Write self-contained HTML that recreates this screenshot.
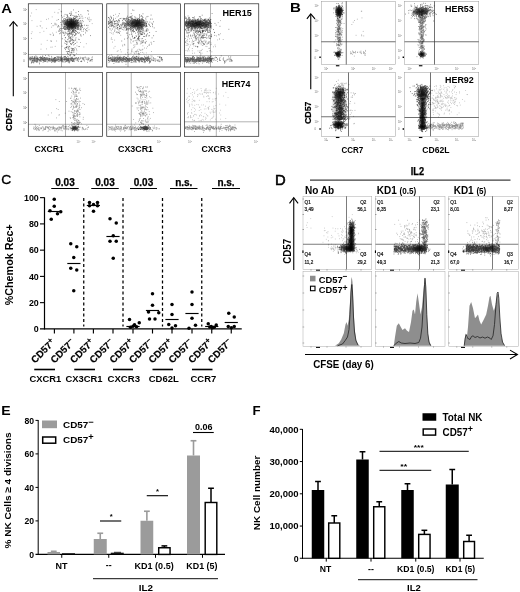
<!DOCTYPE html>
<html><head><meta charset="utf-8"><title>Figure</title>
<style>html,body{margin:0;padding:0;background:#fff}svg{display:block}text{font-family:"Liberation Sans",Arial,sans-serif}</style>
</head><body>
<svg width="520" height="592" viewBox="0 0 520 592">
<rect width="520" height="592" fill="#fff"/>
<text x="1.2" y="13.1" font-size="13.4" font-weight="bold" text-anchor="start" fill="#000" textLength="10.6" lengthAdjust="spacingAndGlyphs" >A</text>
<line x1="13.3" y1="96.3" x2="13.3" y2="22" stroke="#000" stroke-width="1.1" />
<path d="M9.5 26.4L13.3 21.5L17.5 26.4" fill="none" stroke="#000" stroke-width="1.1"/>
<text x="12.2" y="119.5" font-size="9.2" font-weight="bold" text-anchor="middle" fill="#000" textLength="23" lengthAdjust="spacingAndGlyphs" transform="rotate(-90 12.2 119.5)" stroke="#000" stroke-width="0.2">CD57</text>
<line x1="61.5" y1="3.8" x2="61.5" y2="67" stroke="#666" stroke-width="0.5" />
<line x1="28.3" y1="54.5" x2="102.5" y2="54.5" stroke="#666" stroke-width="0.5" />
<rect x="28.3" y="3.8" width="74.2" height="63.2" fill="none" stroke="#222" stroke-width="0.7"/>
<line x1="128" y1="3.8" x2="128" y2="67" stroke="#666" stroke-width="0.5" />
<line x1="106.75" y1="54.5" x2="180.6" y2="54.5" stroke="#666" stroke-width="0.5" />
<rect x="106.75" y="3.8" width="73.85" height="63.2" fill="none" stroke="#222" stroke-width="0.7"/>
<line x1="210.5" y1="3.8" x2="210.5" y2="67" stroke="#666" stroke-width="0.5" />
<line x1="184.5" y1="55.5" x2="258.75" y2="55.5" stroke="#666" stroke-width="0.5" />
<rect x="184.5" y="3.8" width="74.25" height="63.2" fill="none" stroke="#222" stroke-width="0.7"/>
<line x1="65.5" y1="72.5" x2="65.5" y2="136.3" stroke="#666" stroke-width="0.5" />
<line x1="28.3" y1="124.3" x2="102.5" y2="124.3" stroke="#666" stroke-width="0.5" />
<rect x="28.3" y="72.5" width="74.2" height="63.80000000000001" fill="none" stroke="#222" stroke-width="0.7"/>
<line x1="131.25" y1="72.5" x2="131.25" y2="136.3" stroke="#666" stroke-width="0.5" />
<line x1="106.75" y1="124.25" x2="180.6" y2="124.25" stroke="#666" stroke-width="0.5" />
<rect x="106.75" y="72.5" width="73.85" height="63.80000000000001" fill="none" stroke="#222" stroke-width="0.7"/>
<line x1="216.3" y1="72.5" x2="216.3" y2="136.3" stroke="#666" stroke-width="0.5" />
<line x1="184.5" y1="121.8" x2="258.75" y2="121.8" stroke="#666" stroke-width="0.5" />
<rect x="184.5" y="72.5" width="74.25" height="63.80000000000001" fill="none" stroke="#222" stroke-width="0.7"/>
<text x="222.5" y="15.7" font-size="9.8" font-weight="bold" text-anchor="start" fill="#000" textLength="29.3" lengthAdjust="spacingAndGlyphs" >HER15</text>
<text x="221.8" y="86.5" font-size="9.8" font-weight="bold" text-anchor="start" fill="#000" textLength="28.7" lengthAdjust="spacingAndGlyphs" >HER74</text>
<text x="34.5" y="152" font-size="9.3" font-weight="bold" text-anchor="start" fill="#000" textLength="29.3" lengthAdjust="spacingAndGlyphs" >CXCR1</text>
<text x="118" y="152" font-size="9.3" font-weight="bold" text-anchor="start" fill="#000" textLength="35" lengthAdjust="spacingAndGlyphs" >CX3CR1</text>
<text x="201.5" y="152" font-size="9.3" font-weight="bold" text-anchor="start" fill="#000" textLength="29.5" lengthAdjust="spacingAndGlyphs" >CXCR3</text>
<text x="289.9" y="12.2" font-size="13.6" font-weight="bold" text-anchor="start" fill="#000" textLength="10.9" lengthAdjust="spacingAndGlyphs" >B</text>
<line x1="310.75" y1="89.25" x2="310.75" y2="14.4" stroke="#000" stroke-width="1.1" />
<path d="M306.9 18.9L310.75 13.9L315 18.9" fill="none" stroke="#000" stroke-width="1.1"/>
<text x="311.4" y="112.75" font-size="9.2" font-weight="bold" text-anchor="middle" fill="#000" textLength="22.6" lengthAdjust="spacingAndGlyphs" transform="rotate(-90 311.4 112.75)" stroke="#000" stroke-width="0.2">CD57</text>
<rect x="321.25" y="1.25" width="74.25" height="63.25" fill="none" stroke="#999" stroke-width="0.5"/>
<line x1="346.25" y1="1.25" x2="346.25" y2="64.5" stroke="#333" stroke-width="0.7" />
<line x1="321.25" y1="41.75" x2="395.5" y2="41.75" stroke="#333" stroke-width="0.7" />
<rect x="404.5" y="1.25" width="74.25" height="63.25" fill="none" stroke="#999" stroke-width="0.5"/>
<line x1="434.5" y1="1.25" x2="434.5" y2="64.5" stroke="#333" stroke-width="0.7" />
<line x1="404.5" y1="41.75" x2="478.75" y2="41.75" stroke="#333" stroke-width="0.7" />
<rect x="321.25" y="72.5" width="74.25" height="63.75" fill="none" stroke="#999" stroke-width="0.5"/>
<line x1="348.5" y1="72.5" x2="348.5" y2="136.25" stroke="#333" stroke-width="0.7" />
<line x1="321.25" y1="116.75" x2="395.5" y2="116.75" stroke="#333" stroke-width="0.7" />
<rect x="404.5" y="72.5" width="74.25" height="63.75" fill="none" stroke="#999" stroke-width="0.5"/>
<line x1="430.5" y1="72.5" x2="430.5" y2="136.25" stroke="#333" stroke-width="0.7" />
<line x1="404.5" y1="117.5" x2="478.75" y2="117.5" stroke="#333" stroke-width="0.7" />
<rect x="335.90000000000003" y="65.2" width="3.5" height="1.1" fill="#000" stroke="none" stroke-width="0"/>
<rect x="319.35" y="56.5" width="1.4" height="1.5" fill="#000" stroke="none" stroke-width="0"/>
<text x="314.6" y="7.2" font-size="2.6" fill="#666" font-weight="normal">10<tspan dy="-0.9" font-size="1.8">5</tspan></text>
<text x="314.6" y="21.8" font-size="2.6" fill="#666" font-weight="normal">10<tspan dy="-0.9" font-size="1.8">4</tspan></text>
<text x="314.6" y="36.8" font-size="2.6" fill="#666" font-weight="normal">10<tspan dy="-0.9" font-size="1.8">3</tspan></text>
<text x="314.6" y="51.8" font-size="2.6" fill="#666" font-weight="normal">10<tspan dy="-0.9" font-size="1.8">2</tspan></text>
<text x="314.6" y="58.9" font-size="2.6" fill="#666" font-weight="normal">0<tspan dy="-0.9" font-size="1.8"></tspan></text>
<text x="324.2" y="69.7" font-size="2.6" fill="#666" font-weight="normal">10<tspan dy="-0.9" font-size="1.8">2</tspan></text>
<text x="351.2" y="69.7" font-size="2.6" fill="#666" font-weight="normal">10<tspan dy="-0.9" font-size="1.8">3</tspan></text>
<text x="371.8" y="69.7" font-size="2.6" fill="#666" font-weight="normal">10<tspan dy="-0.9" font-size="1.8">4</tspan></text>
<text x="388.8" y="69.7" font-size="2.6" fill="#666" font-weight="normal">10<tspan dy="-0.9" font-size="1.8">5</tspan></text>
<rect x="418.90000000000003" y="65.2" width="3.5" height="1.1" fill="#000" stroke="none" stroke-width="0"/>
<rect x="402.6" y="56.5" width="1.4" height="1.5" fill="#000" stroke="none" stroke-width="0"/>
<text x="397.9" y="7.2" font-size="2.6" fill="#666" font-weight="normal">10<tspan dy="-0.9" font-size="1.8">5</tspan></text>
<text x="397.9" y="21.8" font-size="2.6" fill="#666" font-weight="normal">10<tspan dy="-0.9" font-size="1.8">4</tspan></text>
<text x="397.9" y="36.8" font-size="2.6" fill="#666" font-weight="normal">10<tspan dy="-0.9" font-size="1.8">3</tspan></text>
<text x="397.9" y="51.8" font-size="2.6" fill="#666" font-weight="normal">10<tspan dy="-0.9" font-size="1.8">2</tspan></text>
<text x="397.9" y="58.9" font-size="2.6" fill="#666" font-weight="normal">0<tspan dy="-0.9" font-size="1.8"></tspan></text>
<text x="407.5" y="69.7" font-size="2.6" fill="#666" font-weight="normal">10<tspan dy="-0.9" font-size="1.8">2</tspan></text>
<text x="434.5" y="69.7" font-size="2.6" fill="#666" font-weight="normal">10<tspan dy="-0.9" font-size="1.8">3</tspan></text>
<text x="455.0" y="69.7" font-size="2.6" fill="#666" font-weight="normal">10<tspan dy="-0.9" font-size="1.8">4</tspan></text>
<text x="472.0" y="69.7" font-size="2.6" fill="#666" font-weight="normal">10<tspan dy="-0.9" font-size="1.8">5</tspan></text>
<rect x="335.90000000000003" y="136.95" width="3.5" height="1.1" fill="#000" stroke="none" stroke-width="0"/>
<rect x="319.35" y="128.25" width="1.4" height="1.5" fill="#000" stroke="none" stroke-width="0"/>
<text x="314.6" y="78.5" font-size="2.6" fill="#666" font-weight="normal">10<tspan dy="-0.9" font-size="1.8">5</tspan></text>
<text x="314.6" y="93.0" font-size="2.6" fill="#666" font-weight="normal">10<tspan dy="-0.9" font-size="1.8">4</tspan></text>
<text x="314.6" y="108.0" font-size="2.6" fill="#666" font-weight="normal">10<tspan dy="-0.9" font-size="1.8">3</tspan></text>
<text x="314.6" y="123.0" font-size="2.6" fill="#666" font-weight="normal">10<tspan dy="-0.9" font-size="1.8">2</tspan></text>
<text x="314.6" y="130.1" font-size="2.6" fill="#666" font-weight="normal">0<tspan dy="-0.9" font-size="1.8"></tspan></text>
<text x="324.2" y="141.4" font-size="2.6" fill="#666" font-weight="normal">10<tspan dy="-0.9" font-size="1.8">2</tspan></text>
<text x="351.2" y="141.4" font-size="2.6" fill="#666" font-weight="normal">10<tspan dy="-0.9" font-size="1.8">3</tspan></text>
<text x="371.8" y="141.4" font-size="2.6" fill="#666" font-weight="normal">10<tspan dy="-0.9" font-size="1.8">4</tspan></text>
<text x="388.8" y="141.4" font-size="2.6" fill="#666" font-weight="normal">10<tspan dy="-0.9" font-size="1.8">5</tspan></text>
<rect x="418.90000000000003" y="136.95" width="3.5" height="1.1" fill="#000" stroke="none" stroke-width="0"/>
<rect x="402.6" y="128.25" width="1.4" height="1.5" fill="#000" stroke="none" stroke-width="0"/>
<text x="397.9" y="78.5" font-size="2.6" fill="#666" font-weight="normal">10<tspan dy="-0.9" font-size="1.8">5</tspan></text>
<text x="397.9" y="93.0" font-size="2.6" fill="#666" font-weight="normal">10<tspan dy="-0.9" font-size="1.8">4</tspan></text>
<text x="397.9" y="108.0" font-size="2.6" fill="#666" font-weight="normal">10<tspan dy="-0.9" font-size="1.8">3</tspan></text>
<text x="397.9" y="123.0" font-size="2.6" fill="#666" font-weight="normal">10<tspan dy="-0.9" font-size="1.8">2</tspan></text>
<text x="397.9" y="130.1" font-size="2.6" fill="#666" font-weight="normal">0<tspan dy="-0.9" font-size="1.8"></tspan></text>
<text x="407.5" y="141.4" font-size="2.6" fill="#666" font-weight="normal">10<tspan dy="-0.9" font-size="1.8">2</tspan></text>
<text x="434.5" y="141.4" font-size="2.6" fill="#666" font-weight="normal">10<tspan dy="-0.9" font-size="1.8">3</tspan></text>
<text x="455.0" y="141.4" font-size="2.6" fill="#666" font-weight="normal">10<tspan dy="-0.9" font-size="1.8">4</tspan></text>
<text x="472.0" y="141.4" font-size="2.6" fill="#666" font-weight="normal">10<tspan dy="-0.9" font-size="1.8">5</tspan></text>
<text x="445" y="11.8" font-size="9.8" font-weight="bold" text-anchor="start" fill="#000" textLength="28.75" lengthAdjust="spacingAndGlyphs" >HER53</text>
<text x="445" y="83.3" font-size="9.8" font-weight="bold" text-anchor="start" fill="#000" textLength="28.75" lengthAdjust="spacingAndGlyphs" >HER92</text>
<text x="341.5" y="153.2" font-size="9.3" font-weight="bold" text-anchor="start" fill="#000" textLength="21.8" lengthAdjust="spacingAndGlyphs" >CCR7</text>
<text x="422.3" y="153.2" font-size="9.3" font-weight="bold" text-anchor="start" fill="#000" textLength="27.2" lengthAdjust="spacingAndGlyphs" >CD62L</text>
<text x="1.25" y="184" font-size="13.5" font-weight="normal" text-anchor="start" fill="#000" textLength="10" lengthAdjust="spacingAndGlyphs" stroke="#000" stroke-width="0.35">C</text>
<line x1="44.5" y1="197.4" x2="44.5" y2="329.5" stroke="#000" stroke-width="1.2" />
<line x1="40" y1="328.9" x2="241.75" y2="328.9" stroke="#000" stroke-width="1.2" />
<line x1="40" y1="302.65" x2="44.6" y2="302.65" stroke="#000" stroke-width="1.1" />
<line x1="40" y1="276.4" x2="44.6" y2="276.4" stroke="#000" stroke-width="1.1" />
<line x1="40" y1="250.14999999999998" x2="44.6" y2="250.14999999999998" stroke="#000" stroke-width="1.1" />
<line x1="40" y1="223.89999999999998" x2="44.6" y2="223.89999999999998" stroke="#000" stroke-width="1.1" />
<line x1="40" y1="197.64999999999998" x2="44.6" y2="197.64999999999998" stroke="#000" stroke-width="1.1" />
<text x="38.8" y="332.09999999999997" font-size="8.9" font-weight="bold" text-anchor="end" fill="#000" >0</text>
<text x="38.8" y="305.84999999999997" font-size="8.9" font-weight="bold" text-anchor="end" fill="#000" >20</text>
<text x="38.8" y="279.59999999999997" font-size="8.9" font-weight="bold" text-anchor="end" fill="#000" >40</text>
<text x="38.8" y="253.34999999999997" font-size="8.9" font-weight="bold" text-anchor="end" fill="#000" >60</text>
<text x="38.8" y="227.09999999999997" font-size="8.9" font-weight="bold" text-anchor="end" fill="#000" >80</text>
<text x="38.8" y="200.84999999999997" font-size="8.9" font-weight="bold" text-anchor="end" fill="#000" >100</text>
<text x="12.6" y="264.8" font-size="10.7" font-weight="bold" text-anchor="middle" fill="#000" textLength="81" lengthAdjust="spacingAndGlyphs" transform="rotate(-90 12.6 264.8)" >%Chemok Rec+</text>
<line x1="54.4" y1="328.9" x2="54.4" y2="333.5" stroke="#000" stroke-width="1.15" />
<line x1="73.9" y1="328.9" x2="73.9" y2="333.5" stroke="#000" stroke-width="1.15" />
<line x1="93.4" y1="328.9" x2="93.4" y2="333.5" stroke="#000" stroke-width="1.15" />
<line x1="113" y1="328.9" x2="113" y2="333.5" stroke="#000" stroke-width="1.15" />
<line x1="133" y1="328.9" x2="133" y2="333.5" stroke="#000" stroke-width="1.15" />
<line x1="152.5" y1="328.9" x2="152.5" y2="333.5" stroke="#000" stroke-width="1.15" />
<line x1="172" y1="328.9" x2="172" y2="333.5" stroke="#000" stroke-width="1.15" />
<line x1="192" y1="328.9" x2="192" y2="333.5" stroke="#000" stroke-width="1.15" />
<line x1="211.75" y1="328.9" x2="211.75" y2="333.5" stroke="#000" stroke-width="1.15" />
<line x1="231.25" y1="328.9" x2="231.25" y2="333.5" stroke="#000" stroke-width="1.15" />
<line x1="83.75" y1="198" x2="83.75" y2="326.5" stroke="#000" stroke-width="1.25" stroke-dasharray="3 2.5"/>
<line x1="123" y1="198" x2="123" y2="326.5" stroke="#000" stroke-width="1.25" stroke-dasharray="3 2.5"/>
<line x1="162.5" y1="198" x2="162.5" y2="326.5" stroke="#000" stroke-width="1.25" stroke-dasharray="3 2.5"/>
<line x1="201.75" y1="198" x2="201.75" y2="326.5" stroke="#000" stroke-width="1.25" stroke-dasharray="3 2.5"/>
<line x1="51.25" y1="188.5" x2="78.75" y2="188.5" stroke="#000" stroke-width="1.05" />
<text x="65.0" y="185.75" font-size="10" font-weight="bold" text-anchor="middle" fill="#000" stroke="#000" stroke-width="0.25">0.03</text>
<line x1="91.25" y1="188.5" x2="118.75" y2="188.5" stroke="#000" stroke-width="1.05" />
<text x="105.0" y="185.75" font-size="10" font-weight="bold" text-anchor="middle" fill="#000" stroke="#000" stroke-width="0.25">0.03</text>
<line x1="130" y1="188.5" x2="157" y2="188.5" stroke="#000" stroke-width="1.05" />
<text x="143.5" y="185.75" font-size="10" font-weight="bold" text-anchor="middle" fill="#000" stroke="#000" stroke-width="0.25">0.03</text>
<line x1="170" y1="188.5" x2="197.5" y2="188.5" stroke="#000" stroke-width="1.05" />
<text x="183.75" y="185.75" font-size="10" font-weight="bold" text-anchor="middle" fill="#000" stroke="#000" stroke-width="0.25">n.s.</text>
<line x1="212" y1="188.5" x2="240" y2="188.5" stroke="#000" stroke-width="1.05" />
<text x="226.0" y="185.75" font-size="10" font-weight="bold" text-anchor="middle" fill="#000" stroke="#000" stroke-width="0.25">n.s.</text>
<circle cx="54.25" cy="199.25" r="1.75"/>
<circle cx="54.25" cy="206.25" r="1.75"/>
<circle cx="50" cy="210.75" r="1.75"/>
<circle cx="60.75" cy="211.75" r="1.75"/>
<circle cx="57.5" cy="213.75" r="1.75"/>
<circle cx="51.25" cy="219.25" r="1.75"/>
<line x1="47.8" y1="211.5" x2="61.0" y2="211.5" stroke="#000" stroke-width="1.15" />
<circle cx="70.75" cy="243.75" r="1.75"/>
<circle cx="76.75" cy="246.75" r="1.75"/>
<circle cx="73.75" cy="257.5" r="1.75"/>
<circle cx="70.75" cy="268.25" r="1.75"/>
<circle cx="76.75" cy="270" r="1.75"/>
<circle cx="73.75" cy="290.75" r="1.75"/>
<line x1="67.30000000000001" y1="263.5" x2="80.5" y2="263.5" stroke="#000" stroke-width="1.15" />
<circle cx="89.5" cy="202.5" r="1.75"/>
<circle cx="97.5" cy="202.5" r="1.75"/>
<circle cx="89.5" cy="205.75" r="1.75"/>
<circle cx="97.5" cy="205.75" r="1.75"/>
<circle cx="93.5" cy="204.5" r="1.75"/>
<circle cx="93.5" cy="211.25" r="1.75"/>
<line x1="86.80000000000001" y1="205.5" x2="100.0" y2="205.5" stroke="#000" stroke-width="1.15" />
<circle cx="110" cy="218.75" r="1.75"/>
<circle cx="116.25" cy="223" r="1.75"/>
<circle cx="113.25" cy="235.75" r="1.75"/>
<circle cx="110" cy="241.25" r="1.75"/>
<circle cx="116.25" cy="241.25" r="1.75"/>
<circle cx="113.25" cy="258.25" r="1.75"/>
<line x1="106.4" y1="236.5" x2="119.6" y2="236.5" stroke="#000" stroke-width="1.15" />
<circle cx="129.5" cy="319.5" r="1.75"/>
<circle cx="139.25" cy="322.75" r="1.75"/>
<circle cx="133" cy="326.3" r="1.75"/>
<circle cx="136.5" cy="326.8" r="1.75"/>
<circle cx="130.5" cy="327.3" r="1.75"/>
<circle cx="134.5" cy="324.8" r="1.75"/>
<line x1="126.4" y1="326.5" x2="139.6" y2="326.5" stroke="#000" stroke-width="1.15" />
<circle cx="152.5" cy="293.75" r="1.75"/>
<circle cx="152.5" cy="305.25" r="1.75"/>
<circle cx="158.75" cy="312.75" r="1.75"/>
<circle cx="149.5" cy="319" r="1.75"/>
<circle cx="155" cy="319" r="1.75"/>
<circle cx="148.5" cy="312" r="1.75"/>
<line x1="145.9" y1="310.5" x2="159.1" y2="310.5" stroke="#000" stroke-width="1.15" />
<circle cx="172" cy="304.5" r="1.75"/>
<circle cx="172" cy="314.5" r="1.75"/>
<circle cx="168.75" cy="324.5" r="1.75"/>
<circle cx="175.5" cy="325.75" r="1.75"/>
<circle cx="172" cy="328" r="1.75"/>
<line x1="165.4" y1="319.5" x2="178.6" y2="319.5" stroke="#000" stroke-width="1.15" />
<circle cx="192" cy="292" r="1.75"/>
<circle cx="192" cy="304.5" r="1.75"/>
<circle cx="192" cy="318.25" r="1.75"/>
<circle cx="195.5" cy="325.25" r="1.75"/>
<circle cx="189" cy="328.25" r="1.75"/>
<line x1="185.4" y1="313.5" x2="198.6" y2="313.5" stroke="#000" stroke-width="1.15" />
<circle cx="208.25" cy="323.75" r="1.75"/>
<circle cx="216.25" cy="325" r="1.75"/>
<circle cx="211.25" cy="326.5" r="1.75"/>
<circle cx="212.5" cy="327.7" r="1.75"/>
<circle cx="209.8" cy="327" r="1.75"/>
<circle cx="214.2" cy="327.3" r="1.75"/>
<line x1="205.15" y1="326.5" x2="218.35" y2="326.5" stroke="#000" stroke-width="1.15" />
<circle cx="228.75" cy="313.25" r="1.75"/>
<circle cx="234.25" cy="317" r="1.75"/>
<circle cx="228.25" cy="326.5" r="1.75"/>
<circle cx="234.25" cy="326.5" r="1.75"/>
<circle cx="231.3" cy="327.8" r="1.75"/>
<line x1="224.65" y1="322.5" x2="237.85" y2="322.5" stroke="#000" stroke-width="1.15" />
<text x="55.8" y="342.9" font-size="9.7" font-weight="bold" stroke="#000" stroke-width="0.15" text-anchor="end" transform="rotate(-45 55.8 342.9)">CD57<tspan dy="-3" font-size="8">+</tspan></text>
<text x="75.30000000000001" y="342.9" font-size="9.7" font-weight="bold" stroke="#000" stroke-width="0.15" text-anchor="end" transform="rotate(-45 75.30000000000001 342.9)">CD57<tspan dy="-3" font-size="8">−</tspan></text>
<text x="94.80000000000001" y="342.9" font-size="9.7" font-weight="bold" stroke="#000" stroke-width="0.15" text-anchor="end" transform="rotate(-45 94.80000000000001 342.9)">CD57<tspan dy="-3" font-size="8">+</tspan></text>
<text x="114.4" y="342.9" font-size="9.7" font-weight="bold" stroke="#000" stroke-width="0.15" text-anchor="end" transform="rotate(-45 114.4 342.9)">CD57<tspan dy="-3" font-size="8">−</tspan></text>
<text x="134.4" y="342.9" font-size="9.7" font-weight="bold" stroke="#000" stroke-width="0.15" text-anchor="end" transform="rotate(-45 134.4 342.9)">CD57<tspan dy="-3" font-size="8">+</tspan></text>
<text x="153.9" y="342.9" font-size="9.7" font-weight="bold" stroke="#000" stroke-width="0.15" text-anchor="end" transform="rotate(-45 153.9 342.9)">CD57<tspan dy="-3" font-size="8">−</tspan></text>
<text x="173.4" y="342.9" font-size="9.7" font-weight="bold" stroke="#000" stroke-width="0.15" text-anchor="end" transform="rotate(-45 173.4 342.9)">CD57<tspan dy="-3" font-size="8">+</tspan></text>
<text x="193.4" y="342.9" font-size="9.7" font-weight="bold" stroke="#000" stroke-width="0.15" text-anchor="end" transform="rotate(-45 193.4 342.9)">CD57<tspan dy="-3" font-size="8">−</tspan></text>
<text x="213.15" y="342.9" font-size="9.7" font-weight="bold" stroke="#000" stroke-width="0.15" text-anchor="end" transform="rotate(-45 213.15 342.9)">CD57<tspan dy="-3" font-size="8">+</tspan></text>
<text x="232.65" y="342.9" font-size="9.7" font-weight="bold" stroke="#000" stroke-width="0.15" text-anchor="end" transform="rotate(-45 232.65 342.9)">CD57<tspan dy="-3" font-size="8">−</tspan></text>
<line x1="34.25" y1="369.5" x2="55" y2="369.5" stroke="#000" stroke-width="1.6" />
<text x="29.5" y="382.3" font-size="9.7" font-weight="bold" text-anchor="start" fill="#000" textLength="31.75" lengthAdjust="spacingAndGlyphs" >CXCR1</text>
<line x1="74.25" y1="369.5" x2="95" y2="369.5" stroke="#000" stroke-width="1.6" />
<text x="65.5" y="382.3" font-size="9.7" font-weight="bold" text-anchor="start" fill="#000" textLength="37.0" lengthAdjust="spacingAndGlyphs" >CX3CR1</text>
<line x1="113" y1="369.5" x2="133" y2="369.5" stroke="#000" stroke-width="1.6" />
<text x="107.5" y="382.3" font-size="9.7" font-weight="bold" text-anchor="start" fill="#000" textLength="32.5" lengthAdjust="spacingAndGlyphs" >CXCR3</text>
<line x1="152.5" y1="369.5" x2="173" y2="369.5" stroke="#000" stroke-width="1.6" />
<text x="148.75" y="382.3" font-size="9.7" font-weight="bold" text-anchor="start" fill="#000" textLength="30.0" lengthAdjust="spacingAndGlyphs" >CD62L</text>
<line x1="192" y1="369.5" x2="212.5" y2="369.5" stroke="#000" stroke-width="1.6" />
<text x="190.5" y="382.3" font-size="9.7" font-weight="bold" text-anchor="start" fill="#000" textLength="25.75" lengthAdjust="spacingAndGlyphs" >CCR7</text>
<text x="275" y="185" font-size="14.4" font-weight="normal" text-anchor="start" fill="#000" textLength="10.7" lengthAdjust="spacingAndGlyphs" stroke="#000" stroke-width="0.55">D</text>
<text x="410.8" y="175.1" font-size="10.4" font-weight="bold" text-anchor="start" fill="#000" textLength="13.4" lengthAdjust="spacingAndGlyphs" stroke="#000" stroke-width="0.25">IL2</text>
<line x1="310" y1="180.1" x2="510.5" y2="180.1" stroke="#000" stroke-width="0.95" />
<text x="305" y="193.75" font-size="10.6" font-weight="bold" text-anchor="start" fill="#000" textLength="29.25" lengthAdjust="spacingAndGlyphs" >No Ab</text>
<text x="376.75" y="193.75" font-size="10.4" font-weight="bold" textLength="39.5" lengthAdjust="spacingAndGlyphs">KD1 <tspan font-size="8.4">(0.5)</tspan></text>
<text x="453.75" y="193.75" font-size="10.4" font-weight="bold" textLength="32.5" lengthAdjust="spacingAndGlyphs">KD1 <tspan font-size="8.4">(5)</tspan></text>
<line x1="293.75" y1="270" x2="293.75" y2="198.2" stroke="#000" stroke-width="1.1" />
<path d="M289.5 203.3L293.75 197.7L298.1 203.3" fill="none" stroke="#000" stroke-width="1.1"/>
<text x="291.25" y="251.25" font-size="10" font-weight="bold" text-anchor="middle" fill="#000" textLength="25" lengthAdjust="spacingAndGlyphs" transform="rotate(-90 291.25 251.25)" >CD57</text>
<rect x="303" y="196.25" width="68.75" height="73" fill="none" stroke="#aaa" stroke-width="0.5"/>
<line x1="346.5" y1="196.25" x2="346.5" y2="269.25" stroke="#444" stroke-width="0.7" />
<line x1="303" y1="244.25" x2="371.75" y2="244.25" stroke="#444" stroke-width="0.7" />
<rect x="303" y="271.6" width="68.75" height="74.9" fill="none" stroke="#aaa" stroke-width="0.5"/>
<rect x="375.5" y="196.25" width="69.5" height="73" fill="none" stroke="#aaa" stroke-width="0.5"/>
<line x1="419.5" y1="196.25" x2="419.5" y2="269.25" stroke="#444" stroke-width="0.7" />
<line x1="375.5" y1="244.25" x2="445" y2="244.25" stroke="#444" stroke-width="0.7" />
<rect x="375.5" y="271.6" width="69.5" height="74.9" fill="none" stroke="#aaa" stroke-width="0.5"/>
<rect x="448.75" y="196.25" width="69.5" height="73" fill="none" stroke="#aaa" stroke-width="0.5"/>
<line x1="492.5" y1="196.25" x2="492.5" y2="269.25" stroke="#444" stroke-width="0.7" />
<line x1="448.75" y1="244.25" x2="518.25" y2="244.25" stroke="#444" stroke-width="0.7" />
<rect x="448.75" y="271.6" width="69.5" height="74.9" fill="none" stroke="#aaa" stroke-width="0.5"/>
<rect x="316" y="269.7" width="4" height="1.0" fill="#000" stroke="none" stroke-width="0"/>
<rect x="302.4" y="250.4" width="1.1" height="2.6" fill="#000" stroke="none" stroke-width="0"/>
<rect x="316" y="346.9" width="4" height="1.0" fill="#000" stroke="none" stroke-width="0"/>
<line x1="302.5" y1="199" x2="304" y2="199" stroke="#555" stroke-width="0.5" />
<line x1="302.5" y1="214.5" x2="304" y2="214.5" stroke="#555" stroke-width="0.5" />
<line x1="302.5" y1="229.5" x2="304" y2="229.5" stroke="#555" stroke-width="0.5" />
<line x1="302.6" y1="276" x2="304.2" y2="276" stroke="#666" stroke-width="0.5" />
<line x1="302.6" y1="293" x2="304.2" y2="293" stroke="#666" stroke-width="0.5" />
<line x1="302.6" y1="310" x2="304.2" y2="310" stroke="#666" stroke-width="0.5" />
<line x1="302.6" y1="327" x2="304.2" y2="327" stroke="#666" stroke-width="0.5" />
<line x1="302.6" y1="343" x2="304.2" y2="343" stroke="#666" stroke-width="0.5" />
<line x1="311" y1="269.3" x2="311" y2="270.6" stroke="#555" stroke-width="0.5" />
<line x1="311" y1="346.4" x2="311" y2="347.6" stroke="#666" stroke-width="0.5" />
<line x1="327" y1="269.3" x2="327" y2="270.6" stroke="#555" stroke-width="0.5" />
<line x1="327" y1="346.4" x2="327" y2="347.6" stroke="#666" stroke-width="0.5" />
<line x1="346" y1="269.3" x2="346" y2="270.6" stroke="#555" stroke-width="0.5" />
<line x1="346" y1="346.4" x2="346" y2="347.6" stroke="#666" stroke-width="0.5" />
<line x1="361" y1="269.3" x2="361" y2="270.6" stroke="#555" stroke-width="0.5" />
<line x1="361" y1="346.4" x2="361" y2="347.6" stroke="#666" stroke-width="0.5" />
<rect x="390" y="269.7" width="4" height="1.0" fill="#000" stroke="none" stroke-width="0"/>
<rect x="374.9" y="250.4" width="1.1" height="2.6" fill="#000" stroke="none" stroke-width="0"/>
<rect x="390" y="346.9" width="4" height="1.0" fill="#000" stroke="none" stroke-width="0"/>
<line x1="375.0" y1="199" x2="376.5" y2="199" stroke="#555" stroke-width="0.5" />
<line x1="375.0" y1="214.5" x2="376.5" y2="214.5" stroke="#555" stroke-width="0.5" />
<line x1="375.0" y1="229.5" x2="376.5" y2="229.5" stroke="#555" stroke-width="0.5" />
<line x1="375.1" y1="276" x2="376.7" y2="276" stroke="#666" stroke-width="0.5" />
<line x1="375.1" y1="293" x2="376.7" y2="293" stroke="#666" stroke-width="0.5" />
<line x1="375.1" y1="310" x2="376.7" y2="310" stroke="#666" stroke-width="0.5" />
<line x1="375.1" y1="327" x2="376.7" y2="327" stroke="#666" stroke-width="0.5" />
<line x1="375.1" y1="343" x2="376.7" y2="343" stroke="#666" stroke-width="0.5" />
<line x1="383.5" y1="269.3" x2="383.5" y2="270.6" stroke="#555" stroke-width="0.5" />
<line x1="383.5" y1="346.4" x2="383.5" y2="347.6" stroke="#666" stroke-width="0.5" />
<line x1="399.5" y1="269.3" x2="399.5" y2="270.6" stroke="#555" stroke-width="0.5" />
<line x1="399.5" y1="346.4" x2="399.5" y2="347.6" stroke="#666" stroke-width="0.5" />
<line x1="418.5" y1="269.3" x2="418.5" y2="270.6" stroke="#555" stroke-width="0.5" />
<line x1="418.5" y1="346.4" x2="418.5" y2="347.6" stroke="#666" stroke-width="0.5" />
<line x1="433.5" y1="269.3" x2="433.5" y2="270.6" stroke="#555" stroke-width="0.5" />
<line x1="433.5" y1="346.4" x2="433.5" y2="347.6" stroke="#666" stroke-width="0.5" />
<rect x="461" y="269.7" width="4" height="1.0" fill="#000" stroke="none" stroke-width="0"/>
<rect x="448.15" y="250.4" width="1.1" height="2.6" fill="#000" stroke="none" stroke-width="0"/>
<rect x="461" y="346.9" width="4" height="1.0" fill="#000" stroke="none" stroke-width="0"/>
<line x1="448.25" y1="199" x2="449.75" y2="199" stroke="#555" stroke-width="0.5" />
<line x1="448.25" y1="214.5" x2="449.75" y2="214.5" stroke="#555" stroke-width="0.5" />
<line x1="448.25" y1="229.5" x2="449.75" y2="229.5" stroke="#555" stroke-width="0.5" />
<line x1="448.35" y1="276" x2="449.95" y2="276" stroke="#666" stroke-width="0.5" />
<line x1="448.35" y1="293" x2="449.95" y2="293" stroke="#666" stroke-width="0.5" />
<line x1="448.35" y1="310" x2="449.95" y2="310" stroke="#666" stroke-width="0.5" />
<line x1="448.35" y1="327" x2="449.95" y2="327" stroke="#666" stroke-width="0.5" />
<line x1="448.35" y1="343" x2="449.95" y2="343" stroke="#666" stroke-width="0.5" />
<line x1="456.75" y1="269.3" x2="456.75" y2="270.6" stroke="#555" stroke-width="0.5" />
<line x1="456.75" y1="346.4" x2="456.75" y2="347.6" stroke="#666" stroke-width="0.5" />
<line x1="472.75" y1="269.3" x2="472.75" y2="270.6" stroke="#555" stroke-width="0.5" />
<line x1="472.75" y1="346.4" x2="472.75" y2="347.6" stroke="#666" stroke-width="0.5" />
<line x1="491.75" y1="269.3" x2="491.75" y2="270.6" stroke="#555" stroke-width="0.5" />
<line x1="491.75" y1="346.4" x2="491.75" y2="347.6" stroke="#666" stroke-width="0.5" />
<line x1="506.75" y1="269.3" x2="506.75" y2="270.6" stroke="#555" stroke-width="0.5" />
<line x1="506.75" y1="346.4" x2="506.75" y2="347.6" stroke="#666" stroke-width="0.5" />
<text x="304.6" y="203.5" font-size="4.6" font-weight="normal" text-anchor="start" fill="#111" stroke="#111" stroke-width="0.2">Q1</text>
<text x="304.6" y="210.7" font-size="4.6" font-weight="normal" text-anchor="start" fill="#111" stroke="#111" stroke-width="0.2">3,49</text>
<text x="366.35" y="203.5" font-size="4.6" font-weight="normal" text-anchor="end" fill="#111" stroke="#111" stroke-width="0.2">Q2</text>
<text x="366.35" y="210.7" font-size="4.6" font-weight="normal" text-anchor="end" fill="#111" stroke="#111" stroke-width="0.2">56,1</text>
<text x="304.6" y="256.4" font-size="4.6" font-weight="normal" text-anchor="start" fill="#111" stroke="#111" stroke-width="0.2">Q4</text>
<text x="304.6" y="263.59999999999997" font-size="4.6" font-weight="normal" text-anchor="start" fill="#111" stroke="#111" stroke-width="0.2">11,2</text>
<text x="366.35" y="256.4" font-size="4.6" font-weight="normal" text-anchor="end" fill="#111" stroke="#111" stroke-width="0.2">Q3</text>
<text x="366.35" y="263.59999999999997" font-size="4.6" font-weight="normal" text-anchor="end" fill="#111" stroke="#111" stroke-width="0.2">29,2</text>
<text x="377.1" y="203.5" font-size="4.6" font-weight="normal" text-anchor="start" fill="#111" stroke="#111" stroke-width="0.2">Q1</text>
<text x="377.1" y="210.7" font-size="4.6" font-weight="normal" text-anchor="start" fill="#111" stroke="#111" stroke-width="0.2">6,35</text>
<text x="439.6" y="203.5" font-size="4.6" font-weight="normal" text-anchor="end" fill="#111" stroke="#111" stroke-width="0.2">Q2</text>
<text x="439.6" y="210.7" font-size="4.6" font-weight="normal" text-anchor="end" fill="#111" stroke="#111" stroke-width="0.2">23,1</text>
<text x="377.1" y="256.4" font-size="4.6" font-weight="normal" text-anchor="start" fill="#111" stroke="#111" stroke-width="0.2">Q4</text>
<text x="377.1" y="263.59999999999997" font-size="4.6" font-weight="normal" text-anchor="start" fill="#111" stroke="#111" stroke-width="0.2">49,3</text>
<text x="439.6" y="256.4" font-size="4.6" font-weight="normal" text-anchor="end" fill="#111" stroke="#111" stroke-width="0.2">Q3</text>
<text x="439.6" y="263.59999999999997" font-size="4.6" font-weight="normal" text-anchor="end" fill="#111" stroke="#111" stroke-width="0.2">21,3</text>
<text x="450.35" y="203.5" font-size="4.6" font-weight="normal" text-anchor="start" fill="#111" stroke="#111" stroke-width="0.2">Q1</text>
<text x="450.35" y="210.7" font-size="4.6" font-weight="normal" text-anchor="start" fill="#111" stroke="#111" stroke-width="0.2">8,01</text>
<text x="512.85" y="203.5" font-size="4.6" font-weight="normal" text-anchor="end" fill="#111" stroke="#111" stroke-width="0.2">Q2</text>
<text x="512.85" y="210.7" font-size="4.6" font-weight="normal" text-anchor="end" fill="#111" stroke="#111" stroke-width="0.2">8,27</text>
<text x="450.35" y="256.4" font-size="4.6" font-weight="normal" text-anchor="start" fill="#111" stroke="#111" stroke-width="0.2">Q4</text>
<text x="450.35" y="263.59999999999997" font-size="4.6" font-weight="normal" text-anchor="start" fill="#111" stroke="#111" stroke-width="0.2">67,0</text>
<text x="512.85" y="256.4" font-size="4.6" font-weight="normal" text-anchor="end" fill="#111" stroke="#111" stroke-width="0.2">Q3</text>
<text x="512.85" y="263.59999999999997" font-size="4.6" font-weight="normal" text-anchor="end" fill="#111" stroke="#111" stroke-width="0.2">16,7</text>
<rect x="310" y="275.75" width="5.5" height="5.6" fill="#8c8c8c" stroke="none" stroke-width="0"/>
<rect x="310.5" y="286.2" width="4.5" height="4.5" fill="#fff" stroke="#000" stroke-width="1.1"/>
<text x="318.75" y="282.7" font-size="9.8" font-weight="bold" textLength="28.7" lengthAdjust="spacingAndGlyphs">CD57<tspan dy="-3.4" font-size="8.5">−</tspan></text>
<text x="318.75" y="293.4" font-size="9.8" font-weight="bold" textLength="28.7" lengthAdjust="spacingAndGlyphs">CD57<tspan dy="-2.6" font-size="8.5">+</tspan></text>
<line x1="305" y1="354.5" x2="517" y2="354.5" stroke="#000" stroke-width="1.0" />
<path d="M510 350.1L517.5 354.5L510 359" fill="none" stroke="#000" stroke-width="1.05"/>
<text x="313.25" y="367.9" font-size="10.4" font-weight="bold" text-anchor="start" fill="#000" textLength="60.5" lengthAdjust="spacingAndGlyphs" >CFSE (day 6)</text>
<path d="M335.0 345.8 L338.8 343.2 L341.2 339.5 L343.8 333.2 L345.5 324.5 L346.5 322.0 L347.5 325.8 L348.8 319.5 L350.0 302.0 L351.2 279.5 L351.8 277.0 L352.5 282.0 L353.5 307.0 L354.5 327.0 L356.0 339.5 L358.0 344.5 L360.0 345.8" fill="#8e8e8e" stroke="none" stroke-width="0" stroke-linejoin="round"/>
<path d="M337.5 345.8 L342.5 344.0 L345.0 340.8 L347.5 337.0 L349.0 329.5 L350.0 314.5 L351.0 292.0 L351.8 284.5 L352.5 292.0 L353.5 317.0 L354.5 332.0 L356.0 340.8 L358.0 345.0" fill="none" stroke="#222" stroke-width="0.8" stroke-linejoin="round"/>
<path d="M393.8 345.8 L395.0 337.0 L396.8 325.8 L398.8 323.2 L400.8 327.0 L402.5 330.0 L405.0 328.2 L407.0 330.8 L409.0 332.0 L411.0 322.0 L412.5 310.8 L413.8 309.5 L415.0 314.5 L416.2 302.0 L417.5 293.2 L418.8 302.0 L420.5 314.5 L422.0 307.0 L423.5 289.5 L425.0 277.0 L426.0 289.5 L427.0 317.0 L428.0 334.5 L429.5 342.5 L431.5 345.8" fill="#8e8e8e" stroke="none" stroke-width="0" stroke-linejoin="round"/>
<path d="M393.8 345.8 L396.2 343.2 L398.8 341.5 L401.2 343.0 L405.0 343.5 L410.0 343.0 L415.0 343.5 L418.8 342.5 L420.5 338.2 L422.0 327.0 L423.2 307.0 L424.5 284.5 L425.0 278.2 L425.8 287.0 L426.8 314.5 L427.8 333.2 L429.0 342.0 L430.5 345.5" fill="none" stroke="#222" stroke-width="0.8" stroke-linejoin="round"/>
<path d="M464.2 345.8 L465.0 337.0 L465.8 333.2 L466.8 338.2 L468.0 327.0 L469.5 305.8 L471.2 302.0 L473.0 308.2 L475.0 318.2 L476.5 316.5 L478.0 314.5 L479.5 320.8 L481.2 324.5 L483.8 319.5 L486.2 314.5 L488.0 305.8 L489.5 297.0 L490.5 295.8 L492.0 304.5 L493.8 310.8 L495.5 305.8 L497.0 295.8 L498.0 293.2 L499.0 302.0 L500.0 322.0 L501.2 335.8 L503.0 343.2 L505.0 345.8" fill="#8e8e8e" stroke="none" stroke-width="0" stroke-linejoin="round"/>
<path d="M464.2 345.8 L465.2 338.2 L466.2 334.5 L467.5 338.2 L470.0 339.5 L471.5 336.5 L473.0 335.8 L475.0 337.5 L477.5 336.5 L480.0 338.0 L482.5 337.0 L485.0 338.2 L487.5 337.0 L490.0 338.2 L491.2 339.5 L493.0 335.8 L494.5 324.5 L496.0 304.5 L497.2 293.2 L498.0 292.0 L498.8 298.2 L499.8 317.0 L501.0 333.2 L502.5 342.0 L504.5 345.5" fill="none" stroke="#222" stroke-width="0.8" stroke-linejoin="round"/>
<text x="1.2" y="415" font-size="13.4" font-weight="bold" text-anchor="start" fill="#000" textLength="9.4" lengthAdjust="spacingAndGlyphs" >E</text>
<line x1="38.2" y1="420" x2="38.2" y2="554.9" stroke="#000" stroke-width="1.0" />
<line x1="35.5" y1="554.4" x2="225" y2="554.4" stroke="#000" stroke-width="1.1" />
<line x1="35.5" y1="520.9" x2="38.2" y2="520.9" stroke="#000" stroke-width="1.0" />
<line x1="35.5" y1="487.4" x2="38.2" y2="487.4" stroke="#000" stroke-width="1.0" />
<line x1="35.5" y1="453.9" x2="38.2" y2="453.9" stroke="#000" stroke-width="1.0" />
<line x1="35.5" y1="420.4" x2="38.2" y2="420.4" stroke="#000" stroke-width="1.0" />
<text x="34" y="557.8" font-size="9.7" font-weight="bold" text-anchor="end" fill="#000" textLength="4.8" lengthAdjust="spacingAndGlyphs" >0</text>
<text x="34" y="524.3" font-size="9.7" font-weight="bold" text-anchor="end" fill="#000" textLength="9.6" lengthAdjust="spacingAndGlyphs" >20</text>
<text x="34" y="490.79999999999995" font-size="9.7" font-weight="bold" text-anchor="end" fill="#000" textLength="9.6" lengthAdjust="spacingAndGlyphs" >40</text>
<text x="34" y="457.29999999999995" font-size="9.7" font-weight="bold" text-anchor="end" fill="#000" textLength="9.6" lengthAdjust="spacingAndGlyphs" >60</text>
<text x="34" y="423.79999999999995" font-size="9.7" font-weight="bold" text-anchor="end" fill="#000" textLength="9.6" lengthAdjust="spacingAndGlyphs" >80</text>
<text x="11.4" y="490.5" font-size="9.2" font-weight="bold" text-anchor="middle" fill="#000" textLength="116" lengthAdjust="spacingAndGlyphs" transform="rotate(-90 11.4 490.5)" >% NK Cells ≥ 4 divisions</text>
<rect x="42" y="420.5" width="15" height="7.7" fill="#9b9b9b" stroke="none" stroke-width="0"/>
<rect x="42.7" y="437" width="13" height="6.2" fill="#fff" stroke="#000" stroke-width="1.5"/>
<text x="63" y="428.1" font-size="9.6" font-weight="bold" textLength="30.7" lengthAdjust="spacingAndGlyphs">CD57<tspan dy="-3.4" font-size="9">−</tspan></text>
<text x="63" y="443.4" font-size="9.6" font-weight="bold" textLength="30.7" lengthAdjust="spacingAndGlyphs">CD57<tspan dy="-3.2" font-size="9">+</tspan></text>
<line x1="53.75" y1="552" x2="53.75" y2="551.3" stroke="#9b9b9b" stroke-width="1.6" />
<line x1="50.85" y1="551.3" x2="56.65" y2="551.3" stroke="#9b9b9b" stroke-width="1.6" />
<rect x="47.5" y="552" width="12.5" height="2.3999999999999773" fill="#9b9b9b" stroke="none" stroke-width="0"/>
<line x1="62" y1="553.6" x2="75" y2="553.6" stroke="#000" stroke-width="0.8" />
<line x1="100.25" y1="539" x2="100.25" y2="533.25" stroke="#9b9b9b" stroke-width="1.6" />
<line x1="97.35" y1="533.25" x2="103.15" y2="533.25" stroke="#9b9b9b" stroke-width="1.6" />
<rect x="93.75" y="539" width="13.0" height="15.399999999999977" fill="#9b9b9b" stroke="none" stroke-width="0"/>
<line x1="110.75" y1="553.3" x2="123.75" y2="553.3" stroke="#000" stroke-width="1.2" />
<line x1="114" y1="552.3" x2="121" y2="552.3" stroke="#000" stroke-width="0.8" />
<line x1="146.875" y1="520.75" x2="146.875" y2="511.25" stroke="#9b9b9b" stroke-width="1.6" />
<line x1="143.975" y1="511.25" x2="149.775" y2="511.25" stroke="#9b9b9b" stroke-width="1.6" />
<rect x="140.5" y="520.75" width="12.75" height="33.64999999999998" fill="#9b9b9b" stroke="none" stroke-width="0"/>
<line x1="164.375" y1="547.75" x2="164.375" y2="545.9" stroke="#000" stroke-width="1.5" />
<line x1="161.475" y1="545.9" x2="167.275" y2="545.9" stroke="#000" stroke-width="1.5" />
<rect x="158.7" y="547.75" width="11.35" height="6.649999999999977" fill="#fff" stroke="#000" stroke-width="1.45"/>
<line x1="193.5" y1="455.5" x2="193.5" y2="440.75" stroke="#9b9b9b" stroke-width="1.6" />
<line x1="190.6" y1="440.75" x2="196.4" y2="440.75" stroke="#9b9b9b" stroke-width="1.6" />
<rect x="187" y="455.5" width="13" height="98.89999999999998" fill="#9b9b9b" stroke="none" stroke-width="0"/>
<line x1="211.0" y1="502.5" x2="211.0" y2="488.25" stroke="#000" stroke-width="1.5" />
<line x1="208.1" y1="488.25" x2="213.9" y2="488.25" stroke="#000" stroke-width="1.5" />
<rect x="205.2" y="502.5" width="11.6" height="51.89999999999998" fill="#fff" stroke="#000" stroke-width="1.45"/>
<line x1="61.75" y1="554.4" x2="61.75" y2="557.8" stroke="#000" stroke-width="1.0" />
<line x1="108.75" y1="554.4" x2="108.75" y2="557.8" stroke="#000" stroke-width="1.0" />
<line x1="155.5" y1="554.4" x2="155.5" y2="557.8" stroke="#000" stroke-width="1.0" />
<line x1="202.5" y1="554.4" x2="202.5" y2="557.8" stroke="#000" stroke-width="1.0" />
<text x="61.5" y="568.6" font-size="8.8" font-weight="bold" text-anchor="middle" fill="#000" textLength="12" lengthAdjust="spacingAndGlyphs" >NT</text>
<text x="108.75" y="568.3" font-size="8.8" font-weight="bold" text-anchor="middle" fill="#000" >--</text>
<text x="154.1" y="568.9" font-size="8.8" font-weight="bold" text-anchor="middle" fill="#000" textLength="39.2" lengthAdjust="spacingAndGlyphs" >KD1 (0.5)</text>
<text x="201.9" y="568.9" font-size="8.8" font-weight="bold" text-anchor="middle" fill="#000" textLength="31.2" lengthAdjust="spacingAndGlyphs" >KD1 (5)</text>
<line x1="93" y1="578.7" x2="218" y2="578.7" stroke="#000" stroke-width="0.95" />
<text x="145.9" y="590.7" font-size="9.3" font-weight="bold" text-anchor="middle" fill="#000" textLength="14.2" lengthAdjust="spacingAndGlyphs" >IL2</text>
<text x="111.25" y="518.7" font-size="7.6" font-weight="bold" text-anchor="middle" fill="#000" >*</text>
<line x1="100" y1="521" x2="121.25" y2="521" stroke="#000" stroke-width="1.1" />
<text x="157.5" y="493.5" font-size="7.6" font-weight="bold" text-anchor="middle" fill="#000" >*</text>
<line x1="146.75" y1="495.7" x2="168" y2="495.7" stroke="#000" stroke-width="1.1" />
<text x="203.75" y="430" font-size="8.8" font-weight="bold" text-anchor="middle" fill="#000" textLength="17.5" lengthAdjust="spacingAndGlyphs" >0.06</text>
<line x1="193" y1="432.5" x2="213.75" y2="432.5" stroke="#000" stroke-width="1.1" />
<text x="252.5" y="415" font-size="13.4" font-weight="bold" text-anchor="start" fill="#000" textLength="8.1" lengthAdjust="spacingAndGlyphs" >F</text>
<line x1="302.5" y1="429" x2="302.5" y2="558.8" stroke="#000" stroke-width="1.0" />
<line x1="299.8" y1="558.3" x2="483.75" y2="558.3" stroke="#000" stroke-width="1.1" />
<line x1="299.8" y1="526.05" x2="302.5" y2="526.05" stroke="#000" stroke-width="1.0" />
<line x1="299.8" y1="493.79999999999995" x2="302.5" y2="493.79999999999995" stroke="#000" stroke-width="1.0" />
<line x1="299.8" y1="461.54999999999995" x2="302.5" y2="461.54999999999995" stroke="#000" stroke-width="1.0" />
<line x1="299.8" y1="429.29999999999995" x2="302.5" y2="429.29999999999995" stroke="#000" stroke-width="1.0" />
<text x="298.6" y="529.3499999999999" font-size="9.6" font-weight="bold" text-anchor="end" fill="#000" textLength="29.2" lengthAdjust="spacingAndGlyphs" >10,000</text>
<text x="298.6" y="497.09999999999997" font-size="9.6" font-weight="bold" text-anchor="end" fill="#000" textLength="29.2" lengthAdjust="spacingAndGlyphs" >20,000</text>
<text x="298.6" y="464.84999999999997" font-size="9.6" font-weight="bold" text-anchor="end" fill="#000" textLength="29.2" lengthAdjust="spacingAndGlyphs" >30,000</text>
<text x="298.6" y="432.59999999999997" font-size="9.6" font-weight="bold" text-anchor="end" fill="#000" textLength="29.2" lengthAdjust="spacingAndGlyphs" >40,000</text>
<text x="298.6" y="561.5999999999999" font-size="9.6" font-weight="bold" text-anchor="end" fill="#000" textLength="4.9" lengthAdjust="spacingAndGlyphs" >0</text>
<text x="260.2" y="492.9" font-size="9.6" font-weight="bold" text-anchor="middle" fill="#000" textLength="74.5" lengthAdjust="spacingAndGlyphs" transform="rotate(-90 260.2 492.9)" >NK Cell number</text>
<line x1="318.0" y1="490" x2="318.0" y2="481.5" stroke="#000" stroke-width="1.5" />
<line x1="315.1" y1="481.5" x2="320.9" y2="481.5" stroke="#000" stroke-width="1.5" />
<rect x="311.75" y="490" width="12.5" height="68.29999999999995" fill="#000" stroke="none" stroke-width="0"/>
<line x1="334.25" y1="523" x2="334.25" y2="515.75" stroke="#000" stroke-width="1.5" />
<line x1="331.35" y1="515.75" x2="337.15" y2="515.75" stroke="#000" stroke-width="1.5" />
<rect x="328.7" y="523" width="11.1" height="35.299999999999955" fill="#fff" stroke="#000" stroke-width="1.45"/>
<line x1="362.5" y1="459.5" x2="362.5" y2="451.75" stroke="#000" stroke-width="1.5" />
<line x1="359.6" y1="451.75" x2="365.4" y2="451.75" stroke="#000" stroke-width="1.5" />
<rect x="356.25" y="459.5" width="12.5" height="98.79999999999995" fill="#000" stroke="none" stroke-width="0"/>
<line x1="379.25" y1="506.75" x2="379.25" y2="501.75" stroke="#000" stroke-width="1.5" />
<line x1="376.35" y1="501.75" x2="382.15" y2="501.75" stroke="#000" stroke-width="1.5" />
<rect x="373.7" y="506.75" width="11.1" height="51.549999999999955" fill="#fff" stroke="#000" stroke-width="1.45"/>
<line x1="407.5" y1="490" x2="407.5" y2="483.75" stroke="#000" stroke-width="1.5" />
<line x1="404.6" y1="483.75" x2="410.4" y2="483.75" stroke="#000" stroke-width="1.5" />
<rect x="401.25" y="490" width="12.5" height="68.29999999999995" fill="#000" stroke="none" stroke-width="0"/>
<line x1="424.375" y1="534.4" x2="424.375" y2="530.3" stroke="#000" stroke-width="1.5" />
<line x1="421.475" y1="530.3" x2="427.275" y2="530.3" stroke="#000" stroke-width="1.5" />
<rect x="418.7" y="534.4" width="11.35" height="23.899999999999977" fill="#fff" stroke="#000" stroke-width="1.45"/>
<line x1="452.25" y1="484.5" x2="452.25" y2="469.5" stroke="#000" stroke-width="1.5" />
<line x1="449.35" y1="469.5" x2="455.15" y2="469.5" stroke="#000" stroke-width="1.5" />
<rect x="445.75" y="484.5" width="13.0" height="73.79999999999995" fill="#000" stroke="none" stroke-width="0"/>
<line x1="469.1" y1="541.5" x2="469.1" y2="535.25" stroke="#000" stroke-width="1.5" />
<line x1="466.20000000000005" y1="535.25" x2="472.0" y2="535.25" stroke="#000" stroke-width="1.5" />
<rect x="463.7" y="541.5" width="10.799999999999988" height="16.799999999999955" fill="#fff" stroke="#000" stroke-width="1.45"/>
<line x1="326.25" y1="558.3" x2="326.25" y2="561.5999999999999" stroke="#000" stroke-width="1.0" />
<line x1="371" y1="558.3" x2="371" y2="561.5999999999999" stroke="#000" stroke-width="1.0" />
<line x1="415.75" y1="558.3" x2="415.75" y2="561.5999999999999" stroke="#000" stroke-width="1.0" />
<line x1="460" y1="558.3" x2="460" y2="561.5999999999999" stroke="#000" stroke-width="1.0" />
<text x="325.6" y="572" font-size="8.8" font-weight="bold" text-anchor="middle" fill="#000" textLength="11.5" lengthAdjust="spacingAndGlyphs" >NT</text>
<text x="371" y="571.8" font-size="8.8" font-weight="bold" text-anchor="middle" fill="#000" >--</text>
<text x="415.75" y="572.2" font-size="8.8" font-weight="bold" text-anchor="middle" fill="#000" textLength="37.5" lengthAdjust="spacingAndGlyphs" >KD1 (0.5)</text>
<text x="460.25" y="572.2" font-size="8.8" font-weight="bold" text-anchor="middle" fill="#000" textLength="29.5" lengthAdjust="spacingAndGlyphs" >KD1 (5)</text>
<line x1="358" y1="579.7" x2="477.5" y2="579.7" stroke="#000" stroke-width="0.95" />
<text x="413.9" y="591" font-size="9" font-weight="bold" text-anchor="middle" fill="#000" textLength="13.75" lengthAdjust="spacingAndGlyphs" >IL2</text>
<rect x="422.5" y="413.25" width="13.75" height="7.5" fill="#000" stroke="none" stroke-width="0"/>
<rect x="423.2" y="429" width="12.4" height="6.1" fill="#fff" stroke="#000" stroke-width="1.45"/>
<text x="442.5" y="420.6" font-size="10.3" font-weight="bold" text-anchor="start" fill="#000" textLength="40" lengthAdjust="spacingAndGlyphs" >Total NK</text>
<text x="442.5" y="435.6" font-size="10" font-weight="bold" textLength="30.5" lengthAdjust="spacingAndGlyphs">CD57<tspan dy="-3.2" font-size="9">+</tspan></text>
<text x="418.75" y="449.7" font-size="7.6" font-weight="bold" text-anchor="middle" fill="#000" textLength="10" lengthAdjust="spacingAndGlyphs" >***</text>
<line x1="379.5" y1="451.3" x2="468.75" y2="451.3" stroke="#000" stroke-width="1.0" />
<text x="403.75" y="468.5" font-size="7.6" font-weight="bold" text-anchor="middle" fill="#000" textLength="7" lengthAdjust="spacingAndGlyphs" >**</text>
<line x1="379.5" y1="470.3" x2="431.25" y2="470.3" stroke="#000" stroke-width="1.0" />
<defs><filter id="bl" x="-5%" y="-5%" width="110%" height="110%"><feGaussianBlur stdDeviation="0.32"/></filter><radialGradient id="g"><stop offset="0" stop-color="#000" stop-opacity="1"/><stop offset="0.45" stop-color="#000" stop-opacity="0.7"/><stop offset="1" stop-color="#000" stop-opacity="0"/></radialGradient><linearGradient id="gv" x1="0" y1="0" x2="1" y2="0"><stop offset="0" stop-color="#000" stop-opacity="0"/><stop offset="0.5" stop-color="#000" stop-opacity="1"/><stop offset="1" stop-color="#000" stop-opacity="0"/></linearGradient></defs>
<text x="23.2" y="11.0" font-size="2.6" fill="#555" font-weight="normal">10<tspan dy="-0.9" font-size="1.8">5</tspan></text>
<text x="23.2" y="25.1" font-size="2.6" fill="#555" font-weight="normal">10<tspan dy="-0.9" font-size="1.8">4</tspan></text>
<text x="23.2" y="39.8" font-size="2.6" fill="#555" font-weight="normal">10<tspan dy="-0.9" font-size="1.8">3</tspan></text>
<text x="23.2" y="54.8" font-size="2.6" fill="#555" font-weight="normal">10<tspan dy="-0.9" font-size="1.8">2</tspan></text>
<text x="23.2" y="61.8" font-size="2.6" fill="#555" font-weight="normal">0<tspan dy="-0.9" font-size="1.8"></tspan></text>
<text x="23.2" y="79.7" font-size="2.6" fill="#555" font-weight="normal">10<tspan dy="-0.9" font-size="1.8">5</tspan></text>
<text x="23.2" y="93.8" font-size="2.6" fill="#555" font-weight="normal">10<tspan dy="-0.9" font-size="1.8">4</tspan></text>
<text x="23.2" y="108.5" font-size="2.6" fill="#555" font-weight="normal">10<tspan dy="-0.9" font-size="1.8">3</tspan></text>
<text x="23.2" y="123.5" font-size="2.6" fill="#555" font-weight="normal">10<tspan dy="-0.9" font-size="1.8">2</tspan></text>
<text x="23.2" y="130.5" font-size="2.6" fill="#555" font-weight="normal">0<tspan dy="-0.9" font-size="1.8"></tspan></text>
<text x="76.5" y="143.3" font-size="2.6" fill="#777" font-weight="normal">10<tspan dy="-0.9" font-size="1.8">4</tspan></text>
<text x="91.5" y="143.3" font-size="2.6" fill="#777" font-weight="normal">10<tspan dy="-0.9" font-size="1.8">5</tspan></text>
<text x="157" y="143.3" font-size="2.6" fill="#777" font-weight="normal">10<tspan dy="-0.9" font-size="1.8">5</tspan></text>
<text x="188" y="143.3" font-size="2.6" fill="#777" font-weight="normal">10<tspan dy="-0.9" font-size="1.8">5</tspan></text>
<text x="254" y="143.3" font-size="2.6" fill="#777" font-weight="normal">10<tspan dy="-0.9" font-size="1.8">5</tspan></text>
<ellipse cx="71.3" cy="24" rx="9" ry="7" fill="url(#g)" opacity="0.9"/>
<path d="M70.3 25.6h0.75M70.4 23.0h0.75M67.6 23.3h0.75M75.7 25.3h0.75M75.4 24.8h0.75M72.9 24.6h0.75M64.6 26.7h0.75M73.3 25.5h0.75M64.5 18.6h0.75M67.7 22.5h0.75M72.5 23.9h0.75M73.4 22.0h0.75M72.5 25.2h0.75M68.7 29.3h0.75M73.5 27.7h0.75M68.8 21.7h0.75M69.9 23.7h0.75M73.8 24.8h0.75M69.5 21.0h0.75M69.2 27.8h0.75M68.1 24.8h0.75M73.0 19.4h0.75M71.5 28.0h0.75M63.2 23.0h0.75M70.9 21.5h0.75M73.3 23.8h0.75M65.4 26.6h0.75M74.0 26.9h0.75M77.1 25.1h0.75M71.8 20.0h0.75M73.8 22.1h0.75M69.5 20.1h0.75M67.4 22.4h0.75M76.5 17.7h0.75M65.5 24.7h0.75M77.1 25.8h0.75M63.7 16.2h0.75M72.7 21.7h0.75M66.8 27.0h0.75M75.7 24.5h0.75M72.3 25.3h0.75M77.7 25.9h0.75M73.4 25.7h0.75M65.0 28.0h0.75M75.1 25.6h0.75M63.4 22.0h0.75M74.7 18.4h0.75M70.6 27.2h0.75M66.1 29.0h0.75M73.5 23.5h0.75M72.6 26.0h0.75M71.8 27.6h0.75M68.7 22.7h0.75M75.5 24.1h0.75M67.8 26.9h0.75M77.2 22.6h0.75M65.8 23.6h0.75M70.7 23.1h0.75M76.9 20.8h0.75M76.3 20.1h0.75M68.2 26.0h0.75M75.8 26.7h0.75M72.7 24.4h0.75M71.9 25.8h0.75M70.6 24.9h0.75M73.6 24.0h0.75M74.4 25.8h0.75M79.3 25.0h0.75M69.6 22.8h0.75M71.2 26.9h0.75M70.0 25.2h0.75M78.6 16.0h0.75M66.8 24.8h0.75M72.9 24.7h0.75M69.6 26.0h0.75M72.4 22.4h0.75M81.0 25.1h0.75M69.1 23.7h0.75M70.4 23.8h0.75M60.4 22.5h0.75M75.3 20.4h0.75M71.0 27.0h0.75M74.7 28.6h0.75M64.5 22.9h0.75M69.9 25.9h0.75M75.7 15.7h0.75M75.7 19.5h0.75M74.0 19.4h0.75M72.0 27.7h0.75M70.7 24.6h0.75M74.5 24.4h0.75M70.9 28.8h0.75M75.5 23.1h0.75M82.3 20.4h0.75M75.0 23.2h0.75M71.8 26.2h0.75M72.2 26.0h0.75M65.2 19.3h0.75M73.8 21.0h0.75M67.2 19.4h0.75M76.4 26.3h0.75M77.2 21.1h0.75M71.3 20.5h0.75M74.4 28.9h0.75M67.7 28.8h0.75M75.3 23.4h0.75M63.4 28.4h0.75M70.9 22.1h0.75M72.9 25.3h0.75M77.3 20.8h0.75M75.8 28.6h0.75M77.1 23.4h0.75M68.3 27.2h0.75M71.8 24.4h0.75M77.0 23.2h0.75M62.1 22.8h0.75M63.9 26.5h0.75M72.6 22.1h0.75M71.3 26.6h0.75M71.6 28.1h0.75M71.1 27.2h0.75M77.3 29.0h0.75M68.6 26.7h0.75M63.8 20.6h0.75M63.4 27.3h0.75M66.4 24.0h0.75M70.5 23.9h0.75M68.9 24.7h0.75M78.5 24.1h0.75M73.4 27.1h0.75M70.5 20.1h0.75M69.1 27.3h0.75M64.7 22.1h0.75M75.3 26.5h0.75M71.3 26.5h0.75M72.0 20.3h0.75M65.0 22.0h0.75M75.0 22.2h0.75M67.7 21.6h0.75M65.2 23.6h0.75M66.6 25.1h0.75M61.9 25.0h0.75M68.7 18.0h0.75M74.2 23.1h0.75M62.4 21.3h0.75M72.5 22.6h0.75M74.4 26.3h0.75M74.0 25.0h0.75M76.6 26.0h0.75M73.1 17.5h0.75M74.9 28.1h0.75M70.1 22.5h0.75M79.1 18.5h0.75M73.2 31.5h0.75M67.6 26.1h0.75M78.8 23.6h0.75M73.5 26.8h0.75M67.7 23.7h0.75M72.5 26.6h0.75M71.2 23.4h0.75M67.2 22.9h0.75M74.9 24.3h0.75M67.9 21.4h0.75M82.0 27.5h0.75M73.8 16.0h0.75M73.8 25.5h0.75M78.0 25.3h0.75M71.0 25.6h0.75M63.5 27.2h0.75M72.6 21.8h0.75M76.6 29.6h0.75M65.7 21.9h0.75M72.5 24.6h0.75M69.7 21.0h0.75M79.8 27.2h0.75M66.5 19.8h0.75M78.1 27.1h0.75M78.6 26.5h0.75M67.8 24.8h0.75M62.7 21.7h0.75M71.1 25.6h0.75M68.4 23.6h0.75M73.1 25.2h0.75M73.9 24.6h0.75M70.0 26.4h0.75M71.5 21.4h0.75M68.8 24.0h0.75M70.9 24.5h0.75M71.3 24.5h0.75M70.8 20.1h0.75M73.0 27.3h0.75M73.0 23.4h0.75M73.1 21.0h0.75M63.7 24.2h0.75M67.6 26.3h0.75M67.0 15.9h0.75M67.1 28.9h0.75M69.8 19.8h0.75M68.2 25.6h0.75M73.3 24.5h0.75M77.2 26.2h0.75M71.2 25.8h0.75M77.9 27.0h0.75M75.4 20.6h0.75M70.7 26.3h0.75M70.1 27.3h0.75M73.7 26.8h0.75M70.5 31.9h0.75M76.3 23.3h0.75M71.7 32.0h0.75M69.9 26.7h0.75M75.2 24.0h0.75M66.6 24.6h0.75M72.7 27.5h0.75M74.4 24.1h0.75M74.7 25.7h0.75M72.1 24.2h0.75M70.3 26.1h0.75M67.1 22.1h0.75M71.3 19.5h0.75M69.6 17.8h0.75M68.6 25.8h0.75M73.6 23.8h0.75M70.4 19.6h0.75M78.6 25.6h0.75M75.7 21.3h0.75M70.6 18.4h0.75M74.4 26.9h0.75M63.7 23.8h0.75M73.8 18.5h0.75M64.0 20.7h0.75M68.8 19.7h0.75M71.4 24.8h0.75M73.8 26.2h0.75M77.3 27.6h0.75M66.1 22.4h0.75M67.1 20.7h0.75M71.0 24.0h0.75M73.3 19.1h0.75M66.3 23.9h0.75M70.5 23.0h0.75M71.0 21.6h0.75M74.1 25.1h0.75M70.9 21.9h0.75M70.6 15.6h0.75M67.4 24.1h0.75M65.3 24.6h0.75M71.9 19.7h0.75M70.3 23.0h0.75M73.1 25.9h0.75M71.2 21.4h0.75M70.7 23.8h0.75M74.2 24.9h0.75M68.4 19.8h0.75M69.8 21.7h0.75M66.9 23.6h0.75M69.3 24.3h0.75M73.4 22.7h0.75M80.6 23.0h0.75M75.7 24.4h0.75M75.8 16.6h0.75M68.3 24.8h0.75M73.7 31.2h0.75M72.6 28.0h0.75M74.4 26.9h0.75M73.3 23.5h0.75M73.3 20.7h0.75M76.0 20.8h0.75M72.3 30.6h0.75M70.4 24.1h0.75M76.0 24.1h0.75M68.1 24.8h0.75M73.6 26.2h0.75M68.2 29.4h0.75M78.0 24.1h0.75M72.4 22.7h0.75M77.0 21.8h0.75M74.0 22.5h0.75M68.5 26.2h0.75M76.6 24.0h0.75M68.6 26.5h0.75M71.1 25.0h0.75M77.4 27.5h0.75M69.2 31.1h0.75M71.3 26.4h0.75M68.7 23.9h0.75M64.3 29.5h0.75M76.8 20.2h0.75M65.3 19.0h0.75M76.0 22.6h0.75M71.1 23.0h0.75M70.8 20.6h0.75M71.4 19.5h0.75M71.0 25.0h0.75M73.2 23.3h0.75M67.7 24.5h0.75M69.4 28.9h0.75M74.4 23.6h0.75M69.4 21.8h0.75M67.6 22.9h0.75M72.5 25.6h0.75M73.6 30.5h0.75M68.5 24.0h0.75M82.5 18.2h0.75M69.2 24.5h0.75M71.9 25.3h0.75M70.3 25.1h0.75M71.5 26.4h0.75M63.7 21.3h0.75M71.3 20.8h0.75M67.1 25.9h0.75M68.7 26.0h0.75M74.3 25.0h0.75M73.3 23.7h0.75M65.7 23.9h0.75M73.1 22.4h0.75M70.9 26.3h0.75M67.8 26.0h0.75M78.8 22.3h0.75M71.9 23.5h0.75M77.5 25.0h0.75M74.9 21.9h0.75M71.2 24.0h0.75M64.2 28.5h0.75M74.9 18.6h0.75M74.3 23.6h0.75M73.1 25.1h0.75M65.3 23.3h0.75M77.3 22.2h0.75M67.2 19.8h0.75M66.4 25.0h0.75M78.1 25.3h0.75M72.3 30.9h0.75M69.2 21.9h0.75M73.4 25.7h0.75M67.2 20.4h0.75M72.5 24.8h0.75M66.1 23.4h0.75M69.1 25.4h0.75M70.8 23.7h0.75M69.9 27.3h0.75M76.9 22.9h0.75M74.7 21.7h0.75M71.6 26.3h0.75M77.4 22.8h0.75M71.0 24.6h0.75M65.3 24.0h0.75M68.6 25.2h0.75M66.8 17.9h0.75M71.5 24.8h0.75M69.1 26.8h0.75M70.2 22.1h0.75M73.2 19.1h0.75M68.6 23.9h0.75M74.7 23.5h0.75M72.5 22.0h0.75M72.5 29.2h0.75M68.6 31.3h0.75M68.7 24.1h0.75M72.0 27.2h0.75M66.4 17.5h0.75M73.7 26.5h0.75M73.8 32.2h0.75M72.1 24.8h0.75M75.0 25.1h0.75M78.0 20.2h0.75M69.8 13.3h0.75M74.5 22.8h0.75M75.0 30.7h0.75M71.3 23.2h0.75M69.3 21.4h0.75M68.8 26.0h0.75M71.4 24.2h0.75M70.6 26.8h0.75M73.3 23.6h0.75M74.0 23.5h0.75M66.7 28.5h0.75M73.2 21.0h0.75M75.6 25.1h0.75M65.0 29.0h0.75M74.0 29.9h0.75M73.0 24.2h0.75M59.9 30.3h0.75M71.7 23.4h0.75M74.1 25.4h0.75M76.6 23.0h0.75M71.2 13.2h0.75M68.3 28.7h0.75M81.5 23.0h0.75M70.6 33.7h0.75M69.1 29.0h0.75M84.1 25.2h0.75M80.7 21.1h0.75M73.1 24.6h0.75M72.4 31.2h0.75M89.4 21.3h0.75M67.2 27.7h0.75M63.6 27.7h0.75M75.8 23.5h0.75M75.5 16.5h0.75M77.2 16.5h0.75M66.3 21.9h0.75M68.5 29.7h0.75M72.1 22.8h0.75M75.6 33.7h0.75M71.5 27.0h0.75M80.8 26.5h0.75M61.9 38.7h0.75M88.1 14.1h0.75M71.2 27.3h0.75M78.7 28.7h0.75M69.5 19.2h0.75M72.3 30.7h0.75M63.3 19.4h0.75M71.3 14.3h0.75M69.5 22.6h0.75M74.9 21.1h0.75M64.9 22.8h0.75M71.1 21.3h0.75M71.6 29.1h0.75M80.4 34.4h0.75M65.6 22.7h0.75M52.9 35.4h0.75M66.1 24.8h0.75M75.4 17.5h0.75M75.0 24.9h0.75M57.8 26.6h0.75M80.5 14.7h0.75M77.6 26.2h0.75M75.1 27.4h0.75M81.3 23.8h0.75M78.1 22.7h0.75M77.0 20.5h0.75M70.7 34.5h0.75M74.8 24.1h0.75M62.9 20.7h0.75M73.0 30.2h0.75M74.7 27.9h0.75M71.2 32.4h0.75M68.6 22.0h0.75M78.2 25.3h0.75M69.4 21.8h0.75M69.6 28.4h0.75M74.2 18.3h0.75M74.7 26.0h0.75M64.0 29.3h0.75M69.4 23.2h0.75M77.5 32.3h0.75M66.3 27.4h0.75M64.9 37.7h0.75M67.8 31.6h0.75M66.6 29.5h0.75M88.1 11.0h0.75M68.2 27.8h0.75M70.8 21.3h0.75M87.6 25.4h0.75M59.2 29.7h0.75M58.6 31.3h0.75M67.2 25.8h0.75M81.0 25.6h0.75M61.1 15.7h0.75M80.4 29.1h0.75M65.4 29.7h0.75M75.2 28.6h0.75M54.6 23.3h0.75M78.3 29.0h0.75M78.1 11.5h0.75M72.8 27.7h0.75M90.6 19.8h0.75M69.0 25.2h0.75M78.1 22.6h0.75M80.1 20.7h0.75M73.5 22.1h0.75M72.7 21.2h0.75M59.5 31.0h0.75M73.8 21.9h0.75M73.0 30.4h0.75M64.2 24.4h0.75M75.5 27.9h0.75M69.0 13.4h0.75M80.8 26.8h0.75M71.6 23.5h0.75M73.5 22.7h0.75M63.8 20.9h0.75M67.0 21.6h0.75M62.8 28.5h0.75M61.7 28.6h0.75M63.9 26.9h0.75M81.8 26.1h0.75M66.0 25.3h0.75M72.6 15.5h0.75M66.9 25.9h0.75M68.0 25.4h0.75M77.0 29.2h0.75M78.3 28.2h0.75M69.3 24.9h0.75M69.5 23.3h0.75M70.2 15.5h0.75M69.0 24.9h0.75M64.2 24.9h0.75M75.4 24.1h0.75M87.1 10.7h0.75M70.0 15.0h0.75M78.8 39.6h0.75M52.7 25.7h0.75M75.4 23.3h0.75M75.6 12.7h0.75M77.9 27.0h0.75M71.7 21.8h0.75M76.3 22.3h0.75M73.2 22.2h0.75M54.6 24.8h0.75M73.0 29.1h0.75M64.9 24.8h0.75M76.1 25.8h0.75M80.8 36.0h0.75M64.7 14.4h0.75M77.9 33.4h0.75M78.4 29.5h0.75M66.9 21.1h0.75M78.2 20.0h0.75M57.9 19.5h0.75M90.2 35.6h0.75M66.4 21.0h0.75M73.2 20.9h0.75M81.3 24.6h0.75M63.4 32.2h0.75M67.1 26.2h0.75M71.4 23.3h0.75M73.9 21.2h0.75M57.7 12.9h0.75M62.0 20.8h0.75M71.3 25.3h0.75M75.7 25.7h0.75M65.5 21.1h0.75M55.6 24.1h0.75M75.1 27.9h0.75M70.6 24.0h0.75M78.5 25.1h0.75M77.0 28.2h0.75M73.1 32.2h0.75M67.2 23.0h0.75M65.4 20.6h0.75M83.2 34.7h0.75M71.7 28.1h0.75M80.3 29.4h0.75M80.5 18.1h0.75M66.7 27.5h0.75M82.3 25.6h0.75M65.1 23.1h0.75M66.5 20.3h0.75M82.8 21.6h0.75M71.7 36.9h0.75M80.4 26.8h0.75M66.9 27.3h0.75M83.7 28.4h0.75M81.0 25.5h0.75M75.4 23.9h0.75M74.7 32.2h0.75M60.8 24.7h0.75M73.3 21.9h0.75M69.2 29.3h0.75M86.5 28.5h0.75M73.9 16.5h0.75M86.0 25.4h0.75M71.2 18.8h0.75M71.1 19.0h0.75M72.0 27.6h0.75M71.7 26.5h0.75M65.1 32.9h0.75M66.6 15.0h0.75M70.1 20.8h0.75M63.9 23.0h0.75M73.7 18.5h0.75M70.5 32.8h0.75M76.6 24.2h0.75M72.5 24.3h0.75M71.1 29.0h0.75M70.8 11.8h0.75M71.3 20.1h0.75M76.4 21.6h0.75M72.6 37.0h0.75M63.6 18.8h0.75M60.9 11.8h0.75M57.4 27.0h0.75M66.7 14.7h0.75M60.4 28.4h0.75M65.7 23.0h0.75M74.0 32.5h0.75M86.1 30.7h0.75M72.6 26.0h0.75M85.0 32.9h0.75M69.2 27.5h0.75M73.7 25.3h0.75M67.7 17.7h0.75M67.5 16.5h0.75M80.7 28.0h0.75M62.5 32.7h0.75M78.2 14.5h0.75M85.3 29.5h0.75M87.0 18.2h0.75M75.5 27.3h0.75M73.0 25.9h0.75M79.4 16.8h0.75M62.2 17.3h0.75M67.3 21.7h0.75M74.3 26.5h0.75M71.7 21.3h0.75M68.2 30.2h0.75M77.2 25.6h0.75M69.1 33.5h0.75M67.0 28.6h0.75M80.2 23.5h0.75M77.7 18.9h0.75M79.1 26.1h0.75M59.6 28.7h0.75M64.8 32.1h0.75M66.4 24.1h0.75M73.6 23.2h0.75M73.4 22.0h0.75M76.5 25.0h0.75M73.1 9.9h0.75M80.2 25.2h0.75M58.1 25.5h0.75M75.0 30.9h0.75M63.4 33.5h0.75M70.3 38.2h0.75M70.4 28.7h0.75M68.8 18.9h0.75M79.7 30.0h0.75M83.0 29.7h0.75M67.2 15.9h0.75M66.6 21.3h0.75M65.4 28.2h0.75M74.0 23.5h0.75M72.8 24.2h0.75M73.1 29.1h0.75M78.7 21.2h0.75M60.2 32.9h0.75M72.4 31.1h0.75M65.2 49.6h0.75M69.4 46.8h0.75M68.8 34.0h0.75M72.8 51.9h0.75M67.7 34.4h0.75M66.0 41.4h0.75M71.1 33.3h0.75M66.3 42.0h0.75M72.3 35.0h0.75M68.9 37.8h0.75M68.7 34.0h0.75M64.6 34.1h0.75M70.5 43.6h0.75M73.3 34.2h0.75M69.5 55.4h0.75M72.3 48.9h0.75M77.1 32.6h0.75M75.4 40.0h0.75M76.2 49.1h0.75M69.9 41.3h0.75M72.0 32.8h0.75M74.8 35.4h0.75M69.9 40.4h0.75M71.0 50.6h0.75M69.2 46.4h0.75M67.0 42.0h0.75M73.2 40.5h0.75M73.9 49.3h0.75M73.3 44.9h0.75M68.6 49.5h0.75M68.5 48.8h0.75M71.6 52.9h0.75M71.2 52.2h0.75M65.6 47.7h0.75M68.3 38.1h0.75M67.8 46.3h0.75M73.2 50.3h0.75M72.4 48.5h0.75M68.8 41.0h0.75M68.7 41.8h0.75M68.1 47.6h0.75M68.2 54.2h0.75M72.4 50.2h0.75M74.8 40.1h0.75M61.8 31.0h0.75M71.1 44.1h0.75M73.5 54.5h0.75M75.2 43.5h0.75M73.9 44.1h0.75M73.0 48.6h0.75M65.9 51.6h0.75M70.2 43.6h0.75M63.9 35.5h0.75M74.7 47.8h0.75M66.3 33.2h0.75M73.9 55.6h0.75M69.8 37.1h0.75M71.4 40.4h0.75M73.8 40.9h0.75M70.8 48.2h0.75M69.0 35.8h0.75M72.5 49.3h0.75M74.1 35.7h0.75M69.1 50.8h0.75M68.8 33.4h0.75M71.9 50.2h0.75M72.2 42.2h0.75M66.3 44.6h0.75M71.7 39.2h0.75M78.7 46.6h0.75M73.0 42.2h0.75M65.2 37.7h0.75M68.9 51.7h0.75M70.0 39.2h0.75M72.0 39.8h0.75M68.5 36.6h0.75M68.7 30.1h0.75M71.4 48.8h0.75M70.0 37.8h0.75M72.9 42.5h0.75M66.4 47.1h0.75M72.5 39.4h0.75M76.2 31.5h0.75M67.8 51.5h0.75M75.1 33.7h0.75M67.4 51.6h0.75M70.1 30.3h0.75M70.1 54.7h0.75M69.1 32.6h0.75M68.5 33.7h0.75M71.1 39.0h0.75M76.0 34.0h0.75M75.2 34.4h0.75M67.3 53.2h0.75M66.2 47.4h0.75M67.0 53.2h0.75M71.9 35.1h0.75M64.6 48.0h0.75M65.3 41.4h0.75M69.5 52.9h0.75M68.1 36.1h0.75M69.6 33.6h0.75M69.4 42.1h0.75M70.5 33.8h0.75M66.7 44.0h0.75M70.7 52.4h0.75M76.6 42.2h0.75M70.8 44.6h0.75M67.4 39.7h0.75M65.2 40.9h0.75" stroke="#000" stroke-width="0.75" fill="none" opacity="0.7" filter="url(#bl)"/>
<path d="M60.7 11.2h0.75M50.4 34.7h0.75M30.9 33.6h0.75M51.8 47.1h0.75M40.6 49.2h0.75M46.3 28.4h0.75M58.7 9.4h0.75M53.0 34.3h0.75M40.8 44.2h0.75M41.7 27.9h0.75M46.8 40.4h0.75M36.7 26.3h0.75M43.5 31.3h0.75M56.5 20.3h0.75M56.5 25.0h0.75M46.1 19.4h0.75M46.2 48.9h0.75M50.9 41.3h0.75M40.6 21.3h0.75M39.6 32.6h0.75M50.3 40.9h0.75M31.3 38.4h0.75M58.3 30.9h0.75M31.6 20.6h0.75M30.2 16.0h0.75M59.5 33.6h0.75M51.1 41.1h0.75M59.1 33.7h0.75M49.7 34.3h0.75M52.3 33.0h0.75M51.8 16.9h0.75M51.3 27.2h0.75M54.4 12.3h0.75M35.8 9.6h0.75M54.8 46.4h0.75M51.0 23.5h0.75M56.3 41.0h0.75M48.0 18.8h0.75M39.7 25.7h0.75M40.2 26.1h0.75M50.5 47.2h0.75M31.7 31.8h0.75M31.3 13.0h0.75M55.9 32.2h0.75M59.4 26.8h0.75M80.2 22.2h0.75M87.1 31.0h0.75M91.8 23.6h0.75M84.9 17.6h0.75M87.7 19.4h0.75M81.8 16.2h0.75M80.1 26.9h0.75M81.5 31.5h0.75M81.1 29.9h0.75M81.5 16.3h0.75M88.6 19.9h0.75M88.8 19.0h0.75M80.6 28.4h0.75M88.6 29.7h0.75M88.8 17.3h0.75M87.5 27.3h0.75M85.5 30.9h0.75M83.0 31.4h0.75M70.8 36.7h0.75M78.2 39.2h0.75M71.8 34.7h0.75M68.0 51.5h0.75M76.0 53.4h0.75M69.3 38.3h0.75M66.6 46.7h0.75M64.0 43.1h0.75M76.5 50.7h0.75M66.3 47.8h0.75M67.4 31.2h0.75M64.4 48.4h0.75M79.2 32.7h0.75M67.2 34.9h0.75M83.5 47.0h0.75M68.3 21.9h0.75M67.6 48.7h0.75M80.3 35.6h0.75M67.5 33.4h0.75M61.6 46.2h0.75M65.6 47.6h0.75M62.5 26.6h0.75M72.4 31.1h0.75M74.9 38.1h0.75M65.1 43.6h0.75M75.2 20.8h0.75M80.1 42.5h0.75M74.8 21.3h0.75M67.4 34.9h0.75M76.4 24.9h0.75M66.6 19.7h0.75M69.8 41.1h0.75M62.6 32.7h0.75M73.6 52.3h0.75M74.3 35.3h0.75M65.1 29.6h0.75M67.7 39.3h0.75M70.8 53.0h0.75M72.4 28.4h0.75M78.7 46.5h0.75M71.5 31.5h0.75M61.6 28.8h0.75M75.6 30.8h0.75M64.4 39.8h0.75M72.2 43.5h0.75M74.3 50.7h0.75M66.8 46.8h0.75M66.1 44.2h0.75M71.9 40.2h0.75M75.8 37.8h0.75M76.6 45.9h0.75M71.7 32.9h0.75M67.2 33.3h0.75M70.0 37.8h0.75M85.9 43.7h0.75M74.8 30.3h0.75M67.4 35.1h0.75M72.0 28.7h0.75M79.1 32.9h0.75M76.4 17.0h0.75" stroke="#000" stroke-width="0.75" fill="none" opacity="0.45" filter="url(#bl)"/>
<path d="M38.0 59.4h0.75M37.1 59.8h0.75M54.1 59.8h0.75M68.2 59.6h0.75M69.9 55.9h0.75M31.9 60.3h0.75M34.4 58.2h0.75M72.2 58.5h0.75M57.8 59.3h0.75M72.0 61.3h0.75M49.2 58.7h0.75M36.2 58.1h0.75M39.0 63.9h0.75M30.7 58.4h0.75M69.6 59.3h0.75M69.7 60.8h0.75M64.4 59.6h0.75M60.9 59.0h0.75M31.5 56.8h0.75M35.5 55.9h0.75M59.5 59.5h0.75M42.4 55.9h0.75M33.7 57.3h0.75M43.6 58.0h0.75M50.7 59.4h0.75M36.6 60.2h0.75M59.5 59.5h0.75M29.6 60.2h0.75M30.6 59.2h0.75M70.7 58.4h0.75M68.0 60.0h0.75M69.0 62.8h0.75M33.4 60.4h0.75M70.8 60.7h0.75M49.4 60.6h0.75M44.3 57.6h0.75M57.3 60.2h0.75M35.4 57.9h0.75M61.1 59.5h0.75M53.9 59.9h0.75M41.0 61.3h0.75M47.5 61.8h0.75M66.8 60.1h0.75M44.1 60.4h0.75M43.3 60.3h0.75M69.6 60.9h0.75M31.6 62.5h0.75M69.3 62.1h0.75M50.5 58.9h0.75M41.9 58.5h0.75M45.4 59.4h0.75M73.6 60.4h0.75M33.4 62.8h0.75M42.0 59.4h0.75M61.7 59.8h0.75M42.2 59.1h0.75M65.3 59.7h0.75M44.3 59.4h0.75M66.5 59.5h0.75M52.7 59.5h0.75M70.0 60.0h0.75M38.8 60.9h0.75M37.1 58.7h0.75M63.7 59.0h0.75M32.6 59.2h0.75M32.9 58.4h0.75M41.3 58.0h0.75M38.3 58.3h0.75M65.5 57.6h0.75M55.2 57.9h0.75M62.0 59.6h0.75M47.4 59.9h0.75M65.5 59.3h0.75M44.1 58.9h0.75M51.2 61.0h0.75M29.7 56.9h0.75M68.2 60.8h0.75M41.0 58.5h0.75M45.5 60.5h0.75M36.4 62.0h0.75M29.2 58.0h0.75M52.4 60.9h0.75M34.4 57.7h0.75M61.2 60.0h0.75M43.4 60.6h0.75M61.0 56.7h0.75M31.8 57.6h0.75M68.3 61.1h0.75M52.1 61.1h0.75M52.9 58.9h0.75M72.5 59.1h0.75M39.1 59.3h0.75M40.3 59.7h0.75M65.8 60.0h0.75M60.5 60.1h0.75M37.8 59.5h0.75M54.9 61.4h0.75M52.5 59.6h0.75M68.1 59.2h0.75M61.3 58.7h0.75M51.2 60.1h0.75M51.5 59.6h0.75M47.3 59.3h0.75M35.2 60.2h0.75M35.6 56.9h0.75M54.8 57.8h0.75M66.2 59.4h0.75M71.2 58.5h0.75M66.8 58.2h0.75M52.7 60.4h0.75M64.0 56.6h0.75M44.2 61.6h0.75M48.6 59.5h0.75M73.2 60.8h0.75M65.7 60.5h0.75M67.1 56.3h0.75M72.1 61.1h0.75M71.0 60.0h0.75M57.5 59.4h0.75M45.4 61.0h0.75M48.5 58.8h0.75M51.7 59.3h0.75M72.6 60.2h0.75M63.9 59.5h0.75M65.4 61.4h0.75M68.8 58.6h0.75M57.9 59.7h0.75M41.0 59.1h0.75M53.4 58.9h0.75M70.6 58.3h0.75M52.4 58.6h0.75M48.5 58.6h0.75M42.7 60.6h0.75M58.1 59.0h0.75M72.0 60.9h0.75M52.1 60.8h0.75M53.0 59.2h0.75M35.7 61.1h0.75M42.2 60.0h0.75M47.3 60.0h0.75M33.0 59.1h0.75M53.6 60.5h0.75M54.7 60.5h0.75M58.3 57.7h0.75M49.7 60.1h0.75M53.7 61.7h0.75M43.0 58.1h0.75M39.9 58.3h0.75M46.2 59.7h0.75M55.4 61.2h0.75M67.8 60.8h0.75M39.7 59.5h0.75M41.8 57.8h0.75M73.4 58.8h0.75M36.1 58.7h0.75M32.0 61.9h0.75M31.8 60.5h0.75M46.5 58.2h0.75M33.9 57.1h0.75M39.1 60.3h0.75M36.0 61.8h0.75M44.2 58.8h0.75M56.7 58.0h0.75M67.2 61.2h0.75M62.2 60.2h0.75M62.4 57.8h0.75M64.3 59.5h0.75M60.9 57.7h0.75M68.2 60.1h0.75M29.2 59.0h0.75M51.4 59.6h0.75M72.3 57.4h0.75M64.3 58.0h0.75M68.3 58.7h0.75M49.4 58.3h0.75M49.6 58.5h0.75M46.6 59.2h0.75M54.0 58.2h0.75M64.4 58.4h0.75M67.2 60.3h0.75M37.3 57.8h0.75M42.7 59.4h0.75M55.2 60.6h0.75M33.0 61.0h0.75M67.0 60.6h0.75M66.7 58.8h0.75M48.2 60.4h0.75M70.0 59.1h0.75M54.4 59.9h0.75M51.4 59.4h0.75M53.2 61.7h0.75M73.9 58.2h0.75M59.8 57.6h0.75M46.5 59.2h0.75M44.8 58.1h0.75M71.7 61.0h0.75M33.5 58.6h0.75M45.8 57.8h0.75M54.8 57.8h0.75M68.6 60.5h0.75M48.8 61.1h0.75M57.1 59.0h0.75M52.9 60.8h0.75M65.7 59.4h0.75M73.0 60.0h0.75M66.2 60.6h0.75M69.3 58.7h0.75M60.0 59.3h0.75M69.0 61.4h0.75M47.9 55.3h0.75M52.0 60.1h0.75M51.7 60.4h0.75M57.4 59.8h0.75M56.1 60.3h0.75M57.6 56.5h0.75M30.9 63.2h0.75M42.8 57.2h0.75M60.1 60.8h0.75M66.9 60.7h0.75M55.4 59.4h0.75M51.4 58.9h0.75M53.9 58.5h0.75M52.9 59.2h0.75M73.9 61.6h0.75M34.5 58.0h0.75M36.1 58.7h0.75M33.5 59.4h0.75M36.7 58.7h0.75M56.6 56.6h0.75M65.3 59.0h0.75M63.7 59.6h0.75M43.5 59.5h0.75M36.6 59.1h0.75M41.0 58.0h0.75M55.2 62.0h0.75M44.7 61.3h0.75M31.5 58.0h0.75M69.1 59.9h0.75M48.8 56.1h0.75M56.9 57.5h0.75M70.9 59.4h0.75M67.5 59.8h0.75M65.7 58.1h0.75M42.7 62.3h0.75M51.3 56.4h0.75M71.7 57.1h0.75M61.3 59.5h0.75M39.0 60.9h0.75M50.8 58.3h0.75M64.7 62.3h0.75M45.1 59.4h0.75M37.4 60.3h0.75M54.3 60.6h0.75M34.2 59.2h0.75M47.1 58.0h0.75M31.9 59.1h0.75M44.8 61.4h0.75M40.0 61.4h0.75M39.7 59.8h0.75M30.6 60.5h0.75M36.0 58.7h0.75M60.8 58.2h0.75M66.6 60.4h0.75M34.8 60.1h0.75M65.2 56.7h0.75M36.2 60.4h0.75M46.0 58.0h0.75M72.1 61.3h0.75M51.7 60.4h0.75M39.2 63.0h0.75M60.8 58.6h0.75M40.7 59.6h0.75M45.6 61.0h0.75M40.1 58.2h0.75M68.3 58.6h0.75M34.5 58.7h0.75M41.2 57.5h0.75M63.7 59.2h0.75M54.5 57.8h0.75M43.0 60.9h0.75M37.0 58.9h0.75M67.3 59.8h0.75M33.9 58.4h0.75M54.3 61.4h0.75M42.4 58.3h0.75M32.0 60.8h0.75M34.7 59.0h0.75M61.3 60.4h0.75M69.9 59.1h0.75M63.9 60.9h0.75M34.9 61.6h0.75M41.4 57.4h0.75M58.9 61.6h0.75M44.8 59.8h0.75M60.5 57.5h0.75M40.2 60.5h0.75M57.3 60.2h0.75M37.2 58.3h0.75M62.0 61.9h0.75M61.1 61.6h0.75M36.3 59.8h0.75M37.9 59.5h0.75M30.8 58.9h0.75M43.0 60.8h0.75M66.8 58.8h0.75M54.7 58.7h0.75M48.6 59.2h0.75M59.8 58.3h0.75M66.5 59.4h0.75M63.9 59.5h0.75M67.4 59.3h0.75M56.3 59.8h0.75M34.0 60.5h0.75M64.6 59.7h0.75M62.7 60.2h0.75M32.9 62.6h0.75M62.6 58.9h0.75M66.3 58.0h0.75M71.6 59.3h0.75M48.1 60.0h0.75M62.2 61.5h0.75M66.3 58.4h0.75M31.4 58.3h0.75M60.4 58.2h0.75M70.8 57.8h0.75M34.7 60.2h0.75M60.6 59.4h0.75M65.3 59.0h0.75M72.6 59.3h0.75M57.7 61.3h0.75M31.7 58.3h0.75M45.1 59.1h0.75M43.0 58.5h0.75M35.1 59.9h0.75M39.7 58.8h0.75M39.9 57.2h0.75M71.1 57.8h0.75M44.8 59.2h0.75M35.4 58.4h0.75M54.3 62.4h0.75M53.7 58.0h0.75M63.2 61.8h0.75M55.9 60.5h0.75M49.8 61.3h0.75M34.2 59.7h0.75M42.0 56.6h0.75M31.7 58.7h0.75M41.6 60.2h0.75M49.2 60.2h0.75M34.1 61.6h0.75M45.3 58.6h0.75M36.6 60.9h0.75M73.6 59.6h0.75M62.8 59.5h0.75M73.1 61.5h0.75M54.4 60.6h0.75M48.5 60.7h0.75M37.5 60.5h0.75M70.4 59.2h0.75M58.0 59.3h0.75M58.4 57.0h0.75M40.3 56.9h0.75M30.2 59.4h0.75M63.8 60.2h0.75M37.4 60.1h0.75M57.7 58.3h0.75M36.6 61.3h0.75M64.3 56.6h0.75M43.7 60.6h0.75M37.3 57.2h0.75M45.6 60.0h0.75M53.8 58.2h0.75M39.8 57.5h0.75M30.9 61.5h0.75M65.9 57.5h0.75M60.8 58.5h0.75M51.2 62.4h0.75M51.5 57.4h0.75M55.2 60.1h0.75M32.6 60.5h0.75M48.9 59.1h0.75M72.6 58.6h0.75M48.8 59.8h0.75M37.6 59.6h0.75M66.8 59.4h0.75M67.5 59.3h0.75M41.7 59.8h0.75M58.8 57.9h0.75M44.2 57.8h0.75M48.7 59.3h0.75M69.7 58.0h0.75M36.4 57.0h0.75M54.4 58.9h0.75M44.7 61.0h0.75M43.6 59.6h0.75M49.7 60.0h0.75M67.9 62.6h0.75M72.8 58.8h0.75M65.5 61.4h0.75M31.7 58.9h0.75M42.4 58.5h0.75M54.7 57.6h0.75M58.1 61.0h0.75M42.5 58.9h0.75M30.3 57.7h0.75M37.5 62.0h0.75M32.8 58.7h0.75M58.7 57.9h0.75M47.7 58.0h0.75M52.8 60.8h0.75M34.1 58.0h0.75M37.1 58.8h0.75M34.1 60.9h0.75M67.8 58.2h0.75M52.9 59.4h0.75M40.3 60.1h0.75M39.2 57.5h0.75M54.8 59.5h0.75M55.5 60.8h0.75M32.6 60.6h0.75M48.8 58.9h0.75M67.9 59.7h0.75M63.1 57.1h0.75M34.2 58.7h0.75M33.6 61.8h0.75M66.4 59.3h0.75M72.2 58.7h0.75M54.3 60.0h0.75M63.9 59.5h0.75M31.6 58.6h0.75M29.7 59.5h0.75M55.7 60.8h0.75M60.8 59.7h0.75M48.2 60.6h0.75M68.2 61.0h0.75M54.3 58.1h0.75M36.6 62.0h0.75M62.5 57.9h0.75M59.6 58.0h0.75M66.2 61.5h0.75M62.2 60.4h0.75M71.7 60.4h0.75M56.2 59.3h0.75M33.5 59.0h0.75M34.1 56.8h0.75M70.6 58.6h0.75M37.7 58.9h0.75M49.1 58.4h0.75M34.1 60.4h0.75M29.9 57.7h0.75M37.3 61.5h0.75M53.9 61.1h0.75M46.1 58.8h0.75M35.5 61.6h0.75M60.0 60.7h0.75M65.4 58.1h0.75M44.4 59.6h0.75M35.8 59.3h0.75M65.0 56.4h0.75M30.6 59.4h0.75M59.6 60.5h0.75M46.7 61.9h0.75M67.0 58.5h0.75M46.7 59.5h0.75M32.4 60.8h0.75M43.8 57.9h0.75M55.5 60.1h0.75M31.0 62.5h0.75M50.0 60.1h0.75M55.0 60.6h0.75M29.3 58.3h0.75M55.1 60.3h0.75M49.7 59.2h0.75M73.4 59.7h0.75M59.2 60.2h0.75M41.3 59.6h0.75M40.8 59.1h0.75M54.6 61.1h0.75M73.6 55.7h0.75M30.5 58.7h0.75M68.3 57.0h0.75M63.8 58.4h0.75M45.3 58.0h0.75M41.7 57.8h0.75M71.2 60.3h0.75M59.7 56.5h0.75M62.3 58.6h0.75M51.9 61.8h0.75M53.8 58.5h0.75M47.3 58.4h0.75M43.5 60.7h0.75M73.5 59.9h0.75M40.0 58.0h0.75M39.6 59.6h0.75M29.3 58.9h0.75M68.2 60.1h0.75M54.6 57.8h0.75M42.6 59.9h0.75M42.6 59.7h0.75M42.9 59.9h0.75M71.2 59.1h0.75M44.3 57.5h0.75M32.6 61.1h0.75M37.0 58.5h0.75M45.1 55.5h0.75M63.8 57.2h0.75M32.0 56.7h0.75M50.8 60.7h0.75M40.6 60.4h0.75M30.0 58.7h0.75M60.7 60.0h0.75M38.8 60.4h0.75M56.1 58.6h0.75M67.9 60.0h0.75M62.0 58.8h0.75M72.3 58.6h0.75M65.4 58.9h0.75M68.4 59.0h0.75M37.5 59.0h0.75M53.2 60.1h0.75M90.6 60.8h0.75M77.8 57.6h0.75M85.7 58.0h0.75M81.3 61.6h0.75M75.0 58.6h0.75M81.5 57.9h0.75M80.0 61.4h0.75M82.9 59.8h0.75M82.3 58.2h0.75M74.2 58.5h0.75M91.8 61.0h0.75M75.0 58.3h0.75M79.9 57.3h0.75M75.7 57.5h0.75M87.8 59.7h0.75M75.6 59.9h0.75M83.7 59.9h0.75M84.6 57.7h0.75M84.8 57.0h0.75M80.0 58.4h0.75M86.8 59.1h0.75M87.7 58.0h0.75M87.9 59.4h0.75M91.6 57.8h0.75M83.4 58.0h0.75M90.9 59.6h0.75M82.6 59.3h0.75M85.8 59.4h0.75M91.8 59.4h0.75M78.1 57.7h0.75M74.5 59.2h0.75M76.4 58.5h0.75M84.0 61.0h0.75M77.3 59.9h0.75M76.7 60.6h0.75M77.2 58.6h0.75M76.9 58.9h0.75M74.5 55.6h0.75M91.7 59.4h0.75M83.0 58.0h0.75M88.4 58.2h0.75M82.3 58.1h0.75M75.9 57.7h0.75M87.2 62.3h0.75M81.2 61.3h0.75M89.6 60.1h0.75M81.4 61.1h0.75M90.5 60.0h0.75M78.0 61.3h0.75M78.5 58.4h0.75M78.2 59.1h0.75M77.7 60.9h0.75M79.4 59.3h0.75M91.9 56.9h0.75M76.8 59.6h0.75M89.5 61.2h0.75M87.5 60.1h0.75M88.8 58.3h0.75M82.7 58.9h0.75M90.0 60.6h0.75" stroke="#000" stroke-width="0.75" fill="none" opacity="0.66" filter="url(#bl)"/>
<ellipse cx="137" cy="23.7" rx="9.5" ry="6" fill="url(#g)" opacity="0.8"/>
<path d="M141.0 27.6h0.75M132.5 21.8h0.75M127.9 20.7h0.75M139.6 29.7h0.75M131.4 27.7h0.75M139.1 22.3h0.75M147.6 16.4h0.75M136.7 24.3h0.75M147.3 28.9h0.75M148.0 24.1h0.75M141.8 27.7h0.75M139.5 24.7h0.75M136.1 22.5h0.75M131.0 29.4h0.75M134.8 17.6h0.75M138.3 23.6h0.75M137.9 29.0h0.75M136.5 22.9h0.75M133.4 23.6h0.75M134.9 24.3h0.75M152.2 24.8h0.75M132.8 29.3h0.75M141.2 26.1h0.75M140.5 26.1h0.75M140.3 27.8h0.75M141.9 27.6h0.75M134.6 23.7h0.75M133.5 26.5h0.75M141.0 22.3h0.75M139.8 31.4h0.75M143.0 20.4h0.75M136.6 25.6h0.75M136.8 24.8h0.75M142.7 24.7h0.75M131.7 25.8h0.75M136.5 24.0h0.75M134.2 19.7h0.75M130.9 22.7h0.75M131.8 15.8h0.75M142.6 20.3h0.75M133.5 25.3h0.75M125.3 27.6h0.75M133.3 25.6h0.75M134.7 24.6h0.75M137.5 23.7h0.75M128.1 19.4h0.75M136.8 27.8h0.75M134.3 25.3h0.75M137.8 25.1h0.75M141.8 19.3h0.75M138.3 23.2h0.75M135.5 21.2h0.75M133.2 20.7h0.75M131.7 31.0h0.75M145.3 23.7h0.75M140.6 20.8h0.75M123.4 18.4h0.75M137.7 27.9h0.75M136.8 20.8h0.75M135.8 20.8h0.75M130.2 23.0h0.75M135.1 21.3h0.75M132.7 21.0h0.75M138.2 27.8h0.75M136.0 30.2h0.75M129.1 24.5h0.75M131.4 23.2h0.75M137.5 25.3h0.75M142.5 22.1h0.75M130.9 23.1h0.75M138.4 21.7h0.75M141.4 28.6h0.75M130.1 24.8h0.75M142.0 18.1h0.75M138.0 23.0h0.75M130.1 27.5h0.75M138.1 22.3h0.75M139.2 25.6h0.75M140.7 25.4h0.75M139.0 20.3h0.75M134.9 24.1h0.75M123.5 29.9h0.75M135.2 20.6h0.75M128.1 24.4h0.75M137.2 22.0h0.75M135.0 21.1h0.75M133.3 23.4h0.75M133.9 25.7h0.75M136.3 24.1h0.75M139.0 27.4h0.75M139.9 24.4h0.75M136.2 21.3h0.75M135.3 25.7h0.75M138.1 22.6h0.75M130.5 19.2h0.75M138.6 26.7h0.75M138.8 19.7h0.75M136.0 24.3h0.75M132.5 24.7h0.75M136.0 21.3h0.75M130.9 26.1h0.75M138.7 21.1h0.75M132.1 26.3h0.75M139.9 22.8h0.75M144.8 22.9h0.75M131.9 26.9h0.75M136.1 24.7h0.75M137.2 20.8h0.75M131.2 23.1h0.75M143.8 20.8h0.75M143.6 24.3h0.75M131.6 24.5h0.75M139.8 21.1h0.75M126.6 24.7h0.75M131.6 25.0h0.75M127.7 23.3h0.75M133.1 19.4h0.75M135.8 24.2h0.75M134.3 20.3h0.75M138.0 18.6h0.75M139.6 25.1h0.75M145.2 26.3h0.75M138.7 24.5h0.75M137.1 19.8h0.75M144.1 25.2h0.75M135.6 20.4h0.75M144.2 25.3h0.75M131.2 25.7h0.75M146.2 23.6h0.75M138.9 22.5h0.75M133.9 26.8h0.75M152.0 24.0h0.75M136.4 26.0h0.75M135.5 25.8h0.75M141.0 20.7h0.75M131.8 23.5h0.75M141.0 24.5h0.75M143.0 19.7h0.75M139.4 21.9h0.75M137.5 24.6h0.75M132.3 23.0h0.75M131.4 24.5h0.75M132.9 22.3h0.75M138.1 21.8h0.75M142.6 21.8h0.75M141.1 24.5h0.75M132.0 23.1h0.75M132.9 22.6h0.75M135.7 29.0h0.75M135.0 28.3h0.75M139.2 19.9h0.75M125.8 25.7h0.75M127.4 25.8h0.75M142.0 24.8h0.75M136.0 23.0h0.75M138.3 22.8h0.75M134.4 22.6h0.75M142.7 21.9h0.75M138.8 20.4h0.75M133.5 19.7h0.75M136.0 25.7h0.75M138.5 22.3h0.75M140.0 22.7h0.75M138.8 24.5h0.75M139.6 16.5h0.75M130.7 25.9h0.75M136.5 30.2h0.75M135.9 22.1h0.75M144.2 25.3h0.75M146.2 25.2h0.75M136.0 25.8h0.75M133.2 22.4h0.75M134.3 23.1h0.75M140.8 22.3h0.75M138.6 22.3h0.75M141.3 15.7h0.75M136.0 24.2h0.75M131.8 26.6h0.75M138.0 27.4h0.75M141.6 25.6h0.75M136.3 20.5h0.75M135.9 22.4h0.75M138.2 22.4h0.75M151.8 19.1h0.75M142.7 22.3h0.75M135.8 26.4h0.75M137.0 20.2h0.75M139.0 23.1h0.75M127.1 24.3h0.75M131.9 21.5h0.75M139.3 24.6h0.75M135.6 30.0h0.75M139.0 21.9h0.75M138.1 23.3h0.75M126.4 19.1h0.75M130.3 29.7h0.75M136.1 22.9h0.75M134.3 26.5h0.75M137.1 28.6h0.75M140.8 28.5h0.75M136.4 24.8h0.75M134.9 23.2h0.75M128.7 22.0h0.75M132.4 21.8h0.75M142.9 24.5h0.75M142.9 26.2h0.75M141.4 26.6h0.75M134.1 26.0h0.75M135.4 22.2h0.75M142.8 30.0h0.75M132.3 28.7h0.75M141.0 21.2h0.75M138.3 24.8h0.75M138.8 22.7h0.75M130.8 23.8h0.75M141.2 26.0h0.75M140.2 26.9h0.75M132.2 23.6h0.75M138.6 26.6h0.75M137.8 25.2h0.75M137.6 29.8h0.75M126.5 23.6h0.75M148.9 24.4h0.75M128.2 24.1h0.75M130.1 21.7h0.75M138.1 28.7h0.75M139.2 25.6h0.75M141.9 24.3h0.75M132.9 23.4h0.75M138.6 22.9h0.75M133.8 22.7h0.75M129.8 20.7h0.75M136.6 22.7h0.75M137.2 27.8h0.75M138.4 23.6h0.75M131.4 20.6h0.75M138.8 21.2h0.75M139.1 20.6h0.75M137.6 23.5h0.75M141.8 22.6h0.75M135.2 24.4h0.75M137.3 28.6h0.75M135.8 22.2h0.75M135.5 25.1h0.75M138.1 25.7h0.75M130.3 30.9h0.75M145.9 23.6h0.75M131.2 24.1h0.75M139.0 17.3h0.75M137.1 19.4h0.75M139.2 27.7h0.75M142.0 19.4h0.75M143.6 26.3h0.75M135.3 25.1h0.75M144.3 22.7h0.75M136.9 22.1h0.75M142.6 17.5h0.75M143.8 20.9h0.75M141.5 19.0h0.75M132.5 22.0h0.75M141.0 19.0h0.75M139.9 21.9h0.75M143.0 22.8h0.75M139.3 23.2h0.75M145.6 22.7h0.75M136.9 29.4h0.75M137.4 25.7h0.75M133.5 24.3h0.75M126.1 24.0h0.75M133.9 19.4h0.75M130.2 27.0h0.75M139.1 19.3h0.75M145.7 21.7h0.75M135.2 24.4h0.75M131.5 19.0h0.75M133.4 27.1h0.75M141.6 19.1h0.75M142.8 23.8h0.75M139.4 23.8h0.75M139.0 20.8h0.75M132.6 21.7h0.75M135.2 25.5h0.75M131.1 28.3h0.75M134.0 22.0h0.75M140.4 25.0h0.75M135.4 20.6h0.75M132.2 19.1h0.75M142.5 26.8h0.75M146.0 25.1h0.75M138.6 25.9h0.75M141.6 23.0h0.75M138.7 29.9h0.75M128.8 19.6h0.75M132.4 25.9h0.75M142.7 22.7h0.75M140.2 23.6h0.75M138.4 22.1h0.75M136.9 23.7h0.75M142.4 30.1h0.75M128.3 25.2h0.75M137.0 26.5h0.75M142.1 26.0h0.75M140.9 21.0h0.75M128.8 28.5h0.75M142.8 20.9h0.75M143.2 25.6h0.75M125.2 26.3h0.75M132.2 27.1h0.75M133.7 21.6h0.75M129.6 23.1h0.75M141.9 21.8h0.75M128.0 29.9h0.75M145.9 25.7h0.75M134.4 20.2h0.75M129.1 25.3h0.75M143.3 20.6h0.75M137.0 22.9h0.75M135.8 25.2h0.75M147.1 21.9h0.75M141.1 26.8h0.75M135.6 23.3h0.75M130.5 26.8h0.75M134.4 21.8h0.75M137.3 21.2h0.75M132.0 22.8h0.75M144.2 23.1h0.75M139.5 19.5h0.75M127.6 29.0h0.75M135.1 19.2h0.75M136.5 25.5h0.75M128.7 21.1h0.75M138.3 21.0h0.75M140.8 26.5h0.75M139.1 22.5h0.75M136.8 21.9h0.75M136.4 24.6h0.75M135.6 26.5h0.75M149.5 22.1h0.75M138.7 26.1h0.75M140.1 23.0h0.75M134.7 26.6h0.75M140.0 25.2h0.75M133.1 25.5h0.75M140.8 23.2h0.75M140.1 30.0h0.75M127.9 25.5h0.75M131.3 19.7h0.75M135.9 25.3h0.75M137.3 20.3h0.75M130.1 22.1h0.75M137.1 21.3h0.75M129.7 28.8h0.75M132.9 23.2h0.75M134.3 22.0h0.75M137.2 22.8h0.75M140.0 20.3h0.75M129.8 29.4h0.75M136.6 25.9h0.75M142.7 25.3h0.75M137.2 19.2h0.75M129.3 26.5h0.75M140.3 25.4h0.75M129.0 17.5h0.75M131.9 20.3h0.75M137.8 20.7h0.75M144.7 21.9h0.75M134.3 26.2h0.75M138.6 21.1h0.75M141.0 29.3h0.75M131.1 23.0h0.75M131.8 18.1h0.75M140.0 25.7h0.75M141.7 24.9h0.75M127.2 23.6h0.75M133.8 20.3h0.75M131.6 25.9h0.75M135.6 29.4h0.75M139.3 18.1h0.75M141.3 27.3h0.75M137.2 20.2h0.75M145.6 19.9h0.75M136.6 18.1h0.75M130.9 18.7h0.75M142.3 27.1h0.75M135.0 19.7h0.75M136.7 24.8h0.75M129.6 20.3h0.75M136.5 25.8h0.75M137.4 25.0h0.75M130.9 16.4h0.75M138.5 21.0h0.75M136.4 22.6h0.75M139.3 21.4h0.75M144.0 23.8h0.75M139.6 25.5h0.75M142.1 24.9h0.75M128.5 21.9h0.75M146.1 25.1h0.75M139.7 25.1h0.75M133.9 21.7h0.75M133.8 27.1h0.75M138.8 28.9h0.75M139.4 29.2h0.75M139.2 20.2h0.75M145.5 24.7h0.75M142.8 24.3h0.75M135.4 24.2h0.75M131.5 20.2h0.75M132.6 22.2h0.75M130.4 23.4h0.75M138.5 29.7h0.75M146.0 23.6h0.75M141.3 23.1h0.75M138.9 23.6h0.75M134.3 23.9h0.75M129.7 25.0h0.75M135.6 20.5h0.75M135.2 25.3h0.75M133.7 25.1h0.75M139.8 28.3h0.75M112.9 19.8h0.75M125.6 22.9h0.75M122.0 24.0h0.75M125.5 25.6h0.75M131.7 28.4h0.75M131.0 22.3h0.75M109.6 22.3h0.75M113.1 18.2h0.75M126.0 29.6h0.75M123.8 23.7h0.75M112.1 22.9h0.75M123.8 26.2h0.75M109.1 25.9h0.75M112.4 23.1h0.75M128.1 19.0h0.75M119.4 28.6h0.75M111.8 24.4h0.75M127.4 24.1h0.75M130.8 13.6h0.75M127.9 25.0h0.75M111.2 17.3h0.75M110.7 24.1h0.75M113.2 19.7h0.75M114.3 21.7h0.75M125.8 30.1h0.75M131.6 24.1h0.75M126.3 26.6h0.75M117.6 22.8h0.75M111.3 25.5h0.75M108.3 17.5h0.75M117.5 24.2h0.75M108.2 27.3h0.75M119.6 25.9h0.75M109.1 18.3h0.75M109.8 26.2h0.75M116.1 20.7h0.75M120.1 18.5h0.75M124.0 18.5h0.75M130.6 23.9h0.75M117.6 25.5h0.75M111.2 26.6h0.75M113.0 25.8h0.75M123.9 19.1h0.75M125.7 24.3h0.75M126.1 22.1h0.75M109.3 23.6h0.75M124.8 20.0h0.75M125.8 23.8h0.75M125.3 23.5h0.75M119.8 27.8h0.75M123.0 27.6h0.75M109.6 28.6h0.75M113.7 23.9h0.75M117.8 32.6h0.75M123.8 24.6h0.75M126.5 17.4h0.75M132.4 24.6h0.75M128.1 23.5h0.75M114.0 24.2h0.75M131.3 23.4h0.75M131.3 24.1h0.75M124.0 27.9h0.75M111.8 25.4h0.75M108.5 22.0h0.75M132.3 23.3h0.75M125.7 21.7h0.75M112.1 25.4h0.75M120.8 28.6h0.75M130.2 27.6h0.75M130.9 26.7h0.75M121.9 29.4h0.75M128.5 23.3h0.75M122.9 18.7h0.75M128.0 23.1h0.75M121.6 24.1h0.75M115.3 23.7h0.75M126.6 22.9h0.75M108.6 23.4h0.75M119.4 26.0h0.75M111.1 18.1h0.75M118.7 21.9h0.75M110.8 21.4h0.75M116.8 27.2h0.75M110.4 22.6h0.75M129.2 22.4h0.75M110.5 17.0h0.75M127.1 21.4h0.75M111.7 25.2h0.75M127.2 16.2h0.75M108.2 17.7h0.75M125.3 24.6h0.75M123.0 23.9h0.75M118.2 19.7h0.75M123.3 22.8h0.75M126.3 19.0h0.75M127.9 17.5h0.75M125.9 28.4h0.75M108.8 20.0h0.75M118.8 20.6h0.75M130.0 17.5h0.75M119.0 26.5h0.75M125.7 30.1h0.75M116.7 23.2h0.75M116.1 25.9h0.75M132.5 26.1h0.75M124.4 25.1h0.75M128.9 28.1h0.75M132.9 21.0h0.75M114.2 23.2h0.75M118.3 20.6h0.75M130.2 25.5h0.75M131.0 23.5h0.75M127.4 20.6h0.75M130.2 28.0h0.75M110.6 24.3h0.75M128.6 19.4h0.75M117.2 21.4h0.75M121.4 27.3h0.75M121.3 25.1h0.75M124.2 22.8h0.75M118.2 15.9h0.75M130.8 21.4h0.75M110.2 20.1h0.75M113.3 15.4h0.75M108.3 21.6h0.75M114.5 30.0h0.75M112.4 21.1h0.75M118.9 13.7h0.75M126.7 21.3h0.75M126.8 18.7h0.75M108.7 23.2h0.75M125.3 25.7h0.75M132.1 23.8h0.75M124.1 25.6h0.75M122.9 19.3h0.75M125.4 20.7h0.75M109.7 22.8h0.75M108.4 24.3h0.75M110.8 22.1h0.75M120.3 24.6h0.75M114.8 28.0h0.75M127.2 22.3h0.75M115.6 23.8h0.75M118.2 24.5h0.75M126.2 21.9h0.75M110.4 20.0h0.75M128.8 25.9h0.75M108.8 22.0h0.75M129.4 24.3h0.75M128.1 21.2h0.75M108.2 22.0h0.75M112.7 20.9h0.75M124.5 24.8h0.75M122.7 22.1h0.75M111.6 22.1h0.75M110.4 21.5h0.75M124.3 26.3h0.75M122.2 22.9h0.75M108.4 23.4h0.75M129.3 24.4h0.75M117.1 28.8h0.75M126.1 29.2h0.75M114.3 26.8h0.75M117.2 27.5h0.75M114.2 21.7h0.75M127.9 23.0h0.75M127.1 22.5h0.75M113.6 26.3h0.75M117.6 24.0h0.75M117.1 25.3h0.75M132.2 23.0h0.75M139.2 28.1h0.75M130.1 17.0h0.75M137.7 31.9h0.75M134.1 31.5h0.75M126.0 33.1h0.75M140.6 32.2h0.75M132.9 30.6h0.75M138.5 38.6h0.75M139.6 32.0h0.75M132.1 36.9h0.75M146.3 26.1h0.75M142.3 32.5h0.75M137.1 19.7h0.75M150.7 15.1h0.75M139.8 27.0h0.75M146.1 26.6h0.75M137.8 34.9h0.75M140.9 25.8h0.75M142.6 33.1h0.75M144.9 25.9h0.75M137.2 26.9h0.75M131.2 32.0h0.75M140.6 41.3h0.75M135.1 33.1h0.75M146.1 29.1h0.75M138.0 31.1h0.75M132.3 22.1h0.75M145.9 31.4h0.75M136.9 20.1h0.75M138.4 39.4h0.75M128.9 22.9h0.75M145.8 41.4h0.75M149.1 25.6h0.75M142.0 24.0h0.75M141.4 27.1h0.75M139.0 40.7h0.75M140.0 28.1h0.75M137.9 32.1h0.75M133.7 31.6h0.75M142.0 42.4h0.75M122.1 20.5h0.75M128.3 37.0h0.75M155.7 31.5h0.75M138.4 39.1h0.75M119.3 28.6h0.75M114.3 31.2h0.75M133.7 26.1h0.75M140.0 25.4h0.75M145.8 30.0h0.75M140.3 50.2h0.75M134.2 37.4h0.75M131.3 39.9h0.75M144.7 31.1h0.75M144.9 42.8h0.75M147.8 30.0h0.75M137.1 38.8h0.75M126.6 25.2h0.75M141.1 34.5h0.75M151.3 44.0h0.75M139.9 33.5h0.75M127.7 28.5h0.75M139.4 28.2h0.75M137.9 34.8h0.75M130.4 25.5h0.75M124.3 39.1h0.75M129.7 16.5h0.75M143.2 28.3h0.75M144.7 27.1h0.75M153.3 35.7h0.75M138.6 30.9h0.75M136.0 36.4h0.75M152.3 26.7h0.75M129.4 34.7h0.75M145.4 18.2h0.75M132.4 22.1h0.75M141.7 34.0h0.75M132.1 21.1h0.75M142.6 13.8h0.75M142.3 28.8h0.75M151.7 37.9h0.75M133.2 27.8h0.75M135.4 24.3h0.75M138.1 37.6h0.75M126.3 28.2h0.75M148.5 35.9h0.75M131.5 23.6h0.75M131.2 17.3h0.75M146.0 30.5h0.75M132.3 18.7h0.75M134.7 26.0h0.75M150.2 26.4h0.75M138.4 38.4h0.75M142.4 28.6h0.75M121.4 41.0h0.75M141.9 26.6h0.75M136.8 22.5h0.75M130.9 18.3h0.75M141.2 34.1h0.75M138.8 36.1h0.75M141.5 31.0h0.75M131.0 34.6h0.75M146.3 35.0h0.75M146.7 26.3h0.75M130.3 39.8h0.75M133.2 31.9h0.75M136.1 30.2h0.75M135.5 25.8h0.75M124.4 45.0h0.75M139.0 14.9h0.75M130.8 21.2h0.75M132.0 10.0h0.75M141.7 42.9h0.75M135.7 35.8h0.75M141.9 20.2h0.75M146.5 16.8h0.75M133.3 27.2h0.75M146.7 30.9h0.75M136.6 23.7h0.75M138.2 30.3h0.75M142.9 40.9h0.75M142.9 30.1h0.75M136.4 42.5h0.75M139.0 29.9h0.75M150.7 42.3h0.75M141.7 29.1h0.75M132.8 38.4h0.75M134.2 37.5h0.75M131.8 30.8h0.75M140.5 31.1h0.75M139.2 33.0h0.75M129.3 21.3h0.75M136.4 44.1h0.75M136.6 22.7h0.75M132.7 30.3h0.75M146.2 25.6h0.75M141.6 31.5h0.75M134.9 22.6h0.75M136.4 24.3h0.75M141.4 16.2h0.75M145.8 35.9h0.75M141.7 41.7h0.75M141.9 16.6h0.75M137.9 33.5h0.75M132.5 21.2h0.75M140.7 34.0h0.75M134.4 28.1h0.75M133.8 25.6h0.75M137.1 38.4h0.75M125.7 27.3h0.75M149.3 32.5h0.75M138.6 36.5h0.75M130.2 20.6h0.75M125.4 18.6h0.75M139.3 36.6h0.75M134.5 24.7h0.75M140.5 34.8h0.75M139.4 15.1h0.75M133.5 10.3h0.75M139.3 23.4h0.75M132.7 41.7h0.75M147.2 33.8h0.75M139.5 31.3h0.75M133.2 29.6h0.75M151.5 23.2h0.75M132.7 31.3h0.75M144.0 36.5h0.75M130.4 29.0h0.75M135.6 20.4h0.75M138.1 26.3h0.75M144.2 33.4h0.75M131.8 30.6h0.75M134.9 25.1h0.75M134.0 38.3h0.75M134.5 16.7h0.75M131.9 36.3h0.75M153.2 21.8h0.75M134.9 27.4h0.75M127.2 33.1h0.75M137.1 32.2h0.75M153.8 27.9h0.75M143.3 36.5h0.75M132.9 25.4h0.75M148.9 35.6h0.75M138.5 21.5h0.75M143.9 34.1h0.75M153.5 41.5h0.75M143.4 32.1h0.75M138.0 25.7h0.75M139.8 31.9h0.75M142.3 38.5h0.75M139.8 25.8h0.75M143.4 42.1h0.75M131.4 33.3h0.75M141.5 34.2h0.75M141.2 29.3h0.75M136.8 43.1h0.75M150.1 19.1h0.75M119.0 33.4h0.75M132.6 26.0h0.75" stroke="#000" stroke-width="0.75" fill="none" opacity="0.7" filter="url(#bl)"/>
<path d="M127.7 49.6h0.75M139.1 35.1h0.75M142.2 34.6h0.75M151.2 51.5h0.75M134.6 38.1h0.75M140.8 43.3h0.75M140.4 52.5h0.75M136.8 39.7h0.75M141.6 40.2h0.75M145.8 36.5h0.75M127.3 52.7h0.75M142.5 45.8h0.75M147.2 46.6h0.75M137.7 53.6h0.75M142.1 52.4h0.75M135.4 51.7h0.75M136.4 41.0h0.75M142.7 40.5h0.75M134.9 37.5h0.75M139.0 53.8h0.75M129.8 53.3h0.75M141.5 50.1h0.75M137.5 51.3h0.75M150.5 55.8h0.75M135.6 51.5h0.75M127.0 38.1h0.75M133.7 52.2h0.75M132.1 35.2h0.75M131.7 51.7h0.75M135.7 40.3h0.75M143.5 53.1h0.75M127.3 35.3h0.75M146.2 48.2h0.75M133.3 47.7h0.75M148.6 45.1h0.75M140.6 42.9h0.75M131.4 50.8h0.75M145.9 52.9h0.75M138.2 38.0h0.75M142.3 34.4h0.75M136.4 51.1h0.75M138.2 37.5h0.75M139.0 49.8h0.75M138.0 36.8h0.75M131.1 51.3h0.75M138.4 54.9h0.75M133.9 53.5h0.75M144.9 43.3h0.75M144.9 39.5h0.75M131.2 53.0h0.75M134.5 46.1h0.75M135.7 51.9h0.75M130.1 42.0h0.75M136.2 53.1h0.75M134.9 40.7h0.75M133.5 40.7h0.75M145.9 35.0h0.75M134.6 53.9h0.75M144.8 42.4h0.75M138.7 49.2h0.75M134.6 44.6h0.75M138.1 51.7h0.75M138.4 37.3h0.75M131.5 49.9h0.75M138.3 53.2h0.75M133.0 55.8h0.75M131.6 49.0h0.75M139.4 54.3h0.75M138.5 39.9h0.75M141.9 49.6h0.75M139.9 44.0h0.75M144.0 48.0h0.75M146.3 56.0h0.75M148.8 45.5h0.75M138.1 53.8h0.75M133.3 45.2h0.75M137.7 40.7h0.75M124.9 54.2h0.75M137.3 44.1h0.75M138.3 53.6h0.75M149.1 44.3h0.75M128.3 54.4h0.75M133.9 47.1h0.75M135.8 51.3h0.75M129.8 38.2h0.75M140.8 38.6h0.75M130.7 43.2h0.75M140.5 34.2h0.75M142.5 49.2h0.75M137.2 50.0h0.75M112.7 34.1h0.75M118.3 32.2h0.75M120.1 49.7h0.75M112.0 42.1h0.75M122.4 46.0h0.75M122.2 45.1h0.75M113.5 48.1h0.75M126.5 29.3h0.75M126.9 38.6h0.75M109.7 29.7h0.75M123.9 44.3h0.75M110.8 39.0h0.75M120.8 51.9h0.75M114.7 46.4h0.75M112.9 32.8h0.75M111.2 37.8h0.75M120.4 35.3h0.75M111.2 33.2h0.75M109.7 32.6h0.75M114.3 40.1h0.75M111.7 39.5h0.75M116.8 51.4h0.75M117.7 50.7h0.75M117.4 32.8h0.75M119.8 31.5h0.75M122.0 24.8h0.75M127.3 25.4h0.75M116.5 20.9h0.75M115.0 26.1h0.75M111.0 22.5h0.75M125.3 20.3h0.75M125.0 23.6h0.75M122.6 23.8h0.75M126.4 20.6h0.75M116.0 28.5h0.75M119.1 20.9h0.75M121.3 25.4h0.75M110.9 23.1h0.75M115.3 14.3h0.75M119.8 28.2h0.75M121.5 18.3h0.75M119.0 18.8h0.75M116.1 32.1h0.75M126.0 24.8h0.75M124.0 25.8h0.75M117.6 27.5h0.75M117.9 24.6h0.75M115.0 18.4h0.75M118.6 30.4h0.75M117.5 29.2h0.75M114.7 21.5h0.75M123.7 19.8h0.75M113.2 27.6h0.75M115.3 21.3h0.75M126.3 26.9h0.75M114.6 20.9h0.75M124.4 23.2h0.75M108.4 27.3h0.75M111.9 29.2h0.75M110.9 30.7h0.75M112.6 26.6h0.75M122.7 26.9h0.75M122.4 25.1h0.75M119.0 32.2h0.75M126.4 18.8h0.75M116.7 31.7h0.75M111.9 28.9h0.75M115.7 23.9h0.75M109.9 16.1h0.75M119.9 28.7h0.75M127.5 19.2h0.75M110.5 25.3h0.75M108.4 24.3h0.75M110.2 22.5h0.75M111.2 18.6h0.75M121.4 26.3h0.75M127.4 29.0h0.75M116.7 16.9h0.75M115.8 32.5h0.75M127.5 23.9h0.75M127.9 26.9h0.75M111.6 23.3h0.75M111.0 21.6h0.75M109.2 20.1h0.75M118.6 29.3h0.75" stroke="#000" stroke-width="0.75" fill="none" opacity="0.45" filter="url(#bl)"/>
<path d="M126.2 59.2h0.75M141.1 59.0h0.75M145.0 57.9h0.75M133.0 58.6h0.75M147.6 58.6h0.75M144.0 60.7h0.75M113.6 61.1h0.75M114.9 58.4h0.75M107.7 57.7h0.75M141.6 60.9h0.75M107.7 59.8h0.75M141.4 57.6h0.75M131.7 57.5h0.75M138.5 60.5h0.75M148.1 56.2h0.75M147.0 61.5h0.75M123.5 58.4h0.75M118.9 58.5h0.75M141.0 61.6h0.75M142.4 57.9h0.75M121.0 61.7h0.75M139.7 59.3h0.75M114.2 59.2h0.75M144.0 61.5h0.75M146.7 58.2h0.75M111.0 59.5h0.75M113.8 61.7h0.75M139.8 58.3h0.75M132.4 56.5h0.75M125.7 57.9h0.75M140.5 60.0h0.75M111.9 59.1h0.75M144.5 59.3h0.75M126.3 60.1h0.75M138.5 59.2h0.75M135.1 58.3h0.75M138.2 60.8h0.75M116.6 60.4h0.75M123.2 58.7h0.75M146.6 58.4h0.75M125.6 64.3h0.75M131.8 57.6h0.75M126.9 60.3h0.75M144.2 57.0h0.75M127.6 56.4h0.75M112.5 61.5h0.75M136.4 59.4h0.75M109.8 58.6h0.75M139.0 61.3h0.75M113.1 59.3h0.75M118.1 58.4h0.75M142.1 58.3h0.75M111.2 61.1h0.75M143.7 59.8h0.75M127.2 59.7h0.75M127.4 59.2h0.75M122.1 58.9h0.75M147.1 57.0h0.75M142.1 59.7h0.75M112.6 60.1h0.75M121.8 60.1h0.75M114.5 61.0h0.75M140.9 60.9h0.75M118.1 58.7h0.75M146.0 60.3h0.75M133.5 58.8h0.75M134.3 61.9h0.75M130.2 58.9h0.75M111.7 60.4h0.75M146.3 58.1h0.75M139.2 60.2h0.75M117.4 57.3h0.75M148.4 56.7h0.75M146.7 60.0h0.75M131.0 60.6h0.75M124.7 61.3h0.75M127.5 59.8h0.75M128.5 60.1h0.75M131.0 59.2h0.75M139.9 60.8h0.75M145.2 58.6h0.75M123.1 58.9h0.75M113.5 63.5h0.75M132.2 58.3h0.75M130.8 60.8h0.75M120.8 59.1h0.75M112.8 60.4h0.75M119.6 59.6h0.75M147.8 58.1h0.75M136.6 58.0h0.75M134.4 57.0h0.75M130.6 62.2h0.75M122.8 60.9h0.75M133.2 57.7h0.75M117.9 58.2h0.75M148.8 63.2h0.75M131.0 59.6h0.75M116.2 59.5h0.75M143.1 58.6h0.75M135.9 59.4h0.75M149.7 58.0h0.75M136.3 56.3h0.75M109.6 59.4h0.75M125.6 59.3h0.75M131.7 60.7h0.75M107.9 59.1h0.75M132.6 56.6h0.75M142.5 61.0h0.75M115.1 60.4h0.75M142.9 59.5h0.75M118.9 62.2h0.75M144.9 61.5h0.75M148.6 58.1h0.75M124.7 59.3h0.75M142.8 59.2h0.75M149.2 58.9h0.75M119.0 61.3h0.75M113.8 61.0h0.75M148.0 57.9h0.75M149.7 61.1h0.75M135.3 61.5h0.75M114.3 59.3h0.75M122.8 59.1h0.75M145.8 57.5h0.75M114.2 59.4h0.75M113.8 60.2h0.75M114.3 57.1h0.75M128.9 58.0h0.75M125.0 57.7h0.75M130.6 58.5h0.75M125.5 59.9h0.75M117.6 59.4h0.75M142.5 59.4h0.75M117.8 58.3h0.75M124.0 60.8h0.75M121.8 60.3h0.75M136.0 59.5h0.75M143.0 58.3h0.75M146.8 57.7h0.75M133.2 59.9h0.75M111.0 59.6h0.75M121.6 59.9h0.75M125.5 61.2h0.75M120.6 60.5h0.75M117.9 55.9h0.75M114.1 59.1h0.75M146.2 58.9h0.75M137.5 60.6h0.75M109.4 58.6h0.75M112.7 59.8h0.75M114.2 60.6h0.75M134.1 57.6h0.75M121.8 61.1h0.75M111.9 60.0h0.75M129.2 59.3h0.75M114.6 57.0h0.75M135.6 58.6h0.75M111.4 58.0h0.75M117.0 59.5h0.75M124.4 59.3h0.75M136.7 59.6h0.75M149.7 60.0h0.75M136.0 58.8h0.75M117.0 60.4h0.75M125.8 57.5h0.75M114.1 60.7h0.75M149.6 61.1h0.75M146.6 60.2h0.75M128.3 60.8h0.75M115.7 60.4h0.75M141.9 58.6h0.75M119.9 57.9h0.75M127.6 61.9h0.75M113.5 58.3h0.75M136.6 58.6h0.75M137.1 59.5h0.75M109.4 55.8h0.75M137.9 57.5h0.75M121.2 59.6h0.75M109.8 58.7h0.75M122.3 57.3h0.75M137.1 58.2h0.75M119.3 57.8h0.75M149.1 61.2h0.75M111.4 59.3h0.75M138.4 59.4h0.75M114.1 60.8h0.75M144.6 57.8h0.75M123.7 59.2h0.75M136.0 58.7h0.75M122.5 59.8h0.75M144.7 59.4h0.75M146.1 60.7h0.75M140.9 59.4h0.75M148.7 60.7h0.75M134.9 57.9h0.75M115.9 61.2h0.75M129.5 58.8h0.75M123.4 58.0h0.75M129.2 59.5h0.75M119.3 58.5h0.75M128.9 58.8h0.75M135.7 57.8h0.75M115.4 59.4h0.75M140.2 58.2h0.75M137.4 59.2h0.75M118.1 59.8h0.75M146.8 57.6h0.75M119.8 57.9h0.75M124.6 59.3h0.75M128.0 58.7h0.75M138.6 56.7h0.75M122.7 59.8h0.75M120.5 61.0h0.75M138.7 57.8h0.75M116.3 61.3h0.75M135.3 59.7h0.75M136.2 62.0h0.75M119.1 57.9h0.75M110.1 57.7h0.75M148.4 59.2h0.75M129.8 59.7h0.75M141.7 57.5h0.75M117.2 56.0h0.75M141.3 59.0h0.75M138.8 60.0h0.75M119.0 58.0h0.75M128.2 59.5h0.75M143.6 58.6h0.75M144.4 56.3h0.75M120.8 57.9h0.75M148.9 60.0h0.75M119.4 59.8h0.75M146.7 60.2h0.75M143.7 60.2h0.75M145.4 58.3h0.75M140.3 58.5h0.75M123.4 59.8h0.75M126.2 61.8h0.75M124.4 61.6h0.75M108.4 58.4h0.75M124.1 58.8h0.75M123.3 59.2h0.75M139.9 59.6h0.75M134.0 58.3h0.75M115.5 61.4h0.75M133.5 61.6h0.75M120.0 59.7h0.75M146.1 60.3h0.75M117.4 62.2h0.75M121.2 57.7h0.75M109.0 58.4h0.75M133.1 58.4h0.75M129.2 61.3h0.75M120.7 60.1h0.75M125.2 60.1h0.75M112.4 57.3h0.75M149.4 61.9h0.75M117.9 59.6h0.75M132.5 62.4h0.75M141.3 59.1h0.75M141.9 59.7h0.75M127.9 59.1h0.75M149.4 62.0h0.75M117.2 60.8h0.75M134.1 59.9h0.75M130.8 59.9h0.75M124.0 56.6h0.75M118.5 59.6h0.75M139.5 58.7h0.75M111.4 55.0h0.75M127.1 61.1h0.75M111.5 59.4h0.75M111.4 59.5h0.75M129.1 58.3h0.75M119.8 60.6h0.75M149.2 58.9h0.75M114.7 57.7h0.75M123.3 57.7h0.75M144.1 59.3h0.75M122.7 60.2h0.75M121.8 62.4h0.75M119.6 58.0h0.75M111.1 58.1h0.75M112.4 60.8h0.75M135.4 59.0h0.75M121.5 58.1h0.75M143.4 59.1h0.75M148.2 58.6h0.75M122.8 60.7h0.75M135.7 58.7h0.75M135.8 59.9h0.75M117.4 58.0h0.75M141.1 59.9h0.75M123.4 56.7h0.75M138.7 60.2h0.75M148.3 60.4h0.75M136.5 59.6h0.75M127.6 58.6h0.75M115.9 57.8h0.75M137.0 60.4h0.75M118.5 61.3h0.75M133.6 58.9h0.75M114.8 58.8h0.75M130.9 58.1h0.75M113.2 59.3h0.75M113.2 57.3h0.75M120.6 59.6h0.75M133.7 58.6h0.75M140.6 57.7h0.75M126.3 58.4h0.75M142.8 58.9h0.75M123.0 57.1h0.75M126.6 58.4h0.75M135.2 62.1h0.75M112.0 58.9h0.75M147.2 59.1h0.75M148.8 59.1h0.75M143.4 59.2h0.75M115.0 58.2h0.75M108.2 60.3h0.75M145.3 57.8h0.75M136.8 56.8h0.75M130.1 60.4h0.75M145.7 60.1h0.75M121.9 58.6h0.75M110.3 60.7h0.75M110.6 59.6h0.75M114.3 58.9h0.75M119.9 58.9h0.75M146.0 58.8h0.75M144.5 62.7h0.75M141.3 61.0h0.75M119.4 59.3h0.75M138.6 61.9h0.75M117.2 58.2h0.75M131.0 62.3h0.75M133.5 61.3h0.75M137.2 59.9h0.75M127.2 58.8h0.75M115.9 59.8h0.75M148.1 57.8h0.75M142.8 58.9h0.75M118.0 61.8h0.75M117.0 58.9h0.75M116.7 58.0h0.75M129.2 60.8h0.75M128.8 59.0h0.75M139.2 61.9h0.75M144.7 59.8h0.75M122.3 58.8h0.75M138.6 60.2h0.75M129.8 58.6h0.75M114.0 58.1h0.75M129.0 60.9h0.75M140.9 58.6h0.75M122.5 60.2h0.75M142.0 61.7h0.75M134.5 60.4h0.75M128.0 60.1h0.75M116.8 58.0h0.75M126.1 60.8h0.75M118.3 62.1h0.75M142.8 59.4h0.75M134.1 57.5h0.75M112.8 58.7h0.75M144.2 59.6h0.75M140.9 58.2h0.75M126.1 58.2h0.75M136.1 56.9h0.75M111.8 60.3h0.75M125.0 59.1h0.75M116.9 58.5h0.75M144.3 59.3h0.75M115.3 58.8h0.75M132.0 60.0h0.75M130.4 60.0h0.75M126.2 61.0h0.75M108.2 56.5h0.75M147.0 59.3h0.75M140.1 59.5h0.75M131.7 59.8h0.75M140.7 58.4h0.75M120.5 59.2h0.75M131.8 59.2h0.75M135.0 58.3h0.75M110.3 58.2h0.75M134.8 60.6h0.75M130.9 59.1h0.75M138.7 58.6h0.75M144.5 61.7h0.75M109.6 61.1h0.75M118.2 59.4h0.75M111.2 60.0h0.75M120.3 58.3h0.75M127.1 59.5h0.75M138.2 57.6h0.75M112.3 61.3h0.75M121.5 59.4h0.75M112.1 59.6h0.75M149.8 58.5h0.75M116.4 56.9h0.75M125.0 61.9h0.75M147.1 60.0h0.75M110.6 58.4h0.75M147.8 60.2h0.75M126.1 57.8h0.75M140.2 59.3h0.75M115.1 60.2h0.75M124.8 57.9h0.75M135.6 60.6h0.75M131.3 58.4h0.75M117.9 57.5h0.75M131.2 59.9h0.75M123.2 59.8h0.75M144.9 58.9h0.75M134.1 59.6h0.75M134.4 59.4h0.75M113.1 60.3h0.75M120.3 58.0h0.75M116.2 58.8h0.75M134.8 57.0h0.75M108.4 58.2h0.75M126.3 57.6h0.75M121.8 58.5h0.75M112.9 61.2h0.75M141.1 58.8h0.75M120.5 58.3h0.75M112.4 56.8h0.75M138.6 58.6h0.75M108.6 62.6h0.75M138.3 60.9h0.75M124.3 58.8h0.75M128.8 60.1h0.75M129.7 58.7h0.75M120.3 59.8h0.75M126.0 60.8h0.75M117.2 59.1h0.75M135.0 60.7h0.75M142.9 59.1h0.75M119.3 57.4h0.75M112.2 61.0h0.75M144.6 61.0h0.75M116.1 59.8h0.75M119.2 57.0h0.75M114.0 60.3h0.75M147.4 57.8h0.75M145.6 59.2h0.75M125.2 59.5h0.75M108.9 61.3h0.75M120.4 56.3h0.75M132.4 60.5h0.75M146.8 59.3h0.75M112.1 58.9h0.75M108.3 58.6h0.75M123.5 61.7h0.75M108.2 60.6h0.75M113.9 60.6h0.75M111.3 59.5h0.75M115.8 60.0h0.75M142.4 58.6h0.75M125.2 59.3h0.75M143.2 59.4h0.75M109.5 60.5h0.75M147.6 59.4h0.75M124.8 58.7h0.75M111.8 57.0h0.75M110.2 57.7h0.75M138.1 58.7h0.75M119.3 57.5h0.75M126.1 58.4h0.75M119.5 59.4h0.75M119.2 58.3h0.75M134.8 58.8h0.75M128.6 61.7h0.75M117.2 60.8h0.75M128.9 60.7h0.75M138.1 60.6h0.75M145.4 58.3h0.75M119.1 60.5h0.75M149.6 62.5h0.75M147.6 59.0h0.75M133.5 59.3h0.75M116.2 62.1h0.75M141.9 61.6h0.75M131.2 59.4h0.75M115.0 62.0h0.75M118.5 60.8h0.75M127.2 58.7h0.75M137.8 58.7h0.75M111.9 61.2h0.75M127.7 60.7h0.75M109.3 58.0h0.75M115.6 57.6h0.75M125.6 60.8h0.75M123.4 59.0h0.75M135.1 58.6h0.75M124.6 57.1h0.75M115.5 57.8h0.75M147.9 58.6h0.75M149.7 61.9h0.75M127.3 58.8h0.75M139.1 60.0h0.75M137.9 58.5h0.75M144.9 62.0h0.75M118.9 58.3h0.75M120.8 59.8h0.75M123.2 57.7h0.75M143.4 60.3h0.75M136.0 56.6h0.75M131.6 59.8h0.75M116.5 60.2h0.75M114.1 59.0h0.75M138.0 60.0h0.75M121.5 59.9h0.75M143.6 62.3h0.75M124.3 59.0h0.75M108.0 60.5h0.75M108.0 58.1h0.75M144.1 60.0h0.75M161.5 59.3h0.75M152.7 59.3h0.75M151.2 59.3h0.75M158.5 59.7h0.75M153.0 57.7h0.75M153.4 58.4h0.75M161.9 60.8h0.75M160.6 59.0h0.75M150.3 61.5h0.75M158.5 61.5h0.75M156.6 60.2h0.75M159.8 57.0h0.75M153.2 60.4h0.75M154.8 60.9h0.75M156.9 60.2h0.75M159.4 61.6h0.75M161.1 57.8h0.75M159.7 57.7h0.75M161.1 58.0h0.75M154.5 58.7h0.75M158.5 60.5h0.75M161.2 60.2h0.75M161.2 57.9h0.75M159.3 57.4h0.75M159.1 57.6h0.75M153.8 59.9h0.75M159.7 61.0h0.75M153.0 60.7h0.75M151.5 57.9h0.75M151.6 56.2h0.75M161.4 57.9h0.75M162.0 59.4h0.75M157.6 56.6h0.75M152.1 60.3h0.75M150.9 60.3h0.75M155.4 59.1h0.75M154.9 61.1h0.75M161.5 59.5h0.75M159.4 56.6h0.75M157.0 60.9h0.75" stroke="#000" stroke-width="0.75" fill="none" opacity="0.66" filter="url(#bl)"/>
<clipPath id="c13"><rect x="184.6" y="4" width="73" height="62"/></clipPath>
<g clip-path="url(#c13)">
<ellipse cx="197" cy="24" rx="15" ry="5.5" fill="url(#g)" opacity="0.8"/>
</g>
<path d="M197.8 24.2h0.75M195.3 26.4h0.75M193.4 22.0h0.75M200.8 21.4h0.75M193.7 25.9h0.75M185.3 24.0h0.75M196.0 24.8h0.75M206.7 24.5h0.75M206.8 21.6h0.75M200.2 17.1h0.75M195.0 23.6h0.75M191.8 23.8h0.75M199.1 23.3h0.75M194.8 23.3h0.75M187.7 21.2h0.75M204.0 24.1h0.75M188.0 25.2h0.75M200.6 20.4h0.75M204.7 29.7h0.75M186.2 18.0h0.75M192.2 27.0h0.75M208.9 21.1h0.75M191.4 26.7h0.75M200.0 18.7h0.75M204.8 22.3h0.75M201.0 25.6h0.75M209.1 22.3h0.75M199.7 27.1h0.75M210.8 27.1h0.75M185.8 22.1h0.75M203.9 20.6h0.75M210.2 24.9h0.75M201.5 21.7h0.75M198.9 21.8h0.75M185.4 22.1h0.75M193.3 17.5h0.75M205.5 24.7h0.75M185.8 23.3h0.75M191.2 21.0h0.75M194.9 20.0h0.75M198.7 24.6h0.75M200.7 28.3h0.75M209.8 22.3h0.75M205.3 27.3h0.75M198.4 26.0h0.75M195.0 23.4h0.75M189.5 21.1h0.75M199.5 28.2h0.75M185.5 25.0h0.75M192.0 17.5h0.75M189.2 17.4h0.75M206.9 24.3h0.75M209.1 21.2h0.75M186.7 26.1h0.75M188.5 23.2h0.75M192.9 25.4h0.75M188.2 22.9h0.75M205.8 20.5h0.75M206.3 22.4h0.75M206.3 23.9h0.75M206.1 25.4h0.75M191.0 30.5h0.75M206.5 29.6h0.75M187.5 24.0h0.75M201.5 24.5h0.75M206.6 19.2h0.75M206.7 26.5h0.75M208.9 23.8h0.75M202.8 22.3h0.75M207.1 27.9h0.75M191.5 21.9h0.75M199.1 23.1h0.75M208.1 27.7h0.75M191.3 28.2h0.75M188.2 22.6h0.75M205.2 20.0h0.75M187.6 24.2h0.75M192.3 21.6h0.75M206.2 24.4h0.75M189.1 20.9h0.75M207.9 26.0h0.75M189.2 25.6h0.75M187.4 28.2h0.75M202.4 26.1h0.75M202.3 25.8h0.75M207.7 25.1h0.75M185.8 21.4h0.75M193.9 25.7h0.75M203.6 24.2h0.75M205.4 28.9h0.75M188.3 19.7h0.75M195.0 23.1h0.75M204.2 23.4h0.75M190.6 26.2h0.75M207.5 23.0h0.75M201.6 26.0h0.75M209.0 21.3h0.75M209.4 24.3h0.75M207.4 20.6h0.75M191.7 25.1h0.75M198.1 23.9h0.75M205.0 25.3h0.75M210.8 25.7h0.75M197.5 26.5h0.75M208.2 20.0h0.75M194.8 27.6h0.75M204.3 26.8h0.75M209.0 26.8h0.75M198.4 22.7h0.75M192.5 22.0h0.75M208.7 21.0h0.75M208.6 25.0h0.75M210.1 26.9h0.75M188.6 22.6h0.75M207.7 27.5h0.75M195.7 22.1h0.75M207.0 24.6h0.75M206.3 24.0h0.75M190.6 20.3h0.75M204.6 27.7h0.75M190.1 21.2h0.75M205.8 24.6h0.75M210.4 23.9h0.75M190.8 22.8h0.75M200.0 21.9h0.75M208.1 26.0h0.75M194.5 27.7h0.75M187.8 22.7h0.75M200.2 27.1h0.75M196.6 25.4h0.75M194.1 26.9h0.75M195.9 23.7h0.75M200.4 27.1h0.75M199.1 29.8h0.75M193.2 22.1h0.75M197.8 25.0h0.75M199.6 16.6h0.75M190.4 26.6h0.75M194.0 25.6h0.75M205.3 24.5h0.75M205.3 25.6h0.75M196.5 22.7h0.75M186.1 20.6h0.75M186.7 23.2h0.75M194.9 21.9h0.75M208.9 20.3h0.75M186.7 25.0h0.75M199.4 21.9h0.75M186.1 22.9h0.75M197.7 22.4h0.75M201.3 28.5h0.75M192.3 25.0h0.75M189.8 22.1h0.75M189.7 24.7h0.75M203.6 25.2h0.75M194.0 21.2h0.75M202.0 25.3h0.75M195.2 20.5h0.75M210.3 22.3h0.75M202.5 23.3h0.75M187.6 20.1h0.75M193.7 23.2h0.75M185.3 24.7h0.75M196.6 29.3h0.75M203.7 27.3h0.75M192.8 20.4h0.75M192.8 24.5h0.75M203.8 28.3h0.75M199.9 21.2h0.75M206.2 27.8h0.75M210.6 26.7h0.75M185.3 23.8h0.75M199.2 24.5h0.75M195.1 23.5h0.75M190.4 24.3h0.75M205.4 21.6h0.75M197.7 19.5h0.75M186.0 22.5h0.75M197.3 24.3h0.75M185.0 22.1h0.75M204.9 23.8h0.75M201.5 28.1h0.75M202.4 19.7h0.75M190.4 25.6h0.75M203.9 20.3h0.75M190.1 23.2h0.75M187.5 23.0h0.75M194.1 26.4h0.75M189.5 23.5h0.75M204.0 20.4h0.75M188.8 27.5h0.75M187.5 27.1h0.75M192.0 24.0h0.75M208.0 27.4h0.75M204.5 26.1h0.75M203.1 23.1h0.75M209.7 22.0h0.75M209.9 23.2h0.75M193.3 26.5h0.75M190.2 24.2h0.75M185.6 18.6h0.75M206.7 26.5h0.75M208.4 23.8h0.75M192.1 24.4h0.75M194.5 24.3h0.75M188.1 25.4h0.75M200.0 24.9h0.75M196.6 25.9h0.75M205.1 22.8h0.75M203.8 27.2h0.75M205.6 20.5h0.75M199.6 29.2h0.75M188.5 21.5h0.75M208.0 24.4h0.75M209.1 23.0h0.75M208.1 23.2h0.75M191.2 28.3h0.75M198.9 24.9h0.75M198.0 25.3h0.75M202.3 21.8h0.75M196.1 25.4h0.75M210.5 27.7h0.75M186.1 25.7h0.75M192.1 28.1h0.75M198.7 25.2h0.75M189.5 25.1h0.75M201.2 24.3h0.75M207.4 22.8h0.75M204.9 25.4h0.75M197.2 25.4h0.75M195.3 26.3h0.75M209.9 22.9h0.75M208.2 19.9h0.75M190.2 30.1h0.75M188.1 17.6h0.75M207.1 22.1h0.75M200.6 24.7h0.75M187.6 19.4h0.75M205.4 25.3h0.75M203.8 23.7h0.75M195.7 22.3h0.75M204.5 27.9h0.75M195.0 30.3h0.75M205.9 25.8h0.75M192.8 19.0h0.75M199.2 24.9h0.75M187.1 27.2h0.75M207.3 24.5h0.75M210.3 22.7h0.75M209.6 21.4h0.75M203.3 25.1h0.75M203.9 23.7h0.75M209.0 23.6h0.75M196.4 23.7h0.75M192.2 19.7h0.75M185.8 21.1h0.75M186.1 26.0h0.75M188.6 23.0h0.75M190.5 28.6h0.75M188.8 23.9h0.75M200.2 27.3h0.75M188.4 21.5h0.75M185.1 18.2h0.75M195.9 27.5h0.75M187.7 33.2h0.75M209.8 27.4h0.75M186.1 26.5h0.75M203.1 20.2h0.75M188.8 20.7h0.75M198.3 24.1h0.75M207.8 24.5h0.75M195.9 22.6h0.75M197.0 23.8h0.75M201.8 26.1h0.75M198.3 18.7h0.75M198.3 21.5h0.75M185.4 25.9h0.75M193.5 23.9h0.75M195.9 23.4h0.75M185.9 25.3h0.75M207.8 26.8h0.75M203.1 22.5h0.75M192.8 23.4h0.75M204.0 19.3h0.75M200.5 25.0h0.75M205.2 27.4h0.75M206.4 25.3h0.75M205.9 26.2h0.75M190.5 25.4h0.75M187.8 23.8h0.75M201.9 23.2h0.75M205.3 19.4h0.75M208.9 20.4h0.75M201.9 23.6h0.75M197.8 21.9h0.75M204.7 20.9h0.75M196.1 22.7h0.75M196.0 23.4h0.75M194.4 20.7h0.75M195.2 25.5h0.75M210.3 21.6h0.75M187.3 25.2h0.75M195.3 28.5h0.75M196.7 24.5h0.75M191.2 21.8h0.75M185.4 22.5h0.75M192.4 28.6h0.75M197.1 19.3h0.75M208.2 23.6h0.75M206.7 24.9h0.75M203.2 24.1h0.75M205.7 26.1h0.75M191.1 21.3h0.75M205.8 24.5h0.75M188.0 27.6h0.75M200.4 19.8h0.75M196.9 28.4h0.75M188.8 23.6h0.75M186.8 28.2h0.75M206.0 25.7h0.75M208.2 22.4h0.75M209.2 21.3h0.75M200.3 23.0h0.75M195.9 23.1h0.75M204.0 24.0h0.75M188.2 30.4h0.75M199.9 24.3h0.75M193.4 26.5h0.75M189.7 19.2h0.75M203.7 25.9h0.75M209.7 20.7h0.75M193.5 29.9h0.75M195.7 22.9h0.75M201.2 23.2h0.75M185.9 22.3h0.75M188.2 22.0h0.75M193.0 22.4h0.75M201.1 23.4h0.75M191.6 26.7h0.75M200.2 22.0h0.75M189.1 23.2h0.75M191.8 28.8h0.75M189.3 18.3h0.75M190.0 26.3h0.75M193.6 25.3h0.75M195.3 25.4h0.75M197.4 24.2h0.75M195.3 21.2h0.75M196.1 24.9h0.75M209.0 18.0h0.75M198.7 24.0h0.75M202.7 31.7h0.75M188.5 22.4h0.75M208.0 25.5h0.75M197.0 21.2h0.75M198.7 27.3h0.75M193.7 24.5h0.75M202.7 25.7h0.75M203.5 23.8h0.75M196.3 23.9h0.75M190.5 26.0h0.75M206.4 24.9h0.75M191.5 21.6h0.75M192.6 23.2h0.75M205.6 23.5h0.75M205.5 26.5h0.75M202.0 22.1h0.75M188.0 18.5h0.75M191.7 25.6h0.75M198.7 24.5h0.75M196.2 25.6h0.75M191.3 20.7h0.75M193.9 28.7h0.75M186.2 23.5h0.75M207.0 26.1h0.75M188.0 23.8h0.75M208.1 22.5h0.75M192.7 21.8h0.75M205.9 25.5h0.75M210.4 25.1h0.75M192.3 21.4h0.75M192.1 20.7h0.75M186.1 30.9h0.75M200.9 28.2h0.75M196.3 22.9h0.75M209.2 25.5h0.75M201.4 24.0h0.75M202.1 25.7h0.75M207.7 22.2h0.75M187.9 23.9h0.75M198.4 25.0h0.75M197.4 25.9h0.75M208.2 19.7h0.75M197.2 22.5h0.75M185.5 29.1h0.75M193.3 25.4h0.75M205.3 26.4h0.75M188.3 27.0h0.75M202.9 22.5h0.75M187.8 29.3h0.75M195.6 22.1h0.75M189.0 19.4h0.75M188.5 22.7h0.75M189.3 21.9h0.75M195.0 22.8h0.75M199.3 24.8h0.75M205.8 21.3h0.75M187.3 23.1h0.75M207.5 20.9h0.75M208.9 29.7h0.75M205.5 24.3h0.75M199.9 20.5h0.75M187.5 25.6h0.75M207.8 25.4h0.75M199.0 22.7h0.75M187.6 26.6h0.75M205.7 22.6h0.75M207.9 19.2h0.75M204.8 23.4h0.75M203.0 25.4h0.75M189.0 22.2h0.75M206.6 25.9h0.75M193.8 19.0h0.75M193.4 25.3h0.75M208.0 19.4h0.75M194.2 23.6h0.75M207.4 23.0h0.75M204.8 21.3h0.75M192.1 21.5h0.75M208.0 23.1h0.75M187.2 24.8h0.75M190.1 21.7h0.75M206.1 24.8h0.75M198.8 23.8h0.75M195.7 20.7h0.75M199.5 22.8h0.75M187.7 29.3h0.75M188.6 27.4h0.75M206.0 22.1h0.75M203.0 20.5h0.75M185.3 24.8h0.75M191.2 23.6h0.75M198.8 24.3h0.75M205.0 22.4h0.75M208.4 25.9h0.75M204.4 26.9h0.75M192.2 21.4h0.75M210.0 25.9h0.75M192.9 24.9h0.75M204.0 19.9h0.75M194.5 19.0h0.75M207.9 24.4h0.75M199.6 22.8h0.75M205.9 21.2h0.75M185.2 17.0h0.75M208.3 22.7h0.75M207.1 23.3h0.75M188.9 20.8h0.75M206.4 21.7h0.75M194.7 27.8h0.75M186.2 28.0h0.75M188.2 23.9h0.75M193.4 27.2h0.75M191.8 25.7h0.75M208.6 22.9h0.75M206.8 24.4h0.75M193.0 21.2h0.75M200.7 22.9h0.75M209.9 19.6h0.75M203.9 30.3h0.75M188.2 24.5h0.75M194.0 23.0h0.75M210.6 26.1h0.75M206.7 26.1h0.75M190.8 25.9h0.75M185.6 23.5h0.75M198.7 23.9h0.75M192.8 24.9h0.75M200.5 22.3h0.75M192.8 20.8h0.75M203.6 23.6h0.75M197.2 19.7h0.75M186.0 21.8h0.75M197.1 24.5h0.75M207.4 22.7h0.75M207.9 22.8h0.75M197.7 27.1h0.75M189.6 19.9h0.75M210.6 23.4h0.75M187.9 28.5h0.75M194.1 26.6h0.75M200.5 24.1h0.75M193.8 28.1h0.75M208.6 27.5h0.75M189.6 22.9h0.75M210.1 26.1h0.75M186.6 19.6h0.75M199.1 21.2h0.75M209.4 23.1h0.75M187.7 16.0h0.75M198.9 16.8h0.75M209.9 31.3h0.75M209.6 24.0h0.75M191.9 24.6h0.75M200.0 21.5h0.75M209.3 23.0h0.75M191.7 29.4h0.75M206.3 22.1h0.75M209.5 26.9h0.75M191.6 24.3h0.75M191.2 21.5h0.75M203.4 26.7h0.75M208.9 23.3h0.75M186.9 23.0h0.75M188.7 23.1h0.75M187.0 21.6h0.75M196.9 29.0h0.75M205.7 23.9h0.75M198.8 30.3h0.75M192.1 22.8h0.75M197.5 20.7h0.75M203.5 25.0h0.75M204.0 44.2h0.75M208.8 32.3h0.75M195.0 29.2h0.75M206.6 27.5h0.75M202.3 37.6h0.75M191.9 27.0h0.75M202.5 31.1h0.75M198.0 27.4h0.75M198.5 43.7h0.75M209.7 20.0h0.75M199.4 31.6h0.75M199.3 21.5h0.75M198.0 32.0h0.75M193.7 33.1h0.75M199.8 33.7h0.75M197.7 27.9h0.75M200.5 38.4h0.75M206.1 30.5h0.75M195.3 38.3h0.75M203.2 37.1h0.75M196.8 25.1h0.75M200.5 26.7h0.75M208.0 36.9h0.75M209.5 38.1h0.75M195.3 25.1h0.75M206.6 37.9h0.75M199.5 23.1h0.75M187.0 32.8h0.75M192.5 26.3h0.75M202.5 38.2h0.75M209.2 30.7h0.75M196.3 35.4h0.75M190.1 22.6h0.75M199.2 41.7h0.75M207.0 31.0h0.75M206.9 28.2h0.75M189.7 19.5h0.75M201.1 37.2h0.75M201.9 30.7h0.75M195.9 38.5h0.75M198.6 21.1h0.75M209.8 26.6h0.75M202.1 31.0h0.75M207.3 32.7h0.75M208.6 32.4h0.75M195.4 27.5h0.75M204.1 25.3h0.75M206.3 29.4h0.75M191.7 25.0h0.75M197.9 43.1h0.75M205.1 31.1h0.75M191.9 44.1h0.75M196.8 31.0h0.75M195.7 40.1h0.75M200.4 27.9h0.75M200.5 24.2h0.75M190.7 29.9h0.75M214.6 23.4h0.75M197.9 20.2h0.75M200.4 32.5h0.75M204.8 21.9h0.75M194.3 26.6h0.75M197.1 46.7h0.75M197.4 30.7h0.75M195.0 36.5h0.75M219.1 39.0h0.75M211.0 23.6h0.75M207.3 31.2h0.75M208.8 38.3h0.75M204.1 19.5h0.75M200.1 27.6h0.75M202.5 31.3h0.75M207.2 20.0h0.75M193.2 30.5h0.75M201.5 28.2h0.75M198.8 31.4h0.75M207.2 30.2h0.75M200.9 18.5h0.75M201.8 15.2h0.75M202.2 30.3h0.75M199.0 26.0h0.75M195.7 36.7h0.75M201.8 30.8h0.75M195.2 32.5h0.75M208.4 30.9h0.75M196.1 22.9h0.75M199.8 24.7h0.75M187.7 37.0h0.75M194.1 17.0h0.75M193.3 43.7h0.75M198.2 21.9h0.75M190.3 35.9h0.75M202.2 32.5h0.75M197.5 34.3h0.75M211.1 34.4h0.75M197.7 21.4h0.75M202.5 41.8h0.75M204.1 22.4h0.75M200.5 39.9h0.75M194.0 34.4h0.75M208.5 42.3h0.75M186.5 19.0h0.75M201.9 35.8h0.75M196.2 30.9h0.75M195.8 39.3h0.75M188.9 26.3h0.75M186.9 24.7h0.75M198.8 31.2h0.75M213.1 29.5h0.75M201.7 33.4h0.75M201.0 41.1h0.75M200.1 32.0h0.75M198.1 31.0h0.75M198.6 37.9h0.75M199.2 31.5h0.75M198.6 36.2h0.75M195.3 37.5h0.75M194.5 35.8h0.75M214.1 32.6h0.75M198.3 22.9h0.75M204.8 31.1h0.75M206.2 26.5h0.75M203.1 43.5h0.75M202.2 28.7h0.75M188.7 30.9h0.75M204.2 35.1h0.75M190.2 23.9h0.75M191.3 24.0h0.75M196.8 32.8h0.75M214.2 32.4h0.75M210.5 19.6h0.75M211.2 36.5h0.75M202.5 36.7h0.75M203.9 44.2h0.75M205.4 19.0h0.75M185.2 42.1h0.75M198.3 40.1h0.75M196.3 26.5h0.75M196.3 33.2h0.75M200.5 26.7h0.75M203.2 35.3h0.75M191.8 23.3h0.75M199.1 26.2h0.75M194.2 30.1h0.75M199.2 34.9h0.75M205.6 34.0h0.75M207.8 24.3h0.75M203.8 33.6h0.75M190.8 26.3h0.75M202.5 31.5h0.75M189.1 27.2h0.75M211.1 36.8h0.75M199.6 40.3h0.75M191.8 29.8h0.75M206.6 28.7h0.75M190.2 35.1h0.75M211.7 13.5h0.75M200.2 22.4h0.75M196.6 21.2h0.75M219.6 26.3h0.75M199.4 26.1h0.75M191.2 27.9h0.75M200.6 43.1h0.75M201.3 41.8h0.75M190.6 31.5h0.75M195.5 20.2h0.75M228.5 29.3h0.75M200.9 25.8h0.75M194.4 23.8h0.75M207.1 28.2h0.75M197.9 32.3h0.75M189.3 32.6h0.75M197.6 34.1h0.75M196.0 31.3h0.75M203.1 37.7h0.75M193.6 37.7h0.75M191.2 29.7h0.75M200.0 32.0h0.75M197.5 37.4h0.75M193.4 41.5h0.75M203.3 31.1h0.75M201.1 37.5h0.75M192.6 35.1h0.75M207.4 29.4h0.75M192.2 23.7h0.75M202.4 25.4h0.75M218.6 34.9h0.75M188.7 29.0h0.75M211.1 35.7h0.75M190.9 38.2h0.75M195.2 46.3h0.75M194.6 35.1h0.75M203.5 27.9h0.75M197.8 39.0h0.75M202.9 30.6h0.75M202.5 43.1h0.75M206.4 34.3h0.75M201.6 20.2h0.75M200.1 27.6h0.75M204.8 26.8h0.75M202.5 23.7h0.75M206.1 26.0h0.75M198.8 35.0h0.75M196.4 31.0h0.75M207.4 43.2h0.75M204.3 37.5h0.75M195.3 31.7h0.75M197.5 46.7h0.75M197.4 22.8h0.75M186.7 22.2h0.75M209.3 28.3h0.75M214.4 35.4h0.75M202.0 35.5h0.75M205.2 37.4h0.75M191.3 27.1h0.75M194.7 31.7h0.75M197.0 22.5h0.75M193.5 43.4h0.75M215.8 25.1h0.75M202.0 30.7h0.75M192.3 35.9h0.75M198.5 42.5h0.75M202.6 28.9h0.75M205.7 26.1h0.75M206.0 35.7h0.75M185.0 29.6h0.75M201.5 36.2h0.75M200.2 30.9h0.75" stroke="#000" stroke-width="0.75" fill="none" opacity="0.7" filter="url(#bl)"/>
<path d="M200.9 32.3h0.75M204.5 40.2h0.75M209.1 35.4h0.75M207.8 35.5h0.75M186.2 32.1h0.75M187.0 39.3h0.75M210.3 38.5h0.75M203.6 30.8h0.75M198.4 42.9h0.75M187.5 43.9h0.75M196.6 37.9h0.75M206.6 46.6h0.75M188.1 32.5h0.75M186.4 36.3h0.75M201.6 53.2h0.75M210.2 50.7h0.75M188.2 49.0h0.75M204.8 41.3h0.75M210.9 44.4h0.75M188.1 35.2h0.75M188.4 44.7h0.75M201.2 50.6h0.75M185.3 30.2h0.75M210.3 36.3h0.75M191.9 50.8h0.75M187.9 49.0h0.75M208.3 43.5h0.75M200.8 30.1h0.75M200.8 44.7h0.75M205.0 42.4h0.75M188.0 35.3h0.75M202.0 31.9h0.75M187.8 36.0h0.75M205.7 43.1h0.75M194.3 53.1h0.75M200.1 35.7h0.75M199.7 50.5h0.75M194.6 40.4h0.75M200.0 53.7h0.75M201.6 34.3h0.75M200.1 37.7h0.75M197.3 47.1h0.75M185.5 42.2h0.75M193.2 44.4h0.75M206.3 41.2h0.75M201.4 36.9h0.75M191.7 42.2h0.75M198.8 35.4h0.75M204.9 42.0h0.75M194.2 36.1h0.75M206.8 51.6h0.75M209.4 36.0h0.75M186.9 45.2h0.75M185.6 50.6h0.75M202.7 38.1h0.75M196.5 46.4h0.75M189.2 38.8h0.75M205.5 46.3h0.75M200.2 32.5h0.75M190.6 36.2h0.75M185.8 45.4h0.75M199.9 52.2h0.75M199.4 52.0h0.75M197.2 42.4h0.75M192.3 41.1h0.75M209.4 41.7h0.75M185.1 38.5h0.75M190.1 45.0h0.75M198.2 41.4h0.75M209.1 48.3h0.75M187.3 30.7h0.75M203.2 44.3h0.75M202.0 42.0h0.75M185.9 40.8h0.75M206.7 44.4h0.75M186.1 33.0h0.75M208.5 43.1h0.75M189.3 47.0h0.75M209.0 50.8h0.75M201.8 49.4h0.75M187.3 41.1h0.75M206.1 38.2h0.75M188.7 50.8h0.75M203.3 30.2h0.75M186.7 43.4h0.75M209.8 44.8h0.75M207.8 32.5h0.75M200.0 34.4h0.75M193.6 33.6h0.75M197.1 31.1h0.75M202.1 45.5h0.75M208.5 48.4h0.75M187.0 50.9h0.75M199.1 52.5h0.75M197.8 32.0h0.75M203.3 34.2h0.75M210.6 42.9h0.75M208.5 41.8h0.75M193.5 45.9h0.75M203.5 41.0h0.75M192.2 40.1h0.75M203.6 35.5h0.75M189.1 41.6h0.75M202.1 31.6h0.75M192.1 53.3h0.75M191.9 48.5h0.75M192.9 32.1h0.75M197.6 50.9h0.75M205.2 31.2h0.75M203.3 44.9h0.75M217.3 39.9h0.75M217.8 22.6h0.75M220.0 20.6h0.75M215.0 46.7h0.75M218.4 34.4h0.75M220.2 33.7h0.75M216.0 35.9h0.75M211.3 28.7h0.75M211.5 51.8h0.75M222.8 39.5h0.75M213.1 46.8h0.75M214.7 45.0h0.75" stroke="#000" stroke-width="0.75" fill="none" opacity="0.45" filter="url(#bl)"/>
<path d="M205.0 58.4h0.75M192.2 57.9h0.75M205.4 60.5h0.75M207.7 58.0h0.75M194.8 59.6h0.75M187.1 61.1h0.75M198.2 61.2h0.75M199.7 58.0h0.75M194.7 60.0h0.75M203.5 59.2h0.75M192.0 57.9h0.75M191.0 59.2h0.75M210.3 58.9h0.75M209.4 58.4h0.75M198.9 60.8h0.75M187.8 59.4h0.75M198.5 59.2h0.75M210.8 60.1h0.75M192.5 59.7h0.75M210.1 58.2h0.75M208.1 62.3h0.75M186.9 60.5h0.75M195.5 61.7h0.75M196.5 58.9h0.75M208.4 58.2h0.75M209.2 58.4h0.75M206.0 59.5h0.75M202.5 59.8h0.75M187.0 59.3h0.75M209.3 59.1h0.75M211.3 58.5h0.75M190.3 60.9h0.75M200.2 59.2h0.75M204.9 59.2h0.75M211.2 61.0h0.75M207.3 61.7h0.75M204.4 60.5h0.75M199.8 56.1h0.75M202.0 60.8h0.75M203.1 57.2h0.75M193.8 60.2h0.75M208.2 60.8h0.75M211.8 59.8h0.75M186.6 58.4h0.75M187.1 60.8h0.75M210.6 60.1h0.75M208.1 58.7h0.75M199.4 60.8h0.75M197.4 58.5h0.75M210.8 58.4h0.75M197.9 59.3h0.75M188.8 61.4h0.75M206.6 60.7h0.75M196.7 61.0h0.75M188.7 62.9h0.75M208.9 60.9h0.75M188.9 61.7h0.75M192.0 60.2h0.75M196.8 57.4h0.75M196.3 60.8h0.75M192.6 58.1h0.75M210.7 60.6h0.75M199.8 59.9h0.75M194.5 60.3h0.75M203.3 59.5h0.75M194.8 59.2h0.75M196.7 60.7h0.75M193.6 59.0h0.75M203.1 58.4h0.75M196.1 59.3h0.75M197.3 59.3h0.75M200.0 58.4h0.75M196.6 59.2h0.75M187.3 57.5h0.75M190.0 60.2h0.75M190.0 60.1h0.75M209.5 58.9h0.75M191.3 58.4h0.75M188.9 59.6h0.75M203.4 60.6h0.75M206.9 58.6h0.75M203.2 59.1h0.75M202.7 57.8h0.75M196.9 60.5h0.75M210.5 60.8h0.75M195.1 60.4h0.75M205.9 59.2h0.75M208.3 59.1h0.75M198.8 58.6h0.75M191.8 60.6h0.75M203.5 59.8h0.75M198.8 60.4h0.75M208.6 63.3h0.75M210.5 58.6h0.75M188.5 59.8h0.75M211.3 59.3h0.75M201.7 61.1h0.75M196.8 58.1h0.75M199.8 58.9h0.75M192.4 60.0h0.75M200.5 61.8h0.75M208.7 61.7h0.75M192.5 59.1h0.75M207.4 61.5h0.75M200.0 60.2h0.75M193.8 61.7h0.75M199.1 61.1h0.75M207.1 60.4h0.75M193.2 59.9h0.75M206.7 60.5h0.75M185.9 59.8h0.75M187.2 61.7h0.75M188.0 59.1h0.75M197.8 57.9h0.75M200.0 61.0h0.75M196.3 59.1h0.75M208.8 59.2h0.75M200.6 59.6h0.75M190.1 58.9h0.75M210.2 60.6h0.75M201.3 60.4h0.75M199.9 58.4h0.75M204.9 59.7h0.75M189.4 60.0h0.75M185.6 59.3h0.75M189.4 59.5h0.75M211.8 58.4h0.75M202.8 57.9h0.75M210.9 59.4h0.75M198.2 59.6h0.75M207.5 59.9h0.75M197.9 59.3h0.75M187.0 59.9h0.75M200.7 61.1h0.75M189.7 60.1h0.75M203.6 61.9h0.75M210.7 57.9h0.75M193.0 58.0h0.75M209.1 59.0h0.75M207.3 58.2h0.75M192.1 59.8h0.75M209.5 57.6h0.75M194.1 63.2h0.75M207.2 58.9h0.75M206.7 58.4h0.75M197.3 57.0h0.75M202.7 57.5h0.75M199.6 61.2h0.75M185.4 59.9h0.75M197.5 59.3h0.75M187.4 62.0h0.75M208.8 61.3h0.75M205.4 59.7h0.75M203.3 60.4h0.75M199.9 57.9h0.75M210.6 60.7h0.75M197.5 57.7h0.75M196.1 59.5h0.75M203.7 59.3h0.75M210.1 58.9h0.75M194.5 59.7h0.75M187.6 57.7h0.75M208.8 61.2h0.75M208.4 60.6h0.75M206.8 60.6h0.75M198.0 61.9h0.75M194.1 60.2h0.75M198.9 58.9h0.75M193.2 59.4h0.75M208.4 58.0h0.75M191.0 58.4h0.75M198.0 60.6h0.75M202.9 59.2h0.75M198.3 58.2h0.75M192.8 63.4h0.75M199.7 59.9h0.75M186.7 60.6h0.75M190.5 59.3h0.75M199.0 61.3h0.75M186.1 62.0h0.75M189.7 59.4h0.75M193.3 61.4h0.75M191.3 60.9h0.75M201.1 58.7h0.75M202.5 61.0h0.75M187.4 60.8h0.75M205.1 58.4h0.75M201.6 59.2h0.75M189.9 61.3h0.75M190.0 58.5h0.75M186.7 58.8h0.75M196.3 57.0h0.75M208.6 59.3h0.75M200.1 61.2h0.75M192.5 59.5h0.75M201.7 57.0h0.75M199.3 58.4h0.75M203.0 60.8h0.75M189.3 61.0h0.75M193.5 62.1h0.75M194.9 62.1h0.75M210.7 56.1h0.75M190.4 63.2h0.75M185.9 60.5h0.75M205.3 59.7h0.75M185.2 58.7h0.75M187.3 60.6h0.75M197.7 60.6h0.75M198.3 58.2h0.75M211.1 61.6h0.75M209.8 60.1h0.75M209.2 58.8h0.75M189.6 57.9h0.75M193.7 58.9h0.75M201.6 59.8h0.75M193.8 60.6h0.75M207.3 59.8h0.75M187.4 57.7h0.75M202.1 60.6h0.75M191.4 58.1h0.75M204.5 59.1h0.75M200.8 58.2h0.75M205.3 60.4h0.75M185.4 60.6h0.75M204.3 58.3h0.75M193.9 58.2h0.75M205.2 57.9h0.75M187.0 59.8h0.75M200.9 58.4h0.75M192.0 59.5h0.75M209.2 59.9h0.75M194.8 60.6h0.75M192.3 61.4h0.75M200.0 57.9h0.75M202.0 63.1h0.75M188.0 59.8h0.75M203.1 57.9h0.75M192.8 59.4h0.75M187.0 61.4h0.75M207.1 58.5h0.75M204.2 60.6h0.75M208.2 58.8h0.75M207.6 60.0h0.75M191.7 59.2h0.75M197.6 60.3h0.75M209.4 57.4h0.75M210.9 61.2h0.75M200.5 55.0h0.75M195.8 59.4h0.75M198.5 57.4h0.75M192.0 58.6h0.75M207.8 59.5h0.75M203.6 60.9h0.75M198.8 57.7h0.75M185.2 57.6h0.75M197.0 58.6h0.75M197.6 60.6h0.75M187.1 59.4h0.75M185.9 59.5h0.75M206.6 62.4h0.75M191.9 60.5h0.75M210.2 56.7h0.75M210.7 58.5h0.75M199.7 60.8h0.75M185.1 59.3h0.75M192.1 58.9h0.75M191.7 61.8h0.75M210.9 61.3h0.75M204.2 59.2h0.75M193.6 58.7h0.75M207.5 59.0h0.75M206.3 59.5h0.75M194.2 57.6h0.75M188.4 58.5h0.75M200.2 58.5h0.75M188.6 61.8h0.75M185.4 59.7h0.75M186.2 61.3h0.75M209.0 58.8h0.75M188.5 59.8h0.75M193.5 59.6h0.75M199.6 56.9h0.75M195.5 61.7h0.75M211.3 59.5h0.75M193.4 59.4h0.75M196.4 63.3h0.75M208.8 58.7h0.75M203.6 61.6h0.75M204.5 61.5h0.75M198.7 63.8h0.75M201.1 60.0h0.75M206.2 59.0h0.75M186.7 60.0h0.75M197.9 57.4h0.75M195.7 59.4h0.75M197.3 61.6h0.75M209.0 57.7h0.75M192.6 59.1h0.75M188.0 59.5h0.75M207.9 60.5h0.75M194.7 60.3h0.75M209.4 59.2h0.75M211.8 62.3h0.75M193.2 56.5h0.75M198.6 60.6h0.75M185.4 60.1h0.75M203.4 59.6h0.75M189.2 61.3h0.75M187.5 60.6h0.75M188.3 60.5h0.75M208.7 61.7h0.75M186.2 61.2h0.75M202.6 60.6h0.75M193.1 56.9h0.75M186.3 59.9h0.75M210.8 59.0h0.75M205.4 60.2h0.75M186.3 62.9h0.75M188.9 61.4h0.75M203.0 60.8h0.75M197.9 59.1h0.75M190.7 58.6h0.75M203.7 61.1h0.75M201.8 58.1h0.75M206.0 62.5h0.75M198.9 60.8h0.75M205.4 58.1h0.75M199.4 58.7h0.75M190.8 59.3h0.75M185.1 61.4h0.75M204.4 56.6h0.75M190.6 59.2h0.75M200.6 57.6h0.75M197.4 59.5h0.75M208.8 57.3h0.75M198.9 59.5h0.75M188.2 60.1h0.75M192.0 57.4h0.75M198.3 59.1h0.75M193.0 60.9h0.75M195.0 62.0h0.75M203.9 59.6h0.75M202.0 60.4h0.75M210.9 59.2h0.75M206.7 57.4h0.75M193.6 61.8h0.75M196.2 61.3h0.75M194.5 61.7h0.75M209.1 57.2h0.75M209.7 60.1h0.75M195.0 59.7h0.75M185.2 58.7h0.75M189.8 60.0h0.75M197.9 60.9h0.75M196.1 61.1h0.75M191.7 61.2h0.75M185.6 59.1h0.75M207.6 58.4h0.75M192.9 59.7h0.75M192.1 56.5h0.75M211.1 59.3h0.75M202.6 58.8h0.75M192.6 59.1h0.75M196.4 59.5h0.75M201.0 60.4h0.75M187.1 59.5h0.75M206.9 62.0h0.75M205.2 59.2h0.75M186.1 60.1h0.75M199.9 60.6h0.75M189.7 60.4h0.75M209.8 60.1h0.75M211.2 59.9h0.75M189.3 58.4h0.75M206.7 60.5h0.75M187.7 60.7h0.75M206.6 60.1h0.75M194.1 57.8h0.75M204.5 60.3h0.75M198.7 59.8h0.75M192.5 59.7h0.75M190.7 58.6h0.75M189.2 61.0h0.75M204.6 57.7h0.75M191.9 61.2h0.75M205.6 60.0h0.75M190.3 59.2h0.75M186.2 57.4h0.75M185.3 58.1h0.75M207.6 57.8h0.75M199.0 60.7h0.75M202.6 58.7h0.75M198.9 61.5h0.75M205.8 58.6h0.75M199.8 59.2h0.75M196.2 59.6h0.75M191.0 58.8h0.75M193.4 60.9h0.75M197.3 59.5h0.75M207.8 56.5h0.75M205.1 60.9h0.75M206.1 60.9h0.75M210.9 58.9h0.75M201.5 60.2h0.75M188.1 58.8h0.75M200.4 58.5h0.75M202.9 57.0h0.75M205.4 61.4h0.75M188.6 57.3h0.75M211.9 58.5h0.75M190.1 57.8h0.75M187.5 58.6h0.75M203.0 58.9h0.75M191.9 57.3h0.75M202.3 57.0h0.75M209.6 59.8h0.75M185.4 61.8h0.75M201.9 61.0h0.75M196.3 59.0h0.75M203.0 59.5h0.75M198.8 60.0h0.75M206.5 59.2h0.75M210.3 62.0h0.75M194.2 61.7h0.75M190.9 59.8h0.75M196.3 60.4h0.75M200.1 58.7h0.75M210.7 56.2h0.75M185.0 57.6h0.75M196.3 60.6h0.75M206.8 60.4h0.75M188.1 59.7h0.75M199.2 59.0h0.75M185.8 61.3h0.75M195.9 61.3h0.75M187.5 61.0h0.75M212.0 58.2h0.75M186.3 59.8h0.75M199.9 59.9h0.75M210.9 60.1h0.75M222.8 59.6h0.75M219.2 58.7h0.75M224.1 62.0h0.75M217.1 59.1h0.75M219.6 57.7h0.75M223.3 60.3h0.75M231.7 60.9h0.75M220.0 60.4h0.75M228.2 56.8h0.75M226.7 59.4h0.75M216.0 57.6h0.75M224.3 61.2h0.75M215.5 60.5h0.75M219.0 59.6h0.75M229.5 59.5h0.75M213.8 59.2h0.75M224.3 63.2h0.75M228.8 58.3h0.75M229.1 61.1h0.75M212.7 58.9h0.75M227.5 59.9h0.75M215.0 57.2h0.75M224.1 61.2h0.75M225.7 60.5h0.75M231.4 60.4h0.75M217.1 61.4h0.75M225.5 61.2h0.75M220.8 55.8h0.75M214.5 57.9h0.75M213.5 60.4h0.75M230.0 59.3h0.75M219.2 60.5h0.75M230.0 61.0h0.75M229.9 58.0h0.75M216.9 59.1h0.75M223.3 57.8h0.75M212.9 58.4h0.75M224.7 62.3h0.75M222.8 58.6h0.75M231.6 60.9h0.75M231.1 61.0h0.75M231.1 59.4h0.75M216.0 57.5h0.75M227.8 59.2h0.75M230.4 56.8h0.75" stroke="#000" stroke-width="0.75" fill="none" opacity="0.66" filter="url(#bl)"/>
<ellipse cx="74.5" cy="128.2" rx="3.4" ry="2.3" fill="url(#g)" opacity="0.5"/>
<path d="M76.0 111.1h0.75M74.5 92.8h0.75M72.5 105.0h0.75M77.1 124.3h0.75M76.2 102.1h0.75M77.4 90.2h0.75M77.7 110.5h0.75M75.8 111.6h0.75M77.4 122.2h0.75M79.7 109.5h0.75M76.0 106.0h0.75M75.3 101.0h0.75M75.8 107.4h0.75M71.3 100.6h0.75M82.8 119.3h0.75M77.3 106.2h0.75M71.3 106.5h0.75M76.3 96.3h0.75M74.5 88.5h0.75M72.7 123.4h0.75M75.8 122.4h0.75M73.1 91.9h0.75M77.3 115.9h0.75M74.0 120.4h0.75M75.4 89.6h0.75M76.6 124.9h0.75M78.4 93.1h0.75M75.1 100.4h0.75M80.2 122.4h0.75M77.5 99.5h0.75M75.8 119.4h0.75M78.7 120.8h0.75M77.9 124.0h0.75M75.9 105.9h0.75M74.8 96.1h0.75M77.0 115.2h0.75M76.9 109.3h0.75M77.1 90.4h0.75M77.2 122.3h0.75M75.7 123.6h0.75M72.7 124.2h0.75M76.1 95.1h0.75M77.5 111.2h0.75M73.0 116.6h0.75M73.8 107.6h0.75M74.1 123.1h0.75M79.1 89.8h0.75M74.2 115.6h0.75M75.7 104.0h0.75M77.6 123.5h0.75M72.3 109.4h0.75M69.8 117.7h0.75M71.6 100.5h0.75M80.3 90.4h0.75M79.2 122.2h0.75M79.1 123.1h0.75M74.0 110.5h0.75M75.5 96.2h0.75M72.1 90.9h0.75M75.5 92.6h0.75M72.8 108.7h0.75M75.4 120.4h0.75M77.6 110.9h0.75M75.5 104.2h0.75M70.8 104.7h0.75M73.4 116.8h0.75M76.6 120.7h0.75M74.4 96.0h0.75M79.5 88.3h0.75M73.8 100.2h0.75M71.5 124.8h0.75M75.2 116.1h0.75M73.4 119.2h0.75M79.2 104.1h0.75M80.0 98.1h0.75M73.3 107.5h0.75M77.8 98.9h0.75M79.0 114.6h0.75M77.0 113.7h0.75M71.5 88.6h0.75M78.7 92.8h0.75M78.9 107.4h0.75M76.0 96.4h0.75M75.4 89.3h0.75M75.6 123.6h0.75M76.3 112.3h0.75M75.0 106.8h0.75M70.8 111.7h0.75M74.4 122.8h0.75M73.2 92.3h0.75M70.3 118.4h0.75M73.1 117.3h0.75M80.9 123.8h0.75M75.7 107.4h0.75M73.0 117.0h0.75M78.6 109.0h0.75M76.8 114.6h0.75M73.7 115.2h0.75M78.6 102.1h0.75M73.3 101.7h0.75M70.5 107.5h0.75M70.7 98.0h0.75M76.1 98.6h0.75M72.7 93.7h0.75M78.0 124.2h0.75M71.4 103.3h0.75M75.5 89.0h0.75M73.1 91.3h0.75M77.8 124.3h0.75M73.1 89.1h0.75M74.1 97.1h0.75M73.6 94.4h0.75M78.8 105.9h0.75M75.2 113.5h0.75M78.9 107.2h0.75M75.6 91.1h0.75M72.0 112.3h0.75M71.2 122.7h0.75M76.0 101.0h0.75M76.7 112.1h0.75M74.1 88.2h0.75M76.9 104.8h0.75M73.1 106.4h0.75M74.3 113.6h0.75M77.0 111.2h0.75M77.5 122.5h0.75M76.3 98.5h0.75M74.7 101.8h0.75M78.9 123.1h0.75M77.0 96.3h0.75M75.5 94.3h0.75M73.6 113.0h0.75M76.3 120.8h0.75M76.1 92.1h0.75M75.9 99.5h0.75M77.4 101.5h0.75M77.7 114.9h0.75M82.6 103.6h0.75M74.1 111.8h0.75M78.0 120.7h0.75M78.2 120.7h0.75M76.6 121.4h0.75M76.8 113.8h0.75M75.7 110.9h0.75M74.6 88.8h0.75M75.2 99.9h0.75M71.0 88.1h0.75M74.6 111.0h0.75M66.3 101.5h0.75M73.3 123.8h0.75M79.8 101.5h0.75M77.2 103.8h0.75M84.2 104.4h0.75M74.0 124.4h0.75M79.5 105.4h0.75M77.2 103.6h0.75M73.5 117.7h0.75M79.9 114.1h0.75M74.8 118.6h0.75M81.2 107.7h0.75M72.5 102.3h0.75M78.8 101.1h0.75M75.7 88.0h0.75M77.8 122.5h0.75M75.5 88.6h0.75M72.7 112.9h0.75M79.1 112.9h0.75M74.5 118.8h0.75M75.7 116.2h0.75M72.3 117.7h0.75M76.1 106.3h0.75M72.6 115.2h0.75M76.1 115.2h0.75M73.3 101.9h0.75M79.5 112.9h0.75M71.6 122.8h0.75M79.5 116.8h0.75M73.8 104.0h0.75M77.2 110.4h0.75M78.8 122.4h0.75M76.3 90.4h0.75M78.2 124.9h0.75M73.5 114.7h0.75M74.8 103.6h0.75M71.3 92.4h0.75M78.9 114.7h0.75M71.4 96.1h0.75M72.5 101.5h0.75M75.6 106.1h0.75M68.6 111.2h0.75M77.5 124.1h0.75M77.0 116.5h0.75M74.7 102.1h0.75M72.9 115.4h0.75M73.7 99.1h0.75M74.5 116.9h0.75M73.4 106.3h0.75M70.2 98.4h0.75M68.7 88.2h0.75M78.1 111.9h0.75M73.7 118.7h0.75M77.6 124.5h0.75M74.0 102.4h0.75M74.9 101.4h0.75M70.7 103.5h0.75M74.0 103.2h0.75M77.4 119.4h0.75M82.9 117.3h0.75M78.5 108.7h0.75M74.2 116.3h0.75" stroke="#000" stroke-width="0.75" fill="none" opacity="0.5" filter="url(#bl)"/>
<path d="M73.1 129.0h0.75M73.0 127.4h0.75M74.5 128.2h0.75M78.8 127.4h0.75M72.6 127.7h0.75M73.4 129.3h0.75M74.5 127.5h0.75M73.9 127.2h0.75M74.0 128.0h0.75M78.1 126.9h0.75M77.3 128.2h0.75M72.4 130.5h0.75M75.3 126.7h0.75M73.6 127.6h0.75M71.9 128.3h0.75M74.3 129.8h0.75M73.9 126.0h0.75M77.1 129.5h0.75M72.7 129.9h0.75M74.7 126.9h0.75M76.0 128.5h0.75M73.5 128.8h0.75M72.9 128.2h0.75M75.1 128.9h0.75M75.6 125.4h0.75M73.6 128.7h0.75M76.1 127.0h0.75M76.8 127.1h0.75M77.1 128.4h0.75M75.0 126.5h0.75M72.8 128.5h0.75M75.0 128.0h0.75M73.8 129.8h0.75M73.0 128.9h0.75M76.4 128.7h0.75M74.8 126.7h0.75M78.1 129.9h0.75M72.5 127.2h0.75M72.3 126.5h0.75M74.3 127.0h0.75M74.5 128.7h0.75M72.9 126.7h0.75M76.4 129.3h0.75M74.0 127.1h0.75M75.4 128.5h0.75M76.5 128.4h0.75M73.1 127.2h0.75M74.8 126.4h0.75M72.7 129.2h0.75M76.2 128.9h0.75M77.4 127.8h0.75M73.1 128.3h0.75M76.4 127.0h0.75M78.6 129.7h0.75M71.7 127.2h0.75M76.0 128.6h0.75M76.8 128.7h0.75M74.2 127.6h0.75M75.4 128.8h0.75M73.0 127.8h0.75M74.6 127.7h0.75M72.0 128.8h0.75M71.2 128.2h0.75M72.8 128.2h0.75M77.5 130.9h0.75M76.1 127.9h0.75M72.0 127.9h0.75M75.2 126.3h0.75M73.2 128.6h0.75M75.2 127.7h0.75M72.2 128.5h0.75M72.3 130.6h0.75M74.0 127.6h0.75M77.0 127.1h0.75M73.3 129.0h0.75M71.4 128.6h0.75M73.0 126.7h0.75M74.4 128.0h0.75M74.3 128.7h0.75M72.3 129.5h0.75M78.1 126.4h0.75M73.2 128.1h0.75M71.4 128.5h0.75M74.1 127.8h0.75M75.6 127.6h0.75M73.3 128.8h0.75M74.7 128.9h0.75M76.9 126.9h0.75M75.2 129.7h0.75M74.7 128.2h0.75M75.5 128.8h0.75M74.9 127.6h0.75M75.3 127.5h0.75M74.8 128.0h0.75M70.0 128.0h0.75M75.3 128.7h0.75M74.3 127.0h0.75M71.5 125.7h0.75M75.0 129.4h0.75M77.3 130.3h0.75M71.9 128.9h0.75M72.6 125.9h0.75M74.2 127.5h0.75M75.7 129.0h0.75M74.8 130.0h0.75M78.4 127.8h0.75M76.4 130.0h0.75M74.0 127.7h0.75M74.9 127.5h0.75M75.9 129.4h0.75M73.8 129.1h0.75M74.2 130.7h0.75M75.9 130.1h0.75M76.3 127.4h0.75M73.5 128.8h0.75M72.5 129.7h0.75M74.2 130.8h0.75M72.7 126.9h0.75M76.9 128.0h0.75M71.3 130.0h0.75" stroke="#000" stroke-width="0.75" fill="none" opacity="0.7" filter="url(#bl)"/>
<path d="M61.2 128.4h0.75M35.5 128.3h0.75M53.1 128.6h0.75M48.4 130.1h0.75M69.8 129.7h0.75M39.8 128.0h0.75M48.8 126.7h0.75M66.0 126.1h0.75M45.0 126.5h0.75M58.4 130.0h0.75M57.0 128.4h0.75M56.1 128.9h0.75M63.4 125.9h0.75M57.7 130.3h0.75M36.5 130.3h0.75M44.3 129.0h0.75M67.7 129.7h0.75M51.6 127.8h0.75M67.8 129.6h0.75M59.8 127.2h0.75M54.1 130.7h0.75M60.7 130.6h0.75M53.2 127.2h0.75M57.1 129.0h0.75M37.3 128.3h0.75M47.3 127.4h0.75M63.4 127.2h0.75M49.5 129.3h0.75M52.8 126.3h0.75M55.5 131.1h0.75M35.9 127.8h0.75M37.3 128.4h0.75M57.4 127.9h0.75M58.4 128.8h0.75M39.1 130.2h0.75M57.3 132.0h0.75M69.3 125.6h0.75M63.5 128.6h0.75M67.7 126.7h0.75M46.8 127.9h0.75M59.0 127.6h0.75M49.9 127.6h0.75M38.2 128.7h0.75M59.9 127.5h0.75M40.9 128.2h0.75M56.4 128.7h0.75M56.8 127.9h0.75M53.3 128.7h0.75M55.8 129.8h0.75M63.9 128.7h0.75M55.9 129.5h0.75M65.5 128.1h0.75M35.0 129.3h0.75M48.9 126.6h0.75M33.1 128.3h0.75M49.8 130.1h0.75M43.8 129.6h0.75M36.0 127.7h0.75M63.7 128.2h0.75M44.7 128.2h0.75M35.8 127.2h0.75M60.8 127.4h0.75M51.7 129.5h0.75M54.0 130.8h0.75M34.6 124.3h0.75M37.8 129.4h0.75M66.3 129.6h0.75M69.8 128.5h0.75M48.0 128.2h0.75M37.4 126.5h0.75M45.4 127.5h0.75M61.9 126.7h0.75M58.7 129.7h0.75M66.9 128.7h0.75M39.5 129.4h0.75M69.8 127.1h0.75M33.9 129.6h0.75M52.6 127.6h0.75M64.1 126.8h0.75M44.7 129.5h0.75M60.9 129.1h0.75M38.6 127.8h0.75M61.3 126.8h0.75M60.6 127.6h0.75M68.1 126.5h0.75M62.9 128.2h0.75M42.8 130.1h0.75M68.4 129.0h0.75M54.5 127.5h0.75M61.9 130.8h0.75M46.7 127.6h0.75M62.8 126.4h0.75M48.4 128.5h0.75M52.3 128.8h0.75M38.4 127.6h0.75M34.8 128.6h0.75M54.1 129.0h0.75M62.5 127.1h0.75M53.2 127.2h0.75M45.2 127.9h0.75M33.8 127.6h0.75M38.0 129.5h0.75M55.1 130.2h0.75M65.2 126.7h0.75M63.7 129.5h0.75M47.7 131.4h0.75M69.6 127.4h0.75M45.1 128.2h0.75M52.4 127.1h0.75M66.0 128.4h0.75M57.8 127.6h0.75M47.1 127.0h0.75M48.0 127.4h0.75M59.4 127.8h0.75M65.4 126.7h0.75M67.8 128.3h0.75M40.2 128.2h0.75M41.3 128.6h0.75M33.5 126.9h0.75M35.0 126.5h0.75M33.4 128.9h0.75M60.8 127.5h0.75M42.5 130.7h0.75M59.2 127.0h0.75M43.5 128.9h0.75M41.8 127.2h0.75M48.9 129.3h0.75M35.1 128.1h0.75M45.9 126.6h0.75M47.3 127.2h0.75M53.7 127.7h0.75M65.4 127.6h0.75M35.4 128.7h0.75M53.5 128.6h0.75M53.2 127.8h0.75M65.7 126.6h0.75M44.8 129.1h0.75M65.5 128.9h0.75M55.2 128.4h0.75M45.0 128.1h0.75M58.5 126.8h0.75M38.9 125.5h0.75M45.7 126.9h0.75M50.3 127.1h0.75M62.1 125.5h0.75M45.2 129.5h0.75M58.7 129.3h0.75M43.0 127.9h0.75M59.8 128.9h0.75M48.3 127.4h0.75M35.4 125.3h0.75M59.6 128.5h0.75M51.1 127.2h0.75M41.4 127.8h0.75M60.7 128.2h0.75M62.9 125.5h0.75M52.8 128.8h0.75M47.8 128.2h0.75M52.7 128.1h0.75M38.5 130.6h0.75M54.5 129.0h0.75M50.2 127.9h0.75M43.7 129.4h0.75M56.2 129.0h0.75M36.0 129.8h0.75M41.3 128.7h0.75M43.4 128.0h0.75M66.4 127.1h0.75M36.7 129.2h0.75M42.5 126.5h0.75M81.9 127.3h0.75M86.5 125.5h0.75M83.3 129.0h0.75M87.0 129.2h0.75M82.8 128.6h0.75M78.4 126.7h0.75M85.1 129.3h0.75M82.6 127.8h0.75M87.4 127.5h0.75M81.8 128.0h0.75M84.1 129.7h0.75M88.2 127.2h0.75M85.6 128.9h0.75M83.1 129.3h0.75M82.0 128.1h0.75M85.5 128.9h0.75M79.9 127.2h0.75M88.1 127.1h0.75M82.0 127.8h0.75M81.8 129.7h0.75M56.0 117.9h0.75M58.9 114.7h0.75M56.3 108.6h0.75M47.8 115.0h0.75M57.8 109.5h0.75M51.1 112.9h0.75M55.5 99.6h0.75M64.8 113.2h0.75M58.6 115.2h0.75M58.9 101.5h0.75" stroke="#000" stroke-width="0.75" fill="none" opacity="0.45" filter="url(#bl)"/>
<ellipse cx="145" cy="128.3" rx="4" ry="2.2" fill="url(#g)" opacity="0.4"/>
<path d="M141.3 123.3h0.75M147.2 103.0h0.75M139.7 105.5h0.75M149.9 118.4h0.75M144.8 109.2h0.75M136.4 86.8h0.75M144.1 101.6h0.75M142.7 99.8h0.75M147.6 109.7h0.75M145.7 90.5h0.75M140.5 86.5h0.75M144.8 103.2h0.75M139.2 87.2h0.75M142.8 120.9h0.75M142.8 87.8h0.75M140.9 108.4h0.75M146.4 94.7h0.75M139.6 124.4h0.75M138.6 89.7h0.75M142.2 97.3h0.75M144.3 94.3h0.75M149.1 96.7h0.75M143.9 115.0h0.75M145.2 87.0h0.75M136.8 108.9h0.75M145.7 109.6h0.75M138.6 102.6h0.75M144.7 99.7h0.75M138.7 105.3h0.75M140.4 112.2h0.75M143.1 118.5h0.75M142.4 101.8h0.75M142.3 115.9h0.75M145.6 112.6h0.75M145.8 106.8h0.75M142.4 113.5h0.75M143.3 92.5h0.75M139.2 114.2h0.75M140.1 90.4h0.75M148.6 120.0h0.75M141.7 93.2h0.75M142.0 113.3h0.75M139.3 113.2h0.75M135.4 103.1h0.75M147.4 104.2h0.75M142.3 120.9h0.75M140.7 99.0h0.75M144.2 90.8h0.75M141.4 109.0h0.75M142.9 93.8h0.75M146.6 114.2h0.75M142.3 91.2h0.75M137.2 87.8h0.75M141.4 113.9h0.75M142.0 107.3h0.75M148.8 111.6h0.75M140.0 118.3h0.75M139.7 88.4h0.75M142.6 113.4h0.75M140.1 106.0h0.75M138.3 103.7h0.75M145.8 91.5h0.75M141.0 123.1h0.75M143.3 124.4h0.75M135.1 103.0h0.75M145.0 105.1h0.75M146.2 101.1h0.75M143.3 123.8h0.75M140.0 94.3h0.75M141.3 95.1h0.75M149.3 114.3h0.75M142.1 104.3h0.75M146.4 95.6h0.75M146.5 122.1h0.75M135.0 92.2h0.75M146.5 114.9h0.75M143.3 107.3h0.75M153.0 112.6h0.75M140.1 96.2h0.75M141.6 101.4h0.75M143.5 115.3h0.75M141.8 107.0h0.75M144.8 120.9h0.75M141.6 102.8h0.75M141.3 94.9h0.75M144.1 103.3h0.75M139.2 120.2h0.75M141.6 124.2h0.75M146.5 98.0h0.75M137.7 99.1h0.75M141.4 110.5h0.75M136.7 107.7h0.75M145.9 114.3h0.75M137.7 101.2h0.75M140.2 91.8h0.75M140.6 86.6h0.75M145.1 116.0h0.75M138.6 113.5h0.75M142.1 88.6h0.75M146.7 87.6h0.75M146.8 119.9h0.75M133.3 119.5h0.75M142.2 101.9h0.75M140.6 116.0h0.75M145.9 104.0h0.75M140.6 115.2h0.75M131.8 106.0h0.75M142.5 108.7h0.75M138.5 102.4h0.75M152.5 108.2h0.75M138.5 107.8h0.75M146.4 122.2h0.75M145.5 95.5h0.75M143.1 113.8h0.75M140.0 97.0h0.75M137.6 87.3h0.75M139.2 118.8h0.75M140.0 98.0h0.75M142.3 107.6h0.75M142.6 88.7h0.75M140.4 95.0h0.75M140.3 115.8h0.75M140.0 114.4h0.75M139.5 91.7h0.75M146.2 109.8h0.75M141.1 112.0h0.75M140.6 91.4h0.75M147.2 122.0h0.75M141.9 112.1h0.75M144.0 110.0h0.75M148.4 100.8h0.75M140.6 112.5h0.75M137.0 94.5h0.75M150.4 102.9h0.75M141.0 122.1h0.75M146.0 93.5h0.75M142.6 95.5h0.75M140.7 95.3h0.75M142.8 114.6h0.75M147.6 101.9h0.75M143.3 113.7h0.75M142.5 94.3h0.75M146.8 86.6h0.75M145.0 97.5h0.75M140.1 122.4h0.75M139.6 91.5h0.75M146.0 102.1h0.75M147.5 117.9h0.75M138.0 121.7h0.75M142.8 91.1h0.75M143.9 111.4h0.75M139.4 113.8h0.75M141.7 94.6h0.75M139.8 91.4h0.75M140.4 116.2h0.75M145.3 115.7h0.75M148.6 103.0h0.75M140.4 91.4h0.75M143.4 113.2h0.75M139.5 100.4h0.75M146.1 96.4h0.75M145.9 102.9h0.75M147.9 92.0h0.75M144.2 94.9h0.75M141.2 92.1h0.75M136.9 87.2h0.75M140.4 122.1h0.75M140.7 102.5h0.75M136.2 103.0h0.75M145.0 120.0h0.75M144.3 97.1h0.75M148.2 121.9h0.75M138.7 91.5h0.75M136.7 98.1h0.75M145.9 95.5h0.75M147.1 107.5h0.75M143.3 94.3h0.75M142.4 92.7h0.75M147.8 116.7h0.75M145.3 91.1h0.75M140.0 108.3h0.75M142.2 113.7h0.75M144.3 107.8h0.75M142.3 114.2h0.75M145.4 121.8h0.75M139.9 94.6h0.75M146.5 104.1h0.75M140.0 109.6h0.75M141.2 107.1h0.75M144.4 102.2h0.75M143.2 91.8h0.75M138.1 110.4h0.75M141.3 120.5h0.75M137.9 90.5h0.75M138.8 120.0h0.75M147.1 118.3h0.75M140.6 107.5h0.75M140.7 104.7h0.75M143.6 113.8h0.75M144.8 106.2h0.75M135.4 122.9h0.75M142.2 102.6h0.75M143.2 107.1h0.75M143.1 87.0h0.75M140.1 114.2h0.75M145.2 108.1h0.75M149.3 91.3h0.75M136.6 94.7h0.75M141.9 123.3h0.75M144.6 109.2h0.75M143.4 112.4h0.75M136.2 93.9h0.75M137.8 87.8h0.75M139.4 101.5h0.75M141.9 101.4h0.75M144.9 113.0h0.75M140.7 108.1h0.75M141.0 96.0h0.75M150.5 97.7h0.75M144.7 113.0h0.75" stroke="#000" stroke-width="0.75" fill="none" opacity="0.48" filter="url(#bl)"/>
<path d="M149.4 127.9h0.75M146.1 127.5h0.75M143.5 126.8h0.75M143.6 128.6h0.75M145.0 129.2h0.75M139.5 129.0h0.75M146.1 126.4h0.75M147.5 127.3h0.75M152.0 130.3h0.75M148.5 129.7h0.75M146.4 130.0h0.75M144.2 129.2h0.75M143.6 130.6h0.75M143.2 128.0h0.75M150.1 129.0h0.75M144.0 126.8h0.75M148.2 126.1h0.75M142.0 127.2h0.75M146.3 128.7h0.75M147.1 128.9h0.75M143.3 129.9h0.75M141.7 127.5h0.75M143.9 128.9h0.75M145.0 129.6h0.75M138.3 129.2h0.75M144.4 129.4h0.75M143.7 126.7h0.75M149.8 129.0h0.75M140.9 128.2h0.75M146.4 128.7h0.75M147.1 128.8h0.75M148.6 128.0h0.75M146.9 129.1h0.75M143.0 128.5h0.75M145.0 128.0h0.75M144.8 128.1h0.75M144.8 126.8h0.75M145.8 127.6h0.75M144.5 129.9h0.75M138.2 129.3h0.75M138.6 129.3h0.75M144.5 127.2h0.75M144.2 128.5h0.75M143.2 128.5h0.75M148.2 125.1h0.75M142.5 128.2h0.75M145.2 126.6h0.75M149.0 129.4h0.75M147.1 126.6h0.75M141.6 127.6h0.75M148.6 131.1h0.75M142.6 127.4h0.75M143.9 127.3h0.75M141.1 127.6h0.75M140.9 127.0h0.75M148.2 127.8h0.75M146.8 129.4h0.75M147.2 128.7h0.75M147.1 128.0h0.75M147.8 125.7h0.75M149.1 126.9h0.75M144.4 127.2h0.75M147.2 128.8h0.75M141.6 127.3h0.75M144.8 128.6h0.75M146.9 129.1h0.75M146.3 129.4h0.75M145.8 127.8h0.75M144.3 128.3h0.75M141.7 127.5h0.75M142.8 128.8h0.75M140.6 129.3h0.75M147.6 128.1h0.75M150.0 127.8h0.75M146.6 131.4h0.75M146.8 128.9h0.75M146.6 128.6h0.75M144.6 127.3h0.75M146.7 127.5h0.75M140.3 129.3h0.75M144.6 129.0h0.75M146.1 129.2h0.75M145.1 126.6h0.75M140.6 129.0h0.75M146.4 129.4h0.75M142.4 128.0h0.75M145.7 129.0h0.75M145.7 128.0h0.75M144.3 126.3h0.75M144.9 129.2h0.75M145.0 127.0h0.75M147.1 128.2h0.75M140.5 127.4h0.75M146.1 127.4h0.75M142.6 129.5h0.75M143.4 126.9h0.75M142.7 127.0h0.75M145.4 127.5h0.75M141.5 129.2h0.75M145.0 125.3h0.75M145.3 128.9h0.75M141.5 128.1h0.75M146.8 127.3h0.75M146.6 127.5h0.75M146.0 126.9h0.75M145.5 129.6h0.75M147.6 128.1h0.75M143.1 128.3h0.75M145.8 126.7h0.75M145.8 127.1h0.75M147.1 128.0h0.75M144.4 129.5h0.75M146.2 129.8h0.75M142.9 127.5h0.75M145.8 129.4h0.75M148.2 128.4h0.75M142.0 129.1h0.75M146.2 127.8h0.75M140.0 126.4h0.75M148.7 128.1h0.75" stroke="#000" stroke-width="0.75" fill="none" opacity="0.7" filter="url(#bl)"/>
<path d="M114.8 128.5h0.75M110.9 129.9h0.75M117.5 127.0h0.75M108.8 127.1h0.75M138.4 129.2h0.75M109.0 127.3h0.75M126.8 128.1h0.75M136.3 130.2h0.75M136.8 127.5h0.75M118.3 128.1h0.75M127.2 127.9h0.75M110.2 127.5h0.75M136.6 128.8h0.75M123.5 127.8h0.75M136.8 127.3h0.75M115.7 129.4h0.75M137.9 129.7h0.75M120.6 129.3h0.75M124.7 125.3h0.75M139.5 127.8h0.75M140.0 129.4h0.75M124.2 131.1h0.75M129.8 128.2h0.75M138.3 129.5h0.75M134.3 127.5h0.75M130.8 128.0h0.75M113.4 129.5h0.75M111.5 128.3h0.75M138.0 129.2h0.75M124.6 130.7h0.75M132.6 128.3h0.75M125.2 127.8h0.75M112.2 127.0h0.75M119.8 128.4h0.75M129.8 129.5h0.75M136.9 128.4h0.75M133.8 129.3h0.75M114.4 130.4h0.75M124.1 127.4h0.75M115.5 129.5h0.75M123.9 126.3h0.75M116.0 128.1h0.75M132.5 128.2h0.75M126.8 127.6h0.75M125.4 127.1h0.75M132.5 128.0h0.75M133.5 128.8h0.75M135.3 126.3h0.75M130.8 129.2h0.75M109.3 129.5h0.75M139.1 125.1h0.75M132.3 126.1h0.75M111.3 129.0h0.75M132.1 127.8h0.75M119.2 128.0h0.75M134.7 127.6h0.75M129.1 129.0h0.75M114.1 127.7h0.75M134.5 130.3h0.75M128.3 126.5h0.75M140.5 126.9h0.75M127.5 127.8h0.75M126.7 126.9h0.75M134.4 128.1h0.75M135.0 129.4h0.75M124.7 130.2h0.75M121.0 127.9h0.75M139.1 127.8h0.75M132.7 126.5h0.75M109.5 127.5h0.75M133.8 129.0h0.75M109.7 127.1h0.75M124.3 128.9h0.75M132.5 129.1h0.75M133.0 127.7h0.75M116.2 127.4h0.75M130.3 126.8h0.75M125.0 125.4h0.75M119.7 126.6h0.75M119.3 129.8h0.75M129.4 127.3h0.75M137.2 128.8h0.75M123.3 129.0h0.75M123.5 128.6h0.75M115.8 127.4h0.75M121.0 128.9h0.75M120.7 126.6h0.75M130.8 128.5h0.75M118.3 129.2h0.75M122.9 129.3h0.75M140.6 129.1h0.75M140.1 127.3h0.75M131.8 129.2h0.75M115.4 127.0h0.75M113.0 128.6h0.75M111.5 126.5h0.75M123.7 128.6h0.75M119.4 129.1h0.75M130.0 129.9h0.75M120.6 128.6h0.75M110.6 127.0h0.75M134.6 128.7h0.75M112.6 130.1h0.75M120.1 131.1h0.75M125.8 127.9h0.75M120.1 127.8h0.75M131.8 127.3h0.75M126.6 126.9h0.75M111.8 128.4h0.75M113.5 127.2h0.75M125.3 128.5h0.75M124.5 127.8h0.75M130.1 126.8h0.75M115.1 125.1h0.75M108.3 130.0h0.75M120.6 126.5h0.75M121.2 127.5h0.75M134.1 127.8h0.75M136.5 129.1h0.75M123.2 128.0h0.75M112.3 129.9h0.75M140.7 128.1h0.75M138.0 126.7h0.75M111.6 129.1h0.75M134.7 127.7h0.75M113.8 129.8h0.75M131.3 129.5h0.75M136.6 128.8h0.75M125.0 128.5h0.75M133.9 125.0h0.75M115.4 129.4h0.75M123.3 127.9h0.75M118.3 127.1h0.75M117.0 128.5h0.75M114.2 129.4h0.75M126.5 129.2h0.75M134.8 127.4h0.75M139.4 128.0h0.75M138.7 127.6h0.75M135.4 128.9h0.75M129.2 127.3h0.75M131.0 129.5h0.75M126.0 128.5h0.75M135.6 130.5h0.75M140.3 127.6h0.75M108.1 126.7h0.75M134.4 130.7h0.75M122.6 129.6h0.75M110.4 129.1h0.75M115.4 126.8h0.75M116.1 126.6h0.75M108.6 128.5h0.75M118.1 126.7h0.75M117.5 129.3h0.75M122.9 127.9h0.75M120.7 130.1h0.75M130.0 126.8h0.75M120.3 128.8h0.75M128.9 128.4h0.75M136.2 128.5h0.75M114.1 128.6h0.75M110.6 128.8h0.75M117.4 128.5h0.75M117.4 126.6h0.75M125.0 127.4h0.75M111.6 127.5h0.75M128.6 129.8h0.75M114.9 131.2h0.75M126.3 128.3h0.75M116.7 128.8h0.75M155.8 129.5h0.75M158.8 128.7h0.75M154.1 126.0h0.75M152.6 127.2h0.75M154.6 128.0h0.75M156.7 128.7h0.75M152.9 128.2h0.75M156.5 127.5h0.75M154.5 127.8h0.75M150.0 127.8h0.75M150.9 129.5h0.75M153.6 128.7h0.75M156.0 128.0h0.75M151.9 131.0h0.75M158.7 128.9h0.75" stroke="#000" stroke-width="0.75" fill="none" opacity="0.45" filter="url(#bl)"/>
<path d="M199.0 107.3h0.75M204.1 90.9h0.75M201.2 112.7h0.75M209.7 112.2h0.75M206.4 92.2h0.75M198.3 104.8h0.75M187.2 113.3h0.75M189.1 106.6h0.75M194.0 93.4h0.75M214.6 108.5h0.75M208.0 108.0h0.75M202.9 116.8h0.75M187.9 100.5h0.75M192.6 107.7h0.75M197.8 118.4h0.75M193.0 96.9h0.75M213.5 111.8h0.75M198.9 100.3h0.75M208.0 92.9h0.75M207.7 95.5h0.75M210.2 90.4h0.75M213.4 116.4h0.75M186.7 93.3h0.75M213.4 115.0h0.75M194.8 114.4h0.75M203.4 96.2h0.75M206.6 101.7h0.75M190.3 116.1h0.75M207.5 96.0h0.75M198.8 110.5h0.75M197.1 96.5h0.75M201.8 119.4h0.75M188.9 96.3h0.75M200.5 120.5h0.75M215.8 88.3h0.75M205.3 92.6h0.75M192.2 92.5h0.75M201.0 120.8h0.75M215.0 100.1h0.75M212.9 110.7h0.75M188.2 117.7h0.75M194.2 120.3h0.75M190.0 117.7h0.75M201.4 105.0h0.75M191.5 104.1h0.75M208.8 106.4h0.75M215.4 105.6h0.75M213.1 92.4h0.75M208.1 107.8h0.75M212.5 99.1h0.75M199.9 114.8h0.75M193.7 100.3h0.75M211.4 109.4h0.75M200.7 88.5h0.75M208.9 101.7h0.75M193.1 100.7h0.75M190.1 115.7h0.75M209.9 119.9h0.75M206.2 93.3h0.75M198.7 120.9h0.75M186.0 99.3h0.75M190.5 93.6h0.75M194.3 108.4h0.75M188.0 116.6h0.75M198.9 93.7h0.75M189.0 105.3h0.75M196.5 104.5h0.75M189.2 99.7h0.75M201.2 90.8h0.75M201.0 115.7h0.75M203.7 92.3h0.75M204.9 90.7h0.75M190.3 88.3h0.75M201.9 93.9h0.75M194.4 92.0h0.75M212.9 92.8h0.75M206.2 114.6h0.75M199.5 107.2h0.75M196.0 115.0h0.75M206.6 90.6h0.75M207.1 92.6h0.75M200.4 94.1h0.75M200.5 109.6h0.75M208.0 98.7h0.75M187.6 102.9h0.75M213.4 106.2h0.75M204.6 113.3h0.75M205.1 119.3h0.75M214.6 112.4h0.75M210.2 92.7h0.75M193.9 111.5h0.75M203.4 116.4h0.75M209.2 98.9h0.75M191.1 109.7h0.75M189.3 104.3h0.75M194.3 101.2h0.75M205.6 108.9h0.75M204.5 90.0h0.75M212.8 111.3h0.75M213.2 108.2h0.75M205.4 117.3h0.75M208.4 108.9h0.75M187.2 88.8h0.75M207.5 116.0h0.75M197.6 95.0h0.75M199.2 115.8h0.75M208.7 92.3h0.75M192.0 94.9h0.75M208.4 96.3h0.75M212.7 101.6h0.75M191.8 101.7h0.75M190.2 117.0h0.75M186.7 101.8h0.75M197.4 89.3h0.75M192.7 120.6h0.75M211.8 101.9h0.75M212.2 118.0h0.75M211.7 112.0h0.75M203.0 104.9h0.75M207.5 107.8h0.75M215.2 93.9h0.75M213.0 112.9h0.75M199.3 116.0h0.75M194.6 100.9h0.75M203.3 120.0h0.75M193.3 116.0h0.75M205.7 118.4h0.75M195.0 109.9h0.75M212.7 117.2h0.75M206.9 115.7h0.75M205.0 106.2h0.75M191.8 105.1h0.75M215.3 119.2h0.75M187.3 98.0h0.75M193.2 115.8h0.75M191.5 113.3h0.75M191.9 99.2h0.75M215.2 92.1h0.75M203.5 97.1h0.75M208.7 90.2h0.75M206.3 96.5h0.75M214.7 98.9h0.75M206.1 88.9h0.75M214.2 108.9h0.75M213.4 112.5h0.75M187.8 112.5h0.75M197.4 94.6h0.75M212.7 109.9h0.75M196.5 90.4h0.75M205.5 90.0h0.75M193.2 89.6h0.75M191.2 112.7h0.75M194.0 120.5h0.75M194.4 114.4h0.75M208.1 109.2h0.75M204.1 92.6h0.75M210.9 118.4h0.75M201.9 94.2h0.75M188.6 96.4h0.75M215.2 98.5h0.75M194.4 105.3h0.75M187.0 114.1h0.75M209.4 98.1h0.75M186.9 117.7h0.75M210.3 113.2h0.75M192.3 119.5h0.75M205.2 89.0h0.75M215.4 111.0h0.75M191.5 117.4h0.75M203.9 109.0h0.75M216.3 98.2h0.75M225.5 92.4h0.75M218.3 94.0h0.75M223.0 96.0h0.75M225.4 105.1h0.75M225.4 118.5h0.75M227.7 97.6h0.75M220.4 115.0h0.75M220.0 119.2h0.75M220.0 110.2h0.75M219.1 113.0h0.75M219.4 104.2h0.75" stroke="#000" stroke-width="0.75" fill="none" opacity="0.32" filter="url(#bl)"/>
<path d="M192.1 127.7h0.75M193.8 125.7h0.75M219.4 128.6h0.75M221.6 130.3h0.75M210.3 128.4h0.75M185.3 127.2h0.75M198.3 127.0h0.75M225.5 129.5h0.75M219.9 128.4h0.75M196.3 129.5h0.75M187.5 127.4h0.75M190.4 127.0h0.75M219.7 126.7h0.75M229.0 126.1h0.75M227.7 127.0h0.75M215.4 126.2h0.75M197.0 127.3h0.75M189.4 127.9h0.75M199.9 129.1h0.75M213.7 128.9h0.75M230.6 128.6h0.75M227.5 127.2h0.75M195.1 128.7h0.75M188.3 129.7h0.75M185.4 128.3h0.75M186.3 129.0h0.75M229.0 129.0h0.75M188.7 125.7h0.75M204.1 130.6h0.75M202.6 128.5h0.75M201.8 127.6h0.75M192.7 126.6h0.75M231.2 129.6h0.75M187.0 129.5h0.75M198.6 128.4h0.75M209.9 129.7h0.75M191.0 127.1h0.75M206.4 128.1h0.75M212.4 128.4h0.75M226.3 127.4h0.75M232.3 127.0h0.75M224.9 127.6h0.75M209.7 129.2h0.75M208.0 128.1h0.75M213.1 129.1h0.75M211.2 126.6h0.75M191.7 129.0h0.75M194.0 127.3h0.75M234.8 128.1h0.75M213.3 128.7h0.75M211.6 128.5h0.75M196.5 126.7h0.75M205.7 129.2h0.75M222.9 127.2h0.75M209.5 131.1h0.75M206.6 124.8h0.75M195.3 128.7h0.75M209.4 126.9h0.75M224.4 127.8h0.75M202.8 129.0h0.75M190.8 127.3h0.75M224.8 127.3h0.75M216.1 128.4h0.75M193.9 126.1h0.75M225.0 125.6h0.75M215.1 128.1h0.75M187.8 127.6h0.75M228.1 127.5h0.75M205.4 129.1h0.75M220.7 128.2h0.75M232.4 127.2h0.75M198.8 125.6h0.75M201.8 128.1h0.75M190.2 128.8h0.75M210.0 129.7h0.75M187.9 127.7h0.75M224.3 128.9h0.75M195.4 127.6h0.75M212.3 128.0h0.75M199.5 128.8h0.75M196.5 126.2h0.75M191.7 127.2h0.75M207.8 126.8h0.75M203.8 128.0h0.75M222.1 128.4h0.75M217.3 128.7h0.75M211.2 127.4h0.75M195.0 126.4h0.75M208.4 129.5h0.75M198.3 127.3h0.75M205.7 125.5h0.75M226.0 130.7h0.75M198.9 129.3h0.75M196.9 129.3h0.75M217.8 127.7h0.75M205.8 129.3h0.75M228.6 128.6h0.75M207.3 127.5h0.75M198.1 128.4h0.75M230.6 126.8h0.75M211.6 126.7h0.75M221.2 126.5h0.75M234.4 130.2h0.75M202.8 127.5h0.75M227.5 127.3h0.75M230.3 130.7h0.75M233.3 126.9h0.75M195.3 128.6h0.75M200.4 128.5h0.75M206.3 128.8h0.75M186.8 127.0h0.75M202.4 129.1h0.75M209.6 127.7h0.75M231.2 128.1h0.75M228.9 126.3h0.75M210.2 125.5h0.75M214.4 128.6h0.75M228.0 128.2h0.75M223.7 127.8h0.75M212.5 128.7h0.75M213.2 127.4h0.75M214.3 128.2h0.75M188.9 127.4h0.75M227.4 125.4h0.75M202.5 127.5h0.75M226.2 129.3h0.75M209.2 127.6h0.75M192.6 128.3h0.75M204.4 128.5h0.75M208.0 128.1h0.75M231.0 128.8h0.75M212.7 128.1h0.75M233.7 129.7h0.75M220.3 127.9h0.75M192.5 127.8h0.75M225.4 128.4h0.75M193.3 127.5h0.75M217.6 127.2h0.75M235.8 129.0h0.75M212.2 127.7h0.75M221.3 128.3h0.75M232.3 128.9h0.75M192.3 128.4h0.75M195.6 129.0h0.75M197.1 128.3h0.75M218.8 129.4h0.75M206.4 128.2h0.75M193.6 129.1h0.75M185.2 128.6h0.75M219.4 128.3h0.75M230.3 129.5h0.75M216.3 128.6h0.75M206.8 127.6h0.75M201.4 129.3h0.75M192.3 128.8h0.75M195.6 128.4h0.75M216.4 127.8h0.75M195.2 128.6h0.75M210.4 126.1h0.75M222.8 128.0h0.75M195.8 128.4h0.75M187.2 126.7h0.75M199.8 127.7h0.75M189.3 126.9h0.75M209.1 129.3h0.75M228.2 130.6h0.75M196.5 128.6h0.75M230.2 127.3h0.75M232.8 128.2h0.75M208.8 129.8h0.75M229.0 125.2h0.75M232.3 129.6h0.75M187.5 127.9h0.75M186.1 127.2h0.75M230.0 129.5h0.75M233.8 127.3h0.75M199.0 128.4h0.75M194.1 131.5h0.75M232.9 127.5h0.75M203.0 132.3h0.75M226.0 125.7h0.75M230.8 128.4h0.75M211.2 127.5h0.75M232.6 128.8h0.75M195.0 126.1h0.75M210.9 126.4h0.75M225.5 129.6h0.75M226.2 127.3h0.75M220.3 126.2h0.75M207.4 128.8h0.75M230.0 125.7h0.75M235.3 127.8h0.75M213.1 126.8h0.75M228.4 129.5h0.75M198.1 128.2h0.75M226.0 129.6h0.75M190.5 128.1h0.75M192.2 128.0h0.75M202.5 126.2h0.75M189.1 126.9h0.75M206.9 126.6h0.75M198.8 127.2h0.75M226.5 127.6h0.75M204.5 128.9h0.75M196.7 127.7h0.75M199.3 126.5h0.75M231.8 126.9h0.75M192.9 125.8h0.75M194.7 128.1h0.75M204.7 128.7h0.75M215.1 127.5h0.75M192.4 125.3h0.75M199.3 127.6h0.75M214.3 128.6h0.75M199.1 127.3h0.75M230.7 128.1h0.75M201.4 126.9h0.75M200.3 126.8h0.75M218.3 128.1h0.75M233.8 127.9h0.75M186.7 127.8h0.75M225.0 127.8h0.75M218.2 128.6h0.75M219.4 129.3h0.75M231.6 127.6h0.75M208.9 130.0h0.75M229.5 126.5h0.75M220.0 129.3h0.75M233.8 130.1h0.75M197.8 127.1h0.75M191.0 127.7h0.75M202.4 127.3h0.75M200.8 129.1h0.75M232.3 127.7h0.75M203.0 130.3h0.75M227.0 127.9h0.75M188.2 128.3h0.75M202.1 128.2h0.75M207.8 128.2h0.75M228.4 130.7h0.75M202.3 126.8h0.75M187.4 128.2h0.75M234.6 125.0h0.75M232.5 129.0h0.75M227.5 129.2h0.75M192.9 128.9h0.75M189.3 128.9h0.75M222.7 128.5h0.75M187.6 127.2h0.75M220.8 124.3h0.75M189.0 128.3h0.75M235.0 127.3h0.75M194.5 128.2h0.75M218.6 127.6h0.75M192.6 128.8h0.75M189.7 129.3h0.75M228.2 126.5h0.75M185.2 128.3h0.75M213.2 127.8h0.75M193.4 128.5h0.75M218.1 126.4h0.75M219.1 131.1h0.75M219.9 127.4h0.75M234.5 127.6h0.75M202.5 130.2h0.75M195.3 129.4h0.75M193.5 126.7h0.75M195.1 126.0h0.75M210.8 127.2h0.75M235.5 128.1h0.75M195.3 129.5h0.75M193.5 128.3h0.75M209.0 125.4h0.75M213.5 126.4h0.75M234.3 127.3h0.75M202.0 125.7h0.75M215.9 129.4h0.75M230.0 130.7h0.75M191.0 129.5h0.75M191.7 129.9h0.75M206.2 129.0h0.75M218.5 128.9h0.75M214.5 129.4h0.75M206.0 127.6h0.75M185.3 127.3h0.75M198.0 128.8h0.75M220.0 127.7h0.75M207.5 125.8h0.75M197.4 127.4h0.75M235.9 128.5h0.75M212.3 127.0h0.75M210.1 127.4h0.75M206.9 127.7h0.75M230.8 129.4h0.75M208.2 128.9h0.75M196.3 127.4h0.75M209.6 128.8h0.75M185.6 127.9h0.75M185.7 126.7h0.75M192.7 128.5h0.75" stroke="#000" stroke-width="0.75" fill="none" opacity="0.5" filter="url(#bl)"/>
<ellipse cx="338.9" cy="11.5" rx="4.3" ry="6.5" fill="url(#g)" opacity="0.85"/>
<ellipse cx="337.9" cy="54.2" rx="3.4" ry="3.2" fill="url(#g)" opacity="0.95"/>
<rect x="336" y="12" width="5.6" height="30" fill="url(#gv)" opacity="0.25"/>
<path d="M336.9 11.0h0.75M338.7 12.0h0.75M338.2 13.6h0.75M340.8 13.6h0.75M339.3 14.9h0.75M338.8 10.5h0.75M336.3 11.1h0.75M341.1 8.0h0.75M340.3 7.0h0.75M339.4 16.8h0.75M339.0 7.3h0.75M339.4 10.5h0.75M340.3 9.4h0.75M335.8 9.5h0.75M339.9 14.3h0.75M339.4 11.1h0.75M340.1 10.4h0.75M338.1 11.7h0.75M340.8 9.4h0.75M339.8 9.0h0.75M337.6 11.6h0.75M336.5 8.3h0.75M336.8 9.1h0.75M337.3 18.3h0.75M340.0 11.2h0.75M336.5 3.5h0.75M339.7 9.0h0.75M340.8 9.8h0.75M336.6 9.0h0.75M336.2 6.6h0.75M340.2 9.3h0.75M340.1 9.3h0.75M338.5 9.3h0.75M337.9 8.9h0.75M341.6 10.8h0.75M335.4 16.3h0.75M341.1 14.5h0.75M338.7 10.5h0.75M338.0 11.4h0.75M339.7 11.0h0.75M337.4 8.0h0.75M341.9 16.3h0.75M336.7 9.0h0.75M338.8 12.8h0.75M338.7 11.8h0.75M339.5 14.6h0.75M336.5 14.4h0.75M339.7 12.7h0.75M336.2 10.3h0.75M338.4 13.0h0.75M340.1 13.2h0.75M336.6 14.9h0.75M339.0 13.9h0.75M338.9 8.8h0.75M343.6 13.1h0.75M340.2 9.6h0.75M338.5 14.5h0.75M339.7 16.4h0.75M341.0 7.7h0.75M336.1 14.6h0.75M340.0 10.2h0.75M338.4 9.3h0.75M342.1 10.5h0.75M336.4 13.8h0.75M338.7 12.1h0.75M338.2 10.9h0.75M335.5 12.7h0.75M337.6 9.8h0.75M339.4 15.0h0.75M335.0 10.6h0.75M339.9 14.2h0.75M337.2 12.0h0.75M339.6 13.9h0.75M337.8 10.4h0.75M338.0 14.5h0.75M340.8 9.6h0.75M338.6 11.7h0.75M337.3 10.7h0.75M340.4 13.4h0.75M337.7 9.0h0.75M338.7 6.5h0.75M339.4 11.4h0.75M336.5 10.3h0.75M337.7 10.2h0.75M337.3 15.2h0.75M337.1 13.4h0.75M339.2 15.5h0.75M338.8 11.0h0.75M339.0 5.2h0.75M343.2 10.4h0.75M338.3 7.6h0.75M338.6 16.0h0.75M337.5 12.4h0.75M340.7 13.9h0.75M338.1 5.7h0.75M339.6 12.8h0.75M338.3 9.7h0.75M342.0 6.2h0.75M337.9 9.2h0.75M336.1 8.9h0.75M337.4 14.8h0.75M335.7 6.8h0.75M339.3 6.3h0.75M335.3 9.1h0.75M336.7 8.1h0.75M338.6 12.4h0.75M337.7 10.2h0.75M340.1 10.6h0.75M340.2 9.2h0.75M339.7 14.9h0.75M336.4 20.2h0.75M338.3 10.0h0.75M338.6 12.4h0.75M336.7 11.2h0.75M337.8 15.4h0.75M335.8 13.0h0.75M338.3 8.8h0.75M339.1 10.3h0.75M338.9 11.8h0.75M341.0 9.8h0.75M341.9 2.8h0.75M342.1 14.7h0.75M341.7 11.6h0.75M339.4 8.0h0.75M341.3 7.5h0.75M337.4 11.0h0.75M339.3 12.1h0.75M336.8 10.0h0.75M339.7 14.6h0.75M340.2 12.3h0.75M338.4 9.4h0.75M337.9 10.8h0.75M339.8 9.5h0.75M342.6 8.0h0.75M340.3 10.4h0.75M338.6 9.9h0.75M341.6 10.1h0.75M339.9 11.4h0.75M340.2 12.8h0.75M341.8 8.8h0.75M337.4 16.2h0.75M341.2 11.3h0.75M338.4 11.8h0.75M341.2 8.7h0.75M341.5 10.9h0.75M338.2 9.8h0.75M335.1 12.0h0.75M336.5 9.4h0.75M337.3 11.8h0.75M340.2 11.2h0.75M339.2 12.3h0.75M341.7 12.8h0.75M341.7 10.9h0.75M339.5 9.1h0.75M339.9 8.5h0.75M339.7 9.1h0.75M338.2 14.7h0.75M339.1 13.4h0.75M338.4 5.4h0.75M341.5 10.5h0.75M337.7 13.9h0.75M336.8 8.8h0.75M340.9 8.9h0.75M340.9 10.1h0.75M338.5 11.3h0.75M338.0 14.3h0.75M340.8 11.3h0.75M340.0 12.7h0.75M341.9 6.3h0.75M340.7 13.8h0.75M338.3 11.1h0.75M338.2 14.8h0.75M336.8 12.9h0.75M341.2 12.8h0.75M338.0 9.7h0.75M335.1 7.9h0.75M340.8 8.2h0.75M335.9 10.3h0.75M336.2 12.4h0.75M337.3 13.9h0.75M338.7 6.8h0.75M337.5 9.1h0.75M337.4 14.8h0.75M337.1 12.1h0.75M337.8 12.8h0.75M336.3 6.3h0.75M339.8 15.4h0.75M336.4 10.1h0.75M338.0 8.2h0.75M340.6 11.2h0.75M336.4 10.4h0.75M341.3 8.9h0.75M337.9 8.6h0.75M339.2 9.4h0.75M340.5 8.5h0.75M336.3 12.4h0.75M333.2 8.2h0.75M339.4 11.8h0.75M337.8 9.7h0.75M339.8 22.3h0.75M337.4 10.5h0.75M338.1 12.7h0.75M338.9 12.7h0.75M341.8 10.2h0.75M338.4 12.2h0.75M342.6 10.0h0.75M341.9 14.6h0.75M334.0 8.1h0.75M337.1 12.3h0.75M341.3 11.2h0.75M339.2 17.6h0.75M339.5 17.5h0.75M337.3 16.0h0.75M338.0 3.7h0.75M337.4 9.6h0.75M338.8 13.3h0.75M340.1 12.6h0.75M337.5 16.4h0.75M341.0 11.2h0.75M337.8 10.9h0.75M338.5 9.0h0.75M338.9 9.1h0.75M340.0 9.1h0.75M339.8 12.0h0.75M339.2 12.6h0.75M337.0 18.8h0.75M337.6 13.3h0.75M338.9 9.7h0.75M342.0 14.4h0.75M338.4 12.8h0.75M340.1 15.8h0.75M340.7 10.5h0.75M338.4 7.5h0.75M339.3 13.7h0.75M338.2 13.1h0.75M339.1 9.7h0.75M336.7 14.4h0.75M343.4 12.7h0.75M336.9 7.9h0.75M339.3 13.0h0.75M341.6 3.8h0.75M342.2 11.6h0.75M339.1 12.2h0.75M338.2 10.2h0.75M340.8 5.8h0.75M338.7 12.7h0.75M335.9 10.6h0.75M341.6 12.2h0.75M340.2 13.2h0.75M339.3 12.1h0.75M336.7 53.9h0.75M340.7 52.5h0.75M337.6 52.4h0.75M337.1 53.1h0.75M336.0 54.6h0.75M336.5 55.0h0.75M340.6 50.6h0.75M337.6 51.2h0.75M337.7 54.8h0.75M338.2 55.9h0.75M338.1 51.8h0.75M340.1 52.9h0.75M337.7 54.7h0.75M336.6 54.3h0.75M340.1 51.8h0.75M335.4 53.6h0.75M337.6 52.4h0.75M334.4 55.5h0.75M338.5 52.3h0.75M338.7 54.1h0.75M338.1 52.3h0.75M337.6 54.9h0.75M335.3 52.7h0.75M339.3 57.1h0.75M338.9 54.1h0.75M336.3 53.6h0.75M337.5 54.8h0.75M337.5 57.8h0.75M339.9 51.1h0.75M336.1 54.2h0.75M339.4 54.8h0.75M333.8 51.9h0.75M339.9 55.1h0.75M341.7 55.4h0.75M338.6 56.4h0.75M337.2 53.4h0.75M336.4 54.6h0.75M338.6 55.6h0.75M340.1 55.1h0.75M339.7 53.9h0.75M336.4 55.3h0.75M339.4 56.1h0.75M337.6 53.5h0.75M337.3 54.7h0.75M337.8 54.0h0.75M338.3 53.8h0.75M338.4 53.4h0.75M335.6 53.8h0.75M340.7 53.1h0.75M339.3 56.1h0.75M337.1 54.6h0.75M334.5 55.0h0.75M340.2 54.5h0.75M334.9 53.4h0.75M336.8 54.4h0.75M338.3 53.6h0.75M337.4 53.0h0.75M338.8 54.5h0.75M338.4 53.5h0.75M338.6 53.8h0.75M338.3 54.0h0.75M336.9 52.6h0.75M335.1 52.3h0.75M338.6 58.9h0.75M335.4 53.0h0.75M337.9 59.3h0.75M337.6 52.5h0.75M338.5 57.2h0.75M333.7 52.5h0.75M339.8 52.5h0.75M337.7 53.3h0.75M339.0 52.1h0.75M338.4 54.5h0.75M338.7 54.8h0.75M338.1 51.6h0.75M337.4 52.8h0.75M338.7 53.9h0.75M338.1 55.8h0.75M337.7 56.6h0.75M339.2 52.1h0.75M337.0 56.0h0.75M337.1 55.9h0.75M337.1 54.0h0.75M339.4 51.9h0.75M338.0 53.6h0.75M338.2 56.7h0.75M338.6 52.3h0.75M339.3 53.6h0.75M338.1 55.9h0.75M337.4 55.6h0.75M338.2 52.9h0.75M337.4 52.2h0.75M339.7 54.4h0.75M339.4 52.6h0.75M339.2 52.5h0.75M338.3 54.2h0.75M337.0 54.7h0.75M338.0 52.9h0.75M336.8 52.3h0.75M340.0 54.4h0.75M337.4 55.2h0.75M336.6 52.5h0.75M338.4 56.5h0.75M338.4 54.4h0.75M340.5 52.0h0.75M342.5 52.6h0.75M337.8 52.3h0.75M336.1 53.9h0.75M341.6 52.8h0.75M337.0 54.6h0.75M336.4 53.8h0.75M339.1 51.0h0.75M337.4 53.8h0.75M337.1 54.0h0.75M335.2 53.6h0.75M337.1 52.7h0.75M339.8 57.1h0.75M339.1 52.9h0.75M340.0 54.9h0.75M336.7 55.1h0.75M337.0 55.0h0.75M339.3 55.9h0.75M336.3 54.0h0.75M337.9 52.4h0.75M338.5 55.2h0.75M335.8 53.4h0.75M336.2 52.4h0.75M336.3 56.2h0.75M336.9 53.6h0.75M339.4 55.7h0.75M340.0 51.2h0.75M339.0 51.6h0.75M336.9 53.6h0.75M337.0 57.1h0.75M337.6 55.9h0.75M337.6 54.1h0.75M338.7 54.8h0.75M338.7 51.7h0.75M338.7 54.7h0.75M338.8 54.1h0.75" stroke="#000" stroke-width="0.75" fill="none" opacity="0.75" filter="url(#bl)"/>
<path d="M339.6 40.8h0.75M336.8 35.2h0.75M341.3 34.3h0.75M338.4 26.5h0.75M340.7 27.8h0.75M338.3 40.0h0.75M338.6 26.5h0.75M340.5 12.8h0.75M340.1 22.7h0.75M338.4 11.6h0.75M336.1 16.8h0.75M341.2 12.6h0.75M338.4 30.0h0.75M338.9 32.0h0.75M339.6 9.6h0.75M340.5 44.6h0.75M339.3 5.7h0.75M339.4 35.0h0.75M339.1 11.2h0.75M338.4 38.4h0.75M339.9 9.3h0.75M338.3 31.8h0.75M338.2 10.3h0.75M340.6 15.9h0.75M343.7 23.5h0.75M335.5 27.5h0.75M333.6 9.8h0.75M337.6 29.0h0.75M336.7 20.8h0.75M339.2 27.4h0.75M338.3 27.3h0.75M341.5 14.8h0.75M337.4 20.7h0.75M338.0 23.6h0.75M339.7 10.7h0.75M335.1 36.5h0.75M337.3 29.2h0.75M338.4 38.1h0.75M341.4 13.5h0.75M339.1 29.5h0.75M340.6 41.5h0.75M337.8 34.7h0.75M338.2 11.2h0.75M339.1 28.6h0.75M339.0 28.7h0.75M336.8 12.7h0.75M339.4 13.6h0.75M337.4 25.5h0.75M338.0 42.5h0.75M336.2 7.5h0.75M339.5 7.2h0.75M339.5 11.5h0.75M340.5 43.3h0.75M338.4 7.9h0.75M340.3 37.1h0.75M335.5 30.3h0.75M337.9 31.4h0.75M336.0 23.4h0.75M340.3 10.7h0.75M339.4 7.4h0.75M341.9 30.7h0.75M338.1 31.7h0.75M337.2 22.2h0.75M338.5 21.9h0.75M338.6 44.9h0.75M337.5 30.6h0.75M338.2 45.0h0.75M337.2 38.7h0.75M339.3 39.9h0.75M339.3 17.2h0.75M341.4 19.5h0.75M339.4 42.5h0.75M337.4 24.9h0.75M339.5 21.6h0.75M340.4 24.1h0.75M337.6 44.8h0.75M337.8 10.6h0.75M339.8 42.7h0.75M339.6 34.9h0.75M336.9 39.3h0.75M338.5 31.6h0.75M338.2 40.7h0.75M337.1 31.4h0.75M339.2 12.8h0.75M339.3 45.7h0.75M341.4 9.7h0.75M337.9 6.5h0.75M337.2 17.5h0.75M338.6 20.3h0.75M338.1 30.4h0.75M339.1 39.4h0.75M333.3 12.8h0.75M336.7 27.7h0.75M338.1 29.5h0.75M338.0 32.4h0.75M339.7 40.8h0.75M337.9 44.3h0.75M336.6 15.4h0.75M336.1 31.8h0.75M339.4 21.1h0.75M337.9 45.3h0.75M336.9 29.5h0.75M339.5 39.8h0.75M335.4 33.9h0.75M339.9 21.5h0.75M337.9 6.9h0.75M341.4 13.1h0.75M335.1 11.8h0.75M337.8 10.8h0.75M340.4 38.1h0.75M340.1 16.2h0.75M340.7 31.5h0.75M340.4 39.8h0.75M341.8 32.5h0.75M340.3 14.9h0.75M339.7 25.0h0.75M338.3 34.9h0.75M338.4 6.9h0.75M338.5 43.8h0.75M338.0 13.1h0.75M341.9 37.1h0.75M336.5 36.9h0.75M339.5 20.6h0.75M335.7 34.6h0.75M341.5 23.2h0.75M339.1 45.4h0.75M339.3 34.0h0.75M337.1 29.0h0.75M338.7 14.2h0.75M338.8 15.6h0.75M337.8 30.8h0.75M335.3 36.1h0.75M338.3 15.5h0.75M338.2 28.8h0.75M338.9 33.5h0.75M337.1 18.7h0.75M338.5 22.0h0.75M339.8 28.8h0.75M341.4 19.2h0.75M338.4 20.5h0.75M339.9 23.1h0.75M336.6 32.1h0.75M338.3 13.0h0.75M337.5 31.8h0.75M338.4 11.6h0.75M338.7 22.7h0.75M340.7 21.2h0.75M340.0 17.1h0.75M338.9 7.7h0.75M336.1 45.7h0.75M335.0 14.5h0.75M335.8 14.1h0.75M338.3 11.5h0.75M340.0 15.4h0.75M335.8 36.7h0.75M337.9 10.5h0.75M338.9 37.7h0.75M340.3 43.8h0.75M341.8 39.7h0.75M337.2 24.4h0.75M340.1 10.8h0.75M339.3 9.8h0.75M339.9 7.1h0.75M340.0 40.1h0.75M339.0 39.9h0.75M338.5 41.5h0.75M338.8 37.6h0.75M342.4 28.7h0.75M341.5 31.0h0.75M339.0 33.9h0.75M339.3 34.2h0.75M339.1 28.6h0.75M339.3 17.6h0.75M337.0 28.2h0.75M341.7 9.8h0.75M338.0 28.3h0.75M336.3 44.1h0.75M336.5 7.3h0.75M339.3 17.3h0.75M337.1 9.7h0.75M339.8 33.3h0.75M340.1 29.0h0.75M339.9 20.4h0.75M336.3 11.8h0.75M338.9 8.3h0.75M335.5 27.5h0.75M338.5 38.7h0.75M337.8 30.0h0.75M340.1 33.0h0.75M335.0 32.5h0.75M338.5 20.3h0.75M340.2 38.2h0.75M337.8 42.0h0.75M338.1 26.2h0.75M341.4 35.1h0.75M338.6 19.1h0.75M340.8 32.6h0.75M338.8 21.5h0.75M337.9 20.1h0.75M338.7 21.9h0.75M338.9 13.1h0.75M337.9 31.4h0.75M339.5 39.1h0.75M339.0 26.2h0.75M337.3 21.3h0.75M339.6 14.4h0.75M338.9 40.8h0.75M339.4 27.9h0.75M340.2 33.6h0.75M338.0 19.0h0.75M337.9 13.5h0.75M339.9 25.2h0.75M339.8 9.3h0.75M340.1 12.8h0.75M337.4 9.4h0.75M338.6 40.7h0.75M340.5 17.0h0.75M339.5 7.4h0.75M336.5 15.6h0.75M339.8 20.6h0.75M340.9 23.3h0.75M337.5 13.7h0.75M339.8 14.8h0.75M335.1 39.9h0.75M340.3 14.9h0.75M339.8 44.0h0.75M341.9 18.1h0.75M339.4 28.8h0.75M337.5 13.0h0.75M340.6 29.2h0.75M337.8 37.6h0.75M336.9 34.2h0.75M338.6 24.4h0.75M337.6 11.3h0.75M338.2 14.2h0.75M338.5 28.9h0.75M333.8 42.0h0.75M341.7 44.1h0.75M338.6 20.6h0.75M337.1 37.7h0.75M337.0 34.4h0.75M339.6 37.6h0.75M337.5 29.5h0.75M340.4 30.4h0.75M338.5 40.3h0.75M339.1 11.0h0.75M336.3 11.4h0.75M341.1 9.9h0.75M339.4 27.5h0.75M340.2 34.4h0.75M340.1 8.5h0.75M338.5 29.2h0.75M341.3 10.3h0.75M337.6 19.8h0.75M339.3 16.7h0.75M340.7 40.3h0.75M339.8 46.0h0.75M338.2 44.5h0.75M336.3 43.8h0.75M341.2 35.1h0.75M337.3 36.4h0.75M340.7 18.9h0.75M338.2 11.4h0.75M339.0 37.6h0.75M337.9 22.6h0.75M341.4 34.1h0.75M338.7 32.4h0.75M339.6 15.5h0.75M339.4 25.3h0.75M340.7 41.5h0.75M337.9 47.1h0.75M337.0 48.2h0.75M339.2 48.2h0.75M339.3 50.6h0.75M337.6 50.8h0.75M337.8 49.6h0.75M338.6 44.2h0.75M339.7 49.3h0.75M338.9 49.0h0.75M341.0 49.4h0.75M337.4 44.3h0.75M338.0 48.2h0.75M340.1 49.4h0.75M338.5 45.0h0.75M336.8 45.1h0.75M339.1 45.4h0.75M337.7 45.1h0.75M337.8 45.5h0.75M341.2 44.8h0.75M337.2 48.0h0.75" stroke="#000" stroke-width="0.75" fill="none" opacity="0.55" filter="url(#bl)"/>
<path d="M353.3 52.3h0.75M360.1 52.8h0.75M353.9 56.1h0.75M354.9 53.0h0.75M351.2 53.3h0.75M357.0 52.4h0.75M358.9 52.1h0.75M365.2 53.7h0.75M355.3 52.2h0.75M363.5 52.8h0.75M353.2 52.1h0.75M352.9 52.8h0.75M360.4 51.9h0.75M361.2 53.6h0.75M363.0 53.4h0.75M363.9 52.8h0.75M360.8 52.8h0.75M350.3 51.8h0.75M363.3 52.2h0.75M363.3 51.7h0.75M365.1 50.4h0.75M364.2 53.1h0.75M355.1 51.4h0.75M360.6 51.1h0.75M350.4 53.6h0.75M350.6 53.8h0.75M352.5 51.9h0.75M365.1 51.3h0.75M357.3 52.2h0.75M352.1 54.3h0.75M364.2 55.0h0.75M354.1 52.5h0.75M365.0 55.2h0.75M352.0 51.0h0.75M350.5 52.9h0.75M360.9 11.3h0.75M356.9 19.2h0.75M361.4 11.2h0.75M361.3 34.9h0.75M354.0 20.5h0.75M361.6 17.9h0.75M363.4 35.9h0.75M352.8 22.2h0.75M351.5 24.5h0.75M355.7 35.3h0.75M361.4 35.8h0.75M362.8 31.4h0.75" stroke="#000" stroke-width="0.75" fill="none" opacity="0.45" filter="url(#bl)"/>
<ellipse cx="421" cy="11.5" rx="9.5" ry="4.6" fill="url(#g)" opacity="0.7"/>
<ellipse cx="421.7" cy="54.3" rx="3.3" ry="3.3" fill="url(#g)" opacity="0.95"/>
<rect x="418.8" y="15" width="5.6" height="34" fill="url(#gv)" opacity="0.22"/>
<path d="M422.8 8.4h0.75M426.2 13.5h0.75M424.1 18.4h0.75M414.1 13.0h0.75M426.4 8.3h0.75M425.1 9.7h0.75M418.8 13.7h0.75M417.1 12.2h0.75M412.8 14.8h0.75M420.2 7.4h0.75M416.3 11.6h0.75M422.6 13.2h0.75M413.6 11.5h0.75M411.7 13.3h0.75M431.2 7.2h0.75M411.4 6.2h0.75M417.4 13.1h0.75M422.1 7.6h0.75M418.5 10.7h0.75M422.3 12.3h0.75M419.7 13.1h0.75M418.6 10.5h0.75M414.3 11.7h0.75M425.6 11.7h0.75M427.4 10.9h0.75M427.4 11.2h0.75M423.6 10.8h0.75M417.2 14.2h0.75M419.3 11.2h0.75M429.3 13.7h0.75M418.1 11.2h0.75M416.4 13.9h0.75M420.8 11.7h0.75M421.1 7.7h0.75M419.1 10.8h0.75M426.2 9.3h0.75M423.7 12.8h0.75M427.1 11.2h0.75M419.9 13.1h0.75M418.3 9.6h0.75M421.6 10.2h0.75M416.3 9.0h0.75M418.4 10.3h0.75M420.9 14.4h0.75M420.4 8.9h0.75M429.8 10.1h0.75M429.8 10.3h0.75M422.2 9.5h0.75M419.1 14.1h0.75M436.0 14.4h0.75M418.7 13.0h0.75M413.8 11.0h0.75M423.6 9.9h0.75M419.3 11.6h0.75M414.0 12.4h0.75M429.8 14.6h0.75M419.8 14.5h0.75M419.9 14.6h0.75M421.6 7.7h0.75M430.3 4.4h0.75M419.1 12.9h0.75M425.4 12.4h0.75M421.2 11.3h0.75M419.7 12.0h0.75M426.5 13.3h0.75M419.2 15.9h0.75M421.2 11.0h0.75M418.3 16.5h0.75M416.4 16.3h0.75M417.2 7.3h0.75M418.7 14.4h0.75M426.2 10.0h0.75M424.7 11.1h0.75M423.0 13.3h0.75M412.8 14.9h0.75M421.4 15.0h0.75M421.9 15.0h0.75M432.5 10.1h0.75M426.7 11.0h0.75M432.2 13.9h0.75M421.2 12.2h0.75M429.5 7.6h0.75M428.5 10.8h0.75M423.4 10.4h0.75M421.6 13.5h0.75M426.2 9.8h0.75M419.4 13.0h0.75M426.7 8.5h0.75M423.0 10.8h0.75M418.5 12.5h0.75M421.1 12.7h0.75M413.2 12.9h0.75M424.8 9.2h0.75M432.0 7.7h0.75M425.3 12.2h0.75M421.8 12.1h0.75M428.4 6.1h0.75M424.5 13.3h0.75M414.1 18.6h0.75M420.8 12.4h0.75M419.5 10.2h0.75M422.7 9.0h0.75M417.0 12.5h0.75M422.2 7.7h0.75M422.6 8.9h0.75M424.3 8.6h0.75M415.0 10.7h0.75M415.8 14.2h0.75M430.3 13.3h0.75M421.9 12.9h0.75M427.5 10.6h0.75M419.3 7.9h0.75M420.4 11.1h0.75M419.1 11.2h0.75M416.9 10.4h0.75M422.8 13.6h0.75M415.0 12.8h0.75M415.2 13.7h0.75M424.4 12.6h0.75M422.1 11.5h0.75M421.0 10.9h0.75M422.0 12.3h0.75M405.2 14.1h0.75M422.0 13.6h0.75M420.4 8.5h0.75M435.3 13.9h0.75M418.6 9.1h0.75M412.9 11.4h0.75M421.3 8.5h0.75M426.7 14.4h0.75M419.8 9.2h0.75M423.7 11.0h0.75M420.3 17.4h0.75M414.3 11.8h0.75M421.1 10.9h0.75M423.7 12.2h0.75M410.6 5.1h0.75M417.4 11.8h0.75M424.4 9.2h0.75M424.8 13.5h0.75M432.1 11.5h0.75M416.7 11.8h0.75M425.2 8.3h0.75M425.6 12.6h0.75M408.4 13.1h0.75M422.7 6.5h0.75M429.8 7.2h0.75M423.2 13.0h0.75M415.9 8.0h0.75M427.3 5.9h0.75M408.4 10.6h0.75M433.8 5.9h0.75M421.9 9.2h0.75M415.8 12.2h0.75M419.3 10.9h0.75M426.9 12.3h0.75M418.0 11.7h0.75M418.8 9.7h0.75M425.7 10.8h0.75M414.8 14.0h0.75M414.5 9.0h0.75M425.2 7.1h0.75M427.8 10.9h0.75M424.1 11.6h0.75M424.9 13.1h0.75M413.6 11.6h0.75M426.4 17.1h0.75M412.9 12.6h0.75M433.3 21.0h0.75M427.8 8.5h0.75M432.7 15.7h0.75M422.6 16.1h0.75M416.6 10.0h0.75M419.7 12.0h0.75M433.4 12.8h0.75M418.3 9.4h0.75M427.0 10.9h0.75M424.4 12.4h0.75M419.1 9.6h0.75M417.1 5.9h0.75M423.0 11.4h0.75M412.0 16.6h0.75M422.0 11.5h0.75M420.8 12.2h0.75M429.3 13.9h0.75M416.3 12.4h0.75M419.6 11.2h0.75M430.6 12.0h0.75M417.4 8.8h0.75M418.6 11.3h0.75M415.8 9.5h0.75M429.0 10.6h0.75M416.4 11.0h0.75M417.0 9.7h0.75M421.0 9.9h0.75M425.5 13.6h0.75M423.4 10.0h0.75M424.7 5.5h0.75M420.5 12.9h0.75M417.5 12.3h0.75M422.7 15.1h0.75M415.2 11.1h0.75M409.7 10.1h0.75M422.9 13.9h0.75M423.8 11.6h0.75M418.8 10.4h0.75M421.8 12.3h0.75M427.4 7.6h0.75M410.9 10.6h0.75M424.4 13.2h0.75M422.3 11.6h0.75M421.1 14.1h0.75M425.3 5.6h0.75M424.0 10.3h0.75M421.2 14.1h0.75M427.4 16.1h0.75M419.9 11.7h0.75M425.8 8.7h0.75M423.1 11.2h0.75M424.0 17.2h0.75M422.8 19.1h0.75M418.8 8.4h0.75M426.4 11.9h0.75M423.4 14.0h0.75M421.1 12.5h0.75M414.9 11.8h0.75M426.9 9.7h0.75M420.1 5.4h0.75M424.9 3.4h0.75M426.1 11.3h0.75M418.3 15.2h0.75M417.1 9.8h0.75M422.2 10.5h0.75M418.2 9.9h0.75M421.7 5.2h0.75M428.0 8.8h0.75M417.4 8.5h0.75M415.9 9.7h0.75M418.4 12.4h0.75M427.9 16.6h0.75M416.5 9.2h0.75M421.3 10.8h0.75M420.2 6.6h0.75M421.2 12.7h0.75M420.5 12.5h0.75M426.7 5.9h0.75M412.5 12.6h0.75M422.7 6.6h0.75M421.9 14.2h0.75M421.9 10.8h0.75M415.7 12.0h0.75M422.8 11.7h0.75M414.8 7.4h0.75M419.1 11.7h0.75M415.7 7.3h0.75M429.7 15.8h0.75M425.1 8.1h0.75M422.6 11.5h0.75M433.4 10.7h0.75M425.3 17.0h0.75M425.0 11.9h0.75M419.5 12.9h0.75M424.4 14.7h0.75M422.1 14.1h0.75M414.2 3.7h0.75M420.7 10.7h0.75M425.3 11.1h0.75M428.0 10.1h0.75M421.6 4.2h0.75M421.7 14.3h0.75M415.9 13.6h0.75M416.4 7.2h0.75M421.2 12.6h0.75M427.7 9.1h0.75M421.0 9.7h0.75M421.1 10.6h0.75M419.0 10.6h0.75M421.6 10.3h0.75M420.4 11.7h0.75M420.1 12.3h0.75M416.9 13.9h0.75M419.7 14.1h0.75M427.1 11.7h0.75M430.5 9.3h0.75M421.6 9.8h0.75M419.0 11.4h0.75M423.1 11.7h0.75M424.6 13.1h0.75M425.5 7.9h0.75M423.2 7.5h0.75M418.5 9.1h0.75M417.2 12.4h0.75M418.7 11.4h0.75M421.8 16.4h0.75M415.3 7.0h0.75M426.5 5.5h0.75M416.4 13.5h0.75M418.3 11.0h0.75M426.3 14.5h0.75M419.4 11.1h0.75M421.9 6.7h0.75M428.8 7.1h0.75M425.5 16.8h0.75M413.6 11.1h0.75M414.9 9.5h0.75M432.7 13.1h0.75M412.9 15.3h0.75M423.6 10.9h0.75M418.4 10.1h0.75M426.1 11.5h0.75M423.5 13.3h0.75M425.7 16.5h0.75M421.8 9.5h0.75M423.1 11.5h0.75M425.5 7.9h0.75M416.2 7.5h0.75M424.5 6.9h0.75M416.8 10.9h0.75M412.2 14.1h0.75M421.7 15.4h0.75M427.5 14.8h0.75M431.1 10.6h0.75M423.5 10.9h0.75M417.9 9.5h0.75M425.2 9.2h0.75M416.3 8.9h0.75M413.1 15.3h0.75M419.5 8.6h0.75M423.7 8.4h0.75M429.1 7.4h0.75M418.7 13.3h0.75M413.7 13.8h0.75M417.3 9.6h0.75M410.8 6.3h0.75M421.7 11.2h0.75M424.0 13.6h0.75M415.7 15.2h0.75M419.3 11.4h0.75M423.6 13.2h0.75M418.6 13.2h0.75M426.5 10.8h0.75M414.3 16.2h0.75M423.7 10.4h0.75M416.9 14.4h0.75M418.2 11.6h0.75M418.7 9.8h0.75M429.2 9.7h0.75M413.6 11.3h0.75M419.8 12.0h0.75M419.8 11.6h0.75M425.4 10.2h0.75M421.0 10.1h0.75M422.2 10.2h0.75M425.1 15.3h0.75M427.1 13.3h0.75M421.7 13.7h0.75M417.7 13.8h0.75M419.5 8.1h0.75M420.3 4.5h0.75M429.8 7.4h0.75M426.4 8.9h0.75M420.8 15.1h0.75M411.3 15.3h0.75M421.7 11.6h0.75M414.8 7.8h0.75M425.7 13.3h0.75M425.9 13.2h0.75M430.9 12.1h0.75M415.9 12.3h0.75M414.7 10.3h0.75M417.8 12.1h0.75M413.5 13.7h0.75M420.9 7.5h0.75M426.2 11.2h0.75M429.8 12.5h0.75M418.5 11.2h0.75M416.7 11.1h0.75M425.8 12.2h0.75M413.7 8.3h0.75M426.3 12.2h0.75M417.8 13.7h0.75M416.3 7.8h0.75M413.2 12.2h0.75M426.7 11.4h0.75M420.1 8.8h0.75M425.1 8.3h0.75M422.9 12.2h0.75M418.8 11.1h0.75M416.8 14.2h0.75M423.9 13.6h0.75M425.2 13.0h0.75M425.9 17.6h0.75M434.1 12.3h0.75M426.4 8.2h0.75M416.3 15.2h0.75M428.3 10.7h0.75M422.6 8.0h0.75M424.1 8.6h0.75M427.4 9.6h0.75M429.9 16.2h0.75M417.1 14.2h0.75M423.1 8.8h0.75M420.0 13.0h0.75M427.4 12.7h0.75M423.1 3.2h0.75M429.7 6.1h0.75M430.0 9.6h0.75M414.4 14.7h0.75M417.5 11.3h0.75M415.1 13.1h0.75M410.8 18.0h0.75M421.1 15.4h0.75M422.5 15.7h0.75M424.9 10.1h0.75M422.2 12.7h0.75M417.7 13.7h0.75M418.0 8.7h0.75M419.0 11.7h0.75M416.1 9.5h0.75M420.7 10.8h0.75M423.1 11.3h0.75M425.2 10.9h0.75M418.3 15.8h0.75M432.5 10.8h0.75M419.3 14.6h0.75M414.4 6.0h0.75M412.6 10.0h0.75M420.4 12.7h0.75M421.2 8.0h0.75M422.5 12.0h0.75M421.1 55.0h0.75M422.0 51.7h0.75M424.7 54.4h0.75M421.2 53.4h0.75M421.1 54.5h0.75M423.2 54.3h0.75M423.1 54.6h0.75M423.2 52.5h0.75M420.5 54.1h0.75M420.3 56.5h0.75M422.1 53.9h0.75M422.8 50.8h0.75M423.9 52.1h0.75M420.1 56.3h0.75M422.3 53.2h0.75M418.5 54.3h0.75M421.2 54.6h0.75M421.7 54.5h0.75M419.8 58.0h0.75M419.9 54.3h0.75M421.0 53.8h0.75M421.0 53.5h0.75M422.1 54.1h0.75M422.2 53.6h0.75M421.5 54.4h0.75M424.6 53.7h0.75M423.9 55.9h0.75M419.9 56.0h0.75M418.1 54.3h0.75M422.8 58.1h0.75M421.6 52.6h0.75M425.2 55.3h0.75M422.3 54.8h0.75M421.1 55.1h0.75M420.8 54.4h0.75M420.8 52.1h0.75M421.7 51.1h0.75M420.5 56.9h0.75M422.3 55.5h0.75M420.1 54.6h0.75M424.7 53.1h0.75M422.3 54.7h0.75M418.8 55.2h0.75M419.9 54.7h0.75M421.7 53.9h0.75M421.6 53.6h0.75M421.1 54.4h0.75M421.4 53.9h0.75M420.6 56.2h0.75M421.7 51.0h0.75M421.4 53.4h0.75M426.1 54.2h0.75M422.1 54.0h0.75M423.3 53.8h0.75M421.3 56.7h0.75M420.0 54.2h0.75M416.6 56.7h0.75M422.5 55.0h0.75M420.9 53.3h0.75M422.3 56.0h0.75M420.8 54.9h0.75M420.6 52.0h0.75M420.0 53.6h0.75M422.8 56.4h0.75M422.9 53.3h0.75M422.3 53.7h0.75M423.0 55.9h0.75M423.3 55.0h0.75M422.7 51.0h0.75M425.6 54.0h0.75M420.6 56.5h0.75M418.4 52.8h0.75M424.4 52.8h0.75M420.1 56.4h0.75M420.3 51.9h0.75M418.5 53.5h0.75M421.9 57.0h0.75M421.8 50.9h0.75M422.4 55.6h0.75M421.5 55.0h0.75M423.8 55.1h0.75M421.8 55.6h0.75M422.3 53.3h0.75M422.1 53.2h0.75M419.1 55.4h0.75M419.8 54.4h0.75M418.7 54.1h0.75M420.2 51.5h0.75M420.3 54.3h0.75M423.3 56.6h0.75M421.9 55.7h0.75M422.9 54.6h0.75M422.5 55.5h0.75M420.7 57.0h0.75M421.0 52.6h0.75M420.7 52.5h0.75M419.2 55.1h0.75M423.7 54.2h0.75M422.8 54.9h0.75M424.6 56.0h0.75M421.0 54.8h0.75M422.6 53.7h0.75M423.2 55.8h0.75M420.3 51.9h0.75M421.8 55.0h0.75M423.2 53.7h0.75M421.9 53.5h0.75M423.8 53.2h0.75M420.9 56.3h0.75M422.7 54.4h0.75M421.8 57.0h0.75M421.1 55.7h0.75M421.1 54.7h0.75M418.4 54.0h0.75M421.4 54.0h0.75M423.3 52.2h0.75M422.5 54.8h0.75M422.8 56.0h0.75M421.9 55.2h0.75M422.5 57.5h0.75M422.1 54.6h0.75M423.7 53.9h0.75M421.5 51.4h0.75M420.8 54.5h0.75M424.1 54.0h0.75M419.5 53.0h0.75M423.3 53.4h0.75M420.1 54.1h0.75M418.9 54.3h0.75M419.9 54.9h0.75M422.5 53.7h0.75M423.8 55.7h0.75M422.2 55.6h0.75M423.4 55.3h0.75M424.7 55.8h0.75M422.3 54.2h0.75M418.5 51.1h0.75M424.3 55.9h0.75M420.2 53.8h0.75M422.7 54.1h0.75" stroke="#000" stroke-width="0.75" fill="none" opacity="0.68" filter="url(#bl)"/>
<path d="M421.0 37.4h0.75M421.7 36.2h0.75M422.7 28.1h0.75M422.5 42.4h0.75M421.9 28.0h0.75M422.0 14.1h0.75M419.3 26.3h0.75M420.6 18.8h0.75M420.9 50.0h0.75M420.5 29.9h0.75M423.8 49.6h0.75M421.7 37.4h0.75M422.0 39.0h0.75M422.0 20.3h0.75M420.9 31.1h0.75M421.4 19.1h0.75M422.5 15.6h0.75M420.8 15.0h0.75M422.0 17.4h0.75M420.9 26.4h0.75M419.3 43.0h0.75M423.3 47.6h0.75M422.1 15.9h0.75M422.8 26.6h0.75M423.2 16.4h0.75M423.2 35.1h0.75M419.1 29.0h0.75M419.7 34.5h0.75M420.9 25.5h0.75M422.4 22.5h0.75M419.7 35.1h0.75M421.9 25.7h0.75M419.6 33.6h0.75M421.2 45.9h0.75M420.6 28.7h0.75M419.8 41.3h0.75M422.6 20.2h0.75M422.4 14.6h0.75M423.4 29.6h0.75M422.4 27.2h0.75M422.4 46.3h0.75M420.5 37.0h0.75M420.7 32.4h0.75M423.4 39.3h0.75M421.6 43.1h0.75M421.9 32.5h0.75M421.5 27.7h0.75M418.6 29.7h0.75M422.7 33.6h0.75M421.8 35.0h0.75M418.2 33.0h0.75M422.9 20.9h0.75M422.6 41.8h0.75M421.2 34.9h0.75M420.8 45.5h0.75M422.6 27.2h0.75M420.3 33.1h0.75M417.6 44.7h0.75M423.9 46.2h0.75M422.4 48.1h0.75M421.6 27.0h0.75M421.4 28.4h0.75M423.9 21.5h0.75M422.7 17.0h0.75M421.4 28.1h0.75M423.0 30.3h0.75M418.9 28.5h0.75M423.5 41.3h0.75M423.9 21.8h0.75M419.8 26.9h0.75M418.5 22.3h0.75M421.5 28.2h0.75M419.2 14.2h0.75M420.4 20.7h0.75M424.0 31.3h0.75M421.8 18.5h0.75M420.0 38.3h0.75M420.7 46.7h0.75M419.5 27.4h0.75M419.7 44.8h0.75M421.5 25.9h0.75M421.7 43.7h0.75M423.2 40.7h0.75M422.8 49.5h0.75M424.5 26.1h0.75M422.2 36.2h0.75M419.1 22.3h0.75M425.0 25.9h0.75M421.6 43.6h0.75M423.6 40.4h0.75M418.9 40.1h0.75M423.3 47.1h0.75M417.9 45.7h0.75M419.9 17.3h0.75M425.0 20.6h0.75M423.0 48.3h0.75M420.0 25.9h0.75M422.5 45.8h0.75M422.0 43.1h0.75M419.4 15.3h0.75M422.7 47.7h0.75M421.4 31.5h0.75M422.7 31.2h0.75M418.9 20.6h0.75M421.8 42.6h0.75M420.8 46.3h0.75M423.1 40.6h0.75M421.2 29.2h0.75M418.6 26.5h0.75M418.3 20.3h0.75M421.1 39.3h0.75M417.6 39.5h0.75M422.2 47.2h0.75M420.0 23.0h0.75M422.6 21.5h0.75M421.1 36.5h0.75M422.7 34.5h0.75M421.4 48.9h0.75M418.8 33.0h0.75M420.0 31.2h0.75M420.2 26.3h0.75M421.0 32.3h0.75M423.0 30.0h0.75M419.2 49.5h0.75M420.9 35.0h0.75M423.1 35.9h0.75M421.5 35.0h0.75M419.8 22.5h0.75M422.2 49.3h0.75M424.3 31.3h0.75M423.0 26.5h0.75M420.2 26.1h0.75M425.4 34.8h0.75M419.4 34.1h0.75M422.9 33.1h0.75M421.9 37.4h0.75M421.8 14.1h0.75M420.2 40.7h0.75M421.4 25.7h0.75M422.6 25.9h0.75M421.9 37.2h0.75M420.7 48.4h0.75M418.5 34.0h0.75M424.0 26.8h0.75M422.3 35.8h0.75M422.4 22.8h0.75M423.1 38.4h0.75M423.1 32.1h0.75M421.1 36.9h0.75M421.7 23.7h0.75M420.0 37.6h0.75M420.9 36.7h0.75M423.5 34.0h0.75M423.2 21.7h0.75M421.3 28.6h0.75M424.3 16.2h0.75M419.6 20.2h0.75M421.9 38.9h0.75M424.5 20.0h0.75M422.4 43.3h0.75M418.3 26.5h0.75M422.2 47.5h0.75M420.4 19.1h0.75M420.5 43.5h0.75M422.5 41.5h0.75M419.5 24.5h0.75M421.2 35.1h0.75M424.2 48.4h0.75M422.4 30.4h0.75M419.4 27.7h0.75M422.1 47.4h0.75M422.0 38.9h0.75M423.5 40.9h0.75M421.3 38.8h0.75M422.4 18.5h0.75M421.8 45.7h0.75M421.3 43.3h0.75M418.0 42.0h0.75M421.5 38.2h0.75M421.6 18.2h0.75M422.3 17.5h0.75M420.4 48.0h0.75M419.2 27.8h0.75M419.4 42.5h0.75M424.2 49.3h0.75M425.8 28.9h0.75M421.9 42.7h0.75M422.2 41.1h0.75M423.6 39.9h0.75M421.4 46.9h0.75M420.9 16.0h0.75M422.5 36.4h0.75M419.6 22.0h0.75M422.3 23.0h0.75M418.8 47.5h0.75M418.7 22.4h0.75M423.3 27.4h0.75M421.7 19.1h0.75M422.0 19.5h0.75M419.7 17.8h0.75M421.4 47.0h0.75M420.2 23.9h0.75M420.1 29.0h0.75M423.1 32.1h0.75M420.6 47.2h0.75M418.9 16.5h0.75M423.6 39.5h0.75M422.6 17.1h0.75M422.5 45.7h0.75M424.0 32.0h0.75M419.7 18.0h0.75M418.0 40.0h0.75M421.1 14.1h0.75M425.7 35.2h0.75M421.3 14.8h0.75M421.1 14.1h0.75M419.3 30.0h0.75M422.2 38.4h0.75M421.7 41.6h0.75M421.1 23.9h0.75M422.5 22.2h0.75M420.3 46.9h0.75M421.1 14.6h0.75M421.9 30.1h0.75M424.0 17.0h0.75M420.6 42.7h0.75M422.5 22.6h0.75M420.0 29.0h0.75M419.6 15.6h0.75M420.8 22.7h0.75M421.0 20.9h0.75M420.5 21.0h0.75M420.8 19.9h0.75M421.4 23.0h0.75M415.9 18.6h0.75M424.0 16.3h0.75M424.9 17.7h0.75M424.5 17.4h0.75M419.3 22.4h0.75M424.6 18.8h0.75M421.1 12.8h0.75M423.7 14.6h0.75M418.8 21.3h0.75M421.0 17.4h0.75M422.3 22.7h0.75M418.9 22.6h0.75M418.2 16.1h0.75M425.3 18.5h0.75M424.8 14.8h0.75M417.6 19.2h0.75M426.3 14.3h0.75M420.2 22.5h0.75M423.4 23.1h0.75M423.6 19.9h0.75M418.5 14.5h0.75M423.0 9.9h0.75M418.3 21.9h0.75M417.5 18.3h0.75M422.1 17.9h0.75M419.4 17.6h0.75M417.1 19.8h0.75M420.5 15.8h0.75M421.6 17.5h0.75M423.2 20.9h0.75M418.4 17.3h0.75M420.8 14.3h0.75M419.8 21.3h0.75M423.2 18.5h0.75M425.1 27.8h0.75M425.4 12.9h0.75M425.7 24.7h0.75M422.4 22.0h0.75M419.4 15.6h0.75M424.3 18.1h0.75M423.4 23.3h0.75M419.1 15.1h0.75M421.3 20.6h0.75M416.6 18.4h0.75M423.8 18.0h0.75M421.8 17.5h0.75M422.0 17.4h0.75M419.0 17.9h0.75M423.2 19.0h0.75M423.5 21.9h0.75M419.1 16.1h0.75M420.5 23.5h0.75M420.1 21.5h0.75M425.3 30.4h0.75M421.4 18.9h0.75M419.2 12.1h0.75M424.1 19.9h0.75M416.1 17.0h0.75M420.3 16.3h0.75M418.1 19.7h0.75M422.1 11.3h0.75M420.2 16.7h0.75M425.1 24.7h0.75M425.0 21.2h0.75M419.7 17.9h0.75M416.5 12.4h0.75M423.9 21.8h0.75M422.0 23.9h0.75M425.1 18.8h0.75M419.1 16.7h0.75M418.3 15.7h0.75M420.0 14.9h0.75M419.7 17.6h0.75M423.9 21.6h0.75M424.9 20.1h0.75M419.3 16.0h0.75M419.7 19.5h0.75M422.3 24.6h0.75M422.4 20.9h0.75M423.1 16.7h0.75M421.2 15.5h0.75M419.6 19.9h0.75M425.8 13.5h0.75M415.6 15.9h0.75M425.8 15.7h0.75M418.6 21.9h0.75" stroke="#000" stroke-width="0.75" fill="none" opacity="0.55" filter="url(#bl)"/>
<ellipse cx="338.7" cy="124.8" rx="6.6" ry="5" fill="url(#g)" opacity="1"/>
<rect x="331.5" y="91" width="16" height="29" fill="url(#gv)" opacity="0.5"/>
<ellipse cx="339.5" cy="93" rx="6.5" ry="6" fill="url(#g)" opacity="0.55"/>
<path d="M340.1 100.0h0.75M340.9 113.8h0.75M339.9 88.9h0.75M339.8 98.7h0.75M343.3 94.3h0.75M337.1 118.1h0.75M340.2 101.1h0.75M343.1 90.7h0.75M343.2 111.0h0.75M340.6 103.2h0.75M332.6 111.2h0.75M341.0 106.2h0.75M334.0 116.3h0.75M339.4 97.9h0.75M336.5 114.4h0.75M342.2 117.3h0.75M338.2 112.8h0.75M338.6 94.6h0.75M336.8 95.1h0.75M338.1 92.8h0.75M336.3 90.1h0.75M340.2 91.0h0.75M337.6 103.6h0.75M342.5 92.1h0.75M340.6 115.1h0.75M336.1 101.4h0.75M339.9 104.8h0.75M339.4 112.5h0.75M344.0 116.7h0.75M333.1 116.0h0.75M345.5 119.5h0.75M347.5 107.5h0.75M341.2 100.1h0.75M337.8 88.8h0.75M344.3 101.1h0.75M339.2 96.0h0.75M340.3 95.1h0.75M342.7 102.1h0.75M336.7 105.8h0.75M338.1 99.5h0.75M335.9 114.5h0.75M339.5 116.3h0.75M335.0 95.6h0.75M336.8 90.7h0.75M338.8 111.8h0.75M341.1 117.1h0.75M338.1 89.6h0.75M337.8 105.1h0.75M345.5 111.4h0.75M347.3 118.7h0.75M344.9 117.5h0.75M338.9 118.0h0.75M341.0 103.8h0.75M341.9 107.3h0.75M340.9 112.0h0.75M341.5 118.8h0.75M332.4 115.6h0.75M340.6 116.5h0.75M340.6 108.2h0.75M342.3 113.4h0.75M340.3 108.7h0.75M343.0 89.4h0.75M340.7 99.3h0.75M340.5 119.7h0.75M336.9 89.2h0.75M335.8 114.6h0.75M339.6 113.7h0.75M342.8 108.2h0.75M339.7 111.9h0.75M342.6 104.5h0.75M341.3 93.1h0.75M338.6 115.3h0.75M342.2 87.9h0.75M341.7 100.2h0.75M341.9 117.6h0.75M339.1 89.6h0.75M337.1 114.1h0.75M340.3 97.7h0.75M344.7 118.5h0.75M341.3 113.2h0.75M339.0 105.7h0.75M336.7 116.7h0.75M341.9 101.8h0.75M343.5 93.9h0.75M339.7 109.0h0.75M335.9 113.7h0.75M335.9 119.6h0.75M341.2 102.0h0.75M341.0 117.5h0.75M337.8 103.3h0.75M340.8 96.0h0.75M344.5 100.9h0.75M342.2 114.5h0.75M341.7 89.1h0.75M341.2 100.6h0.75M338.7 100.4h0.75M338.9 98.6h0.75M338.9 119.5h0.75M337.3 96.5h0.75M336.0 97.0h0.75M339.2 87.0h0.75M346.9 106.5h0.75M335.0 89.7h0.75M339.2 97.0h0.75M340.2 94.9h0.75M336.8 104.5h0.75M344.7 120.0h0.75M339.1 111.7h0.75M340.6 110.5h0.75M340.7 113.5h0.75M338.1 106.5h0.75M335.8 101.2h0.75M336.3 106.3h0.75M341.0 114.6h0.75M337.5 98.6h0.75M342.9 91.0h0.75M339.4 115.7h0.75M339.2 86.7h0.75M339.4 95.5h0.75M336.2 102.1h0.75M343.6 97.6h0.75M337.6 118.2h0.75M339.6 110.7h0.75M340.9 113.1h0.75M340.4 108.9h0.75M336.5 92.4h0.75M338.7 114.8h0.75M346.9 118.1h0.75M334.9 97.7h0.75M337.9 98.9h0.75M344.1 117.9h0.75M337.2 90.3h0.75M333.6 117.4h0.75M343.1 113.7h0.75M341.3 110.0h0.75M337.9 88.7h0.75M342.8 91.8h0.75M339.7 99.3h0.75M337.3 115.9h0.75M335.4 117.7h0.75M338.5 99.7h0.75M342.1 93.9h0.75M342.5 108.2h0.75M334.9 107.7h0.75M338.8 111.6h0.75M340.8 111.6h0.75M341.2 116.9h0.75M343.6 102.8h0.75M345.6 89.4h0.75M340.0 107.0h0.75M343.9 114.2h0.75M344.9 108.6h0.75M336.5 110.5h0.75M343.5 102.4h0.75M335.2 117.9h0.75M341.5 92.4h0.75M339.0 106.5h0.75M336.4 102.4h0.75M338.6 92.3h0.75M335.9 111.3h0.75M341.6 109.7h0.75M341.2 101.9h0.75M340.8 112.0h0.75M338.7 93.0h0.75M344.5 95.6h0.75M340.7 114.4h0.75M337.8 104.3h0.75M342.9 103.9h0.75M340.1 89.4h0.75M336.0 117.2h0.75M339.8 98.5h0.75M341.6 111.1h0.75M337.9 90.4h0.75M335.1 114.0h0.75M344.1 95.7h0.75M346.1 114.9h0.75M344.2 103.8h0.75M347.3 92.7h0.75M344.2 110.3h0.75M336.7 100.0h0.75M340.0 114.7h0.75M343.9 110.8h0.75M339.2 101.2h0.75M338.4 95.2h0.75M335.0 106.0h0.75M338.8 95.0h0.75M342.7 91.7h0.75M340.1 115.9h0.75M343.1 92.6h0.75M343.9 116.4h0.75M338.4 116.0h0.75M339.6 91.8h0.75M332.6 107.1h0.75M338.3 94.6h0.75M340.9 107.6h0.75M340.5 114.6h0.75M340.6 113.5h0.75M339.9 119.4h0.75M341.8 100.4h0.75M342.8 110.5h0.75M336.8 112.5h0.75M339.8 113.4h0.75M339.8 112.2h0.75M334.3 107.1h0.75M344.4 102.9h0.75M343.0 98.3h0.75M340.4 100.3h0.75M336.1 97.9h0.75M344.5 88.4h0.75M341.4 97.3h0.75M336.3 115.7h0.75M342.7 89.9h0.75M338.8 107.7h0.75M336.8 114.7h0.75M341.4 101.1h0.75M339.4 107.6h0.75M335.9 101.0h0.75M340.8 99.3h0.75M336.7 95.4h0.75M338.1 99.6h0.75M339.8 101.5h0.75M337.7 93.1h0.75M339.9 97.2h0.75M339.3 118.7h0.75M339.0 110.7h0.75M337.3 102.6h0.75M340.3 99.3h0.75M345.9 104.3h0.75M338.3 108.3h0.75M335.4 98.0h0.75M335.6 107.7h0.75M340.0 94.3h0.75M341.7 99.1h0.75M343.5 106.2h0.75M341.0 100.1h0.75M334.3 106.8h0.75M346.5 108.3h0.75M340.6 112.7h0.75M342.0 95.5h0.75M341.5 114.5h0.75M339.6 118.9h0.75M337.7 92.2h0.75M342.2 100.3h0.75M342.5 118.4h0.75M346.0 110.0h0.75M341.4 96.1h0.75M343.5 87.9h0.75M345.5 104.3h0.75M339.2 107.6h0.75M335.8 114.1h0.75M335.5 118.7h0.75M342.2 118.2h0.75M338.5 93.8h0.75M342.4 119.2h0.75M340.3 103.5h0.75M340.4 90.5h0.75M337.7 97.4h0.75M337.8 96.3h0.75M335.2 96.4h0.75M339.7 116.6h0.75M340.1 98.4h0.75M335.6 114.8h0.75M336.5 104.9h0.75M345.5 112.7h0.75M343.0 89.3h0.75M337.5 99.2h0.75M336.2 99.3h0.75M340.0 86.8h0.75M342.6 93.3h0.75M341.8 92.0h0.75M339.9 97.4h0.75M331.5 109.7h0.75M334.3 113.7h0.75M334.6 107.1h0.75M342.7 97.7h0.75M343.0 100.2h0.75M344.1 94.7h0.75M346.3 89.9h0.75M338.7 109.4h0.75M341.3 100.1h0.75M347.0 89.3h0.75M340.0 119.5h0.75M338.0 112.7h0.75M339.0 94.4h0.75M337.7 104.8h0.75M337.3 102.5h0.75M343.3 118.5h0.75M341.2 105.8h0.75M342.3 108.9h0.75M339.9 111.3h0.75M336.8 97.6h0.75M340.2 105.1h0.75M335.9 116.3h0.75M341.1 97.1h0.75M340.1 89.7h0.75M341.3 109.7h0.75M337.8 97.5h0.75M342.7 102.3h0.75M342.0 118.5h0.75M340.1 96.2h0.75M338.2 101.3h0.75M335.4 106.7h0.75M338.1 112.5h0.75M335.7 95.5h0.75M339.9 112.6h0.75M342.9 102.4h0.75M343.0 116.3h0.75M339.6 90.8h0.75M337.2 104.0h0.75M338.4 111.7h0.75M338.6 100.7h0.75M341.2 119.4h0.75M342.1 92.6h0.75M339.9 101.5h0.75M340.4 105.6h0.75M335.6 92.8h0.75M334.5 96.6h0.75M331.5 106.4h0.75M339.2 96.9h0.75M342.7 111.7h0.75M346.0 105.1h0.75M342.1 99.8h0.75M339.8 88.2h0.75M337.4 103.4h0.75M339.9 118.3h0.75M343.5 95.6h0.75M335.4 93.1h0.75M332.4 92.4h0.75M343.2 119.4h0.75M339.8 105.1h0.75M342.1 111.3h0.75M339.6 108.8h0.75M342.5 101.8h0.75M341.3 90.8h0.75M341.3 99.0h0.75M341.5 118.4h0.75M345.3 90.3h0.75M341.9 109.3h0.75M340.4 106.2h0.75M338.3 109.6h0.75M344.4 115.3h0.75M339.0 112.4h0.75M338.2 118.4h0.75M342.8 89.4h0.75M336.3 102.3h0.75M338.5 92.5h0.75M340.5 101.0h0.75M338.7 115.0h0.75M336.7 119.9h0.75M343.9 105.5h0.75M346.1 94.2h0.75M344.2 101.9h0.75M334.4 118.3h0.75M340.5 119.8h0.75M344.1 93.1h0.75M337.8 115.3h0.75M333.9 94.4h0.75M338.4 102.7h0.75M340.5 115.2h0.75M337.6 94.3h0.75M345.6 101.4h0.75M336.5 118.0h0.75M334.7 97.5h0.75M335.4 112.9h0.75M342.8 112.6h0.75M338.8 111.7h0.75M345.6 105.7h0.75M343.8 99.6h0.75M339.8 97.5h0.75M335.4 96.1h0.75M337.8 94.1h0.75M339.5 107.3h0.75M341.8 103.5h0.75M346.0 96.2h0.75M340.6 98.9h0.75M341.7 89.8h0.75M346.6 116.9h0.75M337.8 118.2h0.75M337.1 107.4h0.75M331.8 99.3h0.75M341.7 118.8h0.75M343.4 117.8h0.75M342.8 109.0h0.75M338.9 120.0h0.75M338.4 115.4h0.75M333.5 104.5h0.75M341.5 113.9h0.75M337.4 100.2h0.75M340.8 112.8h0.75M345.2 107.3h0.75M337.1 114.5h0.75M339.9 108.3h0.75M334.5 114.9h0.75M340.1 115.3h0.75M340.2 94.2h0.75M332.5 91.8h0.75M338.0 102.3h0.75M345.4 115.1h0.75M341.8 100.3h0.75M340.0 113.2h0.75M337.8 113.3h0.75M339.4 95.4h0.75M338.7 108.2h0.75M341.3 109.0h0.75M336.4 100.9h0.75M337.3 92.0h0.75M338.2 115.5h0.75M336.9 95.3h0.75M338.6 96.8h0.75M337.7 100.8h0.75M339.3 97.3h0.75M341.4 95.6h0.75M339.4 98.3h0.75M332.0 97.2h0.75M336.2 103.7h0.75M332.9 107.6h0.75M341.6 100.9h0.75M341.2 107.9h0.75M335.8 114.3h0.75M342.9 93.7h0.75M338.1 96.2h0.75M339.3 105.2h0.75M340.5 113.0h0.75M337.7 108.1h0.75M340.0 103.1h0.75M338.5 90.1h0.75M340.2 93.1h0.75M334.9 119.6h0.75M342.0 92.6h0.75M337.6 112.1h0.75M336.2 94.7h0.75M344.7 114.9h0.75M337.0 96.0h0.75M342.8 106.7h0.75M342.2 97.4h0.75M340.6 105.7h0.75M340.7 118.3h0.75M336.1 90.4h0.75M339.2 92.4h0.75M336.4 96.7h0.75M337.0 102.1h0.75M342.0 112.7h0.75M340.3 111.9h0.75M336.5 105.9h0.75M345.2 116.0h0.75M340.7 107.4h0.75M332.7 119.3h0.75M339.2 105.4h0.75M343.0 92.1h0.75M340.8 101.3h0.75M338.2 108.8h0.75M333.9 119.9h0.75M338.6 119.1h0.75M337.8 105.2h0.75M342.4 92.6h0.75M344.4 118.8h0.75M337.5 98.5h0.75M335.7 88.6h0.75M339.5 108.0h0.75M340.5 96.7h0.75M339.0 102.8h0.75M337.5 91.0h0.75M340.8 95.9h0.75M340.4 107.6h0.75M336.8 108.8h0.75M339.6 97.0h0.75M342.6 93.2h0.75M334.4 103.1h0.75M333.7 93.2h0.75M343.5 110.7h0.75M338.0 102.1h0.75M338.6 103.4h0.75M336.3 107.8h0.75M341.5 107.3h0.75M332.4 113.9h0.75M340.6 116.9h0.75M339.7 95.6h0.75M343.4 116.7h0.75M344.1 118.5h0.75M343.0 99.2h0.75M341.0 92.9h0.75M335.5 103.2h0.75M341.4 87.6h0.75M341.4 116.0h0.75M333.3 101.1h0.75M339.1 95.8h0.75M336.6 119.1h0.75M340.2 98.6h0.75M343.1 89.2h0.75M342.4 96.8h0.75M336.9 102.5h0.75M339.5 95.6h0.75M340.4 98.4h0.75M340.0 115.6h0.75M336.4 89.1h0.75M341.9 90.8h0.75M344.4 104.7h0.75M334.5 103.4h0.75M339.3 95.1h0.75M342.9 90.7h0.75M338.4 104.1h0.75M339.4 110.1h0.75M336.7 94.1h0.75M342.9 110.4h0.75M340.6 117.2h0.75M335.8 99.3h0.75M339.2 98.2h0.75M339.8 111.7h0.75M340.0 100.6h0.75M336.2 106.2h0.75M343.0 114.6h0.75M340.8 89.4h0.75M335.2 98.2h0.75M339.6 99.6h0.75M348.5 119.3h0.75M335.6 91.0h0.75M338.5 116.8h0.75M341.7 106.6h0.75M338.3 112.8h0.75M339.0 119.2h0.75M342.0 93.3h0.75M342.5 108.6h0.75M345.0 100.5h0.75M339.9 97.0h0.75M347.2 110.8h0.75M337.5 119.1h0.75M337.1 99.6h0.75M341.7 117.6h0.75M339.1 95.6h0.75M336.7 113.1h0.75M340.7 93.8h0.75M337.1 94.2h0.75M340.8 108.6h0.75M336.2 108.7h0.75M335.8 93.5h0.75M342.0 109.1h0.75M336.2 109.0h0.75M342.9 117.1h0.75M334.9 113.9h0.75M339.4 97.3h0.75M344.6 111.4h0.75M335.7 88.3h0.75M338.1 89.5h0.75M344.1 97.2h0.75M334.5 100.9h0.75M339.0 107.4h0.75M336.8 104.6h0.75M335.8 113.5h0.75M340.0 99.2h0.75M339.9 116.0h0.75M335.4 88.7h0.75M340.2 104.0h0.75M339.6 101.0h0.75M340.2 92.0h0.75M341.1 116.2h0.75M336.5 104.9h0.75M338.3 100.2h0.75M338.3 119.4h0.75M339.6 105.5h0.75M338.4 88.5h0.75M332.9 92.8h0.75M340.5 98.8h0.75M341.3 114.1h0.75M335.4 102.5h0.75M336.8 117.4h0.75M340.7 108.6h0.75M338.4 118.3h0.75M341.1 98.9h0.75M335.9 88.1h0.75M340.5 112.2h0.75M340.1 102.6h0.75M336.2 96.2h0.75M343.1 117.0h0.75M339.7 92.7h0.75M341.5 118.4h0.75M341.1 117.5h0.75M337.3 105.9h0.75M340.1 92.8h0.75M334.4 99.8h0.75M338.7 116.6h0.75M341.0 92.4h0.75M341.8 89.2h0.75M340.7 94.0h0.75M344.5 97.4h0.75M337.0 103.8h0.75M340.5 113.7h0.75M340.1 88.1h0.75M339.7 92.6h0.75M341.6 92.7h0.75M341.6 107.8h0.75M338.6 93.4h0.75M345.5 102.8h0.75M336.7 118.1h0.75M338.5 103.3h0.75M333.0 87.8h0.75M343.7 99.6h0.75M332.9 116.1h0.75M341.7 111.6h0.75M338.0 112.3h0.75M337.5 94.4h0.75M336.6 99.0h0.75M339.1 96.0h0.75M341.1 108.3h0.75M341.4 94.8h0.75M344.4 101.1h0.75M335.6 95.4h0.75M335.8 113.6h0.75M334.2 92.4h0.75M339.7 118.0h0.75M340.5 94.8h0.75M335.4 95.2h0.75M342.8 110.3h0.75M339.8 95.0h0.75M341.5 88.9h0.75M334.7 112.8h0.75M338.2 89.6h0.75M336.5 97.2h0.75M335.0 115.4h0.75M339.7 109.2h0.75M335.9 106.4h0.75M338.2 86.8h0.75M336.3 115.3h0.75M338.6 93.1h0.75M338.1 107.9h0.75M341.4 113.1h0.75M342.0 108.8h0.75M341.3 110.9h0.75M339.7 110.2h0.75M337.7 100.8h0.75M341.1 114.4h0.75M338.2 117.1h0.75M338.0 97.1h0.75M338.3 97.9h0.75M340.9 99.5h0.75M338.2 97.9h0.75M336.2 110.4h0.75M335.1 90.7h0.75M340.1 91.8h0.75M339.5 107.1h0.75M337.6 108.8h0.75M337.1 100.8h0.75M338.5 100.0h0.75M342.0 88.8h0.75M341.5 117.5h0.75M343.1 113.5h0.75M340.3 113.2h0.75M338.8 119.4h0.75M344.1 92.5h0.75M337.0 110.3h0.75M338.9 113.9h0.75M341.3 110.5h0.75M341.0 100.9h0.75M333.3 100.0h0.75M340.5 93.5h0.75M336.0 106.5h0.75M334.6 115.5h0.75M341.5 112.7h0.75M343.1 100.6h0.75M344.3 92.5h0.75M339.7 91.2h0.75M341.1 109.0h0.75M337.7 108.2h0.75M338.7 92.6h0.75M338.6 113.8h0.75M337.5 102.3h0.75M340.7 96.1h0.75M331.5 109.2h0.75M345.2 101.2h0.75M337.2 118.4h0.75M335.6 105.1h0.75M338.4 91.5h0.75M336.6 112.5h0.75M341.8 104.6h0.75M334.8 87.7h0.75M346.3 97.2h0.75M342.9 99.0h0.75M339.1 113.8h0.75M345.0 117.9h0.75M337.7 92.5h0.75M338.1 113.2h0.75M338.8 100.0h0.75M334.9 102.2h0.75M340.7 100.1h0.75M338.8 97.3h0.75M337.1 96.2h0.75M337.1 101.9h0.75M338.6 96.2h0.75M339.3 93.8h0.75M339.0 94.7h0.75M342.4 97.8h0.75M338.6 118.3h0.75M337.4 87.7h0.75M338.8 95.7h0.75M335.0 94.9h0.75M338.8 113.2h0.75M336.6 116.8h0.75M342.2 93.2h0.75M343.3 104.8h0.75M343.0 115.7h0.75M336.8 96.9h0.75M338.7 97.6h0.75M343.3 103.3h0.75M339.5 106.3h0.75M341.6 88.9h0.75M343.5 90.5h0.75M342.0 94.6h0.75M341.8 101.3h0.75M336.6 96.5h0.75M334.2 97.6h0.75M338.9 89.8h0.75M338.4 117.6h0.75M336.1 92.7h0.75M338.8 94.9h0.75M336.5 110.1h0.75M338.6 100.7h0.75M341.5 99.9h0.75M347.3 99.0h0.75M344.0 97.7h0.75M340.7 91.4h0.75M335.8 94.2h0.75M334.7 113.1h0.75M339.5 91.9h0.75M338.4 92.1h0.75M343.0 87.2h0.75M335.8 90.7h0.75M337.2 118.0h0.75M337.1 114.3h0.75M339.0 102.6h0.75M341.9 99.2h0.75M340.1 115.3h0.75M337.6 105.6h0.75M333.1 97.2h0.75M344.5 112.0h0.75M345.9 119.4h0.75M338.0 100.5h0.75M340.4 95.4h0.75M333.7 100.9h0.75M344.2 95.7h0.75M336.9 112.1h0.75M341.8 105.1h0.75M341.6 95.7h0.75M343.5 106.5h0.75M339.8 108.2h0.75M336.5 109.0h0.75M339.5 89.7h0.75M337.7 116.8h0.75M340.5 117.6h0.75M339.0 116.5h0.75M338.0 113.2h0.75M341.6 104.4h0.75M335.4 103.2h0.75M336.8 113.7h0.75M337.7 116.6h0.75M334.8 103.6h0.75M339.9 117.6h0.75M341.7 90.8h0.75M340.7 115.5h0.75M341.5 95.0h0.75M339.2 93.6h0.75M335.7 93.9h0.75M336.5 113.9h0.75M336.0 97.8h0.75M340.6 101.0h0.75M340.4 118.9h0.75M339.7 95.1h0.75M334.4 95.9h0.75M335.9 95.4h0.75M342.1 89.4h0.75M339.9 108.2h0.75M335.7 110.5h0.75M335.3 91.8h0.75M337.4 91.4h0.75M334.0 92.8h0.75M341.8 112.3h0.75M341.9 88.8h0.75M335.0 113.3h0.75M339.6 105.4h0.75M340.2 109.4h0.75M341.7 105.9h0.75M335.1 97.6h0.75M341.7 100.8h0.75M338.4 88.9h0.75M338.1 98.1h0.75M344.5 106.6h0.75M340.9 115.2h0.75M336.7 94.8h0.75M335.1 117.9h0.75M336.1 98.4h0.75M337.5 114.5h0.75M336.8 106.4h0.75M336.6 112.5h0.75M341.6 118.6h0.75M339.4 94.9h0.75M334.9 113.4h0.75M341.5 97.0h0.75M338.1 101.8h0.75M343.1 99.1h0.75M339.4 117.6h0.75M340.0 97.2h0.75M343.2 88.8h0.75M337.3 98.1h0.75M340.0 111.8h0.75M340.9 102.2h0.75M341.6 108.8h0.75M342.6 114.3h0.75M340.3 103.5h0.75M339.4 109.3h0.75M339.7 91.6h0.75M342.0 114.6h0.75M337.3 97.6h0.75M338.4 93.9h0.75M345.3 111.9h0.75M340.3 96.0h0.75M335.5 94.2h0.75M345.4 109.6h0.75M341.8 112.4h0.75M338.2 96.1h0.75M341.2 91.1h0.75M339.3 109.4h0.75M337.6 115.0h0.75M342.3 90.6h0.75M340.2 93.2h0.75M343.7 100.8h0.75M340.4 107.9h0.75M341.9 112.5h0.75M338.5 95.8h0.75M345.7 109.7h0.75M334.9 99.4h0.75M338.4 115.9h0.75M341.1 117.6h0.75M337.7 96.7h0.75M332.8 87.9h0.75M343.7 114.3h0.75M339.5 107.7h0.75M336.5 93.5h0.75M341.4 98.7h0.75M346.3 106.4h0.75M337.7 109.7h0.75M337.5 116.6h0.75M340.3 110.9h0.75M339.9 111.8h0.75M346.9 89.9h0.75M344.3 97.2h0.75M339.1 102.5h0.75M338.4 98.5h0.75M341.5 119.0h0.75M336.5 113.5h0.75M344.2 105.4h0.75M333.4 100.6h0.75M334.0 113.3h0.75M335.9 125.0h0.75M340.5 124.8h0.75M343.7 123.6h0.75M341.7 129.3h0.75M343.6 125.7h0.75M344.0 123.8h0.75M343.0 123.0h0.75M337.8 119.6h0.75M341.5 123.8h0.75M340.1 126.9h0.75M344.2 128.0h0.75M330.8 127.6h0.75M341.4 126.5h0.75M336.3 123.4h0.75M338.1 123.0h0.75M345.3 125.7h0.75M335.9 124.3h0.75M339.0 123.7h0.75M337.5 127.4h0.75M341.4 122.3h0.75M334.3 125.6h0.75M341.5 123.8h0.75M340.2 127.6h0.75M340.3 126.1h0.75M336.8 122.6h0.75M338.8 124.9h0.75M344.8 124.0h0.75M336.0 122.5h0.75M330.4 125.7h0.75M346.5 124.5h0.75M335.9 122.0h0.75M340.8 124.0h0.75M334.6 124.9h0.75M336.8 127.7h0.75M332.4 122.1h0.75M335.5 125.4h0.75M338.5 124.7h0.75M339.5 124.9h0.75M343.3 121.5h0.75M338.8 122.9h0.75M337.3 123.9h0.75M334.9 124.1h0.75M338.0 123.7h0.75M342.5 123.4h0.75M340.1 124.8h0.75M337.8 120.4h0.75M341.0 124.7h0.75M335.6 129.3h0.75M338.2 123.7h0.75M336.6 123.6h0.75M339.2 123.7h0.75M338.1 122.4h0.75M340.0 126.3h0.75M341.1 119.3h0.75M339.6 124.7h0.75M342.0 122.5h0.75M338.0 125.2h0.75M337.9 121.9h0.75M339.5 127.7h0.75M345.4 127.6h0.75M341.7 121.6h0.75M340.7 124.7h0.75M330.8 125.4h0.75M342.5 122.8h0.75M341.6 126.6h0.75M334.9 123.8h0.75M338.2 126.5h0.75M337.9 126.5h0.75M340.6 124.5h0.75M341.2 131.4h0.75M339.3 125.3h0.75M335.5 126.7h0.75M335.2 120.8h0.75M339.2 124.6h0.75M339.4 123.2h0.75M334.1 122.0h0.75M341.6 126.9h0.75M341.7 123.8h0.75M335.2 121.6h0.75M337.7 125.7h0.75M338.5 124.3h0.75M342.0 123.6h0.75M337.0 124.4h0.75M335.3 124.2h0.75M337.9 123.9h0.75M337.8 127.7h0.75M339.4 121.3h0.75M346.2 125.8h0.75M335.1 126.9h0.75M344.8 124.4h0.75M337.1 126.2h0.75M334.9 124.7h0.75M341.6 127.3h0.75M339.8 123.5h0.75M335.7 122.8h0.75M340.2 129.4h0.75M342.3 128.0h0.75M344.7 127.1h0.75M338.0 128.5h0.75M336.2 121.7h0.75M339.0 122.9h0.75M334.7 126.0h0.75M337.9 122.4h0.75M336.0 127.5h0.75M342.0 126.4h0.75M334.8 126.9h0.75M338.2 125.5h0.75M337.8 122.8h0.75M339.6 125.1h0.75M342.3 123.9h0.75M339.4 125.5h0.75M335.5 123.9h0.75M342.5 125.7h0.75M334.5 124.6h0.75M339.0 125.0h0.75M338.6 124.7h0.75M335.5 124.7h0.75M341.3 122.6h0.75M339.8 125.9h0.75M339.7 123.2h0.75M336.2 123.5h0.75M337.7 127.0h0.75M336.5 123.3h0.75M337.2 126.7h0.75M343.8 119.5h0.75M339.1 120.7h0.75M334.9 127.4h0.75M334.3 118.5h0.75M338.7 125.0h0.75M333.7 124.5h0.75M335.2 130.7h0.75M340.2 128.1h0.75M344.2 119.2h0.75M334.8 127.3h0.75M341.0 127.0h0.75M342.4 127.9h0.75M337.6 124.6h0.75M342.4 124.4h0.75M343.0 120.5h0.75M335.8 123.5h0.75M337.1 122.3h0.75M338.8 124.9h0.75M339.3 119.5h0.75M337.8 121.9h0.75M340.2 123.0h0.75M337.6 128.9h0.75M341.8 122.8h0.75M334.3 124.2h0.75M336.1 126.4h0.75M342.6 126.1h0.75M339.7 122.7h0.75M337.2 121.1h0.75M337.9 123.4h0.75M334.6 125.9h0.75M339.2 124.5h0.75M340.4 125.7h0.75M339.2 123.4h0.75M336.1 124.4h0.75M337.5 122.4h0.75M338.1 127.7h0.75M343.7 121.8h0.75M333.7 124.0h0.75M343.2 123.1h0.75M334.6 122.0h0.75M341.9 126.8h0.75M338.4 127.6h0.75M341.0 125.8h0.75M332.9 124.3h0.75M347.3 124.0h0.75M334.5 121.8h0.75M337.4 125.6h0.75M337.0 128.2h0.75M337.3 124.3h0.75M339.7 128.4h0.75M341.9 123.9h0.75M331.9 124.2h0.75M338.4 121.2h0.75M333.0 123.6h0.75M338.2 125.5h0.75M340.5 121.4h0.75M344.9 128.1h0.75M335.3 125.4h0.75M340.3 125.4h0.75M340.5 121.3h0.75M335.1 123.5h0.75M335.2 128.1h0.75M340.1 124.7h0.75M338.2 128.9h0.75M336.6 120.9h0.75M340.8 126.7h0.75M338.0 124.9h0.75M336.9 124.2h0.75M333.2 124.8h0.75M345.0 127.9h0.75M338.7 122.5h0.75M342.7 126.8h0.75M329.0 128.2h0.75M334.4 125.4h0.75M337.7 126.0h0.75M336.8 125.7h0.75M336.3 124.7h0.75M337.7 120.1h0.75M337.5 123.0h0.75M343.7 126.1h0.75M331.6 128.6h0.75M341.9 127.1h0.75M340.4 123.2h0.75M336.8 126.0h0.75M346.9 125.4h0.75M333.8 127.4h0.75M345.6 124.9h0.75M332.7 125.1h0.75M337.9 126.4h0.75M335.5 125.4h0.75M337.7 126.1h0.75M339.3 124.9h0.75M340.0 126.1h0.75M341.1 121.7h0.75M337.5 124.5h0.75M335.6 130.2h0.75M344.1 121.6h0.75M335.7 127.5h0.75M338.7 128.2h0.75M334.5 124.1h0.75M340.9 125.4h0.75M337.9 127.6h0.75M337.5 127.0h0.75M334.6 124.9h0.75M336.8 126.5h0.75M334.7 123.3h0.75M338.4 121.4h0.75M340.9 126.3h0.75M335.5 121.9h0.75M343.0 122.6h0.75M335.1 122.9h0.75M338.2 127.9h0.75M336.8 126.4h0.75M340.1 130.7h0.75M341.4 124.4h0.75M337.5 124.7h0.75M339.9 123.1h0.75M340.1 123.4h0.75M333.8 124.5h0.75M333.0 121.8h0.75M338.3 122.1h0.75M336.2 126.3h0.75M333.0 126.1h0.75M341.4 125.2h0.75M338.2 123.7h0.75M339.6 122.7h0.75M340.5 123.6h0.75M339.6 120.1h0.75M336.8 127.5h0.75M339.9 119.1h0.75M332.6 122.5h0.75M345.3 120.7h0.75M339.7 127.3h0.75M335.4 122.6h0.75M342.0 126.7h0.75M342.2 123.4h0.75M339.9 126.7h0.75M341.5 123.4h0.75M341.0 125.8h0.75M337.0 124.2h0.75M335.0 125.0h0.75M337.4 123.1h0.75M340.0 127.3h0.75M340.4 127.6h0.75M333.8 127.7h0.75M340.3 127.5h0.75M338.4 126.1h0.75M341.4 127.1h0.75M334.3 124.4h0.75M338.2 123.9h0.75M346.1 123.8h0.75M338.6 126.3h0.75M339.1 123.8h0.75M337.0 123.2h0.75M340.4 124.5h0.75M337.0 124.9h0.75" stroke="#000" stroke-width="0.75" fill="none" opacity="0.78" filter="url(#bl)"/>
<path d="M349.8 114.5h0.75M353.7 93.7h0.75M355.0 93.5h0.75M350.8 97.2h0.75M350.5 110.1h0.75M349.1 117.8h0.75M353.9 123.4h0.75M352.9 92.9h0.75M350.7 92.8h0.75M354.6 110.4h0.75M353.3 116.4h0.75M353.5 123.8h0.75M350.1 101.5h0.75M351.8 110.6h0.75M352.0 97.3h0.75M350.9 112.9h0.75M349.5 118.6h0.75M349.5 103.7h0.75M354.2 94.8h0.75M352.1 95.7h0.75M349.7 110.6h0.75M354.4 103.2h0.75M342.6 84.9h0.75M336.0 81.5h0.75M342.3 89.6h0.75M338.7 88.5h0.75M344.8 90.2h0.75M338.5 88.4h0.75M341.8 83.9h0.75M334.8 84.5h0.75M340.5 83.4h0.75M341.7 84.8h0.75M340.1 86.0h0.75M341.4 83.2h0.75M341.2 85.0h0.75M345.3 88.3h0.75M336.7 87.0h0.75M342.6 83.2h0.75M340.8 89.2h0.75M338.5 85.5h0.75M334.2 85.5h0.75M342.8 90.9h0.75M335.9 88.3h0.75M337.8 88.4h0.75M343.4 85.7h0.75M336.5 86.4h0.75M336.8 87.1h0.75M348.6 84.6h0.75M343.7 89.4h0.75M344.2 83.7h0.75M342.5 85.3h0.75M345.5 83.7h0.75M337.6 83.5h0.75M337.9 80.1h0.75M339.9 86.5h0.75M338.5 85.3h0.75M345.8 83.1h0.75M341.6 86.0h0.75M338.2 86.4h0.75M338.9 84.8h0.75M341.6 87.1h0.75M343.8 90.3h0.75" stroke="#000" stroke-width="0.75" fill="none" opacity="0.45" filter="url(#bl)"/>
<ellipse cx="422.4" cy="126.6" rx="4.4" ry="4" fill="url(#g)" opacity="1"/>
<rect x="418.4" y="98" width="8" height="26" fill="url(#gv)" opacity="0.75"/>
<ellipse cx="422.3" cy="94" rx="6.5" ry="7.5" fill="url(#g)" opacity="0.75"/>
<path d="M421.6 119.8h0.75M418.4 100.3h0.75M422.9 91.1h0.75M423.7 86.6h0.75M425.3 105.1h0.75M423.8 103.0h0.75M425.1 95.2h0.75M423.3 117.0h0.75M422.0 112.6h0.75M419.7 89.8h0.75M424.3 113.8h0.75M424.0 97.4h0.75M425.0 90.7h0.75M423.0 105.9h0.75M423.9 103.0h0.75M420.3 121.5h0.75M421.4 92.0h0.75M425.4 88.8h0.75M419.4 94.2h0.75M422.4 94.7h0.75M421.8 114.1h0.75M416.8 104.8h0.75M417.9 106.3h0.75M418.6 96.2h0.75M419.3 117.1h0.75M422.3 114.4h0.75M419.6 94.6h0.75M420.4 89.6h0.75M424.9 98.3h0.75M421.5 88.2h0.75M419.5 110.5h0.75M423.2 88.1h0.75M419.3 104.0h0.75M423.5 102.0h0.75M423.6 105.1h0.75M422.3 87.8h0.75M422.5 112.9h0.75M422.1 90.5h0.75M415.2 91.5h0.75M429.5 86.1h0.75M423.1 104.1h0.75M424.3 111.2h0.75M423.4 110.3h0.75M418.0 96.4h0.75M427.4 88.5h0.75M422.7 114.9h0.75M420.6 111.1h0.75M420.3 87.5h0.75M418.8 113.6h0.75M420.4 117.4h0.75M423.5 111.9h0.75M421.9 112.6h0.75M421.3 108.3h0.75M422.0 103.0h0.75M421.5 119.2h0.75M418.0 114.2h0.75M425.5 85.6h0.75M419.0 102.6h0.75M420.4 101.2h0.75M424.1 97.2h0.75M421.1 101.8h0.75M421.4 89.8h0.75M420.0 108.2h0.75M421.1 103.8h0.75M424.8 97.2h0.75M422.4 104.3h0.75M420.3 95.0h0.75M421.0 99.9h0.75M419.0 101.1h0.75M418.8 92.7h0.75M427.5 101.4h0.75M419.7 112.0h0.75M420.1 120.4h0.75M422.4 88.4h0.75M422.1 111.9h0.75M426.4 92.3h0.75M418.2 103.5h0.75M425.6 103.9h0.75M422.3 113.7h0.75M425.4 104.1h0.75M421.9 95.4h0.75M422.8 89.0h0.75M420.7 96.2h0.75M419.9 111.5h0.75M424.1 86.6h0.75M421.6 89.9h0.75M417.5 105.2h0.75M423.3 117.3h0.75M419.9 106.3h0.75M422.9 122.5h0.75M422.8 87.4h0.75M419.9 120.1h0.75M424.4 112.8h0.75M428.7 88.8h0.75M422.9 110.6h0.75M418.3 85.8h0.75M422.5 108.9h0.75M420.5 113.6h0.75M418.2 98.1h0.75M423.3 110.5h0.75M424.6 108.9h0.75M424.7 114.2h0.75M420.5 113.1h0.75M419.3 92.7h0.75M423.6 122.8h0.75M422.1 109.3h0.75M420.7 113.1h0.75M422.8 97.1h0.75M423.7 89.2h0.75M420.7 123.0h0.75M427.0 91.5h0.75M422.0 105.0h0.75M420.7 87.3h0.75M422.4 108.3h0.75M426.4 92.4h0.75M420.9 110.3h0.75M419.0 91.6h0.75M424.2 118.7h0.75M424.8 99.0h0.75M418.8 121.1h0.75M422.8 107.8h0.75M421.6 111.5h0.75M420.4 117.1h0.75M427.0 97.0h0.75M421.3 116.4h0.75M425.0 107.9h0.75M420.3 87.8h0.75M424.4 108.6h0.75M423.2 121.4h0.75M422.0 111.3h0.75M428.2 87.7h0.75M425.1 111.4h0.75M419.3 103.8h0.75M420.2 87.2h0.75M425.0 119.3h0.75M423.4 90.1h0.75M414.2 86.0h0.75M426.4 88.8h0.75M421.5 100.6h0.75M425.3 91.8h0.75M423.9 98.9h0.75M422.3 116.2h0.75M419.5 114.8h0.75M423.4 105.1h0.75M424.8 122.6h0.75M423.4 115.8h0.75M423.1 109.1h0.75M422.3 107.5h0.75M424.7 112.8h0.75M423.4 115.7h0.75M419.4 109.9h0.75M424.5 119.6h0.75M422.4 92.2h0.75M426.2 113.2h0.75M429.9 100.2h0.75M422.0 106.8h0.75M422.8 98.2h0.75M422.6 98.7h0.75M424.1 100.3h0.75M423.1 117.6h0.75M421.8 112.8h0.75M423.0 120.3h0.75M422.6 119.2h0.75M419.1 110.4h0.75M422.2 93.8h0.75M422.3 95.9h0.75M426.4 90.4h0.75M425.2 100.7h0.75M423.2 95.7h0.75M419.3 110.0h0.75M423.1 119.1h0.75M424.5 113.0h0.75M422.5 107.2h0.75M425.0 120.3h0.75M422.1 118.0h0.75M422.8 97.8h0.75M421.6 93.5h0.75M420.8 116.9h0.75M427.9 94.2h0.75M418.8 104.7h0.75M424.3 117.3h0.75M426.5 86.7h0.75M424.8 94.6h0.75M424.2 122.5h0.75M424.3 103.1h0.75M421.5 88.1h0.75M423.5 94.3h0.75M420.0 96.9h0.75M421.0 117.8h0.75M421.3 117.9h0.75M423.8 88.7h0.75M425.8 102.7h0.75M423.7 110.4h0.75M417.8 90.0h0.75M422.5 111.9h0.75M423.7 94.9h0.75M421.0 98.4h0.75M422.4 108.4h0.75M425.6 98.2h0.75M422.3 116.3h0.75M420.2 115.3h0.75M421.0 121.7h0.75M423.4 119.8h0.75M423.4 95.6h0.75M422.3 90.0h0.75M423.5 106.4h0.75M420.7 117.9h0.75M425.3 117.7h0.75M423.6 106.0h0.75M421.0 107.4h0.75M429.1 108.8h0.75M422.6 93.4h0.75M423.1 103.7h0.75M418.6 88.0h0.75M423.6 122.6h0.75M419.9 95.9h0.75M422.4 122.2h0.75M421.1 109.0h0.75M423.2 86.4h0.75M422.2 103.1h0.75M423.8 121.7h0.75M423.6 115.0h0.75M420.0 116.7h0.75M421.7 104.6h0.75M425.6 109.9h0.75M421.8 92.0h0.75M417.7 92.3h0.75M422.6 114.8h0.75M422.9 93.9h0.75M423.2 113.4h0.75M416.7 84.2h0.75M423.4 122.2h0.75M421.5 93.7h0.75M423.7 88.3h0.75M423.8 90.8h0.75M419.1 111.0h0.75M424.0 114.0h0.75M428.7 104.3h0.75M423.2 93.6h0.75M420.0 88.1h0.75M423.1 122.6h0.75M421.2 121.7h0.75M420.5 106.7h0.75M422.0 119.0h0.75M421.9 107.5h0.75M424.9 95.0h0.75M426.0 96.1h0.75M421.2 108.1h0.75M425.0 112.8h0.75M423.4 114.3h0.75M429.4 102.7h0.75M423.2 99.3h0.75M422.9 116.1h0.75M422.3 93.9h0.75M421.2 102.6h0.75M426.7 97.5h0.75M418.5 102.1h0.75M424.7 104.7h0.75M424.5 98.4h0.75M421.2 122.7h0.75M426.8 88.2h0.75M423.9 118.5h0.75M421.9 112.1h0.75M419.7 110.5h0.75M420.9 117.9h0.75M420.9 91.3h0.75M424.8 96.4h0.75M417.2 97.5h0.75M423.4 92.4h0.75M422.3 98.5h0.75M422.1 99.3h0.75M421.8 110.2h0.75M422.6 100.7h0.75M420.9 109.2h0.75M427.2 95.3h0.75M424.4 106.0h0.75M420.1 116.1h0.75M423.2 95.6h0.75M423.8 108.7h0.75M420.0 96.8h0.75M423.9 113.5h0.75M416.6 99.2h0.75M418.5 96.6h0.75M422.3 109.9h0.75M421.4 116.2h0.75M421.3 114.0h0.75M422.9 114.0h0.75M421.3 99.0h0.75M421.6 117.1h0.75M423.4 101.4h0.75M417.2 89.8h0.75M423.9 85.9h0.75M420.3 109.7h0.75M419.7 94.4h0.75M425.4 97.2h0.75M421.0 94.5h0.75M425.0 101.8h0.75M423.8 120.7h0.75M426.7 109.0h0.75M422.6 90.9h0.75M430.0 104.3h0.75M422.5 99.3h0.75M423.3 122.1h0.75M422.7 87.7h0.75M429.5 98.2h0.75M423.4 113.7h0.75M420.0 94.3h0.75M420.8 115.0h0.75M427.3 92.6h0.75M421.4 108.0h0.75M422.1 105.7h0.75M422.1 118.6h0.75M423.2 102.5h0.75M424.3 111.9h0.75M422.8 114.4h0.75M423.9 122.5h0.75M422.1 121.1h0.75M419.2 101.0h0.75M429.3 96.6h0.75M426.4 86.5h0.75M420.3 110.8h0.75M421.9 112.6h0.75M421.4 92.8h0.75M420.8 121.6h0.75M423.1 117.1h0.75M428.0 100.8h0.75M423.5 96.6h0.75M423.8 98.5h0.75M425.2 110.4h0.75M421.0 121.5h0.75M423.3 120.8h0.75M420.6 97.7h0.75M426.1 122.3h0.75M423.5 94.3h0.75M422.1 110.2h0.75M420.1 113.9h0.75M424.8 116.6h0.75M424.4 122.4h0.75M420.3 116.0h0.75M419.9 86.9h0.75M423.1 94.9h0.75M429.5 93.3h0.75M424.9 90.9h0.75M420.7 118.1h0.75M425.2 90.0h0.75M421.3 118.4h0.75M421.2 107.4h0.75M425.1 87.4h0.75M421.1 93.3h0.75M424.8 102.1h0.75M423.8 120.0h0.75M423.5 104.7h0.75M424.6 103.6h0.75M420.4 109.7h0.75M420.7 109.7h0.75M424.9 91.4h0.75M421.6 87.5h0.75M421.6 116.8h0.75M418.2 99.4h0.75M425.2 94.9h0.75M423.1 110.3h0.75M417.6 89.6h0.75M419.9 87.8h0.75M421.4 120.5h0.75M424.0 105.1h0.75M422.3 116.2h0.75M422.9 122.4h0.75M423.9 101.9h0.75M421.2 95.8h0.75M421.6 84.4h0.75M423.5 87.4h0.75M418.1 89.6h0.75M428.4 106.9h0.75M421.6 88.5h0.75M426.1 110.9h0.75M425.4 96.0h0.75M424.6 108.2h0.75M420.7 95.7h0.75M422.0 109.9h0.75M421.3 96.5h0.75M423.2 94.0h0.75M423.7 92.1h0.75M424.1 117.4h0.75M419.4 95.9h0.75M423.7 96.1h0.75M421.3 87.6h0.75M424.9 93.9h0.75M421.6 87.0h0.75M424.0 117.4h0.75M419.7 104.2h0.75M418.8 100.6h0.75M427.9 98.7h0.75M420.3 87.3h0.75M423.4 120.8h0.75M417.5 109.6h0.75M424.1 90.4h0.75M424.0 90.2h0.75M422.2 112.7h0.75M428.2 94.5h0.75M425.5 111.8h0.75M423.6 95.9h0.75M425.5 113.1h0.75M425.1 94.8h0.75M423.0 104.8h0.75M422.8 95.2h0.75M418.8 91.7h0.75M424.9 104.7h0.75M424.3 122.0h0.75M424.3 92.3h0.75M426.1 92.7h0.75M424.4 87.5h0.75M426.0 103.2h0.75M425.8 91.9h0.75M421.1 114.6h0.75M422.3 114.5h0.75M424.6 94.6h0.75M422.3 103.5h0.75M420.8 93.5h0.75M420.6 120.2h0.75M420.4 100.2h0.75M422.3 96.1h0.75M422.5 92.3h0.75M420.5 102.1h0.75M426.3 89.1h0.75M424.2 98.4h0.75M421.9 122.5h0.75M426.9 121.8h0.75M419.7 122.1h0.75M423.0 103.1h0.75M421.3 115.7h0.75M426.0 89.8h0.75M419.5 110.4h0.75M420.7 114.0h0.75M425.1 119.9h0.75M421.7 108.5h0.75M420.5 99.1h0.75M420.1 111.5h0.75M420.2 88.4h0.75M423.4 115.9h0.75M422.4 122.2h0.75M425.5 94.2h0.75M422.1 115.1h0.75M421.8 105.8h0.75M421.4 88.4h0.75M424.6 119.2h0.75M423.2 121.0h0.75M419.2 108.5h0.75M421.0 114.5h0.75M424.4 94.7h0.75M423.7 108.2h0.75M420.2 91.6h0.75M425.0 96.7h0.75M425.0 108.9h0.75M421.5 115.0h0.75M427.3 92.3h0.75M418.2 87.5h0.75M422.4 99.7h0.75M422.8 89.5h0.75M419.7 115.9h0.75M422.6 102.9h0.75M418.4 120.5h0.75M424.3 109.9h0.75M428.5 99.8h0.75M428.3 96.0h0.75M421.9 112.2h0.75M423.0 98.6h0.75M420.3 120.4h0.75M417.1 105.6h0.75M421.9 105.2h0.75M422.1 95.6h0.75M416.9 101.7h0.75M421.3 111.3h0.75M426.4 96.5h0.75M422.0 94.8h0.75M418.3 99.0h0.75M419.8 111.9h0.75M421.7 120.9h0.75M421.9 106.4h0.75M420.1 118.0h0.75M429.9 92.0h0.75M422.6 106.5h0.75M426.4 90.5h0.75M424.2 120.0h0.75M420.5 89.8h0.75M424.0 105.0h0.75M426.4 116.7h0.75M420.8 87.9h0.75M420.4 87.9h0.75M424.9 88.5h0.75M423.1 113.6h0.75M428.1 104.3h0.75M421.8 106.2h0.75M422.4 89.3h0.75M422.2 121.2h0.75M421.9 114.5h0.75M421.5 115.2h0.75M424.4 114.4h0.75M421.3 97.9h0.75M420.1 118.0h0.75M423.8 113.1h0.75M417.0 91.2h0.75M421.3 122.3h0.75M420.6 93.0h0.75M425.5 89.6h0.75M421.4 112.7h0.75M423.2 99.2h0.75M424.9 87.9h0.75M422.9 119.8h0.75M423.3 110.3h0.75M423.2 109.8h0.75M423.9 86.5h0.75M422.6 118.3h0.75M422.0 99.0h0.75M423.0 112.2h0.75M422.2 105.2h0.75M421.1 98.3h0.75M425.6 95.8h0.75M422.5 104.1h0.75M421.9 103.0h0.75M419.6 101.9h0.75M420.4 90.2h0.75M423.5 100.2h0.75M420.8 109.1h0.75M422.6 113.1h0.75M425.9 88.4h0.75M416.6 91.1h0.75M421.6 90.2h0.75M422.1 103.5h0.75M422.8 102.6h0.75M421.1 113.0h0.75M419.5 86.1h0.75M423.6 102.3h0.75M421.2 96.4h0.75M418.1 95.0h0.75M424.3 109.3h0.75M419.8 119.0h0.75M422.1 120.0h0.75M422.3 111.4h0.75M424.0 118.3h0.75M420.5 87.9h0.75M421.8 89.2h0.75M423.5 116.7h0.75M423.4 121.6h0.75M420.3 118.2h0.75M420.9 119.5h0.75M423.8 94.9h0.75M423.6 90.7h0.75M420.2 99.3h0.75M422.0 117.4h0.75M422.0 107.8h0.75M422.6 86.9h0.75M426.6 105.7h0.75M422.7 101.1h0.75M416.4 99.7h0.75M425.5 110.9h0.75M428.1 98.5h0.75M420.9 87.0h0.75M423.3 104.0h0.75M422.6 122.7h0.75M416.9 101.2h0.75M426.5 90.3h0.75M423.3 99.3h0.75M421.7 110.1h0.75M424.1 108.5h0.75M419.6 119.4h0.75M423.3 117.9h0.75M425.7 100.5h0.75M423.5 122.1h0.75M424.8 97.8h0.75M424.5 108.2h0.75M424.7 102.1h0.75M423.5 102.3h0.75M417.9 94.9h0.75M422.9 108.1h0.75M428.4 105.0h0.75M424.1 98.2h0.75M421.3 92.7h0.75M418.9 91.2h0.75M425.2 115.4h0.75M421.6 100.3h0.75M424.1 119.7h0.75M423.2 117.6h0.75M423.7 104.6h0.75M417.4 94.7h0.75M425.1 121.3h0.75M423.2 105.5h0.75M417.0 99.7h0.75M419.7 96.3h0.75M425.7 122.2h0.75M421.2 104.8h0.75M421.8 121.2h0.75M423.9 92.2h0.75M419.5 96.8h0.75M426.5 99.4h0.75M419.2 89.7h0.75M420.2 86.0h0.75M422.2 94.7h0.75M425.6 123.0h0.75M424.5 102.6h0.75M421.2 117.6h0.75M421.6 103.4h0.75M423.8 119.0h0.75M426.1 117.7h0.75M419.4 92.8h0.75M421.5 106.5h0.75M423.8 112.1h0.75M423.5 114.0h0.75M424.5 96.0h0.75M422.4 94.2h0.75M421.8 96.4h0.75M424.3 114.7h0.75M423.1 121.9h0.75M421.6 122.0h0.75M418.5 107.9h0.75M425.5 99.4h0.75M423.0 103.6h0.75M420.8 118.9h0.75M424.8 88.3h0.75M428.0 107.6h0.75M417.1 85.2h0.75M416.6 101.7h0.75M423.1 111.8h0.75M424.0 106.7h0.75M425.9 103.0h0.75M424.5 110.4h0.75M422.4 96.0h0.75M417.5 99.3h0.75M422.2 104.1h0.75M418.2 91.2h0.75M422.7 105.5h0.75M420.6 108.7h0.75M417.3 86.4h0.75M418.1 93.9h0.75M417.9 97.6h0.75M423.9 114.3h0.75M422.6 104.6h0.75M422.0 118.9h0.75M419.1 121.5h0.75M424.1 93.7h0.75M421.9 106.1h0.75M424.6 91.1h0.75M423.6 111.1h0.75M423.5 110.7h0.75M423.6 121.6h0.75M426.4 106.8h0.75M409.6 87.7h0.75M423.0 116.0h0.75M420.9 115.4h0.75M420.7 110.7h0.75M425.0 114.5h0.75M420.7 103.4h0.75M421.9 86.0h0.75M425.9 114.8h0.75M422.2 117.6h0.75M427.0 101.7h0.75M425.9 104.7h0.75M422.1 106.5h0.75M421.2 120.4h0.75M420.7 105.5h0.75M421.0 105.8h0.75M422.9 121.1h0.75M423.7 111.0h0.75M418.8 111.4h0.75M422.6 104.2h0.75M421.4 91.2h0.75M424.7 97.7h0.75M424.9 89.1h0.75M420.7 90.7h0.75M425.7 87.8h0.75M423.9 88.6h0.75M423.7 102.0h0.75M423.3 121.3h0.75M422.5 115.8h0.75M420.7 95.3h0.75M421.8 105.6h0.75M416.8 104.6h0.75M426.7 88.5h0.75M422.9 118.0h0.75M420.6 93.2h0.75M418.3 102.6h0.75M426.0 92.1h0.75M425.4 88.9h0.75M423.0 107.7h0.75M422.4 92.9h0.75M423.6 87.0h0.75M417.5 95.6h0.75M418.8 96.0h0.75M421.8 115.1h0.75M424.7 112.5h0.75M424.6 88.6h0.75M422.7 120.1h0.75M423.5 103.6h0.75M418.5 102.7h0.75M423.8 105.4h0.75M423.8 99.8h0.75M421.2 104.0h0.75M417.8 91.1h0.75M420.3 86.3h0.75M421.1 103.1h0.75M421.2 96.6h0.75M421.8 120.7h0.75M421.3 107.5h0.75M422.8 93.7h0.75M422.5 115.0h0.75M422.6 121.5h0.75M425.6 113.7h0.75M429.2 89.4h0.75M421.3 112.1h0.75M422.9 98.6h0.75M422.7 118.7h0.75M419.9 120.6h0.75M423.6 109.8h0.75M421.9 122.7h0.75M425.0 107.3h0.75M424.9 120.5h0.75M420.2 104.2h0.75M427.2 96.5h0.75M422.1 121.6h0.75M419.1 94.3h0.75M423.1 99.9h0.75M419.6 118.3h0.75M422.7 103.3h0.75M423.1 119.2h0.75M421.3 122.9h0.75M423.2 117.3h0.75M418.5 100.5h0.75M425.0 88.6h0.75M423.7 108.1h0.75M420.4 117.9h0.75M424.9 106.8h0.75M422.6 119.1h0.75M422.3 112.5h0.75M423.5 94.6h0.75M422.0 97.9h0.75M420.7 84.9h0.75M421.9 116.5h0.75M424.4 103.0h0.75M420.5 118.0h0.75M421.2 87.2h0.75M420.5 105.9h0.75M420.7 112.7h0.75M422.3 120.9h0.75M419.1 98.3h0.75M423.3 107.6h0.75M421.3 89.8h0.75M420.7 120.8h0.75M427.9 98.2h0.75M425.9 94.3h0.75M421.6 121.3h0.75M420.4 103.1h0.75M423.1 115.0h0.75M421.3 94.8h0.75M421.9 86.7h0.75M424.2 109.3h0.75M422.9 121.8h0.75M425.6 100.0h0.75M421.7 105.8h0.75M424.1 94.7h0.75M418.3 119.6h0.75M422.5 119.9h0.75M423.2 87.4h0.75M423.7 102.1h0.75M422.1 117.9h0.75M422.2 91.5h0.75M422.8 122.7h0.75M418.9 95.9h0.75M424.5 95.7h0.75M422.7 116.9h0.75M426.7 97.6h0.75M418.0 110.2h0.75M421.0 94.7h0.75M423.0 92.3h0.75M427.9 97.0h0.75M423.6 103.0h0.75M420.1 97.1h0.75M420.1 95.7h0.75M420.1 98.4h0.75M423.3 97.7h0.75M425.5 101.6h0.75M419.9 117.6h0.75M411.8 93.5h0.75M429.6 94.1h0.75M421.5 91.4h0.75M424.1 89.8h0.75M420.9 91.4h0.75M418.3 88.5h0.75M419.7 94.2h0.75M424.6 85.6h0.75M425.5 92.0h0.75M418.4 91.6h0.75M419.5 95.4h0.75M426.4 87.6h0.75M415.5 96.0h0.75M424.3 91.8h0.75M426.6 99.4h0.75M424.6 93.3h0.75M429.7 91.9h0.75M423.4 94.9h0.75M425.2 91.9h0.75M422.5 89.7h0.75M413.2 95.2h0.75M419.6 89.3h0.75M430.7 90.5h0.75M426.8 90.8h0.75M424.6 93.8h0.75M423.4 94.2h0.75M425.6 95.7h0.75M422.1 91.4h0.75M425.0 87.0h0.75M410.1 91.6h0.75M422.9 92.5h0.75M423.7 93.1h0.75M422.6 87.8h0.75M427.6 95.9h0.75M420.8 88.2h0.75M421.5 94.9h0.75M427.7 91.5h0.75M426.2 93.1h0.75M416.1 90.2h0.75M419.2 91.6h0.75M419.9 88.8h0.75M416.0 84.4h0.75M425.1 90.6h0.75M422.2 89.9h0.75M421.2 92.8h0.75M422.7 89.9h0.75M424.8 88.4h0.75M424.8 87.9h0.75M424.8 96.5h0.75M423.7 89.0h0.75M422.8 89.4h0.75M426.1 94.0h0.75M425.6 93.3h0.75M429.4 89.3h0.75M422.0 89.0h0.75M425.0 94.9h0.75M428.2 94.6h0.75M422.6 90.8h0.75M419.9 95.3h0.75M417.1 95.0h0.75M428.9 93.1h0.75M420.4 90.2h0.75M424.0 92.8h0.75M424.7 94.8h0.75M422.4 92.4h0.75M421.1 92.6h0.75M429.6 92.9h0.75M419.3 90.6h0.75M421.0 95.0h0.75M416.8 93.9h0.75M424.7 95.6h0.75M416.5 87.5h0.75M424.8 87.3h0.75M420.8 91.5h0.75M426.8 89.4h0.75M418.8 90.3h0.75M423.7 92.8h0.75M425.9 90.1h0.75M414.8 95.9h0.75M418.3 92.2h0.75M418.0 94.0h0.75M417.0 88.9h0.75M428.8 93.3h0.75M419.7 85.4h0.75M420.7 93.2h0.75M425.4 91.6h0.75M427.3 86.4h0.75M421.6 89.6h0.75M416.6 91.7h0.75M421.2 95.9h0.75M427.5 91.6h0.75M418.3 90.1h0.75M421.7 97.8h0.75M426.0 93.8h0.75M412.7 86.1h0.75M426.8 98.5h0.75M421.2 91.3h0.75M421.0 93.5h0.75M426.4 89.0h0.75M423.0 91.4h0.75M414.3 94.3h0.75M424.4 94.1h0.75M415.7 88.0h0.75M422.6 94.1h0.75M427.3 93.0h0.75M421.2 91.3h0.75M425.2 94.4h0.75M421.1 91.3h0.75M425.9 89.5h0.75M417.6 89.1h0.75M418.0 94.8h0.75M416.7 95.1h0.75M420.6 91.9h0.75M420.9 92.8h0.75M423.3 91.2h0.75M415.6 93.7h0.75M421.2 92.3h0.75M423.3 95.0h0.75M421.9 97.6h0.75M424.1 99.2h0.75M420.8 90.0h0.75M417.1 93.9h0.75M426.8 97.5h0.75M426.0 95.5h0.75M414.0 91.7h0.75M424.0 92.9h0.75M419.0 91.1h0.75M422.0 94.6h0.75M422.5 88.3h0.75M425.7 95.4h0.75M422.1 92.1h0.75M421.5 94.9h0.75M418.9 92.2h0.75M426.6 96.5h0.75M426.0 94.3h0.75M423.4 89.4h0.75M420.2 90.0h0.75M421.0 91.1h0.75M431.8 90.3h0.75M428.1 90.9h0.75M416.4 93.1h0.75M425.0 86.1h0.75M418.2 92.1h0.75M423.2 94.3h0.75M421.5 90.8h0.75M421.0 91.4h0.75M422.6 89.9h0.75M414.1 93.9h0.75M421.9 90.5h0.75M420.0 89.4h0.75M423.8 126.5h0.75M420.7 125.1h0.75M419.6 126.6h0.75M419.4 128.3h0.75M421.3 125.5h0.75M423.1 129.4h0.75M421.3 126.2h0.75M418.3 128.5h0.75M420.9 127.4h0.75M421.9 126.1h0.75M419.6 130.1h0.75M423.5 126.8h0.75M421.6 127.7h0.75M424.7 127.2h0.75M422.1 126.3h0.75M421.9 124.1h0.75M421.4 125.5h0.75M417.3 121.1h0.75M423.9 125.4h0.75M424.3 126.9h0.75M422.5 124.5h0.75M420.2 124.6h0.75M421.1 127.2h0.75M422.4 124.3h0.75M420.6 126.3h0.75M419.8 125.8h0.75M423.9 123.9h0.75M418.7 125.3h0.75M422.8 123.2h0.75M426.2 129.2h0.75M420.9 127.1h0.75M422.4 125.4h0.75M421.9 126.1h0.75M420.8 123.5h0.75M422.0 124.2h0.75M422.7 125.3h0.75M419.9 127.0h0.75M421.6 131.1h0.75M424.7 125.5h0.75M424.1 126.8h0.75M422.1 124.2h0.75M421.9 124.1h0.75M423.5 122.8h0.75M424.6 125.9h0.75M422.3 122.8h0.75M422.3 131.4h0.75M424.1 127.9h0.75M426.1 128.5h0.75M422.4 125.9h0.75M420.8 129.3h0.75M422.6 127.9h0.75M421.6 128.4h0.75M420.9 126.6h0.75M421.3 130.9h0.75M423.7 127.0h0.75M423.0 128.9h0.75M421.0 124.8h0.75M424.6 125.8h0.75M423.2 127.2h0.75M421.7 126.1h0.75M422.6 123.5h0.75M422.3 131.7h0.75M424.2 126.2h0.75M423.8 128.4h0.75M421.5 130.2h0.75M424.0 128.3h0.75M419.3 128.6h0.75M421.6 127.2h0.75M424.5 126.8h0.75M420.9 128.0h0.75M422.2 124.8h0.75M421.5 126.4h0.75M424.5 126.7h0.75M421.7 125.0h0.75M423.1 126.3h0.75M423.5 127.6h0.75M422.6 127.6h0.75M425.0 131.5h0.75M420.7 130.4h0.75M424.2 125.3h0.75M422.9 123.3h0.75M420.7 124.6h0.75M421.8 126.1h0.75M420.6 124.6h0.75M424.9 124.3h0.75M419.6 126.7h0.75M422.1 128.0h0.75M423.9 128.9h0.75M422.0 128.0h0.75M421.8 122.4h0.75M426.4 130.7h0.75M421.1 128.3h0.75M420.5 122.7h0.75M424.6 123.4h0.75M420.3 124.8h0.75M424.9 126.7h0.75M426.4 128.2h0.75M421.8 129.4h0.75M425.8 127.9h0.75M422.7 127.3h0.75M421.5 129.5h0.75M421.0 125.7h0.75M422.2 126.7h0.75M422.8 127.5h0.75M423.7 126.3h0.75M420.8 124.2h0.75M425.4 128.2h0.75M423.5 123.4h0.75M423.0 127.0h0.75M419.6 122.4h0.75M422.3 126.2h0.75M421.9 125.8h0.75M423.0 128.5h0.75M421.8 124.9h0.75M422.2 129.9h0.75M421.3 128.2h0.75M423.8 127.4h0.75M422.4 126.3h0.75M420.8 126.4h0.75M421.5 125.4h0.75M419.5 127.0h0.75M423.4 126.2h0.75M419.6 126.5h0.75M423.5 126.7h0.75M422.8 128.6h0.75M423.8 126.6h0.75M419.1 127.8h0.75M426.6 125.6h0.75M423.1 127.1h0.75M420.2 125.6h0.75M424.1 128.3h0.75M424.5 125.6h0.75M420.7 127.2h0.75M418.8 123.0h0.75M420.8 125.6h0.75M421.5 124.3h0.75M420.8 125.3h0.75M425.2 128.5h0.75M422.1 127.3h0.75M421.5 127.6h0.75M422.3 126.2h0.75M423.7 124.3h0.75M425.0 128.6h0.75M420.2 128.1h0.75M422.1 127.7h0.75M421.1 128.9h0.75M425.3 126.3h0.75M419.1 126.5h0.75M422.4 124.6h0.75M426.3 127.8h0.75M423.1 127.6h0.75M421.3 129.5h0.75M420.6 127.5h0.75M424.3 129.5h0.75M422.2 123.8h0.75M422.8 126.3h0.75M423.8 123.5h0.75M420.5 126.9h0.75M425.9 126.2h0.75M422.9 126.4h0.75M422.3 125.0h0.75M426.0 127.4h0.75M425.1 124.4h0.75M419.9 125.9h0.75M424.9 128.2h0.75M421.6 130.2h0.75M423.5 127.2h0.75M422.2 129.1h0.75M421.7 128.4h0.75M421.3 126.7h0.75M422.0 126.5h0.75M419.9 127.7h0.75M422.0 126.5h0.75M418.1 126.0h0.75M421.3 127.7h0.75M424.2 123.2h0.75M423.1 124.5h0.75M422.6 127.6h0.75M421.6 125.8h0.75M421.8 125.7h0.75M419.7 127.6h0.75M421.4 125.2h0.75M418.8 124.4h0.75M422.6 124.4h0.75M423.2 126.8h0.75M422.5 127.1h0.75M421.1 124.1h0.75M427.4 128.1h0.75M418.3 127.7h0.75M423.4 129.4h0.75M425.2 125.4h0.75M421.5 131.2h0.75M421.5 128.4h0.75M420.8 126.7h0.75M424.1 125.1h0.75M423.9 127.6h0.75M422.4 122.3h0.75M425.4 127.9h0.75M422.5 126.5h0.75M418.2 125.4h0.75M419.1 123.2h0.75M422.0 125.2h0.75M423.8 124.7h0.75M423.9 127.9h0.75M426.5 127.1h0.75M426.5 127.1h0.75M422.8 127.3h0.75M421.1 124.4h0.75M420.7 126.3h0.75M420.9 128.0h0.75M424.5 125.3h0.75M424.2 124.8h0.75M421.8 127.5h0.75M419.4 126.4h0.75M424.3 126.9h0.75M421.6 125.2h0.75M424.9 126.1h0.75M422.4 125.3h0.75M423.3 125.0h0.75M423.9 128.2h0.75" stroke="#000" stroke-width="0.75" fill="none" opacity="0.78" filter="url(#bl)"/>
<path d="M459.7 126.9h0.75M441.1 127.9h0.75M439.6 127.0h0.75M448.1 128.8h0.75M435.0 126.6h0.75M431.0 125.0h0.75M460.2 125.8h0.75M429.4 125.7h0.75M454.1 127.9h0.75M462.3 123.8h0.75M448.0 124.3h0.75M427.0 128.1h0.75M438.0 123.8h0.75M437.1 125.5h0.75M433.2 126.6h0.75M428.9 126.4h0.75M445.4 127.6h0.75M452.6 126.4h0.75M457.4 128.6h0.75M443.4 129.2h0.75M427.6 127.9h0.75M431.6 127.5h0.75M460.1 125.0h0.75M449.0 125.2h0.75M444.9 124.9h0.75M441.6 123.2h0.75M433.5 125.7h0.75M430.6 125.6h0.75M433.6 126.6h0.75M458.7 123.9h0.75M438.9 126.9h0.75M455.1 127.1h0.75M453.6 121.8h0.75M455.3 122.7h0.75M446.0 125.7h0.75M461.4 123.4h0.75M449.0 126.1h0.75M444.5 124.2h0.75M456.9 124.8h0.75M450.6 128.3h0.75M442.0 127.8h0.75M462.5 126.8h0.75M429.4 125.8h0.75M428.1 127.5h0.75M447.1 125.1h0.75M428.5 127.6h0.75M433.2 129.3h0.75M443.2 125.2h0.75M435.3 126.1h0.75M435.3 125.4h0.75M455.8 123.5h0.75M439.8 125.5h0.75M440.2 127.0h0.75M430.3 126.3h0.75M444.3 125.4h0.75M437.8 129.1h0.75M462.6 123.4h0.75M452.0 127.9h0.75M458.6 128.9h0.75M443.1 127.9h0.75M456.3 127.6h0.75M462.3 128.4h0.75M433.0 126.8h0.75M461.1 125.1h0.75M429.1 127.9h0.75M431.4 124.3h0.75M453.4 122.4h0.75M447.6 124.2h0.75M457.4 124.6h0.75M443.8 125.1h0.75M444.0 127.6h0.75M462.6 125.0h0.75M427.4 125.2h0.75M442.1 124.6h0.75M428.6 126.5h0.75M441.7 127.9h0.75M438.6 124.0h0.75M453.7 128.4h0.75M455.4 124.2h0.75M458.7 125.0h0.75M428.4 127.1h0.75M448.0 127.2h0.75M459.5 127.5h0.75M441.4 126.7h0.75M455.4 125.1h0.75M445.4 127.0h0.75M432.8 122.8h0.75M427.7 126.5h0.75M453.7 128.6h0.75M456.0 124.4h0.75M434.0 125.5h0.75M452.6 126.1h0.75M441.6 127.7h0.75M460.4 128.0h0.75M431.4 126.4h0.75M446.6 124.6h0.75M444.3 125.9h0.75M432.2 125.9h0.75M460.2 124.9h0.75M430.7 128.7h0.75M460.9 125.0h0.75M459.2 127.9h0.75M454.2 126.5h0.75M451.3 125.2h0.75M445.3 127.9h0.75M433.7 126.6h0.75M427.1 127.2h0.75M439.1 127.7h0.75M445.7 124.9h0.75M459.1 126.1h0.75M451.5 124.6h0.75M458.8 126.5h0.75M459.7 128.5h0.75M459.9 128.4h0.75M439.0 127.5h0.75M439.6 129.6h0.75M449.8 125.5h0.75M432.3 129.1h0.75M456.9 125.5h0.75M448.9 128.3h0.75M457.7 125.5h0.75M449.2 124.9h0.75M447.6 125.1h0.75M438.5 125.4h0.75M443.0 122.9h0.75M433.8 128.6h0.75M452.5 125.2h0.75M434.6 126.8h0.75M442.0 125.7h0.75M447.9 124.4h0.75M434.5 128.5h0.75M438.5 125.9h0.75M459.7 127.7h0.75M429.2 128.1h0.75M446.0 126.1h0.75M457.1 127.0h0.75M441.4 128.0h0.75M446.3 128.8h0.75M460.9 123.0h0.75M462.3 123.8h0.75M455.3 122.5h0.75M447.7 124.1h0.75M432.6 125.0h0.75M443.5 125.4h0.75M460.6 126.2h0.75M434.6 126.3h0.75M436.3 128.2h0.75M441.4 125.8h0.75M438.2 128.0h0.75M427.1 127.4h0.75M460.0 126.5h0.75M434.9 127.9h0.75M439.5 127.1h0.75M441.1 124.6h0.75M449.0 124.7h0.75M454.2 126.1h0.75M448.0 127.5h0.75M432.3 125.0h0.75M433.8 122.7h0.75M429.7 125.8h0.75M440.5 127.5h0.75M446.7 126.3h0.75M447.4 122.4h0.75M458.6 129.3h0.75M446.4 126.3h0.75M427.2 127.5h0.75M452.7 125.8h0.75M445.5 124.8h0.75M460.8 126.8h0.75M462.3 125.2h0.75M427.2 124.3h0.75M447.2 127.4h0.75M453.7 123.6h0.75M452.4 127.6h0.75M439.3 126.5h0.75M449.0 126.2h0.75M455.0 127.5h0.75M456.3 125.4h0.75M453.9 123.6h0.75M450.9 126.4h0.75M456.9 126.5h0.75M428.9 125.7h0.75M445.9 124.8h0.75M457.3 125.3h0.75M454.1 125.7h0.75M446.3 128.2h0.75M462.1 124.0h0.75M429.9 125.4h0.75M428.4 123.4h0.75M455.0 127.5h0.75M454.4 125.5h0.75M451.7 127.0h0.75M453.9 125.9h0.75M462.7 123.4h0.75M430.1 126.6h0.75M450.3 125.7h0.75M459.8 125.4h0.75M435.8 127.5h0.75M451.3 122.3h0.75M448.6 128.5h0.75M441.6 127.1h0.75M461.5 129.1h0.75M442.1 125.1h0.75M459.8 127.4h0.75M428.4 126.1h0.75M432.7 123.9h0.75M439.4 124.8h0.75M439.7 128.6h0.75M456.2 125.9h0.75M437.9 126.3h0.75M448.2 129.8h0.75M448.5 125.4h0.75M462.8 126.1h0.75M448.6 125.6h0.75M448.1 123.7h0.75M456.7 125.2h0.75M433.2 124.7h0.75M437.7 126.0h0.75M446.7 125.1h0.75M449.0 127.2h0.75M451.9 125.2h0.75M463.0 127.8h0.75M452.0 126.4h0.75M455.1 126.8h0.75M429.7 126.1h0.75M440.1 124.7h0.75M450.9 126.8h0.75M439.6 125.1h0.75M448.7 126.4h0.75M437.4 126.0h0.75M442.1 125.9h0.75M462.5 124.1h0.75M449.9 123.8h0.75M438.3 126.8h0.75M462.5 122.7h0.75M442.5 124.1h0.75M430.9 124.3h0.75M436.8 124.4h0.75M442.6 123.1h0.75M456.2 124.7h0.75M460.4 123.3h0.75M438.8 124.8h0.75M455.5 125.8h0.75M445.6 126.5h0.75M443.3 126.7h0.75M457.2 125.7h0.75M458.5 126.8h0.75M455.1 128.2h0.75M440.5 126.7h0.75M442.6 128.0h0.75M447.0 129.5h0.75M458.1 127.9h0.75M439.8 125.9h0.75M432.6 125.7h0.75M454.9 125.3h0.75M427.7 129.0h0.75M427.6 126.2h0.75M459.7 125.8h0.75M456.1 128.2h0.75M428.8 127.5h0.75M457.3 126.9h0.75M455.3 124.8h0.75M442.3 123.9h0.75M430.3 126.5h0.75M429.5 124.2h0.75M444.3 124.9h0.75M449.0 126.2h0.75M436.8 127.9h0.75M452.8 126.0h0.75M455.6 126.5h0.75M441.1 128.1h0.75M440.1 126.1h0.75M429.9 124.6h0.75M443.3 124.7h0.75M449.0 127.5h0.75M462.2 125.5h0.75M439.0 129.3h0.75M445.4 129.0h0.75M443.1 125.7h0.75M450.6 127.5h0.75M453.0 125.5h0.75M443.5 125.9h0.75M460.6 127.6h0.75M452.5 127.0h0.75M431.4 127.4h0.75M428.9 125.5h0.75M428.4 127.2h0.75M451.7 129.7h0.75M461.4 126.3h0.75M454.3 126.2h0.75M432.0 127.2h0.75M456.4 125.3h0.75M452.3 126.3h0.75M449.4 124.9h0.75M432.8 130.6h0.75M449.9 127.4h0.75M455.6 125.5h0.75M431.6 128.0h0.75M438.6 125.9h0.75M450.6 128.0h0.75M449.8 128.1h0.75M446.3 123.7h0.75M452.3 125.5h0.75M433.3 125.0h0.75M453.7 128.8h0.75M443.9 124.9h0.75M450.8 124.7h0.75M429.9 125.1h0.75M458.6 124.5h0.75M430.0 126.1h0.75M461.5 128.9h0.75M437.0 123.1h0.75M455.6 125.9h0.75M452.6 127.1h0.75M436.0 126.6h0.75M455.2 128.8h0.75M442.1 129.5h0.75M459.0 127.5h0.75M454.7 125.3h0.75M452.9 126.1h0.75M432.0 127.1h0.75M441.7 126.4h0.75M460.1 124.0h0.75M444.1 125.5h0.75M461.5 123.7h0.75M460.2 125.5h0.75M430.8 124.6h0.75M432.9 125.9h0.75M448.7 126.8h0.75M430.7 128.0h0.75" stroke="#000" stroke-width="0.75" fill="none" opacity="0.48" filter="url(#bl)"/>
<path d="M454.3 87.8h0.75M446.0 91.1h0.75M437.5 101.1h0.75M450.3 99.0h0.75M459.0 102.8h0.75M440.5 86.3h0.75M441.6 104.7h0.75M435.6 97.6h0.75M451.1 103.6h0.75M440.8 91.8h0.75M440.4 95.6h0.75M438.2 103.6h0.75M435.8 99.0h0.75M454.7 97.9h0.75M437.8 91.2h0.75M434.4 91.0h0.75M434.3 106.1h0.75M439.7 101.3h0.75M439.9 87.4h0.75M433.1 114.6h0.75M440.3 89.7h0.75M437.1 99.7h0.75M457.0 105.9h0.75M438.2 116.9h0.75M443.3 98.3h0.75M446.7 109.8h0.75M442.0 101.8h0.75M437.7 103.2h0.75M456.2 92.6h0.75M453.3 103.3h0.75M440.4 96.9h0.75M447.2 102.2h0.75M441.4 96.0h0.75M449.3 113.9h0.75M444.6 104.1h0.75M432.8 108.9h0.75M436.6 93.4h0.75M435.6 97.2h0.75M448.4 95.6h0.75M440.1 95.7h0.75M448.1 103.2h0.75M433.3 99.4h0.75M445.0 105.8h0.75M436.8 102.0h0.75M446.7 88.9h0.75M447.0 96.3h0.75M445.8 92.3h0.75M437.6 102.4h0.75M439.0 93.5h0.75M445.1 97.8h0.75M458.7 112.9h0.75M436.8 107.6h0.75M434.0 100.3h0.75M435.5 97.4h0.75M441.2 110.2h0.75M437.9 102.8h0.75M435.8 100.4h0.75M444.4 96.4h0.75M441.6 107.6h0.75M438.8 89.3h0.75M436.9 113.1h0.75M449.2 109.7h0.75M440.9 107.1h0.75M455.7 94.6h0.75M443.2 106.7h0.75M452.1 90.6h0.75M437.9 96.5h0.75M449.1 96.0h0.75M441.8 100.0h0.75M447.3 97.9h0.75M449.1 91.8h0.75M450.0 102.3h0.75M439.8 96.9h0.75M439.5 90.2h0.75M446.7 108.8h0.75M449.1 87.3h0.75M441.1 92.5h0.75M456.8 114.7h0.75M440.0 94.2h0.75M431.9 98.0h0.75M439.1 105.7h0.75M440.3 93.2h0.75M449.1 105.3h0.75M441.8 103.8h0.75M451.1 98.1h0.75M432.2 102.4h0.75M464.4 101.2h0.75M445.7 87.5h0.75M454.6 102.9h0.75M434.9 111.0h0.75M441.8 96.7h0.75M445.0 106.3h0.75M452.7 100.2h0.75M465.3 90.5h0.75M450.6 100.6h0.75M455.0 101.3h0.75M441.8 104.0h0.75M450.5 107.5h0.75M447.3 90.6h0.75M459.1 91.8h0.75M446.4 105.3h0.75M440.2 95.0h0.75M448.4 106.0h0.75M437.3 101.2h0.75M442.9 103.7h0.75M434.1 86.5h0.75M448.3 100.8h0.75M441.7 107.4h0.75M443.4 89.4h0.75M448.4 97.5h0.75M443.8 87.9h0.75M454.7 99.5h0.75M432.9 103.0h0.75M451.5 97.0h0.75M440.8 100.4h0.75M445.8 95.5h0.75M443.1 85.7h0.75M435.0 101.2h0.75M443.7 114.0h0.75M453.8 101.2h0.75M443.6 94.6h0.75M437.5 95.6h0.75M454.2 97.6h0.75M447.6 97.9h0.75M454.3 104.5h0.75M453.9 87.8h0.75M445.9 98.6h0.75M436.9 105.1h0.75M435.8 85.5h0.75M462.0 99.5h0.75M438.4 92.5h0.75M437.3 101.5h0.75M433.8 105.9h0.75M449.4 105.4h0.75M436.0 108.1h0.75M436.3 88.9h0.75M452.5 89.6h0.75M452.2 95.9h0.75M441.3 108.2h0.75M432.2 90.7h0.75M439.8 100.3h0.75M439.3 115.1h0.75M438.8 114.4h0.75M442.9 101.2h0.75M434.5 108.4h0.75M431.7 98.2h0.75M437.9 103.7h0.75M439.7 101.7h0.75M431.9 102.7h0.75M452.5 102.2h0.75M432.5 110.6h0.75M455.2 86.2h0.75M432.9 110.4h0.75M466.7 94.5h0.75M440.0 108.9h0.75M434.5 100.0h0.75M453.7 85.8h0.75M438.4 113.8h0.75M459.2 93.0h0.75M440.9 104.1h0.75M444.2 113.1h0.75M441.4 89.0h0.75M447.0 94.2h0.75M446.7 89.5h0.75M432.6 103.3h0.75M450.5 98.2h0.75M459.9 105.1h0.75M455.6 99.5h0.75M432.8 112.4h0.75M444.8 104.9h0.75M437.5 107.3h0.75M432.9 95.5h0.75M445.7 93.3h0.75M437.3 101.2h0.75M439.6 97.7h0.75M444.4 91.2h0.75M437.4 106.6h0.75M437.3 97.0h0.75M434.9 98.5h0.75M433.8 89.9h0.75M445.4 110.2h0.75M451.3 91.9h0.75M454.2 92.0h0.75M447.7 96.6h0.75M440.3 106.2h0.75M450.9 112.0h0.75M436.4 105.1h0.75M439.0 108.4h0.75M432.6 109.7h0.75M451.8 98.6h0.75M456.3 98.3h0.75M447.8 111.0h0.75M440.8 101.5h0.75M438.6 103.4h0.75M433.3 103.7h0.75M438.1 97.6h0.75M443.8 105.2h0.75M431.5 93.2h0.75M433.4 103.8h0.75M435.6 100.9h0.75M450.6 97.6h0.75M445.8 97.5h0.75M455.2 86.6h0.75M433.2 98.9h0.75M454.1 102.4h0.75M435.9 86.6h0.75M449.6 97.8h0.75M452.9 100.4h0.75M441.5 93.4h0.75M435.6 101.9h0.75M438.5 94.0h0.75M448.6 110.3h0.75M434.5 103.3h0.75M452.0 93.6h0.75M449.2 110.6h0.75M435.6 93.1h0.75M466.9 94.6h0.75M436.9 96.1h0.75M435.1 108.3h0.75M432.9 100.0h0.75M446.8 106.9h0.75M435.1 107.3h0.75M456.5 105.5h0.75M445.1 97.4h0.75M439.8 85.4h0.75M435.1 107.3h0.75M447.7 86.5h0.75M431.6 104.5h0.75M437.2 97.6h0.75M449.0 110.8h0.75" stroke="#000" stroke-width="0.75" fill="none" opacity="0.33" filter="url(#bl)"/>
<rect x="347.3" y="227" width="8" height="24" fill="url(#gv)" opacity="0.7"/>
<ellipse cx="349" cy="248.6" rx="6.4" ry="3.6" fill="url(#g)" opacity="0.9"/>
<ellipse cx="351.3" cy="231" rx="3.4" ry="9" fill="url(#g)" opacity="0.75"/>
<ellipse cx="350.8" cy="243" rx="4.6" ry="7.5" fill="url(#g)" opacity="0.7"/>
<path d="M352.1 239.9h0.75M351.4 242.9h0.75M353.3 247.6h0.75M349.4 225.9h0.75M350.5 240.3h0.75M351.1 227.0h0.75M353.4 244.0h0.75M350.1 248.9h0.75M350.7 237.5h0.75M354.2 246.0h0.75M349.6 239.4h0.75M351.8 231.4h0.75M352.8 249.2h0.75M351.2 250.9h0.75M351.6 246.5h0.75M353.0 232.1h0.75M351.5 245.8h0.75M353.1 239.1h0.75M353.0 230.8h0.75M352.3 247.7h0.75M353.4 238.8h0.75M349.9 244.9h0.75M350.2 250.1h0.75M352.9 223.1h0.75M350.9 244.1h0.75M351.1 242.2h0.75M352.2 241.7h0.75M355.4 243.9h0.75M350.5 227.9h0.75M351.3 244.5h0.75M352.2 245.5h0.75M350.5 223.0h0.75M351.7 224.4h0.75M349.2 250.0h0.75M350.0 250.5h0.75M349.2 245.8h0.75M350.3 231.4h0.75M350.6 246.3h0.75M354.8 238.9h0.75M351.0 229.2h0.75M349.2 224.2h0.75M351.4 239.1h0.75M352.4 235.7h0.75M351.7 248.4h0.75M352.2 225.6h0.75M349.9 234.4h0.75M355.4 227.8h0.75M349.6 233.6h0.75M350.7 233.4h0.75M352.6 227.9h0.75M351.2 248.6h0.75M352.0 242.9h0.75M353.0 243.8h0.75M352.9 223.1h0.75M349.9 232.9h0.75M349.4 240.4h0.75M352.5 234.0h0.75M352.4 235.8h0.75M354.0 228.0h0.75M349.5 228.0h0.75M352.1 233.6h0.75M351.0 235.9h0.75M349.4 240.2h0.75M349.5 250.6h0.75M354.4 245.7h0.75M351.1 230.3h0.75M350.9 227.9h0.75M353.0 240.3h0.75M350.5 238.5h0.75M352.9 226.5h0.75M351.3 250.4h0.75M351.1 236.8h0.75M353.2 249.6h0.75M351.7 244.1h0.75M347.2 239.1h0.75M351.8 230.5h0.75M351.9 230.3h0.75M352.1 247.7h0.75M353.1 236.5h0.75M351.4 231.2h0.75M350.0 239.5h0.75M352.5 241.2h0.75M353.1 229.9h0.75M353.5 241.9h0.75M350.3 233.6h0.75M349.6 250.8h0.75M350.5 239.5h0.75M351.1 238.1h0.75M353.9 233.4h0.75M350.1 231.5h0.75M350.3 236.1h0.75M353.0 248.9h0.75M349.0 240.4h0.75M351.5 231.8h0.75M350.0 243.6h0.75M351.5 245.4h0.75M352.3 250.9h0.75M350.8 231.0h0.75M349.6 224.0h0.75M350.8 236.3h0.75M350.0 229.3h0.75M349.6 245.9h0.75M352.9 227.1h0.75M350.0 247.4h0.75M350.2 229.0h0.75M351.3 230.3h0.75M348.7 226.2h0.75M351.7 234.9h0.75M351.9 233.6h0.75M351.8 231.6h0.75M353.8 221.3h0.75M350.8 242.9h0.75M352.2 229.9h0.75M352.5 249.2h0.75M352.3 235.6h0.75M352.6 221.9h0.75M353.4 242.9h0.75M351.0 232.1h0.75M350.6 242.2h0.75M351.6 226.7h0.75M351.3 236.8h0.75M352.5 235.7h0.75M351.2 232.6h0.75M349.9 232.4h0.75M354.2 228.6h0.75M351.4 243.5h0.75M351.5 241.6h0.75M348.7 247.0h0.75M350.9 224.2h0.75M353.3 251.0h0.75M352.6 237.8h0.75M350.9 226.9h0.75M349.8 221.0h0.75M350.0 247.7h0.75M352.7 242.0h0.75M351.6 226.9h0.75M350.6 231.8h0.75M353.5 222.6h0.75M351.0 247.0h0.75M352.3 225.1h0.75M351.6 249.4h0.75M350.3 239.4h0.75M352.6 226.5h0.75M353.8 226.0h0.75M348.8 234.2h0.75M351.1 247.9h0.75M350.4 248.9h0.75M351.8 245.9h0.75M351.5 236.6h0.75M350.6 223.5h0.75M352.8 246.2h0.75M350.4 229.5h0.75M350.0 239.3h0.75M351.1 240.5h0.75M350.8 243.3h0.75M352.8 227.4h0.75M350.7 247.9h0.75M353.3 225.0h0.75M350.5 224.0h0.75M354.8 224.4h0.75M351.2 233.1h0.75M352.0 247.8h0.75M349.0 222.9h0.75M350.3 227.5h0.75M350.4 231.2h0.75M349.5 241.8h0.75M353.7 230.4h0.75M350.1 239.2h0.75M351.0 245.1h0.75M350.5 240.3h0.75M351.6 232.1h0.75M352.8 226.2h0.75M351.9 237.0h0.75M352.4 225.0h0.75M351.7 237.3h0.75M349.8 236.7h0.75M350.0 223.9h0.75M351.0 241.1h0.75M348.9 238.5h0.75M352.0 244.4h0.75M350.6 231.0h0.75M353.9 245.2h0.75M352.5 240.9h0.75M350.6 234.1h0.75M350.2 243.5h0.75M351.0 229.1h0.75M351.0 246.7h0.75M350.1 231.1h0.75M347.8 222.5h0.75M349.8 248.7h0.75M351.9 243.4h0.75M350.3 240.6h0.75M352.9 229.3h0.75M349.0 224.3h0.75M351.0 229.7h0.75M350.0 233.3h0.75M353.1 229.9h0.75M351.0 223.5h0.75M353.1 234.2h0.75M351.5 237.8h0.75M349.9 241.4h0.75M353.9 223.0h0.75M349.2 224.4h0.75M352.7 222.3h0.75M349.0 226.6h0.75M352.5 239.7h0.75M349.6 234.2h0.75M352.2 225.9h0.75M350.4 233.2h0.75M347.8 237.4h0.75M351.2 236.9h0.75M349.3 221.3h0.75M351.0 230.7h0.75M349.8 246.2h0.75M354.7 243.5h0.75M349.7 244.4h0.75M349.4 228.2h0.75M349.7 250.9h0.75M353.0 241.4h0.75M353.4 240.3h0.75M350.0 226.7h0.75M350.9 231.7h0.75M353.2 241.1h0.75M352.2 250.9h0.75M349.2 245.7h0.75M349.7 241.1h0.75M353.0 226.5h0.75M352.4 228.9h0.75M350.3 243.9h0.75M352.7 224.1h0.75M350.2 229.7h0.75M348.5 225.0h0.75M350.8 224.3h0.75M350.7 250.9h0.75M349.5 235.9h0.75M351.0 223.3h0.75M352.0 227.4h0.75M352.2 230.4h0.75M353.4 225.7h0.75M352.3 234.8h0.75M351.8 230.0h0.75M351.4 219.1h0.75M349.8 229.0h0.75M352.2 229.7h0.75M349.0 249.8h0.75M349.4 241.5h0.75M351.0 246.8h0.75M351.2 224.1h0.75M350.5 230.2h0.75M348.6 232.4h0.75M354.4 227.0h0.75M351.5 238.1h0.75M351.6 246.8h0.75M350.8 231.3h0.75M349.6 226.4h0.75M352.3 248.3h0.75M352.2 233.1h0.75M351.6 228.9h0.75M350.1 221.0h0.75M352.7 246.5h0.75M350.4 244.6h0.75M351.0 237.7h0.75M350.3 227.8h0.75M352.3 234.5h0.75M352.6 236.2h0.75M349.8 222.6h0.75M351.7 231.5h0.75M353.0 244.7h0.75M354.7 234.3h0.75M351.6 244.2h0.75M350.9 242.7h0.75M349.1 240.3h0.75M350.8 237.4h0.75M350.2 227.1h0.75M353.6 236.5h0.75M352.2 225.8h0.75M351.3 248.4h0.75M352.8 225.1h0.75M353.2 237.3h0.75M349.4 247.1h0.75M349.2 241.1h0.75M349.9 249.5h0.75M348.9 230.7h0.75M351.9 250.7h0.75M353.2 225.0h0.75M353.5 237.3h0.75M353.1 248.6h0.75M350.0 244.4h0.75M350.8 242.1h0.75M347.7 244.4h0.75M354.4 248.5h0.75M351.8 232.1h0.75M352.6 230.0h0.75M352.1 225.6h0.75M350.7 238.5h0.75M349.5 250.0h0.75M352.1 239.7h0.75M354.0 227.3h0.75M351.1 237.6h0.75M351.2 238.9h0.75M351.5 236.2h0.75M350.9 232.3h0.75M351.6 247.5h0.75M354.3 239.9h0.75M352.4 236.7h0.75M349.1 249.7h0.75M353.9 232.3h0.75M352.3 228.2h0.75M348.4 239.7h0.75M351.0 242.5h0.75M350.8 244.3h0.75M350.2 238.0h0.75M351.8 222.4h0.75M351.9 224.0h0.75M350.7 243.4h0.75M351.0 246.7h0.75M351.7 241.2h0.75M350.3 230.4h0.75M350.7 244.3h0.75M351.8 233.0h0.75M351.6 225.7h0.75M352.3 235.2h0.75M354.2 235.5h0.75M347.4 223.9h0.75M351.5 240.8h0.75M350.7 238.4h0.75M350.7 247.8h0.75M351.0 235.7h0.75M350.4 227.8h0.75M351.2 237.9h0.75M351.3 243.2h0.75M353.3 250.2h0.75M351.1 243.1h0.75M349.7 230.8h0.75M352.6 227.8h0.75M350.9 248.1h0.75M350.9 229.1h0.75M350.7 228.5h0.75M351.7 248.6h0.75M351.4 238.2h0.75M352.3 245.9h0.75M352.5 224.4h0.75M351.1 232.4h0.75M352.9 250.8h0.75M350.0 222.5h0.75M352.6 247.3h0.75M351.3 243.1h0.75M351.5 249.8h0.75M350.8 235.0h0.75M352.3 235.1h0.75M349.8 245.3h0.75M351.2 229.6h0.75M349.7 247.8h0.75M352.5 237.0h0.75M351.7 224.4h0.75M350.4 245.4h0.75M351.7 243.7h0.75M352.8 246.2h0.75M353.0 226.1h0.75M352.1 233.5h0.75M348.1 233.7h0.75M350.1 222.7h0.75M351.2 248.6h0.75M351.2 243.7h0.75M350.4 231.6h0.75M350.7 230.9h0.75M352.2 244.8h0.75M350.9 246.4h0.75M351.5 246.9h0.75M354.6 239.9h0.75M352.5 223.3h0.75M350.4 230.3h0.75M352.9 240.1h0.75M350.7 222.7h0.75M350.9 228.3h0.75M348.1 243.8h0.75M350.8 241.2h0.75M349.8 235.8h0.75M351.5 246.0h0.75M351.7 221.7h0.75M350.1 233.3h0.75M351.0 232.1h0.75M353.5 227.5h0.75M350.9 231.1h0.75M350.2 244.5h0.75M353.2 233.2h0.75M352.9 247.4h0.75M351.5 224.8h0.75M352.2 226.2h0.75M352.0 244.7h0.75M352.9 223.7h0.75M352.8 248.2h0.75M350.5 243.2h0.75M352.5 246.6h0.75M351.3 231.3h0.75M349.8 223.1h0.75M350.5 230.2h0.75M350.2 227.9h0.75M350.0 250.5h0.75M352.3 226.7h0.75M352.6 239.3h0.75M348.8 247.7h0.75M349.4 222.7h0.75M349.4 242.7h0.75M352.1 238.8h0.75M350.9 234.3h0.75M351.1 235.5h0.75M349.5 226.5h0.75M353.1 226.3h0.75M351.2 240.3h0.75M352.0 222.2h0.75M351.4 248.6h0.75M349.6 231.7h0.75M352.1 242.7h0.75M350.7 250.3h0.75M352.0 249.8h0.75M350.0 245.4h0.75M350.9 237.2h0.75M349.3 248.5h0.75M354.3 227.4h0.75M353.9 250.6h0.75M350.9 249.6h0.75M350.4 225.0h0.75M353.6 224.7h0.75M351.3 229.5h0.75M352.4 246.0h0.75M351.1 245.3h0.75M351.1 224.2h0.75M351.5 249.6h0.75M350.3 239.5h0.75M350.5 246.2h0.75M350.0 231.9h0.75M350.0 225.4h0.75M351.5 237.6h0.75M350.4 226.3h0.75M351.6 224.5h0.75M353.4 224.8h0.75M351.6 240.8h0.75M350.9 225.9h0.75M351.7 242.1h0.75M352.8 233.6h0.75M351.6 249.1h0.75M350.4 226.4h0.75M350.2 239.2h0.75M351.7 238.9h0.75M350.8 244.7h0.75M352.2 223.1h0.75M351.7 247.0h0.75M352.0 220.2h0.75M351.4 228.3h0.75M350.2 224.3h0.75M350.8 232.7h0.75M350.9 239.4h0.75M352.8 223.3h0.75M351.3 244.4h0.75M352.2 249.6h0.75M350.8 250.0h0.75M349.6 232.7h0.75M352.1 231.4h0.75M350.6 250.8h0.75M349.7 246.1h0.75M352.1 247.1h0.75M351.6 230.6h0.75M351.2 249.0h0.75M350.6 226.9h0.75M352.0 246.0h0.75M350.1 225.1h0.75M350.8 227.6h0.75M352.9 238.1h0.75M351.3 243.4h0.75M349.6 224.4h0.75M351.8 230.0h0.75M350.5 238.3h0.75M353.3 245.0h0.75M352.8 241.9h0.75M350.9 225.1h0.75M352.1 226.2h0.75M350.6 237.1h0.75M350.6 243.6h0.75M353.0 229.5h0.75M342.1 247.6h0.75M336.8 247.8h0.75M345.1 246.1h0.75M345.6 249.9h0.75M346.8 249.7h0.75M342.9 251.8h0.75M342.8 245.9h0.75M347.3 249.5h0.75M351.8 249.8h0.75M350.4 245.2h0.75M347.3 247.1h0.75M337.8 251.3h0.75M341.7 249.6h0.75M350.0 247.7h0.75M342.5 251.0h0.75M346.5 248.6h0.75M347.1 249.0h0.75M349.0 248.7h0.75M350.5 248.2h0.75M341.0 246.7h0.75M348.8 246.5h0.75M347.4 249.8h0.75M343.9 248.3h0.75M341.4 245.8h0.75M348.5 248.7h0.75M342.1 247.4h0.75M343.7 247.6h0.75M343.9 247.3h0.75M355.6 247.3h0.75M341.1 247.5h0.75M351.5 247.9h0.75M349.2 247.6h0.75M344.8 251.2h0.75M347.6 247.2h0.75M349.4 245.5h0.75M340.5 247.7h0.75M344.8 248.5h0.75M341.5 249.2h0.75M345.7 247.8h0.75M347.8 247.6h0.75M350.7 246.6h0.75M347.7 248.0h0.75M337.3 246.3h0.75M344.5 249.2h0.75M341.3 247.1h0.75M344.5 245.4h0.75M344.3 250.2h0.75M350.3 246.2h0.75M343.4 246.8h0.75M337.8 252.7h0.75M343.4 248.9h0.75M344.4 247.7h0.75M340.3 246.1h0.75M345.8 246.9h0.75M349.2 247.2h0.75M348.0 249.3h0.75M341.6 250.7h0.75M345.6 253.1h0.75M344.2 250.3h0.75M349.4 245.2h0.75M340.1 245.3h0.75M349.8 248.3h0.75M350.3 246.1h0.75M349.5 248.2h0.75M348.9 249.5h0.75M346.9 251.0h0.75M340.8 247.5h0.75M350.6 246.2h0.75M349.4 248.3h0.75M347.7 243.5h0.75M342.9 249.6h0.75M341.7 249.8h0.75M349.3 242.4h0.75M346.9 246.0h0.75M342.2 245.0h0.75M347.7 250.8h0.75M356.7 251.1h0.75M344.6 245.0h0.75M350.8 249.8h0.75M346.7 245.5h0.75M341.6 247.8h0.75M352.6 251.3h0.75M342.6 244.7h0.75M346.0 249.9h0.75M343.4 248.5h0.75M350.1 244.9h0.75M353.9 251.1h0.75M346.8 248.8h0.75M348.7 246.8h0.75M349.5 248.4h0.75M343.4 248.1h0.75M345.3 247.3h0.75M349.4 249.8h0.75M350.3 247.3h0.75M349.2 247.7h0.75M353.3 246.1h0.75M350.7 247.2h0.75M339.5 249.7h0.75M341.1 246.5h0.75M346.2 249.1h0.75M346.0 249.0h0.75M347.6 244.9h0.75M351.5 251.1h0.75M344.1 249.6h0.75M345.3 246.6h0.75M345.3 244.4h0.75M343.9 249.6h0.75M350.6 249.2h0.75M347.5 247.0h0.75M350.4 252.0h0.75M347.9 251.7h0.75M347.0 247.8h0.75M350.1 248.5h0.75M345.6 247.2h0.75M347.0 248.2h0.75M340.0 249.2h0.75M353.4 249.0h0.75M348.4 249.3h0.75M350.1 249.8h0.75M345.2 246.0h0.75M348.4 249.1h0.75M344.3 247.7h0.75M348.4 251.4h0.75M344.1 246.4h0.75M346.5 246.7h0.75M344.5 246.4h0.75M351.3 249.1h0.75M347.2 251.4h0.75M359.4 249.4h0.75M350.0 246.4h0.75M348.9 247.1h0.75M340.5 249.1h0.75M344.2 251.1h0.75M345.5 247.7h0.75M343.1 248.0h0.75M346.2 249.5h0.75M343.5 246.9h0.75M342.3 246.9h0.75M344.9 248.0h0.75M343.9 250.1h0.75M343.6 248.7h0.75M346.0 249.0h0.75M346.9 247.4h0.75M346.5 247.2h0.75M346.0 250.5h0.75M349.9 250.9h0.75M343.2 250.6h0.75M348.3 249.5h0.75M345.5 251.7h0.75M343.0 248.8h0.75M341.2 247.7h0.75M348.1 248.8h0.75M347.6 250.8h0.75M342.4 244.9h0.75M350.6 245.3h0.75M345.3 252.8h0.75M349.4 248.0h0.75M350.3 246.6h0.75M349.5 247.5h0.75M343.8 246.4h0.75M344.2 248.8h0.75M353.8 250.1h0.75M350.3 248.0h0.75M353.4 248.1h0.75M352.3 245.9h0.75M349.0 246.2h0.75M345.3 247.9h0.75M339.3 249.0h0.75M346.9 244.9h0.75M346.1 248.1h0.75M340.3 247.0h0.75M350.6 247.5h0.75M345.8 248.1h0.75M345.7 246.1h0.75M346.0 244.4h0.75M347.2 247.7h0.75M341.2 245.3h0.75M347.4 247.4h0.75M344.0 247.2h0.75M347.4 250.3h0.75M344.8 244.5h0.75M343.0 246.4h0.75M348.2 250.4h0.75M348.0 246.6h0.75M350.3 247.4h0.75M341.8 247.9h0.75M354.6 248.2h0.75M343.8 249.7h0.75M343.4 250.5h0.75M349.4 245.7h0.75M344.9 247.6h0.75M343.4 249.0h0.75M345.6 251.6h0.75M347.6 250.1h0.75M350.4 249.1h0.75M349.8 246.9h0.75M350.5 250.2h0.75M350.8 247.2h0.75M344.3 250.5h0.75M346.2 253.2h0.75M348.6 246.0h0.75M349.1 248.8h0.75M339.1 247.1h0.75M337.9 253.4h0.75M341.9 246.7h0.75M345.2 246.7h0.75M351.3 247.8h0.75M340.9 249.8h0.75M347.9 245.5h0.75M350.2 245.7h0.75M343.0 251.1h0.75M344.6 248.4h0.75M343.3 247.7h0.75M338.5 247.7h0.75M343.4 250.1h0.75M344.8 246.6h0.75M344.6 244.6h0.75M348.1 244.8h0.75M341.6 248.8h0.75M345.3 252.2h0.75M341.0 248.9h0.75M353.6 247.0h0.75M341.4 250.3h0.75M353.9 246.8h0.75M349.8 249.6h0.75M347.0 249.9h0.75M345.4 249.5h0.75M345.5 248.0h0.75M342.2 248.2h0.75M346.1 246.5h0.75M343.6 247.5h0.75M352.0 249.2h0.75M349.1 250.8h0.75M349.3 251.5h0.75M352.1 249.7h0.75M346.1 248.5h0.75M346.2 246.8h0.75M340.4 249.1h0.75M341.2 249.6h0.75M353.4 248.5h0.75M342.8 247.0h0.75M348.9 248.1h0.75M344.8 248.8h0.75M341.9 246.3h0.75M348.1 246.9h0.75M349.0 247.3h0.75M346.8 248.0h0.75M351.5 247.8h0.75M346.8 246.1h0.75M347.1 248.0h0.75M347.7 244.3h0.75M349.0 248.4h0.75M347.7 249.1h0.75M350.5 246.4h0.75M344.5 248.8h0.75M340.7 252.6h0.75M338.6 249.3h0.75M344.6 249.5h0.75M352.4 251.9h0.75M343.7 248.4h0.75M343.5 245.6h0.75M347.0 247.1h0.75M341.7 247.7h0.75M344.1 246.1h0.75M347.3 249.3h0.75M348.0 247.0h0.75M343.0 243.8h0.75M349.2 250.2h0.75M343.1 245.6h0.75M341.8 251.0h0.75M345.7 247.4h0.75M346.8 248.3h0.75M345.3 248.0h0.75M349.0 250.1h0.75M342.2 248.0h0.75M346.2 248.6h0.75M355.8 249.6h0.75M349.4 248.1h0.75M348.7 250.6h0.75M351.3 246.7h0.75M347.2 249.0h0.75M342.3 247.6h0.75M344.7 250.0h0.75M346.7 252.2h0.75M348.6 247.5h0.75M347.6 248.5h0.75M343.4 249.0h0.75M341.1 248.7h0.75M344.7 248.5h0.75M343.8 251.7h0.75M343.9 249.8h0.75M346.8 250.6h0.75M343.9 245.8h0.75M349.2 250.3h0.75M349.1 240.9h0.75M353.1 251.1h0.75M346.6 246.6h0.75M348.5 245.0h0.75M345.3 249.5h0.75M351.9 247.5h0.75M345.7 245.7h0.75M346.0 246.9h0.75M346.6 246.8h0.75M348.3 248.1h0.75M343.9 249.4h0.75M348.6 247.8h0.75M345.8 249.9h0.75M348.5 248.0h0.75M354.1 247.4h0.75M341.5 247.0h0.75M347.3 244.9h0.75M353.8 250.1h0.75M342.8 249.0h0.75M341.6 248.2h0.75M345.6 251.3h0.75M339.4 247.3h0.75M339.2 247.4h0.75M345.3 248.3h0.75M350.5 246.5h0.75M344.4 251.1h0.75M346.7 246.4h0.75M346.6 246.2h0.75M343.1 247.3h0.75M340.7 251.8h0.75M345.0 248.7h0.75M345.5 248.1h0.75M343.4 249.1h0.75M344.8 246.7h0.75M350.0 251.2h0.75M348.2 249.3h0.75" stroke="#000" stroke-width="0.75" fill="none" opacity="0.75" filter="url(#bl)"/>
<path d="M327.4 233.0h0.75M327.9 240.9h0.75M322.6 242.3h0.75M341.0 234.7h0.75M337.7 233.7h0.75M338.6 235.9h0.75M324.7 230.5h0.75M328.4 244.3h0.75M345.2 228.7h0.75M341.2 231.8h0.75M342.7 238.9h0.75M328.1 247.3h0.75M341.0 237.7h0.75M331.0 244.1h0.75M331.3 249.7h0.75M344.7 241.7h0.75M341.9 230.8h0.75M332.4 237.1h0.75M331.3 235.4h0.75M341.9 232.6h0.75M324.2 228.1h0.75M337.5 228.8h0.75M344.0 241.9h0.75M327.5 237.0h0.75M342.9 231.1h0.75M334.9 239.0h0.75M334.8 247.5h0.75M328.1 240.6h0.75M325.9 239.3h0.75M323.9 230.7h0.75M335.3 244.9h0.75M335.3 228.7h0.75M337.4 247.1h0.75M342.2 229.1h0.75M340.1 228.5h0.75M339.2 238.7h0.75M323.6 235.8h0.75M328.1 245.0h0.75M330.8 237.8h0.75M332.6 228.1h0.75M306.0 225.2h0.75M327.6 231.6h0.75M310.4 218.6h0.75M326.1 232.7h0.75M306.7 227.5h0.75M334.8 231.2h0.75M333.0 249.1h0.75M306.9 222.7h0.75M331.8 216.6h0.75M310.6 228.1h0.75M350.0 236.8h0.75M347.8 244.4h0.75M354.1 225.8h0.75M351.8 249.1h0.75M352.9 231.6h0.75M351.9 239.0h0.75M347.6 233.6h0.75M350.0 233.1h0.75M355.1 220.5h0.75M347.9 229.8h0.75M354.9 235.2h0.75M350.2 234.0h0.75M355.9 252.8h0.75M351.8 227.5h0.75M350.2 220.8h0.75M353.9 234.2h0.75M354.5 230.9h0.75M348.7 217.3h0.75M351.8 245.1h0.75M344.3 226.7h0.75M350.8 245.0h0.75M356.9 250.2h0.75M351.9 223.5h0.75M348.4 240.4h0.75M351.1 229.0h0.75M350.8 237.2h0.75M358.0 233.2h0.75M352.8 238.5h0.75M353.4 230.0h0.75M355.6 247.6h0.75M352.6 226.6h0.75M347.7 234.2h0.75M350.6 228.3h0.75M350.6 222.4h0.75M350.4 224.3h0.75M351.9 214.6h0.75M348.7 232.2h0.75M346.5 232.1h0.75M350.4 247.2h0.75M353.1 232.3h0.75M353.5 235.4h0.75M353.5 232.2h0.75M351.9 233.1h0.75M353.9 251.0h0.75M356.0 248.1h0.75M350.5 249.7h0.75M350.1 235.7h0.75M348.3 244.0h0.75M346.0 235.2h0.75M353.2 226.1h0.75M349.9 234.7h0.75M347.6 242.9h0.75M352.5 253.0h0.75M345.7 231.3h0.75M346.4 242.2h0.75M348.2 233.4h0.75M346.1 242.2h0.75M348.6 252.6h0.75M345.2 237.6h0.75M358.3 233.8h0.75M351.6 237.9h0.75M348.8 248.0h0.75M346.9 239.4h0.75M348.6 241.1h0.75M353.3 249.2h0.75M346.7 248.3h0.75M344.2 237.0h0.75M346.5 237.3h0.75M348.9 242.5h0.75M346.0 243.1h0.75M346.6 244.0h0.75M349.3 234.4h0.75M345.9 246.5h0.75M348.3 242.6h0.75M347.5 249.9h0.75M349.8 236.8h0.75M349.1 234.6h0.75M347.3 238.8h0.75M345.6 235.9h0.75M351.5 235.7h0.75M347.8 233.8h0.75M352.0 235.4h0.75M350.6 244.5h0.75M350.0 238.0h0.75M342.3 235.7h0.75M347.8 232.5h0.75M345.2 242.7h0.75M348.5 246.9h0.75M349.7 248.3h0.75M349.2 240.1h0.75M349.0 246.0h0.75M351.2 244.7h0.75M347.1 234.9h0.75M351.3 247.0h0.75M345.6 241.1h0.75M345.7 241.4h0.75M354.4 238.9h0.75M347.3 240.6h0.75M347.2 243.2h0.75M344.1 245.2h0.75M346.3 241.1h0.75M355.4 248.0h0.75M349.0 240.1h0.75M349.9 246.3h0.75M357.9 252.3h0.75M352.6 236.3h0.75M352.6 240.0h0.75M349.0 238.9h0.75M347.5 244.2h0.75M349.0 245.2h0.75M347.1 235.9h0.75M347.3 239.4h0.75M349.5 251.6h0.75M348.9 239.5h0.75M355.5 251.5h0.75M351.0 246.7h0.75M343.5 238.9h0.75M348.4 241.0h0.75M343.0 242.6h0.75M353.6 249.0h0.75M349.3 244.0h0.75M348.5 228.6h0.75M350.0 246.5h0.75M344.4 254.5h0.75M350.7 244.0h0.75M352.6 235.4h0.75M348.2 232.4h0.75M351.2 243.8h0.75M354.9 245.4h0.75M347.3 229.2h0.75M347.6 239.0h0.75M348.3 238.0h0.75M347.6 241.8h0.75M346.8 236.2h0.75M347.9 232.2h0.75M342.1 240.7h0.75M345.7 232.3h0.75M348.1 241.1h0.75M352.1 237.7h0.75M348.4 239.8h0.75M340.4 247.8h0.75M344.1 251.3h0.75M339.3 247.7h0.75M343.0 247.1h0.75M342.7 250.2h0.75M334.7 246.4h0.75M332.8 248.5h0.75M334.9 247.9h0.75M331.2 248.8h0.75M332.1 248.0h0.75M330.4 248.2h0.75M337.3 246.2h0.75M338.1 252.5h0.75M343.8 247.7h0.75M341.5 249.5h0.75M343.6 247.0h0.75M340.2 250.6h0.75M330.7 249.2h0.75M334.6 249.2h0.75M332.9 251.4h0.75M339.2 248.1h0.75M341.9 246.4h0.75M340.9 246.7h0.75M332.3 248.8h0.75M334.3 250.4h0.75M332.8 248.1h0.75M340.6 250.9h0.75M336.9 249.9h0.75M333.3 246.7h0.75M333.4 249.3h0.75M335.3 247.9h0.75M333.1 249.8h0.75M331.1 246.7h0.75M344.5 252.5h0.75M342.8 245.4h0.75M333.5 245.3h0.75M330.9 248.3h0.75M342.3 247.0h0.75M337.8 247.5h0.75M340.9 248.7h0.75" stroke="#000" stroke-width="0.75" fill="none" opacity="0.32" filter="url(#bl)"/>
<rect x="393.5" y="245" width="33" height="7.6" fill="#000" opacity="0.2" filter="url(#bl)"/>
<ellipse cx="419" cy="248.7" rx="8" ry="4" fill="url(#g)" opacity="0.75"/>
<path d="M403.7 253.2h0.75M406.3 249.7h0.75M404.9 251.5h0.75M412.3 244.6h0.75M398.6 248.8h0.75M396.7 249.6h0.75M398.0 246.8h0.75M423.0 248.7h0.75M407.0 249.0h0.75M419.2 252.1h0.75M395.2 250.2h0.75M409.9 247.6h0.75M409.5 251.6h0.75M395.0 248.5h0.75M425.1 248.0h0.75M409.1 247.1h0.75M397.2 250.7h0.75M419.7 249.8h0.75M412.8 247.5h0.75M421.7 247.2h0.75M409.5 249.5h0.75M403.8 252.5h0.75M419.3 248.4h0.75M405.7 250.9h0.75M408.3 245.6h0.75M397.7 248.8h0.75M418.3 252.3h0.75M412.1 248.9h0.75M400.6 249.4h0.75M424.1 244.9h0.75M418.8 246.2h0.75M403.1 244.3h0.75M412.0 249.0h0.75M414.9 249.3h0.75M423.0 253.4h0.75M395.4 250.8h0.75M425.2 250.1h0.75M396.1 249.1h0.75M410.9 247.5h0.75M399.2 248.4h0.75M418.7 247.9h0.75M399.6 247.5h0.75M405.3 250.3h0.75M416.6 247.3h0.75M410.1 249.1h0.75M420.8 247.9h0.75M395.3 246.0h0.75M407.9 251.5h0.75M401.5 245.9h0.75M424.2 252.3h0.75M417.8 251.1h0.75M425.3 247.8h0.75M418.8 249.0h0.75M422.8 249.9h0.75M404.0 249.1h0.75M395.6 248.1h0.75M405.0 249.5h0.75M407.0 252.2h0.75M405.7 247.6h0.75M405.0 249.7h0.75M418.7 247.6h0.75M402.3 245.8h0.75M409.3 247.0h0.75M401.9 246.6h0.75M419.6 249.7h0.75M404.6 250.8h0.75M397.6 250.7h0.75M414.5 245.6h0.75M408.8 245.3h0.75M399.1 248.0h0.75M419.8 250.3h0.75M414.7 247.8h0.75M412.9 247.6h0.75M415.8 252.5h0.75M396.2 249.0h0.75M405.9 248.5h0.75M415.1 253.6h0.75M393.9 246.1h0.75M421.1 248.2h0.75M412.9 245.8h0.75M404.7 250.0h0.75M403.5 248.7h0.75M395.4 248.9h0.75M401.6 246.8h0.75M412.7 249.0h0.75M394.1 248.8h0.75M412.4 248.7h0.75M412.2 249.2h0.75M394.6 251.8h0.75M415.1 250.0h0.75M407.7 248.6h0.75M416.5 248.7h0.75M409.1 245.5h0.75M415.0 249.5h0.75M401.1 249.7h0.75M421.7 246.2h0.75M400.5 248.9h0.75M425.9 251.8h0.75M414.8 247.7h0.75M398.1 253.6h0.75M412.4 250.6h0.75M424.5 247.5h0.75M412.1 249.7h0.75M397.6 252.1h0.75M411.7 248.6h0.75M398.6 248.1h0.75M423.0 246.4h0.75M405.3 250.1h0.75M407.5 252.9h0.75M401.9 249.6h0.75M423.0 250.6h0.75M423.2 248.3h0.75M415.7 249.2h0.75M393.9 246.5h0.75M395.8 247.7h0.75M416.8 250.0h0.75M410.8 252.7h0.75M401.7 252.0h0.75M419.4 253.7h0.75M408.6 248.6h0.75M411.2 249.0h0.75M394.8 246.8h0.75M423.6 247.6h0.75M419.4 252.7h0.75M417.7 246.4h0.75M407.0 247.1h0.75M395.9 249.2h0.75M402.1 249.6h0.75M410.6 247.2h0.75M423.3 247.1h0.75M417.0 245.8h0.75M414.9 244.6h0.75M425.3 246.9h0.75M409.7 247.9h0.75M423.4 248.8h0.75M411.9 248.3h0.75M395.9 246.3h0.75M406.7 250.4h0.75M402.6 248.4h0.75M410.9 249.4h0.75M407.0 248.9h0.75M418.2 250.0h0.75M395.0 248.9h0.75M411.5 248.1h0.75M416.4 246.7h0.75M401.1 247.7h0.75M409.8 252.2h0.75M410.8 246.7h0.75M419.6 248.3h0.75M398.3 247.8h0.75M407.0 248.5h0.75M397.2 246.4h0.75M419.9 247.0h0.75M403.1 250.6h0.75M400.3 247.7h0.75M398.2 248.5h0.75M425.7 248.6h0.75M425.4 244.9h0.75M406.8 249.4h0.75M409.5 248.9h0.75M421.1 248.0h0.75M413.6 251.2h0.75M415.2 245.6h0.75M412.6 245.8h0.75M396.9 252.4h0.75M397.4 247.6h0.75M394.4 248.8h0.75M403.5 247.8h0.75M405.6 248.7h0.75M397.8 254.4h0.75M421.4 246.9h0.75M409.6 245.4h0.75M402.4 249.7h0.75M417.5 246.3h0.75M421.8 250.4h0.75M425.6 247.5h0.75M393.6 254.0h0.75M408.3 247.4h0.75M396.6 249.1h0.75M400.4 254.1h0.75M397.7 246.3h0.75M403.5 245.2h0.75M415.3 249.4h0.75M408.5 248.7h0.75M424.5 247.3h0.75M409.3 250.0h0.75M396.1 250.8h0.75M413.4 250.5h0.75M423.9 248.7h0.75M412.3 252.5h0.75M425.1 248.8h0.75M394.6 248.7h0.75M421.7 247.5h0.75M400.8 246.8h0.75M413.9 250.8h0.75M402.6 243.7h0.75M424.3 247.9h0.75M401.4 249.8h0.75M424.6 252.8h0.75M419.9 248.6h0.75M424.3 247.3h0.75M400.4 248.8h0.75M400.5 246.4h0.75M400.3 246.8h0.75M417.0 248.3h0.75M422.2 249.4h0.75M395.9 249.8h0.75M419.5 249.2h0.75M405.2 250.5h0.75M403.3 247.3h0.75M420.7 247.3h0.75M394.7 250.6h0.75M415.5 249.7h0.75M416.8 248.3h0.75M418.9 253.7h0.75M411.9 246.1h0.75M393.9 249.6h0.75M408.6 249.8h0.75M414.0 248.1h0.75M405.9 247.3h0.75M419.1 247.9h0.75M416.7 245.2h0.75M419.5 248.9h0.75M422.0 246.0h0.75M413.5 247.0h0.75M405.4 245.3h0.75M416.1 252.4h0.75M396.1 251.1h0.75M411.2 251.9h0.75M418.8 244.8h0.75M408.0 248.7h0.75M403.5 251.2h0.75M411.0 246.2h0.75M410.9 246.7h0.75M401.3 244.4h0.75M400.7 253.6h0.75M405.8 245.6h0.75M407.3 248.1h0.75M396.6 243.5h0.75M420.3 248.2h0.75M400.8 249.5h0.75M407.2 249.0h0.75M415.1 252.3h0.75M410.4 249.0h0.75M421.5 249.0h0.75M405.3 245.7h0.75M408.0 252.3h0.75M413.7 248.4h0.75M426.4 247.3h0.75M424.9 248.9h0.75M418.5 245.6h0.75M414.4 248.1h0.75M415.4 248.4h0.75M420.2 249.6h0.75M398.5 248.3h0.75M404.2 250.0h0.75M394.0 244.7h0.75M398.8 251.5h0.75M412.1 249.3h0.75M423.8 252.4h0.75M419.8 248.5h0.75M425.8 249.0h0.75M425.3 249.7h0.75M423.8 246.9h0.75M403.6 251.0h0.75M422.5 246.8h0.75M395.7 250.5h0.75M406.5 246.5h0.75M399.8 247.4h0.75M397.6 246.0h0.75M417.5 249.8h0.75M404.4 246.7h0.75M414.8 249.0h0.75M408.4 249.5h0.75M395.4 251.8h0.75M396.7 248.8h0.75M401.2 249.5h0.75M402.3 250.1h0.75M405.7 251.4h0.75M401.6 248.8h0.75M398.7 248.5h0.75M405.0 248.7h0.75M419.0 249.8h0.75M410.5 249.8h0.75M399.9 248.8h0.75M401.5 246.2h0.75M405.9 249.0h0.75M400.4 248.7h0.75M411.8 248.6h0.75M425.5 250.8h0.75M397.1 250.1h0.75M403.9 248.1h0.75M411.0 251.6h0.75M408.4 251.3h0.75M424.7 250.8h0.75M396.6 249.6h0.75M397.5 247.7h0.75M400.3 249.2h0.75M395.4 246.9h0.75M425.6 246.8h0.75M403.9 251.1h0.75M406.7 250.9h0.75M399.3 243.2h0.75M400.7 250.4h0.75M412.9 249.1h0.75M412.3 247.2h0.75M413.1 251.9h0.75M415.1 247.6h0.75M395.6 246.9h0.75M408.5 246.5h0.75M418.7 249.5h0.75M410.1 248.2h0.75M419.9 248.3h0.75M423.7 250.4h0.75M404.4 247.8h0.75M401.3 250.5h0.75M414.5 244.9h0.75M424.5 245.3h0.75M399.0 248.7h0.75M394.1 249.3h0.75M411.5 248.7h0.75M410.3 249.6h0.75M411.1 250.6h0.75M422.0 248.6h0.75M416.4 249.9h0.75M422.1 251.3h0.75M409.9 244.4h0.75M404.8 253.3h0.75M414.6 250.5h0.75M415.7 250.0h0.75M408.5 250.6h0.75M407.9 250.4h0.75M424.7 250.1h0.75M393.6 251.8h0.75M424.6 245.7h0.75M409.5 248.6h0.75M423.7 248.2h0.75M403.2 246.4h0.75M425.6 250.3h0.75M418.7 248.2h0.75M413.2 250.0h0.75M404.8 250.3h0.75M420.5 246.1h0.75M404.3 246.2h0.75M405.5 248.2h0.75M417.1 252.4h0.75M406.5 248.9h0.75M396.9 249.1h0.75M412.9 250.0h0.75M419.9 246.5h0.75M407.1 247.5h0.75M409.4 247.0h0.75M394.1 249.0h0.75M412.2 251.9h0.75M417.1 246.3h0.75M424.5 250.6h0.75M399.4 248.3h0.75M396.0 246.4h0.75M419.6 246.7h0.75M401.9 249.7h0.75M415.2 249.6h0.75M395.4 251.7h0.75M407.8 247.9h0.75M414.2 248.7h0.75M409.4 248.1h0.75M413.3 247.4h0.75M397.8 247.1h0.75M406.7 249.6h0.75M423.9 249.3h0.75M402.7 250.4h0.75M419.7 248.7h0.75M409.6 253.8h0.75M404.7 248.1h0.75M401.5 250.0h0.75M397.7 247.4h0.75M408.1 248.7h0.75M426.4 249.5h0.75M418.2 246.8h0.75M401.5 248.3h0.75M426.0 249.2h0.75M399.6 252.0h0.75M421.6 253.3h0.75M408.6 249.7h0.75M410.4 248.5h0.75M398.8 249.3h0.75M425.2 248.2h0.75M417.3 249.6h0.75M419.6 248.5h0.75M409.5 246.1h0.75M424.2 246.6h0.75M396.4 251.6h0.75M417.1 245.7h0.75M394.3 249.6h0.75M407.1 246.6h0.75M404.0 246.2h0.75M401.6 248.8h0.75M412.3 246.2h0.75M419.1 250.5h0.75M401.3 250.1h0.75M407.1 248.8h0.75M426.3 251.5h0.75M415.6 250.9h0.75M406.6 246.1h0.75M403.0 247.7h0.75M398.6 251.8h0.75M425.5 249.7h0.75M414.3 247.3h0.75M421.1 250.4h0.75M403.4 251.3h0.75M409.6 251.3h0.75M400.3 248.1h0.75M424.1 250.9h0.75M410.6 250.4h0.75M422.3 246.1h0.75M416.9 248.3h0.75M395.6 247.3h0.75M421.2 248.5h0.75M413.3 247.1h0.75M418.4 246.8h0.75M418.6 250.0h0.75M422.6 251.1h0.75M413.6 246.2h0.75M420.5 245.8h0.75M406.6 246.5h0.75M424.4 243.0h0.75M419.2 245.8h0.75M408.9 249.0h0.75M403.6 246.8h0.75M416.6 249.7h0.75M399.8 250.7h0.75M400.0 251.0h0.75M397.8 246.6h0.75M398.4 247.4h0.75M416.2 248.8h0.75M404.2 245.6h0.75M407.1 247.2h0.75M403.6 247.7h0.75M396.3 251.6h0.75M409.7 253.3h0.75M425.2 250.1h0.75M424.7 253.8h0.75M413.7 248.5h0.75M421.3 251.4h0.75M413.2 247.8h0.75M406.4 246.7h0.75M412.2 250.4h0.75M401.2 244.3h0.75M423.6 244.8h0.75M409.8 249.4h0.75M420.8 248.3h0.75M424.6 247.7h0.75M409.0 250.8h0.75M401.8 249.7h0.75M422.4 249.2h0.75M410.6 248.1h0.75M408.5 248.6h0.75M422.0 249.4h0.75M424.8 248.5h0.75M425.3 251.2h0.75M420.4 250.5h0.75M398.9 245.4h0.75M418.9 253.5h0.75M398.3 248.2h0.75M400.3 252.9h0.75M395.3 249.3h0.75M416.4 251.1h0.75M394.3 250.7h0.75M422.7 248.8h0.75M404.4 247.3h0.75M413.0 245.2h0.75M404.3 245.6h0.75M424.1 251.6h0.75M404.1 250.1h0.75M417.1 247.7h0.75M411.0 247.4h0.75M409.7 249.1h0.75M398.5 247.3h0.75M400.9 248.3h0.75M396.0 248.5h0.75M408.2 249.2h0.75M395.1 246.8h0.75M399.7 250.7h0.75M417.0 253.6h0.75M415.0 248.6h0.75M410.8 247.0h0.75M404.3 249.9h0.75M410.1 248.6h0.75M408.4 248.4h0.75M419.0 247.3h0.75M398.6 249.0h0.75M409.9 249.3h0.75M394.8 243.3h0.75M410.2 249.9h0.75M400.9 250.1h0.75M412.2 249.7h0.75M401.6 244.1h0.75M414.9 248.1h0.75M419.0 247.9h0.75M402.4 246.0h0.75M394.2 249.3h0.75M425.9 249.9h0.75M412.5 250.1h0.75M401.4 251.0h0.75M422.8 250.0h0.75M417.6 247.7h0.75M395.8 246.3h0.75M416.5 247.1h0.75M424.4 249.2h0.75M410.8 249.0h0.75M407.8 250.5h0.75M401.8 249.0h0.75M406.5 247.3h0.75M404.5 250.8h0.75M413.3 251.6h0.75M408.6 249.2h0.75M411.3 247.9h0.75M411.2 241.4h0.75M421.2 246.3h0.75M408.4 245.4h0.75M398.2 250.9h0.75M397.3 249.7h0.75M413.2 249.6h0.75M413.0 249.7h0.75M394.6 250.0h0.75M419.1 246.8h0.75M423.2 246.8h0.75M399.9 249.2h0.75M425.1 252.8h0.75M422.3 250.6h0.75M413.7 250.5h0.75M417.8 249.3h0.75M419.1 246.6h0.75M423.9 246.6h0.75M410.0 246.3h0.75M408.4 248.0h0.75M394.4 248.0h0.75M424.8 247.6h0.75M420.6 244.7h0.75M399.3 248.9h0.75M409.5 250.2h0.75M409.4 247.2h0.75M400.9 245.0h0.75M410.4 251.2h0.75M396.0 247.0h0.75M418.4 249.2h0.75M409.8 248.8h0.75M410.5 248.0h0.75M424.2 248.2h0.75M416.7 247.6h0.75M410.9 253.3h0.75M418.1 254.2h0.75M409.1 248.0h0.75M394.6 246.6h0.75M396.0 250.3h0.75M414.1 245.9h0.75M421.7 248.7h0.75M416.2 247.4h0.75M418.0 247.5h0.75M421.2 251.2h0.75M411.3 249.7h0.75M424.4 247.2h0.75M398.0 248.9h0.75M424.3 247.4h0.75M394.6 250.0h0.75M413.8 248.9h0.75M424.1 250.5h0.75M401.8 249.2h0.75M419.0 246.9h0.75M394.3 249.5h0.75M425.3 248.2h0.75M424.3 249.1h0.75M424.5 250.5h0.75M418.6 247.1h0.75M410.1 249.9h0.75M398.4 250.8h0.75M396.1 246.2h0.75M413.1 246.4h0.75M420.6 248.9h0.75M416.9 244.3h0.75M414.6 251.4h0.75M405.5 250.8h0.75M396.6 249.6h0.75M415.0 250.7h0.75M402.4 242.8h0.75M404.3 247.9h0.75M408.4 251.4h0.75M419.4 253.0h0.75M420.6 253.3h0.75M410.4 249.5h0.75M426.0 248.9h0.75M399.7 251.7h0.75M418.1 242.9h0.75M394.1 248.6h0.75M403.0 250.5h0.75M402.0 250.5h0.75M414.1 245.5h0.75M420.3 247.7h0.75M396.1 249.5h0.75M413.9 250.2h0.75M404.0 250.2h0.75M418.1 247.4h0.75M418.8 249.5h0.75M416.4 248.4h0.75M416.8 250.6h0.75M418.9 246.6h0.75M420.1 247.1h0.75M417.6 246.0h0.75M418.0 250.1h0.75M422.1 249.7h0.75M415.2 248.5h0.75M418.8 248.1h0.75M417.7 245.5h0.75M427.3 247.1h0.75M419.6 248.9h0.75M414.2 247.3h0.75M420.6 248.5h0.75M421.3 246.5h0.75M418.6 246.6h0.75M419.1 247.2h0.75M416.8 249.7h0.75M423.9 248.4h0.75M420.1 246.6h0.75M416.9 247.7h0.75M420.8 252.0h0.75M410.9 250.9h0.75M425.1 249.7h0.75M417.6 250.0h0.75M412.6 245.9h0.75M419.7 247.4h0.75M422.2 246.8h0.75M410.9 248.2h0.75M421.6 245.6h0.75M419.4 248.7h0.75M420.9 250.2h0.75M420.2 247.2h0.75M413.3 249.8h0.75M417.8 250.4h0.75M424.3 247.3h0.75M416.6 251.1h0.75M419.9 246.3h0.75M418.2 247.8h0.75M424.4 246.0h0.75M416.1 250.2h0.75M422.8 249.0h0.75M416.8 246.7h0.75M407.7 249.9h0.75M420.3 248.7h0.75M413.4 245.0h0.75M417.2 247.7h0.75M424.3 253.2h0.75M413.0 247.0h0.75M422.7 250.5h0.75M422.5 248.3h0.75M416.8 247.7h0.75M413.0 247.2h0.75M415.6 250.8h0.75M425.2 249.1h0.75M412.2 248.2h0.75M416.7 251.0h0.75M414.7 249.4h0.75M418.8 250.2h0.75M416.5 251.8h0.75M420.5 248.2h0.75M418.1 247.6h0.75M423.8 250.2h0.75M417.9 254.2h0.75M421.1 250.4h0.75M426.0 250.8h0.75M421.1 246.6h0.75M415.0 250.1h0.75M418.6 248.0h0.75M424.5 250.0h0.75M425.4 248.0h0.75M414.7 248.4h0.75M422.9 246.4h0.75M418.9 249.8h0.75M420.0 249.5h0.75M408.1 249.6h0.75M423.3 246.7h0.75M420.5 248.5h0.75M418.9 255.2h0.75M417.7 246.1h0.75M415.6 247.2h0.75M419.3 249.4h0.75M416.9 253.4h0.75M421.1 248.6h0.75M417.4 249.0h0.75M415.2 248.2h0.75M416.7 250.1h0.75M415.6 246.3h0.75M417.2 250.8h0.75M420.8 247.7h0.75M418.6 247.0h0.75M415.4 249.2h0.75M416.0 246.8h0.75M417.5 248.7h0.75M421.4 247.6h0.75M419.9 249.4h0.75M426.7 248.8h0.75M409.3 249.2h0.75M414.4 249.3h0.75M419.6 246.5h0.75M408.7 249.6h0.75M415.4 250.7h0.75M412.7 246.0h0.75M412.5 249.1h0.75M425.5 249.0h0.75M413.6 249.7h0.75M412.6 248.7h0.75M425.6 248.4h0.75M412.6 248.5h0.75M420.5 245.5h0.75M421.1 248.7h0.75M408.9 249.6h0.75M414.3 247.6h0.75M424.1 249.8h0.75M416.5 250.0h0.75M427.9 251.6h0.75M416.6 252.2h0.75M417.8 246.3h0.75M414.7 244.7h0.75M416.3 248.3h0.75M426.8 247.9h0.75M414.6 249.4h0.75M419.3 250.9h0.75M414.2 250.0h0.75M414.4 247.6h0.75M423.2 247.4h0.75M421.1 247.7h0.75M423.2 249.2h0.75M421.1 251.9h0.75M413.8 250.1h0.75M419.9 246.5h0.75M418.7 249.2h0.75M413.9 247.6h0.75M424.6 247.9h0.75M412.9 253.4h0.75M426.5 247.6h0.75M420.8 248.0h0.75M420.7 250.0h0.75M428.8 250.4h0.75M428.0 249.0h0.75M415.8 249.2h0.75M418.1 243.4h0.75M425.1 247.2h0.75M427.1 245.8h0.75M417.1 252.0h0.75M415.7 248.8h0.75M425.8 246.6h0.75M423.3 249.1h0.75M415.6 248.7h0.75M421.5 252.3h0.75M429.6 249.2h0.75M416.8 249.3h0.75M420.2 246.5h0.75M413.1 247.0h0.75M418.6 248.4h0.75M422.3 248.0h0.75M418.6 251.0h0.75M413.5 245.0h0.75M425.2 250.6h0.75M415.4 251.1h0.75M420.4 247.2h0.75M426.4 245.4h0.75M415.5 248.8h0.75M422.4 248.8h0.75M423.2 246.4h0.75M417.9 251.4h0.75M417.6 247.5h0.75M416.4 248.6h0.75M417.9 243.9h0.75M411.1 251.7h0.75M424.8 248.4h0.75M423.1 247.1h0.75M421.8 250.6h0.75M416.9 248.1h0.75M420.3 250.8h0.75M416.9 250.0h0.75M418.8 247.4h0.75M424.0 251.5h0.75M413.5 249.0h0.75M417.5 246.2h0.75M419.5 248.5h0.75M416.3 245.9h0.75M422.4 250.8h0.75M419.3 244.4h0.75M421.9 251.9h0.75M418.7 245.3h0.75M413.4 248.4h0.75M417.2 248.0h0.75M418.9 250.0h0.75M425.9 249.5h0.75M418.0 247.5h0.75M412.0 251.5h0.75M417.4 248.3h0.75M412.8 249.4h0.75M418.6 247.0h0.75M421.0 253.3h0.75M417.8 248.2h0.75M421.6 247.2h0.75M417.6 251.6h0.75M417.9 248.9h0.75M414.9 246.0h0.75M417.7 248.3h0.75M413.7 247.5h0.75M420.5 249.0h0.75M426.5 247.1h0.75M413.7 249.4h0.75M417.3 249.8h0.75M415.7 244.9h0.75M427.2 247.6h0.75M421.7 251.7h0.75M416.9 245.8h0.75M420.1 249.9h0.75M421.3 245.2h0.75M417.6 253.0h0.75M413.4 251.2h0.75M412.4 247.3h0.75M413.4 250.8h0.75M423.4 249.7h0.75M415.2 249.6h0.75M421.1 251.8h0.75M413.4 248.3h0.75M421.7 248.3h0.75M414.5 247.8h0.75M428.5 250.3h0.75M424.0 249.5h0.75M418.5 247.9h0.75M418.0 248.0h0.75M417.8 246.1h0.75" stroke="#000" stroke-width="0.75" fill="none" opacity="0.72" filter="url(#bl)"/>
<path d="M423.6 239.5h0.75M423.6 243.1h0.75M424.8 236.0h0.75M423.4 244.0h0.75M422.7 233.1h0.75M424.4 238.1h0.75M426.1 231.2h0.75M423.0 225.8h0.75M424.9 228.2h0.75M422.9 234.5h0.75M426.8 225.4h0.75M424.3 241.8h0.75M422.9 240.1h0.75M422.4 234.5h0.75M421.5 241.6h0.75M424.2 242.2h0.75M425.9 244.0h0.75M424.5 231.7h0.75M426.2 234.2h0.75M424.7 241.9h0.75M425.8 224.7h0.75M421.1 225.4h0.75M425.6 246.0h0.75M425.6 234.6h0.75M424.0 237.8h0.75M426.4 222.8h0.75M423.4 236.3h0.75M424.5 232.1h0.75M427.5 235.0h0.75M424.5 239.3h0.75M424.6 222.1h0.75M423.0 231.4h0.75M426.6 235.4h0.75M424.5 224.4h0.75M424.1 238.4h0.75M427.9 225.7h0.75M426.4 221.5h0.75M426.0 237.5h0.75M422.1 220.7h0.75M423.2 245.6h0.75M423.8 227.0h0.75M422.9 220.6h0.75M423.4 237.7h0.75M423.5 227.2h0.75M424.3 241.2h0.75M421.7 233.5h0.75M423.4 222.4h0.75M422.9 241.0h0.75M425.8 241.4h0.75M421.9 226.6h0.75M426.1 234.3h0.75M423.3 238.3h0.75M422.0 237.7h0.75M424.2 238.7h0.75M427.4 241.4h0.75M424.0 227.5h0.75M425.9 241.5h0.75M422.1 242.3h0.75M424.0 228.3h0.75M422.5 226.7h0.75M424.0 232.3h0.75M423.7 234.1h0.75M423.9 227.9h0.75M425.0 241.6h0.75M426.6 237.2h0.75M424.8 229.4h0.75M423.4 224.4h0.75M426.4 222.0h0.75M425.3 232.2h0.75M421.4 226.9h0.75M425.4 242.5h0.75M423.7 240.8h0.75M422.0 232.2h0.75M422.6 222.8h0.75M425.5 227.4h0.75M423.8 237.2h0.75M426.1 230.5h0.75M423.8 232.4h0.75M426.7 236.1h0.75M426.3 238.4h0.75M424.7 226.2h0.75M423.6 237.5h0.75M425.2 232.4h0.75M426.1 226.4h0.75M425.3 242.2h0.75M425.8 234.6h0.75M426.1 234.8h0.75M423.9 244.4h0.75M425.4 239.5h0.75M425.2 228.4h0.75M425.0 230.2h0.75M426.7 237.7h0.75M426.7 226.7h0.75M423.5 224.7h0.75M424.9 225.0h0.75M423.0 226.9h0.75M426.9 238.9h0.75M424.9 240.3h0.75M426.9 222.7h0.75M426.6 245.7h0.75M423.9 236.1h0.75M422.8 232.6h0.75M423.1 243.8h0.75M422.6 239.1h0.75M422.3 237.1h0.75M426.0 225.2h0.75M423.5 222.9h0.75M422.4 233.2h0.75M421.4 237.6h0.75M424.0 243.1h0.75M425.9 242.1h0.75M425.2 244.2h0.75M426.5 232.2h0.75M424.1 233.1h0.75M423.2 238.4h0.75M425.2 229.3h0.75M423.9 245.8h0.75M424.0 245.2h0.75M423.9 233.3h0.75M426.9 239.5h0.75M425.3 231.2h0.75M427.1 235.2h0.75M424.0 232.4h0.75M423.9 238.2h0.75M425.3 232.9h0.75M425.7 223.6h0.75M424.5 231.2h0.75M423.1 233.7h0.75M426.8 239.7h0.75M422.9 242.9h0.75M422.2 237.6h0.75M424.6 244.4h0.75M423.3 237.8h0.75M422.3 224.9h0.75M426.3 240.9h0.75M424.0 242.5h0.75M423.5 238.3h0.75M421.5 231.3h0.75M425.1 243.2h0.75M424.9 237.2h0.75M424.5 231.9h0.75M422.9 236.8h0.75M424.2 245.7h0.75M421.6 229.3h0.75M424.9 231.1h0.75M421.3 227.5h0.75M427.0 228.0h0.75M421.7 222.9h0.75M424.3 226.9h0.75M426.3 230.1h0.75M423.7 228.1h0.75M422.6 222.6h0.75M426.2 232.3h0.75M424.6 243.6h0.75M422.6 232.4h0.75M425.9 240.5h0.75M420.4 233.5h0.75M424.7 228.3h0.75M424.6 236.3h0.75M423.8 235.4h0.75M423.8 237.6h0.75M423.6 227.4h0.75M422.3 219.9h0.75M425.5 236.1h0.75M425.7 233.1h0.75M423.6 223.2h0.75M423.0 234.5h0.75M425.0 222.4h0.75M423.0 243.0h0.75M425.3 224.0h0.75M425.7 241.4h0.75M421.0 245.6h0.75M424.4 227.0h0.75M423.7 220.6h0.75M422.7 243.2h0.75M424.6 244.7h0.75M423.8 242.4h0.75M422.4 220.1h0.75M425.8 242.0h0.75M423.0 237.0h0.75M422.8 238.9h0.75M423.8 244.4h0.75M423.1 229.3h0.75M424.1 226.3h0.75M425.0 233.4h0.75M423.0 229.2h0.75M427.5 236.7h0.75M425.9 238.4h0.75M422.6 231.1h0.75M427.9 229.1h0.75M426.6 236.2h0.75M425.1 236.0h0.75M425.5 230.8h0.75M425.6 218.8h0.75M423.5 237.0h0.75M424.2 224.2h0.75M424.7 228.2h0.75M423.0 228.0h0.75M424.0 242.5h0.75M422.2 226.8h0.75M425.2 241.6h0.75M423.7 241.2h0.75M424.0 220.4h0.75M423.2 230.7h0.75M425.5 237.0h0.75M424.1 230.2h0.75M428.3 224.5h0.75M426.7 221.1h0.75M424.9 223.9h0.75M423.4 222.0h0.75M427.2 245.4h0.75M424.9 222.8h0.75M422.1 234.6h0.75M422.3 231.8h0.75M423.3 238.4h0.75M426.6 240.8h0.75M421.7 229.0h0.75M425.2 222.3h0.75M425.2 245.9h0.75M424.6 227.9h0.75M428.2 227.3h0.75M422.9 242.8h0.75M426.9 226.2h0.75M423.0 230.9h0.75M423.2 243.6h0.75M422.0 230.7h0.75M424.2 242.0h0.75M423.8 226.5h0.75M424.2 229.3h0.75M424.0 231.4h0.75M422.4 245.7h0.75M424.5 241.7h0.75M423.9 223.7h0.75M424.7 240.8h0.75M423.9 238.7h0.75M422.4 223.8h0.75M422.5 227.3h0.75M424.6 231.3h0.75M425.8 236.1h0.75M425.8 233.2h0.75M425.0 236.0h0.75M421.3 230.7h0.75M423.3 243.9h0.75M425.4 219.8h0.75M423.5 236.3h0.75M425.0 245.0h0.75M423.5 232.5h0.75M422.5 228.8h0.75M421.8 227.3h0.75M424.3 223.9h0.75M424.4 233.8h0.75M424.7 237.1h0.75M425.1 231.2h0.75M426.2 221.9h0.75M424.7 226.2h0.75M420.7 234.5h0.75M422.5 227.0h0.75M425.1 232.7h0.75M425.0 222.7h0.75M425.3 235.3h0.75M423.1 235.9h0.75M423.7 230.1h0.75M425.7 221.8h0.75M423.7 226.6h0.75M425.5 244.7h0.75M422.0 231.4h0.75M424.5 220.4h0.75M422.0 243.1h0.75M423.7 241.1h0.75M422.6 237.7h0.75" stroke="#000" stroke-width="0.75" fill="none" opacity="0.62" filter="url(#bl)"/>
<path d="M419.6 233.3h0.75M413.3 236.2h0.75M415.7 234.4h0.75M419.3 230.9h0.75M401.1 232.6h0.75M412.1 223.5h0.75M416.1 235.7h0.75M410.0 241.6h0.75M407.4 231.8h0.75M410.1 238.7h0.75M404.8 237.0h0.75M408.5 224.9h0.75M415.2 241.8h0.75M396.4 233.2h0.75M405.0 230.1h0.75M409.9 243.1h0.75M411.7 224.4h0.75M416.9 222.5h0.75M410.3 232.2h0.75M419.0 233.1h0.75M402.9 239.8h0.75M411.6 232.9h0.75M407.1 242.4h0.75M409.6 231.1h0.75M409.1 234.8h0.75M399.7 224.2h0.75M417.8 237.4h0.75M414.3 237.2h0.75M409.1 230.4h0.75M406.4 237.9h0.75M415.8 232.6h0.75M399.8 238.7h0.75M411.7 235.5h0.75M410.7 232.4h0.75M410.6 233.3h0.75M405.8 225.2h0.75M415.7 244.0h0.75M406.8 238.5h0.75M413.5 234.0h0.75M415.2 225.0h0.75M404.1 244.1h0.75M411.1 231.7h0.75M404.4 234.3h0.75M405.5 226.2h0.75M408.8 231.5h0.75M411.3 232.6h0.75M402.0 235.5h0.75M408.8 229.4h0.75M409.7 236.7h0.75M406.9 225.8h0.75M407.5 228.8h0.75M409.0 234.8h0.75M419.2 220.0h0.75M403.9 233.0h0.75M407.7 235.7h0.75M398.3 220.2h0.75M400.3 234.0h0.75M414.3 233.8h0.75M397.2 234.7h0.75M409.1 229.5h0.75M402.8 240.5h0.75M412.5 238.3h0.75M407.5 241.4h0.75M403.5 233.6h0.75M402.1 239.3h0.75M403.6 237.1h0.75M403.7 234.2h0.75M420.5 224.5h0.75M411.7 238.9h0.75M404.1 225.7h0.75M406.2 228.4h0.75M401.5 239.3h0.75M414.8 235.4h0.75M415.7 227.4h0.75M411.9 239.7h0.75M413.6 228.1h0.75M400.9 239.1h0.75M400.6 226.4h0.75M417.1 241.6h0.75M407.1 220.3h0.75M419.9 235.1h0.75M400.8 231.2h0.75M413.5 229.6h0.75M394.4 224.4h0.75M419.4 238.7h0.75M408.0 234.0h0.75M404.7 241.4h0.75M407.3 238.2h0.75M414.3 227.6h0.75M410.5 234.9h0.75M406.6 228.9h0.75M420.9 234.3h0.75M405.2 236.9h0.75M404.3 227.7h0.75M413.2 236.7h0.75M404.2 226.3h0.75M408.7 223.3h0.75M408.5 239.1h0.75M403.5 234.7h0.75M402.6 231.0h0.75M413.6 229.7h0.75M420.8 234.5h0.75M417.2 239.5h0.75M415.3 230.0h0.75M414.2 237.2h0.75M410.0 233.3h0.75M399.4 236.6h0.75M407.3 229.5h0.75M417.0 224.5h0.75M408.1 232.3h0.75" stroke="#000" stroke-width="0.75" fill="none" opacity="0.4" filter="url(#bl)"/>
<rect x="466" y="245" width="33" height="7.6" fill="#000" opacity="0.25" filter="url(#bl)"/>
<ellipse cx="489" cy="248.7" rx="8" ry="3.8" fill="url(#g)" opacity="0.5"/>
<path d="M482.3 250.8h0.75M475.7 244.6h0.75M492.4 248.4h0.75M489.1 247.8h0.75M494.8 246.0h0.75M467.7 249.7h0.75M468.9 245.9h0.75M471.6 249.3h0.75M478.9 249.1h0.75M483.6 246.3h0.75M488.7 249.9h0.75M494.7 246.2h0.75M470.9 251.6h0.75M494.5 248.1h0.75M480.6 246.5h0.75M478.6 250.0h0.75M498.6 251.6h0.75M488.3 250.7h0.75M493.8 251.7h0.75M491.5 248.0h0.75M483.1 248.1h0.75M468.3 254.0h0.75M469.1 250.2h0.75M489.1 244.5h0.75M492.6 250.4h0.75M470.1 246.6h0.75M495.6 248.1h0.75M473.9 246.7h0.75M474.1 250.8h0.75M480.6 248.8h0.75M487.6 247.5h0.75M472.3 246.9h0.75M497.0 247.1h0.75M495.3 252.4h0.75M498.1 247.6h0.75M477.7 250.3h0.75M468.2 249.3h0.75M485.8 246.1h0.75M494.9 246.8h0.75M491.2 246.0h0.75M491.7 247.4h0.75M485.7 249.4h0.75M472.3 248.6h0.75M491.5 250.4h0.75M467.0 245.1h0.75M499.0 249.6h0.75M494.6 249.9h0.75M485.6 250.6h0.75M491.1 245.8h0.75M489.1 244.1h0.75M478.9 250.2h0.75M481.9 248.9h0.75M474.9 251.8h0.75M497.7 251.7h0.75M476.5 252.4h0.75M487.5 249.7h0.75M486.5 248.8h0.75M486.5 249.2h0.75M488.4 245.2h0.75M488.3 250.7h0.75M480.4 246.8h0.75M468.0 248.9h0.75M498.3 250.6h0.75M493.5 249.3h0.75M498.7 246.3h0.75M479.0 252.3h0.75M481.6 248.8h0.75M489.9 250.0h0.75M492.5 249.9h0.75M481.5 251.1h0.75M473.2 249.6h0.75M484.1 252.2h0.75M494.8 249.0h0.75M480.6 251.1h0.75M472.1 251.0h0.75M472.8 247.4h0.75M473.7 249.8h0.75M473.8 249.0h0.75M469.0 248.5h0.75M476.1 250.6h0.75M479.1 244.3h0.75M470.7 247.0h0.75M473.2 249.8h0.75M495.3 249.9h0.75M492.3 247.8h0.75M475.3 251.0h0.75M478.2 247.1h0.75M492.0 248.0h0.75M477.5 248.9h0.75M484.7 248.9h0.75M474.0 244.1h0.75M483.5 250.2h0.75M486.3 248.2h0.75M499.1 252.4h0.75M468.1 248.9h0.75M475.8 248.5h0.75M465.7 246.9h0.75M473.5 246.6h0.75M488.0 250.8h0.75M480.5 248.9h0.75M486.4 250.7h0.75M478.4 248.4h0.75M489.3 248.1h0.75M495.7 249.2h0.75M487.0 251.0h0.75M489.6 244.7h0.75M483.8 248.8h0.75M482.6 248.3h0.75M475.9 247.8h0.75M468.5 247.5h0.75M486.7 248.8h0.75M471.1 249.6h0.75M465.9 251.7h0.75M491.1 248.8h0.75M484.3 245.2h0.75M477.8 252.2h0.75M483.2 249.4h0.75M468.6 248.9h0.75M484.4 246.9h0.75M485.9 250.2h0.75M492.3 251.6h0.75M485.3 248.1h0.75M481.3 249.0h0.75M493.3 250.0h0.75M489.4 253.9h0.75M493.7 251.1h0.75M472.5 249.7h0.75M468.0 246.6h0.75M495.7 246.7h0.75M485.1 246.5h0.75M486.5 248.7h0.75M478.2 249.3h0.75M496.4 252.8h0.75M477.4 250.8h0.75M489.2 245.9h0.75M471.7 253.3h0.75M471.5 250.6h0.75M483.8 247.3h0.75M478.3 247.5h0.75M476.1 247.8h0.75M483.9 249.1h0.75M473.1 246.1h0.75M482.9 250.8h0.75M475.3 248.6h0.75M492.8 252.6h0.75M496.2 246.7h0.75M467.8 250.2h0.75M469.7 249.4h0.75M469.4 248.6h0.75M494.2 245.8h0.75M482.9 248.8h0.75M465.7 249.8h0.75M478.1 250.0h0.75M476.7 246.8h0.75M482.3 247.5h0.75M476.5 251.3h0.75M483.4 249.8h0.75M480.5 246.1h0.75M468.1 251.5h0.75M471.8 246.5h0.75M487.1 250.9h0.75M482.2 247.9h0.75M497.9 253.6h0.75M480.8 249.7h0.75M473.1 250.4h0.75M492.1 247.6h0.75M475.4 250.2h0.75M477.0 250.8h0.75M473.0 245.2h0.75M468.4 244.3h0.75M494.9 246.3h0.75M473.5 246.4h0.75M499.0 248.7h0.75M493.6 249.1h0.75M470.5 250.3h0.75M482.6 248.6h0.75M466.8 248.5h0.75M472.6 247.2h0.75M472.6 246.8h0.75M482.7 252.4h0.75M466.9 253.6h0.75M486.6 249.5h0.75M472.4 250.1h0.75M484.4 255.1h0.75M492.1 248.8h0.75M485.8 249.9h0.75M483.3 248.9h0.75M466.3 253.9h0.75M481.6 246.0h0.75M498.3 251.7h0.75M477.6 249.4h0.75M488.0 248.1h0.75M494.4 251.3h0.75M478.8 250.1h0.75M472.5 249.4h0.75M475.8 248.8h0.75M476.4 246.7h0.75M490.0 246.6h0.75M481.3 254.1h0.75M473.0 251.6h0.75M492.8 249.1h0.75M465.9 248.8h0.75M494.4 248.7h0.75M471.6 247.4h0.75M487.8 248.5h0.75M471.2 247.5h0.75M471.8 247.4h0.75M479.8 248.3h0.75M491.2 247.9h0.75M465.9 248.5h0.75M477.1 245.4h0.75M468.4 246.3h0.75M485.6 250.6h0.75M480.4 254.5h0.75M479.9 247.9h0.75M490.5 249.5h0.75M478.7 251.2h0.75M491.6 246.8h0.75M465.5 251.6h0.75M493.2 251.0h0.75M490.8 247.1h0.75M469.8 248.9h0.75M482.9 247.7h0.75M484.1 248.8h0.75M492.3 249.0h0.75M469.8 250.0h0.75M497.8 254.1h0.75M483.7 248.6h0.75M483.4 246.9h0.75M489.7 246.1h0.75M491.5 251.5h0.75M468.0 246.4h0.75M476.8 252.6h0.75M468.6 246.9h0.75M491.5 247.1h0.75M472.0 249.9h0.75M493.1 246.0h0.75M483.2 247.4h0.75M482.4 244.8h0.75M476.6 245.6h0.75M471.3 249.5h0.75M472.1 247.8h0.75M492.8 249.0h0.75M488.7 252.9h0.75M495.8 249.4h0.75M471.7 247.7h0.75M470.5 246.2h0.75M472.6 251.3h0.75M498.2 245.6h0.75M491.5 246.8h0.75M476.8 245.5h0.75M470.9 247.4h0.75M485.0 249.8h0.75M476.2 246.0h0.75M469.1 251.7h0.75M498.8 251.3h0.75M495.5 249.4h0.75M466.4 246.7h0.75M491.9 245.7h0.75M466.6 247.5h0.75M488.8 247.9h0.75M466.5 251.2h0.75M487.0 249.9h0.75M491.6 254.1h0.75M467.3 250.1h0.75M493.6 254.3h0.75M492.1 249.1h0.75M490.6 244.8h0.75M493.5 249.3h0.75M481.5 248.6h0.75M485.6 249.7h0.75M473.1 251.1h0.75M466.4 247.3h0.75M465.6 251.3h0.75M487.7 253.5h0.75M495.0 251.1h0.75M486.5 247.8h0.75M467.5 247.0h0.75M472.7 250.0h0.75M487.5 251.9h0.75M465.5 250.1h0.75M486.0 248.2h0.75M476.3 249.1h0.75M496.6 247.7h0.75M488.0 248.1h0.75M480.3 248.7h0.75M467.2 244.6h0.75M491.1 246.2h0.75M484.6 247.5h0.75M471.7 247.4h0.75M469.0 248.6h0.75M467.6 246.8h0.75M480.6 251.7h0.75M469.1 248.0h0.75M499.0 248.2h0.75M499.0 249.0h0.75M480.6 247.6h0.75M478.8 250.2h0.75M473.6 253.1h0.75M473.9 243.0h0.75M485.8 248.0h0.75M469.0 248.3h0.75M475.9 248.7h0.75M468.8 248.9h0.75M486.7 245.4h0.75M482.8 249.3h0.75M484.9 247.5h0.75M489.0 247.5h0.75M484.6 247.9h0.75M472.8 250.3h0.75M470.0 248.5h0.75M483.9 247.6h0.75M488.7 246.8h0.75M469.3 250.5h0.75M489.1 251.5h0.75M485.5 249.6h0.75M470.2 247.8h0.75M471.9 248.4h0.75M477.1 246.5h0.75M475.3 247.7h0.75M488.6 244.9h0.75M483.0 246.5h0.75M472.6 250.9h0.75M497.3 249.0h0.75M474.3 249.1h0.75M478.7 246.7h0.75M491.8 244.9h0.75M486.0 249.1h0.75M483.5 252.0h0.75M478.8 249.2h0.75M489.9 247.9h0.75M478.3 248.4h0.75M466.5 247.8h0.75M496.6 248.2h0.75M486.9 248.8h0.75M479.5 249.3h0.75M470.7 248.0h0.75M493.7 246.5h0.75M498.6 250.6h0.75M493.8 246.6h0.75M496.6 252.1h0.75M467.7 248.8h0.75M485.4 252.6h0.75M477.4 250.2h0.75M485.8 247.9h0.75M469.2 247.0h0.75M468.6 251.5h0.75M483.9 250.1h0.75M473.6 249.4h0.75M490.1 246.1h0.75M496.8 252.5h0.75M471.3 250.4h0.75M485.0 247.9h0.75M478.2 249.2h0.75M468.3 247.5h0.75M480.7 249.6h0.75M489.6 247.1h0.75M476.9 251.0h0.75M495.6 249.5h0.75M484.2 251.7h0.75M473.6 250.2h0.75M477.2 251.7h0.75M498.6 244.5h0.75M479.5 245.7h0.75M472.9 247.3h0.75M481.0 251.9h0.75M481.1 249.6h0.75M471.8 244.7h0.75M494.3 249.8h0.75M478.8 246.7h0.75M492.2 248.8h0.75M473.8 246.7h0.75M481.2 248.2h0.75M479.0 246.9h0.75M483.0 247.7h0.75M475.2 245.4h0.75M477.7 249.1h0.75M492.1 248.8h0.75M477.9 249.7h0.75M474.0 252.5h0.75M470.1 251.7h0.75M481.1 245.5h0.75M469.2 245.2h0.75M491.5 248.6h0.75M492.8 246.8h0.75M493.1 250.9h0.75M492.9 248.8h0.75M476.6 248.6h0.75M484.3 253.1h0.75M483.0 247.2h0.75M473.2 248.7h0.75M478.7 246.7h0.75M490.2 255.9h0.75M484.7 247.8h0.75M468.2 251.2h0.75M490.1 247.4h0.75M468.5 246.7h0.75M475.9 248.7h0.75M495.2 250.1h0.75M476.1 249.3h0.75M474.2 247.2h0.75M488.3 249.2h0.75M498.1 248.4h0.75M477.1 247.0h0.75M476.7 252.2h0.75M480.4 248.1h0.75M465.9 250.0h0.75M496.0 251.2h0.75M476.5 245.7h0.75M470.3 248.2h0.75M499.4 248.7h0.75M494.4 248.6h0.75M474.8 252.4h0.75M494.6 250.3h0.75M472.1 245.7h0.75M496.3 243.5h0.75M475.9 247.3h0.75M473.4 249.3h0.75M479.3 248.9h0.75M475.6 248.2h0.75M486.3 244.0h0.75M473.7 244.2h0.75M486.9 249.7h0.75M492.0 246.4h0.75M492.5 245.6h0.75M473.3 250.8h0.75M481.3 250.7h0.75M475.8 252.3h0.75M486.0 251.1h0.75M485.0 247.5h0.75M469.7 245.3h0.75M486.4 247.6h0.75M498.1 253.2h0.75M468.0 246.0h0.75M493.3 250.1h0.75M467.7 251.7h0.75M471.1 246.9h0.75M472.2 242.7h0.75M476.3 247.7h0.75M498.7 249.2h0.75M475.1 246.2h0.75M480.4 247.6h0.75M493.5 244.6h0.75M480.8 248.6h0.75M490.9 249.9h0.75M493.4 250.5h0.75M492.6 244.5h0.75M492.1 250.8h0.75M490.1 247.5h0.75M470.7 250.4h0.75M493.7 250.2h0.75M486.1 250.3h0.75M465.8 248.6h0.75M487.3 246.8h0.75M479.8 248.7h0.75M495.1 249.7h0.75M476.1 250.4h0.75M497.0 250.2h0.75M467.6 247.8h0.75M473.2 245.1h0.75M494.0 252.1h0.75M489.7 251.8h0.75M467.2 248.9h0.75M488.0 252.2h0.75M481.7 245.4h0.75M477.9 248.1h0.75M466.3 246.6h0.75M484.9 246.5h0.75M467.2 250.8h0.75M499.3 246.9h0.75M491.4 251.0h0.75M499.2 249.2h0.75M494.1 245.0h0.75M484.9 249.9h0.75M496.8 248.7h0.75M467.1 246.9h0.75M497.0 247.9h0.75M495.4 248.5h0.75M480.0 246.5h0.75M465.7 245.4h0.75M468.4 249.3h0.75M491.9 246.8h0.75M496.0 249.0h0.75M495.1 252.1h0.75M475.0 249.5h0.75M498.8 245.8h0.75M486.8 249.3h0.75M466.9 245.5h0.75M471.5 249.7h0.75M474.4 248.6h0.75M491.6 250.8h0.75M472.3 247.8h0.75M470.2 244.4h0.75M476.2 253.3h0.75M469.7 245.7h0.75M476.8 246.1h0.75M498.1 248.0h0.75M490.1 246.3h0.75M479.6 246.4h0.75M467.7 249.4h0.75M481.0 249.4h0.75M484.3 249.0h0.75M484.8 248.7h0.75M469.3 246.0h0.75M482.8 248.9h0.75M475.3 252.2h0.75M483.4 248.9h0.75M485.2 245.6h0.75M472.2 250.2h0.75M484.7 250.4h0.75M486.5 251.3h0.75M481.6 250.1h0.75M473.1 244.8h0.75M467.7 246.9h0.75M495.5 253.7h0.75M482.9 246.4h0.75M479.3 248.8h0.75M474.0 247.2h0.75M472.0 247.4h0.75M481.6 246.9h0.75M468.9 252.1h0.75M470.0 247.3h0.75M482.0 245.2h0.75M493.5 248.6h0.75M473.8 248.5h0.75M470.1 245.4h0.75M476.8 252.5h0.75M483.3 250.2h0.75M489.7 248.4h0.75M468.6 249.4h0.75M482.6 247.2h0.75M483.3 250.1h0.75M470.8 249.9h0.75M471.7 249.6h0.75M491.2 244.1h0.75M474.4 249.5h0.75M486.5 247.0h0.75M467.9 250.3h0.75M497.4 249.0h0.75M477.1 247.9h0.75M470.1 252.2h0.75M466.1 247.0h0.75M477.6 247.0h0.75M485.6 249.0h0.75M470.8 246.3h0.75M476.1 250.2h0.75M476.9 245.6h0.75M499.3 249.7h0.75M470.2 247.4h0.75M485.2 248.2h0.75M493.0 251.8h0.75M494.1 251.3h0.75M475.1 251.1h0.75M471.8 249.3h0.75M490.6 250.1h0.75M465.9 245.1h0.75M485.4 248.9h0.75M468.4 251.0h0.75M493.5 250.2h0.75M481.3 251.2h0.75M486.9 245.6h0.75M491.8 247.8h0.75M474.0 250.4h0.75M480.3 249.1h0.75M474.8 247.4h0.75M468.3 249.8h0.75M469.6 251.5h0.75M492.4 249.3h0.75M496.2 248.0h0.75M495.7 250.4h0.75M490.2 253.6h0.75M499.1 250.6h0.75M490.4 249.5h0.75M471.3 246.6h0.75M493.5 245.8h0.75M499.0 246.6h0.75M499.0 248.9h0.75M482.5 249.3h0.75M484.2 251.3h0.75M492.8 246.4h0.75M486.5 248.1h0.75M499.3 249.5h0.75M465.8 251.3h0.75M467.6 246.9h0.75M483.6 248.4h0.75M480.9 252.7h0.75M472.7 246.4h0.75M487.6 249.7h0.75M473.0 247.4h0.75M477.0 250.1h0.75M487.9 247.6h0.75M483.3 250.1h0.75M497.6 247.2h0.75M494.6 247.0h0.75M481.2 246.8h0.75M495.6 249.9h0.75M477.5 246.9h0.75M475.4 252.9h0.75M471.7 247.9h0.75M485.0 249.1h0.75M471.8 247.8h0.75M466.9 245.4h0.75M477.4 248.3h0.75M489.7 248.6h0.75M474.6 252.8h0.75M467.4 248.3h0.75M488.9 248.1h0.75M474.0 246.7h0.75M485.2 248.9h0.75M469.1 250.3h0.75M486.7 248.0h0.75M467.6 250.2h0.75M468.2 249.5h0.75M496.8 248.8h0.75M475.6 247.4h0.75M490.6 246.8h0.75M469.9 251.7h0.75M491.4 247.6h0.75M471.2 248.7h0.75M476.5 252.1h0.75M492.9 247.6h0.75M498.9 250.7h0.75M466.9 249.7h0.75M479.3 248.3h0.75M492.7 247.0h0.75M490.8 247.2h0.75M498.3 245.4h0.75M487.5 247.2h0.75M473.5 250.8h0.75M498.8 253.4h0.75M474.7 250.4h0.75M468.9 248.8h0.75M470.9 252.8h0.75M466.5 249.1h0.75M470.9 250.8h0.75M468.4 247.4h0.75M471.6 247.6h0.75M485.3 250.3h0.75M498.8 246.8h0.75M480.4 247.7h0.75M486.5 248.0h0.75M465.9 248.7h0.75M477.7 246.8h0.75M476.0 248.2h0.75M472.9 248.3h0.75M467.4 244.2h0.75M475.3 250.5h0.75M470.2 254.4h0.75M475.2 249.3h0.75M485.8 250.7h0.75M492.6 245.7h0.75M480.3 251.8h0.75M498.5 249.8h0.75M481.8 251.9h0.75M487.5 250.7h0.75M476.4 250.6h0.75M492.1 251.4h0.75M484.8 251.0h0.75M471.7 248.4h0.75M470.8 249.1h0.75M478.9 245.9h0.75M466.1 250.4h0.75M499.1 249.6h0.75M469.6 248.3h0.75M466.4 251.2h0.75M477.1 253.3h0.75M490.2 253.5h0.75M475.2 247.9h0.75M498.5 252.5h0.75M474.6 247.4h0.75M469.4 247.7h0.75M496.7 248.9h0.75M486.0 252.1h0.75M486.5 250.3h0.75M486.0 248.1h0.75M475.6 248.5h0.75M466.1 250.4h0.75M471.7 247.1h0.75M497.1 244.1h0.75M468.9 246.4h0.75M482.6 246.6h0.75M483.8 251.1h0.75M483.7 251.2h0.75M489.6 248.5h0.75M495.3 251.4h0.75M487.7 251.8h0.75M474.6 247.4h0.75M468.4 246.7h0.75M466.4 250.5h0.75M477.4 249.9h0.75M492.1 247.1h0.75M484.8 248.3h0.75M485.5 247.3h0.75M475.3 244.0h0.75M487.1 250.6h0.75M483.4 249.9h0.75M479.3 248.4h0.75M488.6 242.5h0.75M471.7 250.9h0.75M468.3 253.1h0.75M493.0 247.4h0.75M494.2 248.2h0.75M499.2 248.8h0.75M466.8 250.9h0.75M482.3 247.2h0.75M488.3 245.9h0.75M498.8 248.3h0.75M485.0 245.4h0.75M496.9 247.7h0.75M471.0 250.4h0.75M497.0 252.7h0.75M483.0 248.0h0.75M487.3 250.6h0.75M474.3 242.1h0.75M476.4 246.7h0.75M468.4 246.0h0.75M478.5 252.0h0.75M473.3 247.9h0.75M487.8 249.2h0.75M480.5 246.8h0.75M487.4 248.1h0.75M469.3 249.3h0.75M494.4 247.1h0.75M470.1 250.6h0.75M497.2 250.4h0.75M487.2 250.0h0.75M479.5 247.4h0.75M489.7 249.8h0.75M472.3 249.5h0.75M482.6 248.3h0.75M480.7 251.2h0.75M478.0 249.9h0.75M470.5 247.4h0.75M476.0 250.0h0.75M478.0 251.6h0.75M486.3 250.2h0.75M498.1 249.3h0.75M495.9 247.3h0.75M476.7 247.1h0.75M483.1 249.3h0.75M497.7 248.3h0.75M478.6 247.0h0.75M469.0 250.6h0.75M492.6 246.6h0.75M471.8 248.8h0.75M469.9 253.4h0.75M496.7 250.4h0.75M471.3 246.3h0.75M481.2 247.7h0.75M491.1 248.5h0.75M486.2 248.6h0.75M496.1 250.1h0.75M492.0 246.7h0.75M475.8 246.6h0.75M479.4 252.5h0.75M466.3 249.3h0.75M484.2 251.2h0.75M489.2 249.1h0.75M484.7 249.6h0.75M494.9 247.4h0.75M466.2 248.6h0.75M473.9 250.6h0.75M479.1 250.1h0.75M473.0 253.4h0.75M472.7 246.2h0.75M468.8 247.8h0.75M489.0 250.4h0.75M469.2 250.6h0.75M493.8 250.1h0.75M490.0 248.2h0.75M472.9 249.8h0.75M474.9 248.4h0.75M481.8 250.9h0.75M485.6 249.9h0.75M480.6 250.2h0.75M488.0 251.2h0.75M486.9 250.6h0.75M476.6 246.4h0.75M495.9 250.1h0.75M488.9 245.4h0.75" stroke="#000" stroke-width="0.75" fill="none" opacity="0.72" filter="url(#bl)"/>
<path d="M498.0 230.3h0.75M498.1 238.1h0.75M498.4 228.3h0.75M498.2 238.1h0.75M498.4 244.6h0.75M497.6 224.8h0.75M496.8 236.6h0.75M497.3 242.0h0.75M498.5 245.4h0.75M498.7 233.1h0.75M496.1 224.2h0.75M496.9 233.9h0.75M498.2 223.6h0.75M498.3 231.9h0.75M496.8 244.6h0.75M496.0 230.9h0.75M498.7 245.6h0.75M497.7 229.0h0.75M496.5 245.2h0.75M497.0 239.6h0.75M496.7 223.5h0.75M497.4 225.8h0.75M498.3 239.8h0.75M497.0 242.8h0.75M496.8 240.6h0.75M496.4 244.1h0.75M496.6 241.2h0.75M497.6 232.1h0.75M496.3 225.5h0.75M498.2 219.8h0.75M495.8 229.6h0.75M495.7 240.1h0.75M498.2 240.7h0.75M497.9 226.9h0.75M498.1 239.9h0.75M499.5 220.7h0.75M498.9 227.5h0.75M498.4 223.9h0.75M497.3 222.7h0.75M497.4 221.8h0.75M497.3 236.0h0.75M495.9 243.1h0.75M499.7 234.0h0.75M498.5 244.6h0.75M498.6 220.9h0.75M497.4 236.6h0.75M498.5 222.3h0.75M495.6 229.9h0.75M496.8 221.7h0.75M499.5 237.3h0.75M497.2 223.4h0.75M496.9 233.4h0.75M497.5 241.8h0.75M498.0 226.2h0.75M496.5 244.8h0.75M497.1 236.7h0.75M495.7 222.7h0.75M496.8 231.9h0.75M498.3 223.4h0.75M499.3 222.4h0.75M497.9 225.0h0.75M498.7 228.4h0.75M496.9 243.8h0.75M497.5 238.4h0.75M497.6 227.9h0.75M496.6 245.2h0.75M497.1 230.9h0.75M498.0 237.0h0.75M498.4 220.7h0.75M495.3 233.5h0.75M496.9 236.9h0.75M499.5 242.1h0.75M496.7 235.4h0.75M495.7 237.5h0.75M496.3 223.9h0.75M494.9 239.1h0.75M498.3 230.5h0.75M496.8 223.0h0.75M499.2 223.7h0.75M497.1 229.3h0.75" stroke="#000" stroke-width="0.75" fill="none" opacity="0.5" filter="url(#bl)"/>
<path d="M473.0 228.7h0.75M483.7 242.2h0.75M470.3 225.2h0.75M492.1 243.6h0.75M471.0 237.0h0.75M469.0 235.2h0.75M487.7 240.9h0.75M478.8 232.1h0.75M468.6 234.1h0.75M481.8 231.6h0.75M486.1 233.2h0.75M490.3 230.5h0.75M479.1 239.4h0.75M477.1 238.9h0.75M490.3 226.9h0.75M477.2 225.7h0.75M486.3 239.6h0.75M482.7 233.7h0.75M479.2 226.6h0.75M486.7 217.8h0.75M486.0 236.4h0.75M489.1 226.8h0.75M486.0 234.7h0.75M488.0 235.6h0.75M481.2 230.2h0.75M481.9 226.5h0.75M474.5 225.0h0.75M485.7 220.1h0.75M491.4 227.6h0.75M490.5 232.2h0.75M478.5 233.2h0.75M483.6 229.6h0.75M474.6 239.5h0.75M493.7 238.7h0.75M484.5 231.8h0.75M492.8 235.7h0.75M493.1 225.4h0.75M473.3 244.0h0.75M492.6 241.1h0.75M486.9 237.9h0.75M476.5 242.0h0.75M484.0 230.9h0.75M483.4 235.9h0.75M481.7 241.5h0.75M491.5 232.2h0.75M482.1 241.3h0.75M476.8 222.9h0.75M477.1 233.9h0.75M467.6 233.4h0.75M484.9 231.8h0.75M480.3 235.6h0.75M483.6 233.6h0.75M486.8 225.1h0.75M485.1 233.5h0.75M477.4 231.0h0.75M477.5 229.2h0.75M484.0 234.2h0.75M490.9 236.8h0.75M485.9 237.1h0.75M477.8 230.4h0.75M495.3 240.7h0.75M473.5 236.9h0.75M472.4 240.8h0.75M471.0 239.1h0.75M483.0 231.5h0.75M467.4 231.0h0.75M488.3 232.9h0.75M489.4 235.5h0.75M475.8 234.5h0.75M492.8 240.2h0.75M490.9 236.0h0.75M473.3 228.1h0.75M478.3 236.6h0.75M482.3 230.9h0.75M475.2 231.0h0.75M483.6 238.7h0.75M486.9 229.4h0.75M467.0 242.5h0.75M485.0 229.0h0.75M482.8 237.3h0.75M484.4 236.6h0.75M489.2 226.9h0.75M472.1 233.2h0.75M480.7 235.7h0.75M481.6 237.1h0.75M469.6 235.2h0.75M491.1 226.9h0.75M473.5 229.4h0.75M466.5 222.6h0.75M484.7 231.5h0.75M470.5 240.2h0.75M482.9 232.7h0.75M488.6 228.5h0.75M493.7 234.3h0.75M469.4 241.8h0.75M473.4 229.9h0.75M488.0 219.7h0.75M479.2 232.2h0.75M487.7 231.8h0.75M472.5 231.8h0.75M495.5 242.5h0.75M483.1 223.8h0.75M487.9 226.0h0.75M489.5 237.2h0.75M471.9 230.8h0.75M485.4 217.7h0.75M482.5 222.1h0.75M486.5 233.6h0.75M488.6 234.1h0.75M484.4 241.7h0.75M462.1 248.8h0.75M463.0 246.8h0.75M463.5 249.6h0.75M464.2 249.6h0.75M462.9 247.0h0.75" stroke="#000" stroke-width="0.75" fill="none" opacity="0.4" filter="url(#bl)"/>
<ellipse cx="463.6" cy="251.3" rx="1.6" ry="1.9" fill="url(#g)" opacity="0.9"/>
</svg>
</body></html>
